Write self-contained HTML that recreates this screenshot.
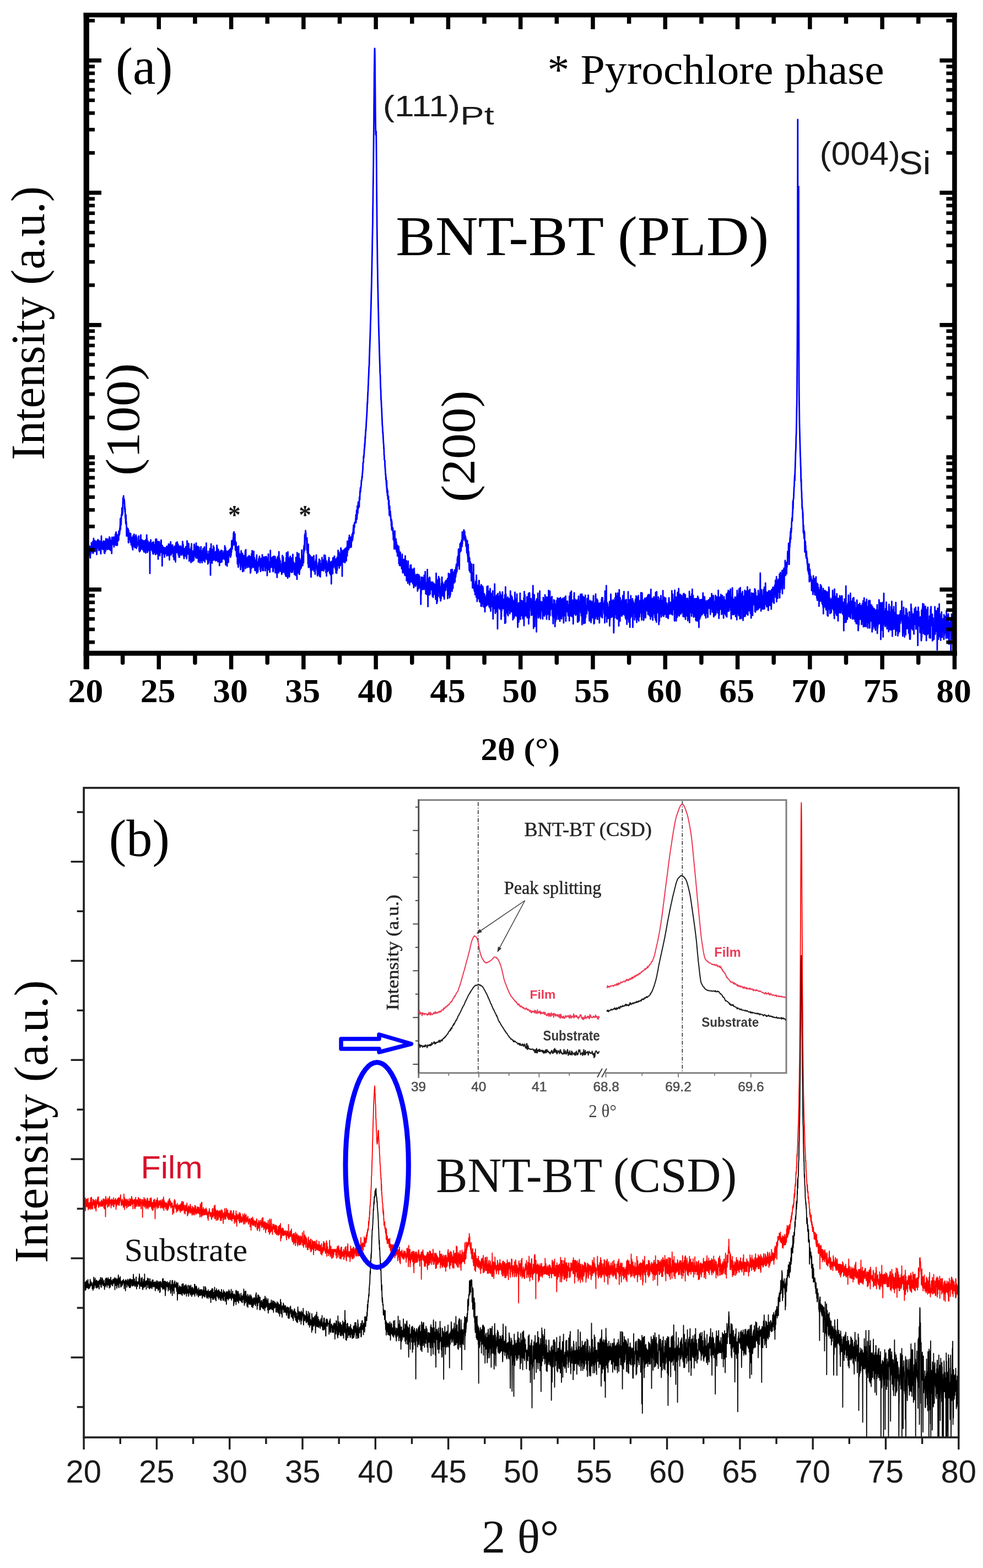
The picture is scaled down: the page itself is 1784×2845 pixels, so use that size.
<!DOCTYPE html>
<html><head><meta charset="utf-8"><title>XRD patterns of BNT-BT films</title>
<style>html,body{margin:0;padding:0;background:#fff;} svg{display:block;}</style></head>
<body><svg width="1784" height="2845" viewBox="0 0 1784 2845">
<rect x="0" y="0" width="1784" height="2845" fill="#fff"/>
<polyline points="157.0,994.3 157.3,992.0 157.5,996.4 157.8,1001.0 158.1,997.6 158.3,1001.7 158.6,993.6 158.8,983.8 159.1,997.7 159.4,998.7 159.6,990.2 159.9,991.2 160.2,993.0 160.4,1000.9 160.7,994.0 160.9,988.4 161.2,1003.9 161.5,997.1 161.7,1008.0 162.0,1003.3 162.3,1007.4 162.5,995.2 162.8,1003.0 163.0,991.3 163.3,992.1 163.6,994.7 163.8,1012.3 164.1,997.2 164.4,993.5 164.6,992.2 164.9,1004.6 165.1,996.6 165.4,1000.3 165.7,999.0 165.9,984.8 166.2,998.9 166.5,993.0 166.7,986.0 167.0,997.1 167.2,993.4 167.5,991.7 167.8,992.0 168.0,1001.7 168.3,991.8 168.6,982.1 168.8,1004.0 169.1,985.8 169.3,991.3 169.6,997.0 169.9,977.0 170.1,986.3 170.4,1001.1 170.7,991.4 170.9,987.6 171.2,993.3 171.4,986.7 171.7,992.3 172.0,986.7 172.2,980.9 172.5,996.7 172.8,990.1 173.0,995.0 173.3,990.5 173.5,1000.4 173.8,995.8 174.1,992.8 174.3,984.6 174.6,982.7 174.9,1001.2 175.1,997.1 175.4,986.3 175.6,1006.0 175.9,994.5 176.2,991.7 176.4,981.5 176.7,985.7 177.0,993.3 177.2,993.5 177.5,992.6 177.7,979.2 178.0,993.8 178.3,992.8 178.5,987.9 178.8,991.4 179.1,996.0 179.3,998.7 179.6,990.4 179.8,993.6 180.1,981.5 180.4,985.3 180.6,990.3 180.9,985.0 181.2,992.5 181.4,982.1 181.7,989.9 181.9,985.5 182.2,999.4 182.5,987.1 182.7,1002.2 183.0,1004.8 183.3,991.8 183.5,996.2 183.8,988.2 184.0,972.7 184.3,995.6 184.6,994.0 184.8,987.8 185.1,985.6 185.4,990.5 185.6,990.7 185.9,983.9 186.1,985.2 186.4,996.8 186.7,989.6 186.9,988.7 187.2,996.8 187.5,987.0 187.7,995.2 188.0,981.6 188.2,987.3 188.5,988.1 188.8,993.1 189.0,989.5 189.3,1003.4 189.6,996.9 189.8,985.8 190.1,1004.2 190.3,982.1 190.6,1001.3 190.9,982.7 191.1,994.5 191.4,982.4 191.7,987.2 191.9,999.5 192.2,978.8 192.4,977.3 192.7,988.4 193.0,989.9 193.2,989.0 193.5,995.0 193.8,979.6 194.0,991.7 194.3,988.0 194.5,993.4 194.8,992.1 195.1,996.8 195.3,978.1 195.6,988.4 195.9,980.1 196.1,987.0 196.4,992.2 196.6,989.4 196.9,991.0 197.2,986.8 197.4,989.5 197.7,988.9 198.0,996.7 198.2,992.5 198.5,974.3 198.7,991.3 199.0,994.0 199.3,983.7 199.5,975.8 199.8,996.7 200.1,987.5 200.3,990.5 200.6,998.6 200.8,980.3 201.1,985.7 201.4,984.9 201.6,990.8 201.9,981.9 202.2,989.0 202.4,986.0 202.7,1004.2 202.9,993.6 203.2,974.9 203.5,988.2 203.7,982.2 204.0,984.4 204.3,987.3 204.5,987.6 204.8,979.2 205.0,985.8 205.3,984.5 205.6,983.1 205.8,974.6 206.1,978.0 206.4,980.0 206.6,986.6 206.9,992.3 207.2,975.3 207.4,975.0 207.7,982.7 207.9,977.6 208.2,975.6 208.5,975.0 208.7,974.1 209.0,983.7 209.3,969.4 209.5,988.8 209.8,973.5 210.0,975.8 210.3,972.8 210.6,965.3 210.8,967.8 211.1,986.0 211.4,989.4 211.6,971.4 211.9,983.8 212.1,976.3 212.4,969.9 212.7,986.7 212.9,989.4 213.2,972.4 213.5,973.4 213.7,974.7 214.0,972.2 214.2,977.6 214.5,981.3 214.8,971.4 215.0,976.1 215.3,979.7 215.6,964.3 215.8,967.2 216.1,963.1 216.3,971.3 216.6,967.9 216.9,968.9 217.1,966.9 217.4,958.5 217.7,963.4 217.9,954.6 218.2,953.1 218.4,940.8 218.7,960.4 219.0,944.4 219.2,948.4 219.5,945.8 219.8,952.1 220.0,943.9 220.3,934.4 220.5,936.7 220.8,933.1 221.1,932.5 221.3,921.7 221.6,925.5 221.9,934.5 222.1,923.6 222.4,927.6 222.6,931.7 222.9,915.2 223.2,903.5 223.4,908.3 223.7,912.9 224.0,910.7 224.2,899.7 224.5,904.3 224.7,905.2 225.0,906.7 225.3,907.8 225.5,906.1 225.8,909.9 226.1,914.5 226.3,924.4 226.6,919.4 226.8,929.3 227.1,922.8 227.4,939.4 227.6,936.3 227.9,938.6 228.2,949.4 228.4,934.0 228.7,938.1 228.9,952.3 229.2,947.0 229.5,951.6 229.7,972.6 230.0,956.3 230.3,960.0 230.5,960.7 230.8,969.8 231.0,965.9 231.3,966.6 231.6,958.7 231.8,965.6 232.1,968.9 232.4,959.5 232.6,974.5 232.9,974.2 233.1,984.8 233.4,962.3 233.7,967.1 233.9,968.1 234.2,970.4 234.5,974.9 234.7,974.7 235.0,978.4 235.2,978.6 235.5,977.2 235.8,967.3 236.0,974.5 236.3,979.2 236.6,983.2 236.8,984.0 237.1,968.4 237.3,976.5 237.6,979.9 237.9,983.1 238.1,988.8 238.4,981.6 238.7,975.1 238.9,984.4 239.2,983.4 239.4,983.5 239.7,981.4 240.0,993.8 240.2,984.2 240.5,988.8 240.8,976.4 241.0,997.5 241.3,978.9 241.5,972.2 241.8,985.6 242.1,987.8 242.3,982.2 242.6,983.7 242.9,991.0 243.1,980.6 243.4,969.4 243.6,986.0 243.9,985.7 244.2,991.9 244.4,982.1 244.7,993.5 245.0,992.6 245.2,988.5 245.5,991.3 245.7,976.9 246.0,973.7 246.3,983.0 246.5,980.9 246.8,970.8 247.1,986.5 247.3,989.4 247.6,995.0 247.8,984.9 248.1,974.5 248.4,978.3 248.6,992.2 248.9,991.7 249.2,989.2 249.4,983.4 249.7,987.2 249.9,984.2 250.2,983.7 250.5,988.1 250.7,986.3 251.0,984.6 251.3,986.8 251.5,982.5 251.8,972.6 252.0,982.0 252.3,986.0 252.6,998.9 252.8,983.8 253.1,1001.0 253.4,997.1 253.6,980.5 253.9,981.7 254.1,988.1 254.4,999.6 254.7,989.8 254.9,992.1 255.2,982.5 255.5,970.6 255.7,985.7 256.0,993.2 256.3,996.1 256.5,987.9 256.8,988.9 257.0,996.2 257.3,986.9 257.6,996.3 257.8,979.6 258.1,980.0 258.4,979.9 258.6,991.5 258.9,984.3 259.1,989.1 259.4,991.1 259.7,990.8 259.9,997.9 260.2,999.1 260.5,982.5 260.7,989.9 261.0,986.9 261.2,981.1 261.5,1001.5 261.8,994.5 262.0,987.4 262.3,985.9 262.6,991.6 262.8,981.3 263.1,987.4 263.3,998.0 263.6,996.0 263.9,983.1 264.1,985.7 264.4,1003.3 264.7,979.2 264.9,984.9 265.2,979.4 265.4,992.3 265.7,991.7 266.0,997.9 266.2,970.7 266.5,990.9 266.8,977.8 267.0,994.5 267.3,988.5 267.5,1002.3 267.8,992.7 268.1,982.6 268.3,999.3 268.6,982.0 268.9,987.5 269.1,997.9 269.4,993.9 269.6,993.6 269.9,990.6 270.2,994.3 270.4,996.5 270.7,992.7 271.0,998.1 271.2,1000.1 271.5,990.9 271.7,984.0 272.0,1040.4 272.3,990.6 272.5,995.6 272.8,998.1 273.1,984.4 273.3,994.7 273.6,979.7 273.8,996.8 274.1,988.1 274.4,992.7 274.6,996.7 274.9,986.7 275.2,992.3 275.4,986.7 275.7,991.6 275.9,999.5 276.2,992.1 276.5,991.0 276.7,984.2 277.0,998.3 277.3,991.8 277.5,1004.5 277.8,986.7 278.0,999.8 278.3,1005.3 278.6,992.2 278.8,983.5 279.1,1003.3 279.4,1000.1 279.6,997.5 279.9,1000.5 280.1,989.2 280.4,998.2 280.7,997.6 280.9,987.8 281.2,997.9 281.5,989.0 281.7,999.6 282.0,1001.5 282.2,1006.2 282.5,978.4 282.8,994.9 283.0,990.7 283.3,992.8 283.6,991.4 283.8,992.3 284.1,978.2 284.3,1000.6 284.6,1004.6 284.9,1000.5 285.1,1003.0 285.4,987.2 285.7,986.7 285.9,1000.3 286.2,1003.6 286.4,995.8 286.7,982.6 287.0,1014.5 287.2,989.2 287.5,1001.4 287.8,985.4 288.0,1001.5 288.3,995.5 288.5,1004.8 288.8,1000.9 289.1,983.0 289.3,987.3 289.6,996.6 289.9,1000.2 290.1,1008.1 290.4,996.7 290.6,994.0 290.9,994.4 291.2,994.5 291.4,1002.4 291.7,994.4 292.0,994.3 292.2,984.2 292.5,979.8 292.7,995.1 293.0,1000.0 293.3,994.7 293.5,998.8 293.8,999.9 294.1,994.7 294.3,1026.8 294.6,989.8 294.8,995.2 295.1,992.6 295.4,995.9 295.6,1000.1 295.9,1001.8 296.2,996.4 296.4,998.9 296.7,992.9 296.9,994.8 297.2,1005.2 297.5,994.3 297.7,1005.1 298.0,999.6 298.3,997.2 298.5,1010.9 298.8,994.3 299.0,993.9 299.3,996.3 299.6,998.4 299.8,998.1 300.1,1002.7 300.4,997.4 300.6,999.6 300.9,994.7 301.1,1004.6 301.4,993.6 301.7,994.4 301.9,996.6 302.2,998.9 302.5,991.4 302.7,1008.4 303.0,992.2 303.2,993.9 303.5,993.6 303.8,992.9 304.0,1000.9 304.3,997.9 304.6,991.0 304.8,992.7 305.1,994.4 305.4,1007.7 305.6,992.0 305.9,987.2 306.1,988.4 306.4,994.4 306.7,1008.3 306.9,989.1 307.2,997.5 307.5,1015.9 307.7,993.5 308.0,1008.0 308.2,1006.5 308.5,1001.4 308.8,986.8 309.0,999.5 309.3,994.6 309.6,983.2 309.8,984.5 310.1,997.6 310.3,998.7 310.6,1006.6 310.9,1002.3 311.1,993.7 311.4,993.9 311.7,996.2 311.9,989.4 312.2,1003.1 312.4,997.6 312.7,991.5 313.0,992.7 313.2,989.0 313.5,994.3 313.8,999.8 314.0,994.6 314.3,1005.2 314.5,1010.2 314.8,993.0 315.1,998.0 315.3,995.2 315.6,1010.8 315.9,1015.4 316.1,1002.4 316.4,1004.5 316.6,1015.3 316.9,1000.4 317.2,990.9 317.4,995.0 317.7,1002.6 318.0,998.1 318.2,992.2 318.5,1019.5 318.7,999.1 319.0,993.9 319.3,992.9 319.5,985.0 319.8,989.5 320.1,995.9 320.3,996.0 320.6,992.3 320.8,1002.6 321.1,998.8 321.4,991.5 321.6,983.3 321.9,999.8 322.2,999.0 322.4,997.1 322.7,988.3 322.9,999.0 323.2,987.4 323.5,1006.4 323.7,1000.3 324.0,1000.5 324.3,992.8 324.5,990.9 324.8,1010.8 325.0,1006.2 325.3,996.5 325.6,1004.3 325.8,1011.1 326.1,991.1 326.4,995.4 326.6,995.5 326.9,1003.1 327.1,991.4 327.4,1001.3 327.7,990.9 327.9,1006.7 328.2,1006.2 328.5,998.0 328.7,1005.1 329.0,994.4 329.2,997.7 329.5,1007.0 329.8,999.2 330.0,1002.6 330.3,992.7 330.6,1004.9 330.8,1003.4 331.1,990.5 331.3,982.5 331.6,984.4 331.9,999.6 332.1,998.4 332.4,988.2 332.7,1001.2 332.9,1007.9 333.2,999.4 333.4,996.8 333.7,1006.9 334.0,1013.4 334.2,1011.8 334.5,995.3 334.8,1006.5 335.0,1001.7 335.3,999.0 335.5,995.8 335.8,1003.4 336.1,996.8 336.3,1007.8 336.6,1003.7 336.9,1008.9 337.1,992.0 337.4,1001.2 337.6,1006.8 337.9,1003.8 338.2,1002.8 338.4,996.6 338.7,1013.7 339.0,1009.4 339.2,1004.2 339.5,981.3 339.7,993.8 340.0,1002.2 340.3,995.8 340.5,985.2 340.8,1003.3 341.1,1004.4 341.3,992.0 341.6,997.7 341.8,996.3 342.1,1005.7 342.4,986.5 342.6,988.2 342.9,997.3 343.2,996.4 343.4,1017.9 343.7,996.8 343.9,1003.4 344.2,998.5 344.5,996.6 344.7,1004.7 345.0,1015.4 345.3,999.2 345.5,1008.0 345.8,1004.8 346.0,1007.0 346.3,1004.9 346.6,1020.6 346.8,992.7 347.1,1000.3 347.4,993.6 347.6,986.7 347.9,1002.3 348.1,1016.8 348.4,1009.6 348.7,1012.1 348.9,1006.6 349.2,1002.0 349.5,1018.6 349.7,1000.0 350.0,1014.7 350.2,1000.4 350.5,1003.7 350.8,1005.4 351.0,1003.5 351.3,1007.2 351.6,1007.8 351.8,1016.4 352.1,1003.3 352.3,988.4 352.6,987.4 352.9,992.6 353.1,997.6 353.4,1008.6 353.7,991.8 353.9,1003.7 354.2,1003.9 354.5,1005.7 354.7,1002.7 355.0,1006.9 355.2,1004.1 355.5,1012.2 355.8,1006.5 356.0,985.4 356.3,1004.2 356.6,1005.6 356.8,999.5 357.1,998.1 357.3,1012.7 357.6,1005.5 357.9,996.5 358.1,1001.7 358.4,1002.9 358.7,991.5 358.9,1009.4 359.2,1003.4 359.4,1008.2 359.7,992.2 360.0,1019.7 360.2,1009.5 360.5,1008.4 360.8,998.9 361.0,999.4 361.3,993.2 361.5,1016.9 361.8,998.4 362.1,1006.8 362.3,1009.8 362.6,1000.2 362.9,1011.9 363.1,1021.2 363.4,1007.6 363.6,1016.6 363.9,1009.9 364.2,1001.7 364.4,1002.2 364.7,992.1 365.0,1006.4 365.2,1017.1 365.5,1011.0 365.7,1012.3 366.0,1014.7 366.3,1001.5 366.5,1010.2 366.8,1020.9 367.1,999.5 367.3,1006.0 367.6,1002.3 367.8,1004.4 368.1,1000.2 368.4,1005.0 368.6,995.4 368.9,1001.9 369.2,1002.2 369.4,1002.1 369.7,1017.2 369.9,1006.8 370.2,1007.6 370.5,1003.9 370.7,1016.5 371.0,992.5 371.3,1004.8 371.5,1015.5 371.8,1019.5 372.0,1008.0 372.3,1006.5 372.6,1011.6 372.8,1005.1 373.1,1011.1 373.4,1001.5 373.6,1011.8 373.9,1006.3 374.1,998.2 374.4,985.3 374.7,1014.3 374.9,1009.9 375.2,1013.0 375.5,999.9 375.7,1015.5 376.0,1010.2 376.2,1006.6 376.5,1014.3 376.8,1014.1 377.0,1010.3 377.3,1023.4 377.6,1018.2 377.8,1009.9 378.1,1005.4 378.3,1008.1 378.6,1021.0 378.9,1010.4 379.1,1000.3 379.4,1002.2 379.7,1007.4 379.9,1014.0 380.2,1001.7 380.4,1011.6 380.7,1016.4 381.0,1013.4 381.2,995.2 381.5,1005.2 381.8,997.7 382.0,1043.5 382.3,999.5 382.5,1012.0 382.8,1008.5 383.1,987.0 383.3,1001.0 383.6,1011.3 383.9,1008.0 384.1,1004.7 384.4,997.5 384.6,1011.4 384.9,1021.6 385.2,1009.7 385.4,1007.4 385.7,1006.6 386.0,996.8 386.2,1005.0 386.5,1001.0 386.7,1016.6 387.0,1000.6 387.3,990.6 387.5,1001.4 387.8,1005.7 388.1,1006.5 388.3,993.3 388.6,1015.4 388.8,1008.7 389.1,1004.1 389.4,1001.8 389.6,1011.5 389.9,1005.5 390.2,1010.2 390.4,1007.0 390.7,1009.1 390.9,1017.4 391.2,1008.3 391.5,1001.0 391.7,1016.0 392.0,1010.1 392.3,1002.8 392.5,1016.9 392.8,1006.8 393.0,1016.9 393.3,999.0 393.6,989.5 393.8,991.9 394.1,1010.2 394.4,1002.4 394.6,1007.4 394.9,1007.6 395.1,995.8 395.4,1019.3 395.7,999.9 395.9,1008.9 396.2,997.1 396.5,1007.1 396.7,1014.1 397.0,1006.4 397.2,1002.6 397.5,1008.4 397.8,1004.7 398.0,1013.0 398.3,1026.2 398.6,1001.4 398.8,1003.1 399.1,1007.6 399.3,1008.3 399.6,1000.4 399.9,1012.6 400.1,1014.6 400.4,1010.4 400.7,999.2 400.9,1020.3 401.2,999.2 401.4,1014.2 401.7,1018.0 402.0,998.7 402.2,1009.8 402.5,1019.6 402.8,1012.0 403.0,1001.4 403.3,999.3 403.6,1012.5 403.8,1005.7 404.1,1003.2 404.3,1014.4 404.6,1006.2 404.9,1009.3 405.1,1013.5 405.4,1013.1 405.7,1008.5 405.9,1008.9 406.2,1013.7 406.4,1012.6 406.7,1000.0 407.0,1007.3 407.2,1001.8 407.5,999.2 407.8,1004.2 408.0,990.5 408.3,1015.8 408.5,1002.4 408.8,1011.6 409.1,993.8 409.3,995.1 409.6,1024.9 409.9,1016.8 410.1,1003.4 410.4,1002.4 410.6,1002.8 410.9,1009.3 411.2,1005.0 411.4,1003.3 411.7,1009.2 412.0,1000.2 412.2,1026.9 412.5,1003.2 412.7,1016.8 413.0,1000.4 413.3,1010.0 413.5,1015.3 413.8,1004.9 414.1,1015.2 414.3,1015.1 414.6,1020.3 414.8,1007.7 415.1,1003.3 415.4,998.9 415.6,1008.2 415.9,998.3 416.2,1006.5 416.4,1007.1 416.7,1001.5 416.9,997.3 417.2,1008.3 417.5,1007.1 417.7,1006.1 418.0,1003.7 418.3,1011.1 418.5,995.2 418.8,1005.9 419.0,998.4 419.3,1007.8 419.6,997.7 419.8,996.5 420.1,1001.8 420.4,981.7 420.6,993.2 420.9,981.0 421.1,985.7 421.4,996.1 421.7,992.0 421.9,983.7 422.2,984.1 422.5,981.7 422.7,981.5 423.0,989.4 423.2,975.6 423.5,986.8 423.8,966.9 424.0,972.6 424.3,971.5 424.6,967.8 424.8,965.0 425.1,977.6 425.3,981.6 425.6,979.3 425.9,988.7 426.1,984.1 426.4,968.8 426.7,990.6 426.9,980.8 427.2,998.2 427.4,988.2 427.7,995.0 428.0,994.9 428.2,991.9 428.5,984.2 428.8,997.8 429.0,999.7 429.3,1009.5 429.5,998.3 429.8,1005.9 430.1,998.2 430.3,1006.0 430.6,992.3 430.9,1023.2 431.1,1010.1 431.4,1001.1 431.6,1011.7 431.9,1015.8 432.2,1012.0 432.4,1029.0 432.7,1009.7 433.0,990.9 433.2,1001.9 433.5,1020.9 433.7,1019.3 434.0,1015.7 434.3,1004.2 434.5,1019.7 434.8,1018.9 435.1,1006.0 435.3,1006.4 435.6,1016.9 435.8,1023.4 436.1,1027.2 436.4,1020.3 436.6,1033.4 436.9,1008.5 437.2,1020.3 437.4,1011.1 437.7,999.5 437.9,1005.6 438.2,1025.3 438.5,1008.4 438.7,1006.1 439.0,1022.4 439.3,1024.3 439.5,1017.2 439.8,1030.0 440.0,1004.1 440.3,1037.1 440.6,1026.2 440.8,1019.2 441.1,1019.0 441.4,1015.8 441.6,1015.0 441.9,1019.2 442.1,1007.8 442.4,1035.9 442.7,1017.7 442.9,1024.0 443.2,1016.8 443.5,1016.2 443.7,1026.0 444.0,1023.7 444.2,1011.6 444.5,1015.5 444.8,1024.4 445.0,1001.2 445.3,999.0 445.6,1031.4 445.8,1016.4 446.1,997.5 446.3,1012.3 446.6,1017.2 446.9,1020.9 447.1,1023.8 447.4,1021.0 447.7,1024.0 447.9,1012.9 448.2,1022.7 448.4,1023.1 448.7,1029.7 449.0,1019.8 449.2,1027.1 449.5,1021.0 449.8,1010.5 450.0,1016.4 450.3,1015.2 450.5,1016.5 450.8,1019.1 451.1,1020.8 451.3,1022.4 451.6,1013.2 451.9,1029.1 452.1,1008.2 452.4,1019.5 452.7,1026.3 452.9,1024.1 453.2,1025.8 453.4,1018.6 453.7,1026.2 454.0,1010.2 454.2,1026.8 454.5,1039.7 454.8,1026.4 455.0,1037.4 455.3,1020.5 455.5,1011.0 455.8,1014.6 456.1,1031.8 456.3,1026.8 456.6,1004.9 456.9,1017.5 457.1,1020.3 457.4,1011.2 457.6,999.2 457.9,1009.2 458.2,1019.2 458.4,1017.4 458.7,1015.1 459.0,1025.8 459.2,1029.7 459.5,1020.1 459.7,1028.8 460.0,1021.1 460.3,1019.8 460.5,1000.4 460.8,1028.0 461.1,1021.7 461.3,1022.1 461.6,1017.0 461.8,1011.7 462.1,1025.0 462.4,1027.9 462.6,1035.0 462.9,1028.9 463.2,1016.2 463.4,1020.5 463.7,1029.7 463.9,1024.2 464.2,1020.7 464.5,1016.6 464.7,1026.2 465.0,1023.2 465.3,1036.8 465.5,1031.1 465.8,1007.1 466.0,1040.1 466.3,1024.1 466.6,1019.3 466.8,1024.4 467.1,1028.2 467.4,1021.8 467.6,1021.3 467.9,1022.0 468.1,1037.6 468.4,1022.6 468.7,1028.8 468.9,1026.1 469.2,1019.4 469.5,1015.8 469.7,1013.6 470.0,1025.8 470.2,1013.4 470.5,1011.3 470.8,1011.6 471.0,1009.5 471.3,1022.8 471.6,1023.1 471.8,1014.4 472.1,1033.5 472.3,1019.8 472.6,1026.3 472.9,1024.9 473.1,1036.8 473.4,1029.5 473.7,1021.9 473.9,1014.0 474.2,1013.2 474.4,1022.5 474.7,1023.5 475.0,1029.1 475.2,1018.3 475.5,1024.0 475.8,1016.6 476.0,1006.7 476.3,1022.2 476.5,1035.0 476.8,1029.5 477.1,1034.7 477.3,1032.4 477.6,1010.7 477.9,1020.1 478.1,1035.3 478.4,1016.4 478.6,1011.1 478.9,1025.3 479.2,1028.0 479.4,1025.1 479.7,1019.7 480.0,1016.6 480.2,1011.9 480.5,1011.7 480.7,1011.9 481.0,1010.4 481.3,1016.6 481.5,1035.7 481.8,1023.6 482.1,1019.7 482.3,1025.8 482.6,1014.6 482.8,1025.7 483.1,1030.7 483.4,1010.0 483.6,1016.8 483.9,1020.7 484.2,1014.6 484.4,1013.4 484.7,1019.8 484.9,1044.3 485.2,1028.7 485.5,1026.8 485.7,1031.5 486.0,1021.2 486.3,1012.5 486.5,1027.2 486.8,1032.9 487.0,1005.3 487.3,1027.0 487.6,1033.9 487.8,1021.0 488.1,1019.4 488.4,1029.4 488.6,1033.3 488.9,1027.5 489.1,1031.4 489.4,1021.7 489.7,1038.1 489.9,1028.9 490.2,1020.5 490.5,1024.3 490.7,998.7 491.0,1029.7 491.2,1011.4 491.5,1024.0 491.8,1024.7 492.0,1017.3 492.3,1015.8 492.6,1012.5 492.8,1020.8 493.1,1029.0 493.3,1028.5 493.6,1019.3 493.9,1018.7 494.1,1011.6 494.4,1020.2 494.7,1014.6 494.9,1010.6 495.2,1022.5 495.4,1037.1 495.7,1034.4 496.0,1036.7 496.2,1010.1 496.5,1031.6 496.8,1013.3 497.0,1019.0 497.3,1009.1 497.5,1015.4 497.8,1025.2 498.1,1026.0 498.3,1023.6 498.6,1022.8 498.9,1029.0 499.1,1024.7 499.4,1010.2 499.6,1039.4 499.9,1022.2 500.2,1032.5 500.4,1022.9 500.7,1017.2 501.0,1025.1 501.2,1017.8 501.5,1038.7 501.8,1014.9 502.0,1030.0 502.3,1019.2 502.5,1023.1 502.8,1047.6 503.1,1031.5 503.3,1022.9 503.6,1011.1 503.9,1022.3 504.1,1022.6 504.4,1037.4 504.6,1012.3 504.9,1009.0 505.2,1024.8 505.4,1027.0 505.7,1039.4 506.0,1017.3 506.2,1001.2 506.5,1018.8 506.7,1014.0 507.0,1020.4 507.3,1033.9 507.5,1013.4 507.8,1036.2 508.1,1027.2 508.3,1022.9 508.6,1017.5 508.8,1021.7 509.1,1022.0 509.4,1032.2 509.6,1036.9 509.9,1024.9 510.2,1031.8 510.4,1037.1 510.7,1036.8 510.9,1029.9 511.2,1042.0 511.5,1037.6 511.7,1040.1 512.0,1024.1 512.3,1022.1 512.5,1007.9 512.8,1039.0 513.0,1031.8 513.3,1017.7 513.6,1027.7 513.8,1028.7 514.1,1010.7 514.4,1028.9 514.6,1036.2 514.9,1037.6 515.1,1023.0 515.4,1023.3 515.7,1038.2 515.9,1034.8 516.2,1021.3 516.5,1020.9 516.7,1031.8 517.0,1020.6 517.2,1021.0 517.5,1042.0 517.8,1028.9 518.0,1022.5 518.3,1031.3 518.6,1045.2 518.8,1028.8 519.1,1019.6 519.3,1012.2 519.6,1045.8 519.9,1003.1 520.1,1036.4 520.4,1017.8 520.7,1015.4 520.9,1017.7 521.2,1025.1 521.4,1036.8 521.7,1020.9 522.0,1032.8 522.2,1048.9 522.5,1001.3 522.8,1020.2 523.0,1010.4 523.3,1034.7 523.5,1013.5 523.8,1012.4 524.1,1012.8 524.3,1026.8 524.6,1037.3 524.9,1028.2 525.1,1046.3 525.4,1041.8 525.6,1025.9 525.9,1035.5 526.2,1028.2 526.4,1027.7 526.7,1009.5 527.0,1015.2 527.2,1027.2 527.5,1016.0 527.7,1033.7 528.0,1029.8 528.3,1018.7 528.5,1037.9 528.8,1029.3 529.1,1038.6 529.3,1025.8 529.6,1012.3 529.8,1033.6 530.1,1024.8 530.4,1034.9 530.6,1037.1 530.9,1037.9 531.2,1013.9 531.4,1005.8 531.7,1022.5 531.9,1033.2 532.2,1020.6 532.5,1031.2 532.7,1019.7 533.0,1024.2 533.3,1024.3 533.5,1021.4 533.8,1032.0 534.0,1030.4 534.3,1042.1 534.6,1030.7 534.8,1039.4 535.1,1028.0 535.4,1035.3 535.6,1025.8 535.9,1022.7 536.1,1039.3 536.4,1033.9 536.7,1044.0 536.9,1020.0 537.2,1011.4 537.5,1019.0 537.7,1029.6 538.0,1024.7 538.2,1039.9 538.5,1013.1 538.8,1032.2 539.0,1051.1 539.3,1002.7 539.6,1012.2 539.8,1035.4 540.1,1024.7 540.3,1028.0 540.6,1025.1 540.9,1039.2 541.1,1032.0 541.4,1021.7 541.7,1023.8 541.9,1015.1 542.2,1024.9 542.4,1004.7 542.7,1031.7 543.0,1023.0 543.2,1042.1 543.5,1036.1 543.8,1013.2 544.0,1033.1 544.3,1020.0 544.5,1025.0 544.8,1033.5 545.1,1027.2 545.3,1028.4 545.6,1028.0 545.9,1016.9 546.1,1017.5 546.4,1028.0 546.6,1030.6 546.9,1019.8 547.2,1022.8 547.4,1012.6 547.7,998.1 548.0,1013.4 548.2,1020.5 548.5,1021.1 548.7,1026.3 549.0,1026.1 549.3,1026.1 549.5,1020.1 549.8,1019.4 550.1,1008.5 550.3,1016.9 550.6,1013.9 550.9,1020.9 551.1,995.7 551.4,1003.3 551.6,991.0 551.9,996.7 552.2,988.8 552.4,999.7 552.7,989.2 553.0,971.0 553.2,996.8 553.5,975.6 553.7,968.3 554.0,974.0 554.3,968.5 554.5,962.6 554.8,974.3 555.1,966.4 555.3,975.8 555.6,976.1 555.8,978.2 556.1,978.0 556.4,979.4 556.6,980.8 556.9,998.5 557.2,976.1 557.4,985.6 557.7,992.0 557.9,1003.4 558.2,1003.8 558.5,1000.9 558.7,1004.0 559.0,1023.3 559.3,1004.6 559.5,987.5 559.8,1029.4 560.0,1006.2 560.3,1012.6 560.6,1017.7 560.8,1005.6 561.1,1028.7 561.4,1017.6 561.6,1006.7 561.9,1022.0 562.1,1024.4 562.4,1020.2 562.7,1025.6 562.9,1008.2 563.2,1030.5 563.5,1014.9 563.7,1034.3 564.0,1017.3 564.2,1024.5 564.5,1047.1 564.8,1024.0 565.0,1033.8 565.3,1028.4 565.6,1010.6 565.8,1034.8 566.1,1034.5 566.3,1011.9 566.6,1024.1 566.9,1011.2 567.1,1022.4 567.4,1033.5 567.7,1026.2 567.9,1014.5 568.2,1017.2 568.4,1025.8 568.7,1025.5 569.0,1027.0 569.2,1031.3 569.5,1008.5 569.8,1026.1 570.0,1036.5 570.3,1030.6 570.5,1019.7 570.8,1020.5 571.1,1027.6 571.3,1032.5 571.6,1026.2 571.9,1041.8 572.1,1038.4 572.4,1019.2 572.6,1030.9 572.9,1023.1 573.2,1015.4 573.4,1020.6 573.7,1026.4 574.0,1007.1 574.2,1020.5 574.5,1029.9 574.7,1019.9 575.0,1022.9 575.3,1034.5 575.5,1026.0 575.8,1028.2 576.1,1044.7 576.3,1028.2 576.6,1029.2 576.8,1030.7 577.1,1041.7 577.4,1029.9 577.6,1027.0 577.9,1025.7 578.2,1037.0 578.4,1020.8 578.7,1037.7 578.9,1028.6 579.2,1014.6 579.5,1032.9 579.7,1045.0 580.0,1016.7 580.3,1030.1 580.5,1029.3 580.8,1024.5 581.0,1017.0 581.3,1046.7 581.6,1034.2 581.8,1035.8 582.1,1036.5 582.4,1034.4 582.6,1034.3 582.9,1023.9 583.1,1034.7 583.4,1025.5 583.7,1022.9 583.9,1033.3 584.2,1025.4 584.5,1011.7 584.7,1023.7 585.0,1032.4 585.2,1027.2 585.5,1034.9 585.8,1024.1 586.0,1018.7 586.3,1034.0 586.6,1028.4 586.8,1016.4 587.1,1031.0 587.3,1024.8 587.6,1035.8 587.9,1033.9 588.1,1031.1 588.4,1007.1 588.7,1030.0 588.9,1031.1 589.2,1031.3 589.4,1027.8 589.7,1020.5 590.0,1024.6 590.2,1008.0 590.5,1024.3 590.8,1013.3 591.0,1023.7 591.3,1020.7 591.5,1038.9 591.8,1027.2 592.1,1026.6 592.3,1028.1 592.6,1045.1 592.9,1018.1 593.1,1029.3 593.4,1029.7 593.6,1028.0 593.9,1027.8 594.2,1022.1 594.4,1036.9 594.7,1033.9 595.0,1023.0 595.2,1024.2 595.5,1028.8 595.7,1030.5 596.0,1032.7 596.3,1025.8 596.5,1014.8 596.8,1034.5 597.1,1011.7 597.3,1017.6 597.6,1029.0 597.8,1018.0 598.1,1037.8 598.4,1040.1 598.6,1036.1 598.9,1028.3 599.2,1027.5 599.4,1029.1 599.7,1023.6 599.9,1043.2 600.2,1019.9 600.5,1036.7 600.7,1029.9 601.0,1027.7 601.3,1059.3 601.5,1035.9 601.8,1032.6 602.1,1023.8 602.3,1018.4 602.6,1018.6 602.8,1032.1 603.1,1030.3 603.4,1031.3 603.6,1019.2 603.9,1040.9 604.2,1012.1 604.4,1027.1 604.7,1029.6 604.9,1019.6 605.2,1013.5 605.5,1019.4 605.7,1013.1 606.0,1021.0 606.3,1011.3 606.5,1011.1 606.8,1022.7 607.0,1009.2 607.3,1020.1 607.6,1020.7 607.8,1029.3 608.1,1023.6 608.4,1014.3 608.6,1032.2 608.9,1015.1 609.1,1017.6 609.4,1018.0 609.7,1039.3 609.9,1021.0 610.2,1014.4 610.5,1026.4 610.7,1018.9 611.0,1040.0 611.2,1013.6 611.5,1024.9 611.8,1011.5 612.0,1034.6 612.3,1012.7 612.6,1020.5 612.8,1011.4 613.1,1026.0 613.3,1023.2 613.6,998.6 613.9,1024.6 614.1,1023.3 614.4,1019.5 614.7,1025.6 614.9,1006.6 615.2,1001.9 615.4,1022.2 615.7,1030.7 616.0,1005.9 616.2,1006.2 616.5,1008.4 616.8,1005.4 617.0,1022.2 617.3,1016.1 617.5,1026.0 617.8,1026.1 618.1,1006.4 618.3,1019.3 618.6,994.3 618.9,1012.5 619.1,1018.2 619.4,1005.9 619.6,997.3 619.9,1008.0 620.2,1021.8 620.4,1008.4 620.7,999.8 621.0,1045.4 621.2,1016.9 621.5,1001.8 621.7,1008.7 622.0,1018.6 622.3,1012.4 622.5,1015.1 622.8,1006.2 623.1,1007.3 623.3,998.5 623.6,1001.8 623.8,1019.8 624.1,1003.5 624.4,999.2 624.6,1002.4 624.9,997.4 625.2,1009.7 625.4,1012.5 625.7,997.0 625.9,1012.6 626.2,1020.9 626.5,995.1 626.7,1008.6 627.0,1004.8 627.3,1013.0 627.5,1012.0 627.8,1010.2 628.0,1003.4 628.3,997.2 628.6,1017.6 628.8,993.3 629.1,1007.9 629.4,1006.5 629.6,992.4 629.9,997.7 630.1,1008.5 630.4,981.9 630.7,1002.1 630.9,993.1 631.2,992.9 631.5,983.1 631.7,996.7 632.0,985.0 632.2,997.7 632.5,983.0 632.8,996.6 633.0,992.9 633.3,975.5 633.6,986.6 633.8,987.5 634.1,971.1 634.3,984.3 634.6,992.3 634.9,980.2 635.1,993.5 635.4,976.0 635.7,974.7 635.9,986.8 636.2,986.4 636.4,979.9 636.7,980.3 637.0,986.6 637.2,974.8 637.5,992.4 637.8,980.2 638.0,979.2 638.3,977.4 638.5,972.5 638.8,982.3 639.1,968.9 639.3,973.2 639.6,975.5 639.9,979.5 640.1,977.2 640.4,965.9 640.6,973.8 640.9,965.9 641.2,958.3 641.4,957.5 641.7,953.0 642.0,964.2 642.2,968.2 642.5,953.5 642.7,957.0 643.0,950.7 643.3,956.7 643.5,948.1 643.8,949.1 644.1,948.8 644.3,948.9 644.6,948.4 644.8,948.2 645.1,947.0 645.4,941.1 645.6,948.9 645.9,934.1 646.2,948.0 646.4,936.0 646.7,941.0 646.9,940.5 647.2,925.8 647.5,938.0 647.7,942.0 648.0,937.3 648.3,933.5 648.5,918.1 648.8,927.5 649.0,921.9 649.3,931.0 649.6,921.9 649.8,918.6 650.1,910.9 650.4,922.5 650.6,913.9 650.9,913.7 651.2,918.8 651.4,911.8 651.7,911.2 651.9,919.7 652.2,903.1 652.5,901.5 652.7,904.4 653.0,906.7 653.3,891.1 653.5,894.9 653.8,889.2 654.0,885.3 654.3,892.2 654.6,883.9 654.8,886.4 655.1,883.4 655.4,881.2 655.6,878.5 655.9,871.3 656.1,873.1 656.4,871.9 656.7,869.9 656.9,864.8 657.2,867.3 657.5,863.0 657.7,858.6 658.0,857.9 658.2,853.4 658.5,852.4 658.8,839.7 659.0,839.4 659.3,839.8 659.6,838.7 659.8,827.6 660.1,831.2 660.3,829.5 660.6,825.0 660.9,821.7 661.1,814.8 661.4,816.1 661.7,805.9 661.9,811.9 662.2,803.4 662.4,805.0 662.7,792.9 663.0,795.5 663.2,790.8 663.5,784.2 663.8,779.3 664.0,781.8 664.3,775.6 664.5,774.1 664.8,765.8 665.1,762.0 665.3,758.2 665.6,754.4 665.9,749.0 666.1,745.1 666.4,737.6 666.6,730.2 666.9,732.6 667.2,723.6 667.4,718.9 667.7,711.6 668.0,708.9 668.2,701.7 668.5,697.5 668.7,688.4 669.0,683.4 669.3,677.6 669.5,670.3 669.8,664.8 670.1,662.5 670.3,649.8 670.6,643.2 670.8,636.5 671.1,627.4 671.4,619.4 671.6,614.3 671.9,605.6 672.2,594.4 672.4,585.8 672.7,579.0 672.9,569.9 673.2,559.6 673.5,549.3 673.7,539.6 674.0,527.3 674.3,516.9 674.5,504.8 674.8,490.9 675.0,478.9 675.3,464.8 675.6,450.1 675.8,434.9 676.1,419.5 676.4,402.5 676.6,385.0 676.9,365.0 677.1,345.3 677.4,324.3 677.7,300.9 677.9,276.2 678.2,250.1 678.5,222.2 678.7,193.5 679.0,164.5 679.2,136.2 679.5,111.8 679.8,94.4 680.0,88.0 680.3,95.7 680.6,117.5 680.8,146.8 681.1,177.7 681.3,206.5 681.6,229.8 681.9,243.2 682.1,244.8 682.4,238.6 682.7,238.4 682.9,255.4 683.2,285.9 683.4,321.5 683.7,355.2 684.0,385.6 684.2,411.8 684.5,434.5 684.8,456.7 685.0,474.7 685.3,491.5 685.5,508.2 685.8,522.5 686.1,537.5 686.3,548.4 686.6,560.8 686.9,573.3 687.1,586.5 687.4,596.4 687.6,604.2 687.9,613.0 688.2,624.1 688.4,631.7 688.7,642.9 689.0,650.7 689.2,658.5 689.5,665.7 689.7,676.4 690.0,679.7 690.3,686.1 690.5,697.4 690.8,704.6 691.1,707.9 691.3,716.2 691.6,726.0 691.8,725.4 692.1,732.6 692.4,739.8 692.6,739.4 692.9,749.4 693.2,756.9 693.4,760.0 693.7,768.0 693.9,772.3 694.2,774.1 694.5,781.4 694.7,785.8 695.0,784.4 695.3,791.1 695.5,795.5 695.8,800.6 696.0,804.9 696.3,805.9 696.6,814.5 696.8,812.3 697.1,825.5 697.4,826.9 697.6,834.5 697.9,834.6 698.1,835.1 698.4,835.2 698.7,846.4 698.9,847.3 699.2,852.0 699.5,856.7 699.7,861.7 700.0,859.9 700.3,870.3 700.5,865.8 700.8,869.2 701.0,875.0 701.3,879.4 701.6,883.9 701.8,872.3 702.1,889.3 702.4,893.7 702.6,885.9 702.9,892.9 703.1,899.2 703.4,891.3 703.7,890.4 703.9,905.7 704.2,905.0 704.5,900.6 704.7,906.4 705.0,900.2 705.2,915.5 705.5,911.9 705.8,923.5 706.0,907.9 706.3,925.0 706.6,935.1 706.8,925.8 707.1,927.9 707.3,918.4 707.6,932.9 707.9,932.9 708.1,931.3 708.4,927.4 708.7,938.7 708.9,934.0 709.2,938.8 709.4,945.3 709.7,944.8 710.0,946.7 710.2,954.2 710.5,942.7 710.8,960.4 711.0,946.0 711.3,948.8 711.5,956.9 711.8,962.7 712.1,960.8 712.3,957.7 712.6,957.3 712.9,961.7 713.1,958.4 713.4,970.0 713.6,966.0 713.9,979.5 714.2,965.0 714.4,970.7 714.7,975.6 715.0,966.0 715.2,970.4 715.5,996.1 715.7,977.3 716.0,989.1 716.3,972.3 716.5,963.3 716.8,985.9 717.1,982.7 717.3,986.2 717.6,982.9 717.8,981.7 718.1,978.0 718.4,995.9 718.6,977.8 718.9,997.5 719.2,989.4 719.4,983.7 719.7,988.0 719.9,1001.5 720.2,1000.7 720.5,999.8 720.7,997.5 721.0,989.1 721.3,1008.9 721.5,996.1 721.8,995.8 722.0,997.0 722.3,998.5 722.6,991.0 722.8,1000.0 723.1,997.8 723.4,1000.9 723.6,991.7 723.9,1022.4 724.1,997.3 724.4,1010.6 724.7,1011.5 724.9,1017.9 725.2,1026.0 725.5,1014.5 725.7,1017.7 726.0,1008.6 726.2,1025.7 726.5,1002.0 726.8,1012.4 727.0,1019.6 727.3,1022.0 727.6,1023.3 727.8,1026.8 728.1,1022.5 728.3,1018.4 728.6,1020.5 728.9,1031.8 729.1,1022.5 729.4,1028.5 729.7,1020.0 729.9,1005.7 730.2,1017.0 730.4,1025.7 730.7,1037.8 731.0,1036.5 731.2,1039.5 731.5,1018.7 731.8,1032.4 732.0,1025.6 732.3,1032.2 732.5,1026.3 732.8,1015.1 733.1,1034.3 733.3,1031.7 733.6,1036.3 733.9,1021.6 734.1,1039.3 734.4,1040.7 734.6,1043.5 734.9,1044.1 735.2,1027.5 735.4,1008.7 735.7,1041.7 736.0,1024.3 736.2,1031.1 736.5,1044.0 736.7,1036.8 737.0,1036.8 737.3,1041.4 737.5,1017.5 737.8,1053.5 738.1,1032.6 738.3,1033.4 738.6,1053.4 738.8,1035.8 739.1,1029.3 739.4,1036.5 739.6,1034.4 739.9,1032.1 740.2,1058.2 740.4,1025.3 740.7,1018.1 740.9,1030.7 741.2,1030.7 741.5,1054.0 741.7,1042.1 742.0,1049.0 742.3,1047.2 742.5,1032.6 742.8,1049.9 743.0,1043.7 743.3,1061.1 743.6,1044.6 743.8,1042.5 744.1,1050.5 744.4,1050.9 744.6,1025.9 744.9,1056.2 745.1,1055.0 745.4,1052.9 745.7,1033.6 745.9,1025.1 746.2,1042.6 746.5,1053.1 746.7,1050.5 747.0,1036.2 747.2,1055.8 747.5,1032.8 747.8,1033.4 748.0,1046.9 748.3,1041.5 748.6,1040.7 748.8,1033.0 749.1,1059.0 749.4,1037.1 749.6,1052.7 749.9,1056.9 750.1,1048.5 750.4,1051.8 750.7,1059.7 750.9,1066.1 751.2,1059.7 751.5,1036.1 751.7,1031.2 752.0,1044.5 752.2,1039.3 752.5,1056.6 752.8,1052.4 753.0,1049.0 753.3,1062.9 753.6,1062.2 753.8,1051.4 754.1,1055.8 754.3,1063.5 754.6,1049.1 754.9,1055.8 755.1,1043.0 755.4,1053.6 755.7,1056.7 755.9,1052.6 756.2,1055.8 756.4,1061.0 756.7,1058.5 757.0,1047.0 757.2,1048.2 757.5,1041.8 757.8,1072.4 758.0,1059.3 758.3,1059.7 758.5,1053.8 758.8,1060.4 759.1,1061.2 759.3,1048.0 759.6,1054.4 759.9,1068.4 760.1,1042.8 760.4,1046.4 760.6,1062.7 760.9,1048.4 761.2,1064.7 761.4,1045.7 761.7,1059.7 762.0,1065.9 762.2,1061.6 762.5,1065.8 762.7,1056.0 763.0,1056.3 763.3,1057.9 763.5,1064.2 763.8,1096.5 764.1,1057.7 764.3,1078.5 764.6,1056.4 764.8,1047.3 765.1,1056.3 765.4,1063.4 765.6,1061.3 765.9,1061.0 766.2,1065.4 766.4,1065.9 766.7,1069.6 766.9,1047.6 767.2,1060.3 767.5,1050.3 767.7,1063.0 768.0,1059.8 768.3,1062.4 768.5,1055.9 768.8,1052.2 769.0,1058.5 769.3,1068.2 769.6,1069.4 769.8,1043.9 770.1,1064.4 770.4,1064.6 770.6,1046.2 770.9,1050.3 771.1,1056.2 771.4,1066.1 771.7,1037.2 771.9,1058.0 772.2,1056.4 772.5,1064.1 772.7,1077.4 773.0,1076.6 773.2,1058.3 773.5,1058.5 773.8,1065.3 774.0,1075.3 774.3,1078.2 774.6,1066.5 774.8,1078.6 775.1,1053.7 775.3,1051.1 775.6,1033.4 775.9,1054.2 776.1,1069.9 776.4,1072.9 776.7,1100.5 776.9,1070.1 777.2,1065.8 777.4,1053.7 777.7,1057.5 778.0,1057.9 778.2,1061.9 778.5,1057.2 778.8,1048.9 779.0,1075.8 779.3,1069.4 779.5,1079.4 779.8,1047.3 780.1,1050.8 780.3,1056.7 780.6,1077.7 780.9,1063.0 781.1,1067.5 781.4,1064.2 781.6,1067.1 781.9,1059.6 782.2,1069.4 782.4,1056.1 782.7,1062.7 783.0,1068.5 783.2,1066.6 783.5,1070.2 783.7,1056.8 784.0,1068.5 784.3,1062.5 784.5,1069.9 784.8,1081.7 785.1,1056.1 785.3,1077.2 785.6,1058.6 785.8,1061.4 786.1,1083.8 786.4,1076.2 786.6,1071.6 786.9,1075.0 787.2,1078.9 787.4,1058.3 787.7,1068.9 787.9,1062.2 788.2,1071.0 788.5,1063.2 788.7,1074.6 789.0,1066.8 789.3,1060.3 789.5,1066.2 789.8,1071.6 790.0,1078.5 790.3,1065.0 790.6,1087.3 790.8,1069.7 791.1,1075.2 791.4,1061.1 791.6,1040.2 791.9,1070.3 792.1,1063.4 792.4,1063.0 792.7,1094.9 792.9,1065.9 793.2,1074.9 793.5,1052.3 793.7,1091.7 794.0,1075.7 794.2,1069.7 794.5,1065.6 794.8,1073.4 795.0,1068.0 795.3,1082.1 795.6,1069.9 795.8,1059.1 796.1,1046.2 796.3,1059.8 796.6,1064.6 796.9,1054.7 797.1,1056.5 797.4,1049.5 797.7,1055.8 797.9,1068.8 798.2,1064.8 798.5,1085.0 798.7,1064.3 799.0,1065.4 799.2,1076.0 799.5,1090.3 799.8,1074.8 800.0,1089.5 800.3,1066.8 800.6,1067.4 800.8,1085.6 801.1,1060.0 801.3,1058.1 801.6,1066.4 801.9,1049.3 802.1,1047.1 802.4,1080.4 802.7,1056.1 802.9,1062.5 803.2,1062.7 803.4,1057.1 803.7,1074.9 804.0,1073.5 804.2,1076.0 804.5,1075.2 804.8,1068.0 805.0,1082.6 805.3,1078.1 805.5,1060.5 805.8,1067.5 806.1,1062.5 806.3,1086.9 806.6,1075.0 806.9,1072.4 807.1,1066.0 807.4,1072.6 807.6,1056.1 807.9,1066.7 808.2,1065.8 808.4,1065.7 808.7,1058.2 809.0,1070.7 809.2,1053.5 809.5,1060.5 809.7,1063.7 810.0,1064.8 810.3,1059.5 810.5,1054.1 810.8,1054.7 811.1,1060.7 811.3,1055.2 811.6,1063.1 811.8,1050.9 812.1,1064.3 812.4,1086.0 812.6,1049.5 812.9,1062.4 813.2,1075.8 813.4,1065.3 813.7,1072.3 813.9,1040.5 814.2,1057.2 814.5,1078.8 814.7,1056.3 815.0,1066.0 815.3,1041.3 815.5,1072.3 815.8,1084.6 816.0,1060.0 816.3,1064.1 816.6,1064.5 816.8,1082.2 817.1,1055.1 817.4,1041.8 817.6,1078.7 817.9,1046.4 818.1,1064.1 818.4,1033.6 818.7,1053.0 818.9,1059.1 819.2,1045.4 819.5,1050.9 819.7,1062.0 820.0,1048.2 820.2,1060.3 820.5,1072.8 820.8,1033.5 821.0,1057.3 821.3,1059.4 821.6,1049.3 821.8,1067.9 822.1,1065.3 822.3,1056.2 822.6,1055.8 822.9,1049.3 823.1,1038.3 823.4,1053.5 823.7,1043.4 823.9,1041.7 824.2,1057.6 824.4,1044.0 824.7,1054.8 825.0,1034.5 825.2,1039.7 825.5,1043.2 825.8,1055.5 826.0,1040.7 826.3,1048.3 826.5,1033.5 826.8,1040.5 827.1,1046.1 827.3,1028.9 827.6,1029.9 827.9,1041.2 828.1,1023.9 828.4,1036.4 828.6,1035.5 828.9,1030.5 829.2,1037.4 829.4,1033.4 829.7,1029.7 830.0,1013.5 830.2,1012.6 830.5,1027.0 830.7,1009.4 831.0,1022.6 831.3,1017.6 831.5,1012.0 831.8,1015.8 832.1,996.4 832.3,1013.4 832.6,1024.1 832.8,1001.7 833.1,1014.5 833.4,1012.1 833.6,1032.5 833.9,998.5 834.2,998.5 834.4,997.1 834.7,994.2 834.9,987.0 835.2,999.1 835.5,989.8 835.7,1001.2 836.0,996.6 836.3,984.3 836.5,987.8 836.8,999.0 837.0,984.9 837.3,987.4 837.6,990.5 837.8,979.9 838.1,984.5 838.4,991.4 838.6,991.2 838.9,965.2 839.1,987.0 839.4,973.7 839.7,970.0 839.9,968.9 840.2,980.8 840.5,973.8 840.7,969.9 841.0,964.8 841.2,974.2 841.5,977.3 841.8,962.4 842.0,961.5 842.3,966.5 842.6,973.2 842.8,966.5 843.1,969.0 843.3,964.6 843.6,979.5 843.9,971.0 844.1,973.9 844.4,981.6 844.7,973.6 844.9,976.2 845.2,980.8 845.4,976.6 845.7,991.2 846.0,983.1 846.2,981.3 846.5,984.1 846.8,980.1 847.0,998.9 847.3,1003.2 847.6,991.9 847.8,992.2 848.1,981.2 848.3,994.7 848.6,1008.4 848.9,997.0 849.1,1012.1 849.4,1019.3 849.7,987.8 849.9,1008.3 850.2,1006.9 850.4,1009.9 850.7,1001.0 851.0,1015.7 851.2,1009.3 851.5,1030.4 851.8,1035.3 852.0,1012.2 852.3,1013.2 852.5,1023.3 852.8,1027.3 853.1,1029.3 853.3,1038.5 853.6,1019.5 853.9,1028.9 854.1,1031.6 854.4,1034.1 854.6,1029.0 854.9,1035.3 855.2,1034.2 855.4,1053.7 855.7,1038.6 856.0,1023.4 856.2,1050.8 856.5,1048.0 856.7,1039.0 857.0,1039.3 857.3,1043.5 857.5,1066.8 857.8,1046.6 858.1,1064.4 858.3,1061.7 858.6,1048.6 858.8,1058.0 859.1,1047.5 859.4,1024.2 859.6,1049.3 859.9,1050.6 860.2,1068.1 860.4,1066.2 860.7,1071.3 860.9,1066.4 861.2,1072.9 861.5,1069.0 861.7,1064.9 862.0,1073.9 862.3,1079.0 862.5,1079.0 862.8,1060.1 863.0,1064.9 863.3,1055.0 863.6,1055.3 863.8,1070.8 864.1,1060.3 864.4,1083.7 864.6,1043.7 864.9,1056.0 865.1,1071.8 865.4,1082.6 865.7,1066.1 865.9,1091.3 866.2,1079.7 866.5,1063.3 866.7,1071.1 867.0,1077.8 867.2,1062.1 867.5,1084.6 867.8,1070.2 868.0,1079.3 868.3,1083.6 868.6,1069.3 868.8,1085.9 869.1,1053.7 869.3,1082.0 869.6,1053.3 869.9,1088.4 870.1,1069.5 870.4,1090.2 870.7,1092.1 870.9,1075.4 871.2,1069.8 871.4,1092.3 871.7,1064.5 872.0,1087.4 872.2,1077.0 872.5,1074.5 872.8,1072.2 873.0,1099.9 873.3,1061.0 873.5,1073.3 873.8,1084.9 874.1,1092.0 874.3,1100.0 874.6,1096.4 874.9,1074.6 875.1,1085.1 875.4,1094.4 875.6,1087.6 875.9,1063.6 876.2,1085.8 876.4,1088.9 876.7,1066.6 877.0,1077.1 877.2,1082.2 877.5,1090.0 877.7,1101.2 878.0,1096.9 878.3,1089.1 878.5,1086.2 878.8,1079.6 879.1,1077.5 879.3,1081.5 879.6,1081.7 879.8,1096.3 880.1,1110.0 880.4,1090.9 880.6,1096.2 880.9,1092.8 881.2,1088.5 881.4,1100.1 881.7,1098.7 881.9,1086.9 882.2,1084.5 882.5,1093.7 882.7,1080.2 883.0,1088.9 883.3,1098.5 883.5,1086.1 883.8,1064.3 884.0,1094.8 884.3,1073.1 884.6,1070.7 884.8,1069.4 885.1,1097.1 885.4,1063.4 885.6,1086.2 885.9,1090.7 886.1,1090.6 886.4,1080.8 886.7,1087.5 886.9,1090.3 887.2,1073.0 887.5,1097.1 887.7,1101.0 888.0,1079.2 888.2,1080.3 888.5,1075.8 888.8,1101.9 889.0,1076.1 889.3,1083.4 889.6,1068.1 889.8,1104.5 890.1,1086.9 890.3,1093.0 890.6,1108.9 890.9,1098.5 891.1,1076.4 891.4,1095.7 891.7,1098.9 891.9,1079.8 892.2,1078.4 892.4,1078.5 892.7,1100.1 893.0,1091.4 893.2,1078.3 893.5,1098.8 893.8,1100.0 894.0,1081.0 894.3,1072.2 894.5,1105.2 894.8,1122.9 895.1,1109.0 895.3,1103.8 895.6,1093.3 895.9,1084.2 896.1,1093.5 896.4,1100.4 896.7,1090.1 896.9,1103.7 897.2,1092.7 897.4,1100.0 897.7,1059.6 898.0,1082.4 898.2,1102.6 898.5,1104.7 898.8,1098.0 899.0,1112.8 899.3,1101.7 899.5,1101.9 899.8,1082.1 900.1,1098.3 900.3,1102.8 900.6,1109.6 900.9,1107.7 901.1,1094.2 901.4,1096.1 901.6,1079.6 901.9,1101.3 902.2,1080.7 902.4,1090.6 902.7,1093.9 903.0,1141.1 903.2,1109.8 903.5,1084.9 903.7,1076.9 904.0,1091.6 904.3,1084.9 904.5,1099.4 904.8,1099.0 905.1,1102.7 905.3,1082.5 905.6,1090.4 905.8,1097.6 906.1,1098.8 906.4,1087.9 906.6,1090.9 906.9,1105.2 907.2,1073.8 907.4,1091.9 907.7,1095.0 907.9,1076.9 908.2,1082.6 908.5,1096.4 908.7,1088.7 909.0,1108.7 909.3,1103.4 909.5,1123.6 909.8,1080.5 910.0,1119.2 910.3,1087.3 910.6,1106.1 910.8,1108.0 911.1,1098.3 911.4,1092.7 911.6,1088.4 911.9,1074.1 912.1,1091.7 912.4,1085.3 912.7,1103.7 912.9,1087.5 913.2,1094.5 913.5,1102.2 913.7,1097.7 914.0,1097.3 914.2,1094.2 914.5,1091.7 914.8,1103.1 915.0,1106.0 915.3,1087.5 915.6,1118.1 915.8,1104.7 916.1,1079.5 916.3,1130.9 916.6,1105.8 916.9,1088.6 917.1,1117.8 917.4,1064.8 917.7,1129.7 917.9,1079.4 918.2,1078.0 918.4,1086.0 918.7,1100.3 919.0,1093.1 919.2,1108.9 919.5,1087.6 919.8,1111.8 920.0,1101.2 920.3,1085.4 920.5,1111.9 920.8,1102.5 921.1,1096.0 921.3,1114.9 921.6,1083.5 921.9,1093.9 922.1,1117.2 922.4,1098.9 922.6,1108.1 922.9,1106.6 923.2,1097.5 923.4,1107.4 923.7,1086.4 924.0,1107.4 924.2,1086.3 924.5,1099.2 924.7,1088.0 925.0,1105.6 925.3,1105.2 925.5,1113.4 925.8,1091.6 926.1,1087.2 926.3,1072.3 926.6,1082.8 926.8,1096.0 927.1,1101.8 927.4,1094.3 927.6,1099.6 927.9,1080.8 928.2,1087.4 928.4,1110.0 928.7,1108.1 928.9,1082.2 929.2,1095.7 929.5,1102.5 929.7,1084.7 930.0,1104.6 930.3,1103.3 930.5,1105.6 930.8,1124.6 931.0,1088.9 931.3,1115.2 931.6,1107.2 931.8,1109.4 932.1,1090.9 932.4,1101.0 932.6,1100.0 932.9,1121.5 933.1,1101.4 933.4,1119.0 933.7,1096.4 933.9,1095.7 934.2,1100.7 934.5,1074.6 934.7,1093.8 935.0,1093.0 935.2,1098.8 935.5,1103.1 935.8,1088.4 936.0,1086.8 936.3,1117.3 936.6,1087.4 936.8,1094.4 937.1,1088.7 937.3,1095.0 937.6,1116.8 937.9,1116.0 938.1,1077.9 938.4,1097.9 938.7,1119.2 938.9,1096.8 939.2,1105.9 939.4,1124.8 939.7,1138.0 940.0,1121.8 940.2,1098.0 940.5,1102.1 940.8,1104.7 941.0,1098.0 941.3,1094.0 941.5,1128.5 941.8,1105.6 942.1,1112.3 942.3,1117.6 942.6,1108.8 942.9,1103.5 943.1,1105.3 943.4,1120.6 943.6,1108.2 943.9,1076.3 944.2,1115.6 944.4,1123.7 944.7,1098.7 945.0,1094.6 945.2,1096.3 945.5,1116.6 945.8,1089.5 946.0,1112.3 946.3,1116.8 946.5,1110.1 946.8,1103.7 947.1,1093.2 947.3,1094.4 947.6,1102.7 947.9,1090.5 948.1,1101.4 948.4,1091.0 948.6,1120.5 948.9,1122.7 949.2,1092.6 949.4,1120.4 949.7,1106.4 950.0,1103.8 950.2,1108.9 950.5,1108.4 950.7,1084.8 951.0,1135.1 951.3,1091.3 951.5,1073.3 951.8,1102.4 952.1,1103.0 952.3,1093.4 952.6,1079.3 952.8,1118.0 953.1,1101.7 953.4,1105.2 953.6,1095.7 953.9,1100.8 954.2,1094.4 954.4,1108.3 954.7,1102.3 954.9,1111.5 955.2,1115.8 955.5,1104.8 955.7,1104.8 956.0,1118.1 956.3,1082.8 956.5,1104.8 956.8,1120.8 957.0,1088.9 957.3,1112.7 957.6,1096.6 957.8,1103.3 958.1,1099.9 958.4,1101.0 958.6,1110.6 958.9,1102.7 959.1,1077.1 959.4,1132.0 959.7,1102.4 959.9,1097.7 960.2,1116.8 960.5,1120.9 960.7,1075.5 961.0,1108.1 961.2,1076.6 961.5,1096.5 961.8,1102.4 962.0,1097.3 962.3,1095.2 962.6,1088.2 962.8,1097.8 963.1,1101.6 963.3,1101.2 963.6,1086.1 963.9,1093.0 964.1,1116.4 964.4,1111.7 964.7,1099.3 964.9,1111.6 965.2,1108.4 965.4,1115.9 965.7,1107.0 966.0,1098.2 966.2,1090.8 966.5,1103.5 966.8,1076.9 967.0,1104.7 967.3,1062.6 967.5,1090.8 967.8,1097.3 968.1,1110.2 968.3,1140.2 968.6,1105.8 968.9,1101.5 969.1,1079.0 969.4,1121.6 969.6,1079.3 969.9,1107.1 970.2,1094.5 970.4,1136.7 970.7,1102.1 971.0,1108.4 971.2,1099.2 971.5,1102.8 971.7,1118.7 972.0,1091.8 972.3,1095.0 972.5,1096.3 972.8,1091.0 973.1,1089.8 973.3,1104.4 973.6,1146.4 973.8,1122.0 974.1,1086.7 974.4,1095.0 974.6,1102.8 974.9,1109.8 975.2,1103.8 975.4,1103.9 975.7,1108.6 975.9,1113.3 976.2,1076.3 976.5,1101.3 976.7,1112.1 977.0,1121.1 977.3,1113.7 977.5,1095.0 977.8,1094.5 978.0,1107.2 978.3,1103.7 978.6,1108.3 978.8,1118.7 979.1,1087.6 979.4,1099.6 979.6,1072.4 979.9,1114.2 980.1,1106.2 980.4,1093.1 980.7,1107.7 980.9,1122.5 981.2,1116.8 981.5,1103.2 981.7,1100.1 982.0,1105.8 982.2,1091.6 982.5,1091.7 982.8,1100.4 983.0,1104.3 983.3,1107.9 983.6,1097.5 983.8,1092.8 984.1,1103.9 984.3,1098.9 984.6,1108.9 984.9,1123.0 985.1,1117.7 985.4,1094.8 985.7,1099.0 985.9,1084.2 986.2,1104.1 986.4,1093.6 986.7,1087.7 987.0,1091.9 987.2,1112.7 987.5,1107.3 987.8,1103.2 988.0,1117.7 988.3,1098.8 988.5,1091.6 988.8,1111.2 989.1,1079.4 989.3,1108.7 989.6,1107.6 989.9,1108.1 990.1,1114.2 990.4,1099.6 990.6,1104.8 990.9,1083.5 991.2,1097.2 991.4,1098.1 991.7,1108.0 992.0,1123.4 992.2,1106.3 992.5,1116.2 992.7,1092.8 993.0,1105.5 993.3,1083.5 993.5,1095.6 993.8,1094.3 994.1,1102.2 994.3,1102.5 994.6,1096.8 994.9,1093.3 995.1,1114.5 995.4,1098.9 995.6,1071.3 995.9,1106.5 996.2,1108.6 996.4,1114.3 996.7,1124.2 997.0,1089.9 997.2,1104.6 997.5,1101.5 997.7,1081.4 998.0,1072.7 998.3,1116.9 998.5,1091.6 998.8,1097.2 999.1,1100.1 999.3,1099.0 999.6,1105.5 999.8,1084.6 1000.1,1097.2 1000.4,1100.7 1000.6,1089.0 1000.9,1093.5 1001.2,1099.2 1001.4,1100.9 1001.7,1082.4 1001.9,1098.5 1002.2,1106.3 1002.5,1116.2 1002.7,1109.6 1003.0,1118.7 1003.3,1103.7 1003.5,1101.7 1003.8,1131.6 1004.0,1104.8 1004.3,1096.6 1004.6,1102.8 1004.8,1117.4 1005.1,1088.5 1005.4,1114.0 1005.6,1120.9 1005.9,1119.0 1006.1,1105.1 1006.4,1092.2 1006.7,1089.8 1006.9,1102.2 1007.2,1136.8 1007.5,1113.4 1007.7,1116.5 1008.0,1107.2 1008.2,1127.8 1008.5,1103.4 1008.8,1096.5 1009.0,1106.8 1009.3,1098.9 1009.6,1117.0 1009.8,1123.6 1010.1,1113.0 1010.3,1089.8 1010.6,1091.4 1010.9,1110.7 1011.1,1089.1 1011.4,1108.9 1011.7,1085.1 1011.9,1098.5 1012.2,1110.5 1012.4,1094.4 1012.7,1114.7 1013.0,1116.8 1013.2,1123.4 1013.5,1101.3 1013.8,1105.3 1014.0,1105.6 1014.3,1109.9 1014.5,1086.0 1014.8,1110.1 1015.1,1113.9 1015.3,1088.4 1015.6,1086.2 1015.9,1100.1 1016.1,1127.0 1016.4,1112.3 1016.6,1096.6 1016.9,1104.2 1017.2,1084.4 1017.4,1122.1 1017.7,1095.7 1018.0,1112.5 1018.2,1087.3 1018.5,1105.4 1018.7,1091.1 1019.0,1112.7 1019.3,1122.6 1019.5,1118.7 1019.8,1112.2 1020.1,1117.6 1020.3,1088.8 1020.6,1087.0 1020.8,1100.8 1021.1,1117.6 1021.4,1105.8 1021.6,1113.1 1021.9,1085.5 1022.2,1100.1 1022.4,1097.9 1022.7,1109.4 1022.9,1130.2 1023.2,1114.1 1023.5,1118.6 1023.7,1099.4 1024.0,1102.9 1024.3,1114.5 1024.5,1109.1 1024.8,1083.9 1025.0,1116.5 1025.3,1115.9 1025.6,1107.0 1025.8,1113.1 1026.1,1109.6 1026.4,1097.2 1026.6,1081.7 1026.9,1127.0 1027.1,1104.2 1027.4,1103.4 1027.7,1105.0 1027.9,1106.4 1028.2,1108.3 1028.5,1091.0 1028.7,1109.9 1029.0,1105.5 1029.2,1103.9 1029.5,1102.5 1029.8,1106.1 1030.0,1091.0 1030.3,1103.9 1030.6,1101.6 1030.8,1104.5 1031.1,1116.7 1031.3,1114.5 1031.6,1117.3 1031.9,1101.3 1032.1,1112.9 1032.4,1117.4 1032.7,1100.6 1032.9,1096.9 1033.2,1126.4 1033.4,1081.9 1033.7,1103.3 1034.0,1105.0 1034.2,1089.9 1034.5,1102.7 1034.8,1111.4 1035.0,1075.3 1035.3,1117.4 1035.5,1104.8 1035.8,1092.7 1036.1,1117.3 1036.3,1104.8 1036.6,1098.5 1036.9,1072.6 1037.1,1115.0 1037.4,1104.1 1037.6,1095.0 1037.9,1102.4 1038.2,1118.9 1038.4,1098.2 1038.7,1102.0 1039.0,1097.7 1039.2,1088.8 1039.5,1090.3 1039.7,1098.1 1040.0,1099.4 1040.3,1132.0 1040.5,1105.1 1040.8,1100.5 1041.1,1108.5 1041.3,1102.0 1041.6,1113.9 1041.8,1083.5 1042.1,1075.6 1042.4,1108.2 1042.6,1098.1 1042.9,1106.2 1043.2,1087.0 1043.4,1097.6 1043.7,1102.2 1044.0,1106.0 1044.2,1101.5 1044.5,1116.0 1044.7,1094.4 1045.0,1112.3 1045.3,1096.2 1045.5,1101.4 1045.8,1089.0 1046.1,1103.3 1046.3,1089.9 1046.6,1114.9 1046.8,1095.2 1047.1,1105.9 1047.4,1100.5 1047.6,1102.0 1047.9,1090.9 1048.2,1128.9 1048.4,1098.8 1048.7,1122.1 1048.9,1087.4 1049.2,1128.2 1049.5,1115.8 1049.7,1124.3 1050.0,1081.8 1050.3,1119.4 1050.5,1101.4 1050.8,1109.7 1051.0,1126.0 1051.3,1107.2 1051.6,1094.4 1051.8,1105.2 1052.1,1090.8 1052.4,1107.5 1052.6,1102.8 1052.9,1107.8 1053.1,1098.5 1053.4,1078.5 1053.7,1098.2 1053.9,1100.4 1054.2,1110.8 1054.5,1112.6 1054.7,1084.1 1055.0,1117.2 1055.2,1114.6 1055.5,1104.1 1055.8,1108.4 1056.0,1077.8 1056.3,1133.3 1056.6,1098.3 1056.8,1093.7 1057.1,1117.3 1057.3,1111.2 1057.6,1097.3 1057.9,1082.0 1058.1,1114.7 1058.4,1123.2 1058.7,1090.4 1058.9,1083.3 1059.2,1107.2 1059.4,1131.3 1059.7,1084.3 1060.0,1105.5 1060.2,1088.5 1060.5,1103.5 1060.8,1107.7 1061.0,1108.7 1061.3,1084.0 1061.5,1084.5 1061.8,1130.4 1062.1,1114.9 1062.3,1080.1 1062.6,1107.6 1062.9,1120.4 1063.1,1102.9 1063.4,1104.3 1063.6,1104.2 1063.9,1109.1 1064.2,1106.9 1064.4,1108.8 1064.7,1098.6 1065.0,1113.4 1065.2,1106.6 1065.5,1104.8 1065.7,1086.2 1066.0,1098.1 1066.3,1104.3 1066.5,1096.1 1066.8,1097.7 1067.1,1089.0 1067.3,1096.4 1067.6,1079.9 1067.8,1085.7 1068.1,1103.5 1068.4,1108.3 1068.6,1091.6 1068.9,1096.3 1069.2,1104.2 1069.4,1121.9 1069.7,1126.5 1069.9,1098.5 1070.2,1093.1 1070.5,1092.6 1070.7,1119.5 1071.0,1089.6 1071.3,1109.8 1071.5,1098.0 1071.8,1097.6 1072.0,1113.3 1072.3,1110.5 1072.6,1129.6 1072.8,1114.7 1073.1,1126.1 1073.4,1097.3 1073.6,1102.2 1073.9,1091.2 1074.1,1098.4 1074.4,1111.1 1074.7,1098.5 1074.9,1108.0 1075.2,1120.9 1075.5,1098.9 1075.7,1115.7 1076.0,1102.9 1076.2,1102.3 1076.5,1106.9 1076.8,1091.5 1077.0,1081.0 1077.3,1107.7 1077.6,1107.5 1077.8,1131.8 1078.1,1104.6 1078.3,1108.6 1078.6,1130.7 1078.9,1099.3 1079.1,1095.4 1079.4,1112.4 1079.7,1107.8 1079.9,1115.4 1080.2,1093.2 1080.4,1122.5 1080.7,1107.0 1081.0,1077.9 1081.2,1102.3 1081.5,1097.0 1081.8,1104.9 1082.0,1118.1 1082.3,1103.4 1082.5,1097.8 1082.8,1116.1 1083.1,1098.6 1083.3,1087.0 1083.6,1089.3 1083.9,1123.3 1084.1,1115.5 1084.4,1123.7 1084.6,1089.2 1084.9,1095.2 1085.2,1094.0 1085.4,1114.3 1085.7,1118.0 1086.0,1102.0 1086.2,1101.7 1086.5,1114.0 1086.7,1101.2 1087.0,1094.7 1087.3,1100.1 1087.5,1116.3 1087.8,1130.1 1088.1,1106.3 1088.3,1100.9 1088.6,1106.3 1088.8,1108.5 1089.1,1111.9 1089.4,1093.8 1089.6,1103.7 1089.9,1101.4 1090.2,1115.5 1090.4,1111.0 1090.7,1100.9 1090.9,1115.9 1091.2,1119.2 1091.5,1107.2 1091.7,1087.6 1092.0,1100.6 1092.3,1084.3 1092.5,1104.7 1092.8,1107.0 1093.1,1120.9 1093.3,1110.4 1093.6,1084.6 1093.8,1098.8 1094.1,1093.6 1094.4,1094.0 1094.6,1103.1 1094.9,1105.6 1095.2,1101.5 1095.4,1094.4 1095.7,1097.1 1095.9,1096.7 1096.2,1101.0 1096.5,1112.9 1096.7,1106.4 1097.0,1115.1 1097.3,1090.1 1097.5,1130.0 1097.8,1105.8 1098.0,1072.4 1098.3,1107.4 1098.6,1117.6 1098.8,1103.3 1099.1,1086.5 1099.4,1105.1 1099.6,1095.1 1099.9,1101.7 1100.1,1107.8 1100.4,1062.6 1100.7,1102.1 1100.9,1109.9 1101.2,1128.7 1101.5,1098.1 1101.7,1097.8 1102.0,1093.1 1102.2,1101.2 1102.5,1121.4 1102.8,1096.2 1103.0,1107.0 1103.3,1106.7 1103.6,1122.1 1103.8,1110.4 1104.1,1112.4 1104.3,1103.5 1104.6,1121.7 1104.9,1102.4 1105.1,1101.4 1105.4,1117.4 1105.7,1111.1 1105.9,1114.0 1106.2,1091.4 1106.4,1135.5 1106.7,1107.4 1107.0,1124.4 1107.2,1108.6 1107.5,1092.2 1107.8,1111.1 1108.0,1101.3 1108.3,1113.9 1108.5,1078.1 1108.8,1091.3 1109.1,1088.6 1109.3,1120.1 1109.6,1117.2 1109.9,1089.2 1110.1,1105.5 1110.4,1106.4 1110.6,1098.8 1110.9,1119.2 1111.2,1093.1 1111.4,1102.8 1111.7,1096.9 1112.0,1111.7 1112.2,1096.4 1112.5,1112.1 1112.7,1090.8 1113.0,1088.5 1113.3,1091.3 1113.5,1096.4 1113.8,1148.2 1114.1,1137.8 1114.3,1092.3 1114.6,1106.6 1114.8,1101.8 1115.1,1106.7 1115.4,1120.9 1115.6,1110.0 1115.9,1094.6 1116.2,1084.8 1116.4,1111.0 1116.7,1114.7 1116.9,1084.4 1117.2,1114.4 1117.5,1076.4 1117.7,1102.4 1118.0,1114.4 1118.3,1090.4 1118.5,1081.3 1118.8,1121.5 1119.0,1083.0 1119.3,1106.7 1119.6,1084.0 1119.8,1107.9 1120.1,1123.3 1120.4,1096.6 1120.6,1091.1 1120.9,1076.1 1121.1,1080.9 1121.4,1094.1 1121.7,1106.1 1121.9,1109.7 1122.2,1106.8 1122.5,1113.7 1122.7,1106.6 1123.0,1135.7 1123.2,1100.7 1123.5,1103.4 1123.8,1070.1 1124.0,1093.3 1124.3,1109.2 1124.6,1095.8 1124.8,1118.8 1125.1,1110.8 1125.3,1127.0 1125.6,1084.6 1125.9,1095.4 1126.1,1118.1 1126.4,1103.8 1126.7,1090.8 1126.9,1096.7 1127.2,1098.1 1127.4,1114.1 1127.7,1111.2 1128.0,1101.8 1128.2,1091.2 1128.5,1113.7 1128.8,1117.5 1129.0,1088.4 1129.3,1115.0 1129.5,1089.2 1129.8,1099.9 1130.1,1091.7 1130.3,1080.6 1130.6,1094.2 1130.9,1093.1 1131.1,1114.8 1131.4,1112.0 1131.6,1094.8 1131.9,1083.3 1132.2,1085.2 1132.4,1073.3 1132.7,1099.1 1133.0,1100.4 1133.2,1090.1 1133.5,1102.8 1133.7,1103.8 1134.0,1116.5 1134.3,1090.3 1134.5,1116.8 1134.8,1096.5 1135.1,1121.3 1135.3,1089.0 1135.6,1116.3 1135.8,1092.2 1136.1,1123.5 1136.4,1108.7 1136.6,1087.9 1136.9,1113.4 1137.2,1102.2 1137.4,1109.2 1137.7,1132.7 1137.9,1099.1 1138.2,1097.5 1138.5,1117.3 1138.7,1095.7 1139.0,1113.3 1139.3,1115.9 1139.5,1103.0 1139.8,1111.8 1140.0,1073.6 1140.3,1123.0 1140.6,1093.6 1140.8,1090.3 1141.1,1128.5 1141.4,1125.3 1141.6,1095.8 1141.9,1109.2 1142.2,1098.1 1142.4,1088.4 1142.7,1107.8 1142.9,1116.7 1143.2,1138.1 1143.5,1100.4 1143.7,1115.0 1144.0,1099.0 1144.3,1100.1 1144.5,1120.8 1144.8,1080.9 1145.0,1089.1 1145.3,1092.1 1145.6,1118.3 1145.8,1108.3 1146.1,1110.1 1146.4,1108.4 1146.6,1117.5 1146.9,1097.5 1147.1,1100.1 1147.4,1098.3 1147.7,1109.5 1147.9,1086.5 1148.2,1100.6 1148.5,1138.2 1148.7,1111.3 1149.0,1103.8 1149.2,1090.6 1149.5,1106.9 1149.8,1106.2 1150.0,1111.5 1150.3,1094.5 1150.6,1108.8 1150.8,1110.8 1151.1,1112.6 1151.3,1095.9 1151.6,1109.9 1151.9,1124.6 1152.1,1095.0 1152.4,1112.0 1152.7,1098.4 1152.9,1098.2 1153.2,1087.6 1153.4,1089.6 1153.7,1110.4 1154.0,1105.2 1154.2,1119.6 1154.5,1081.5 1154.8,1097.4 1155.0,1085.1 1155.3,1107.1 1155.5,1129.3 1155.8,1083.3 1156.1,1101.8 1156.3,1101.3 1156.6,1102.3 1156.9,1094.7 1157.1,1096.1 1157.4,1123.4 1157.6,1089.0 1157.9,1109.7 1158.2,1108.9 1158.4,1080.7 1158.7,1091.1 1159.0,1107.2 1159.2,1126.7 1159.5,1100.8 1159.7,1096.0 1160.0,1103.9 1160.3,1118.9 1160.5,1113.0 1160.8,1119.0 1161.1,1100.1 1161.3,1092.3 1161.6,1089.7 1161.8,1112.2 1162.1,1099.8 1162.4,1095.7 1162.6,1109.3 1162.9,1104.7 1163.2,1075.5 1163.4,1100.1 1163.7,1091.4 1163.9,1108.3 1164.2,1102.2 1164.5,1124.7 1164.7,1103.0 1165.0,1087.4 1165.3,1075.8 1165.5,1087.4 1165.8,1093.9 1166.0,1102.0 1166.3,1110.4 1166.6,1104.7 1166.8,1094.8 1167.1,1112.7 1167.4,1090.7 1167.6,1115.3 1167.9,1125.4 1168.1,1115.6 1168.4,1124.0 1168.7,1120.2 1168.9,1088.1 1169.2,1105.2 1169.5,1099.8 1169.7,1087.7 1170.0,1086.4 1170.2,1109.0 1170.5,1085.5 1170.8,1097.6 1171.0,1102.5 1171.3,1096.9 1171.6,1120.8 1171.8,1112.6 1172.1,1103.9 1172.3,1094.7 1172.6,1107.3 1172.9,1104.1 1173.1,1090.1 1173.4,1084.4 1173.7,1092.6 1173.9,1086.2 1174.2,1107.6 1174.4,1106.4 1174.7,1098.3 1175.0,1106.3 1175.2,1108.9 1175.5,1081.2 1175.8,1105.0 1176.0,1114.8 1176.3,1096.1 1176.5,1078.9 1176.8,1101.3 1177.1,1086.6 1177.3,1107.9 1177.6,1108.6 1177.9,1111.2 1178.1,1104.2 1178.4,1078.8 1178.6,1117.1 1178.9,1081.3 1179.2,1115.2 1179.4,1105.3 1179.7,1091.6 1180.0,1094.2 1180.2,1098.6 1180.5,1123.3 1180.7,1097.6 1181.0,1115.3 1181.3,1069.3 1181.5,1104.9 1181.8,1099.8 1182.1,1116.9 1182.3,1108.3 1182.6,1118.7 1182.8,1089.6 1183.1,1105.5 1183.4,1095.0 1183.6,1110.9 1183.9,1108.5 1184.2,1085.7 1184.4,1114.5 1184.7,1125.1 1184.9,1096.9 1185.2,1116.7 1185.5,1107.7 1185.7,1090.4 1186.0,1112.5 1186.3,1090.8 1186.5,1110.8 1186.8,1083.0 1187.0,1085.1 1187.3,1108.1 1187.6,1104.7 1187.8,1112.6 1188.1,1099.4 1188.4,1087.3 1188.6,1120.5 1188.9,1090.3 1189.1,1118.9 1189.4,1112.9 1189.7,1124.8 1189.9,1075.0 1190.2,1101.2 1190.5,1098.8 1190.7,1110.6 1191.0,1088.3 1191.3,1128.8 1191.5,1101.6 1191.8,1073.7 1192.0,1106.8 1192.3,1101.6 1192.6,1093.3 1192.8,1112.2 1193.1,1101.5 1193.4,1089.6 1193.6,1099.3 1193.9,1097.1 1194.1,1106.3 1194.4,1097.8 1194.7,1101.1 1194.9,1083.2 1195.2,1092.5 1195.5,1104.9 1195.7,1133.0 1196.0,1092.6 1196.2,1092.1 1196.5,1113.4 1196.8,1127.2 1197.0,1116.3 1197.3,1089.9 1197.6,1115.3 1197.8,1107.6 1198.1,1098.9 1198.3,1086.0 1198.6,1101.9 1198.9,1102.9 1199.1,1108.6 1199.4,1080.8 1199.7,1088.0 1199.9,1102.8 1200.2,1119.4 1200.4,1111.7 1200.7,1094.2 1201.0,1110.8 1201.2,1090.2 1201.5,1097.0 1201.8,1097.8 1202.0,1093.2 1202.3,1095.2 1202.5,1112.4 1202.8,1105.7 1203.1,1071.7 1203.3,1116.9 1203.6,1107.5 1203.9,1087.9 1204.1,1103.5 1204.4,1111.8 1204.6,1118.3 1204.9,1094.6 1205.2,1088.4 1205.4,1083.6 1205.7,1100.7 1206.0,1088.1 1206.2,1114.6 1206.5,1099.3 1206.7,1110.0 1207.0,1099.2 1207.3,1091.8 1207.5,1087.7 1207.8,1114.0 1208.1,1085.2 1208.3,1107.4 1208.6,1114.4 1208.8,1103.5 1209.1,1119.9 1209.4,1101.2 1209.6,1097.6 1209.9,1103.8 1210.2,1094.4 1210.4,1105.3 1210.7,1101.2 1210.9,1119.6 1211.2,1100.7 1211.5,1112.1 1211.7,1107.0 1212.0,1102.4 1212.3,1098.8 1212.5,1122.2 1212.8,1121.1 1213.0,1105.0 1213.3,1095.1 1213.6,1096.6 1213.8,1089.8 1214.1,1084.6 1214.4,1094.8 1214.6,1101.4 1214.9,1114.2 1215.1,1113.1 1215.4,1107.0 1215.7,1097.7 1215.9,1098.3 1216.2,1101.0 1216.5,1103.0 1216.7,1093.0 1217.0,1098.4 1217.2,1097.2 1217.5,1097.1 1217.8,1108.0 1218.0,1114.1 1218.3,1094.8 1218.6,1095.7 1218.8,1103.8 1219.1,1106.3 1219.3,1072.0 1219.6,1110.6 1219.9,1103.7 1220.1,1097.6 1220.4,1115.6 1220.7,1099.4 1220.9,1078.1 1221.2,1089.0 1221.4,1092.9 1221.7,1093.3 1222.0,1099.4 1222.2,1088.7 1222.5,1102.8 1222.8,1106.2 1223.0,1099.5 1223.3,1089.3 1223.5,1096.6 1223.8,1092.2 1224.1,1126.5 1224.3,1085.6 1224.6,1071.0 1224.9,1083.8 1225.1,1104.8 1225.4,1111.5 1225.6,1097.2 1225.9,1113.3 1226.2,1091.5 1226.4,1107.4 1226.7,1088.5 1227.0,1083.4 1227.2,1126.5 1227.5,1097.0 1227.7,1109.5 1228.0,1118.6 1228.3,1108.5 1228.5,1103.4 1228.8,1087.5 1229.1,1119.9 1229.3,1087.3 1229.6,1075.0 1229.8,1093.0 1230.1,1093.7 1230.4,1100.7 1230.6,1115.5 1230.9,1093.8 1231.2,1095.7 1231.4,1091.2 1231.7,1067.9 1231.9,1091.3 1232.2,1095.1 1232.5,1080.7 1232.7,1117.6 1233.0,1115.0 1233.3,1105.2 1233.5,1108.8 1233.8,1091.6 1234.0,1104.5 1234.3,1078.4 1234.6,1081.1 1234.8,1090.6 1235.1,1105.3 1235.4,1092.6 1235.6,1090.1 1235.9,1113.9 1236.1,1095.9 1236.4,1091.4 1236.7,1097.6 1236.9,1080.4 1237.2,1084.9 1237.5,1110.8 1237.7,1098.7 1238.0,1110.9 1238.2,1092.9 1238.5,1111.3 1238.8,1088.6 1239.0,1095.3 1239.3,1087.9 1239.6,1102.1 1239.8,1118.7 1240.1,1077.8 1240.4,1102.4 1240.6,1082.8 1240.9,1094.7 1241.1,1091.6 1241.4,1077.0 1241.7,1095.8 1241.9,1082.4 1242.2,1118.9 1242.5,1089.1 1242.7,1103.2 1243.0,1101.8 1243.2,1100.0 1243.5,1095.7 1243.8,1079.1 1244.0,1123.5 1244.3,1099.5 1244.6,1109.1 1244.8,1085.3 1245.1,1105.4 1245.3,1094.2 1245.6,1105.0 1245.9,1091.5 1246.1,1087.1 1246.4,1105.0 1246.7,1099.3 1246.9,1117.9 1247.2,1096.1 1247.4,1089.1 1247.7,1107.0 1248.0,1085.7 1248.2,1126.1 1248.5,1123.3 1248.8,1117.5 1249.0,1106.0 1249.3,1099.6 1249.5,1100.9 1249.8,1100.7 1250.1,1090.7 1250.3,1105.8 1250.6,1115.8 1250.9,1115.5 1251.1,1073.1 1251.4,1129.5 1251.6,1102.0 1251.9,1081.3 1252.2,1093.6 1252.4,1110.2 1252.7,1099.7 1253.0,1088.8 1253.2,1084.4 1253.5,1111.1 1253.7,1090.1 1254.0,1096.5 1254.3,1085.7 1254.5,1082.1 1254.8,1104.0 1255.1,1118.0 1255.3,1094.6 1255.6,1077.2 1255.8,1090.9 1256.1,1096.7 1256.4,1069.2 1256.6,1112.7 1256.9,1088.2 1257.2,1106.8 1257.4,1098.9 1257.7,1098.4 1257.9,1080.4 1258.2,1111.3 1258.5,1106.3 1258.7,1119.6 1259.0,1093.3 1259.3,1105.3 1259.5,1094.1 1259.8,1113.0 1260.0,1104.0 1260.3,1086.3 1260.6,1101.6 1260.8,1091.5 1261.1,1092.7 1261.4,1103.8 1261.6,1119.1 1261.9,1086.9 1262.1,1097.2 1262.4,1086.9 1262.7,1124.7 1262.9,1120.2 1263.2,1126.3 1263.5,1110.4 1263.7,1086.1 1264.0,1092.1 1264.2,1099.7 1264.5,1097.6 1264.8,1089.6 1265.0,1103.0 1265.3,1094.2 1265.6,1097.4 1265.8,1126.8 1266.1,1104.0 1266.3,1082.0 1266.6,1104.2 1266.9,1101.0 1267.1,1106.8 1267.4,1105.2 1267.7,1084.9 1267.9,1102.5 1268.2,1112.0 1268.4,1138.3 1268.7,1106.3 1269.0,1123.8 1269.2,1122.0 1269.5,1089.0 1269.8,1090.1 1270.0,1123.2 1270.3,1088.3 1270.5,1093.2 1270.8,1108.9 1271.1,1089.7 1271.3,1119.4 1271.6,1114.1 1271.9,1117.1 1272.1,1112.9 1272.4,1087.8 1272.6,1115.7 1272.9,1113.4 1273.2,1110.9 1273.4,1096.4 1273.7,1103.1 1274.0,1088.0 1274.2,1107.8 1274.5,1115.0 1274.7,1105.2 1275.0,1098.4 1275.3,1110.5 1275.5,1095.3 1275.8,1076.0 1276.1,1106.1 1276.3,1098.3 1276.6,1081.8 1276.8,1107.0 1277.1,1109.5 1277.4,1112.6 1277.6,1093.8 1277.9,1092.4 1278.2,1100.7 1278.4,1098.3 1278.7,1082.8 1278.9,1087.9 1279.2,1116.5 1279.5,1099.0 1279.7,1097.5 1280.0,1089.8 1280.3,1101.7 1280.5,1107.0 1280.8,1104.6 1281.0,1121.2 1281.3,1099.2 1281.6,1106.3 1281.8,1093.0 1282.1,1111.7 1282.4,1104.3 1282.6,1111.1 1282.9,1112.2 1283.1,1090.0 1283.4,1104.7 1283.7,1093.2 1283.9,1112.9 1284.2,1097.6 1284.5,1120.0 1284.7,1104.8 1285.0,1105.1 1285.2,1091.5 1285.5,1096.5 1285.8,1101.0 1286.0,1088.3 1286.3,1096.4 1286.6,1092.0 1286.8,1089.2 1287.1,1099.6 1287.3,1102.4 1287.6,1094.6 1287.9,1104.0 1288.1,1093.9 1288.4,1084.8 1288.7,1088.0 1288.9,1103.5 1289.2,1114.8 1289.5,1099.4 1289.7,1100.2 1290.0,1084.8 1290.2,1103.4 1290.5,1101.3 1290.8,1089.4 1291.0,1104.6 1291.3,1100.6 1291.6,1077.1 1291.8,1079.9 1292.1,1090.7 1292.3,1095.2 1292.6,1110.7 1292.9,1091.5 1293.1,1097.8 1293.4,1095.7 1293.7,1105.0 1293.9,1098.6 1294.2,1100.8 1294.4,1094.5 1294.7,1080.6 1295.0,1093.9 1295.2,1119.1 1295.5,1110.5 1295.8,1118.2 1296.0,1108.3 1296.3,1091.4 1296.5,1093.3 1296.8,1105.8 1297.1,1095.0 1297.3,1107.8 1297.6,1116.0 1297.9,1115.8 1298.1,1109.0 1298.4,1080.5 1298.6,1115.0 1298.9,1082.7 1299.2,1081.6 1299.4,1112.7 1299.7,1098.8 1300.0,1105.8 1300.2,1098.5 1300.5,1089.9 1300.7,1098.0 1301.0,1085.7 1301.3,1083.3 1301.5,1093.8 1301.8,1094.0 1302.1,1098.8 1302.3,1102.1 1302.6,1112.0 1302.8,1093.0 1303.1,1095.5 1303.4,1108.8 1303.6,1071.2 1303.9,1110.1 1304.2,1108.8 1304.4,1094.5 1304.7,1122.1 1304.9,1108.6 1305.2,1116.9 1305.5,1109.9 1305.7,1099.5 1306.0,1093.9 1306.3,1084.1 1306.5,1087.8 1306.8,1083.1 1307.0,1090.5 1307.3,1103.6 1307.6,1083.9 1307.8,1103.9 1308.1,1105.4 1308.4,1078.7 1308.6,1087.9 1308.9,1095.0 1309.1,1088.3 1309.4,1086.7 1309.7,1114.7 1309.9,1098.8 1310.2,1112.3 1310.5,1096.1 1310.7,1106.0 1311.0,1080.7 1311.2,1091.1 1311.5,1107.7 1311.8,1097.8 1312.0,1112.6 1312.3,1097.0 1312.6,1090.7 1312.8,1094.2 1313.1,1121.5 1313.3,1101.6 1313.6,1091.1 1313.9,1093.6 1314.1,1083.0 1314.4,1113.4 1314.7,1090.9 1314.9,1105.5 1315.2,1094.9 1315.4,1092.3 1315.7,1088.8 1316.0,1104.5 1316.2,1095.0 1316.5,1111.8 1316.8,1114.8 1317.0,1090.3 1317.3,1097.9 1317.5,1117.3 1317.8,1107.8 1318.1,1096.9 1318.3,1077.8 1318.6,1084.1 1318.9,1087.2 1319.1,1119.3 1319.4,1098.3 1319.6,1091.1 1319.9,1092.1 1320.2,1091.9 1320.4,1099.9 1320.7,1075.1 1321.0,1078.6 1321.2,1098.1 1321.5,1109.1 1321.7,1071.4 1322.0,1103.8 1322.3,1082.0 1322.5,1073.1 1322.8,1108.6 1323.1,1093.2 1323.3,1101.1 1323.6,1090.4 1323.8,1092.8 1324.1,1072.6 1324.4,1089.4 1324.6,1096.8 1324.9,1082.7 1325.2,1100.0 1325.4,1101.2 1325.7,1068.8 1325.9,1106.8 1326.2,1102.7 1326.5,1096.0 1326.7,1109.7 1327.0,1122.7 1327.3,1083.4 1327.5,1106.2 1327.8,1103.2 1328.0,1101.1 1328.3,1108.6 1328.6,1109.7 1328.8,1094.4 1329.1,1066.6 1329.4,1087.2 1329.6,1087.1 1329.9,1115.0 1330.1,1096.6 1330.4,1110.9 1330.7,1086.7 1330.9,1099.0 1331.2,1095.7 1331.5,1097.3 1331.7,1103.4 1332.0,1115.0 1332.2,1088.9 1332.5,1113.2 1332.8,1110.7 1333.0,1099.7 1333.3,1104.8 1333.6,1092.8 1333.8,1083.5 1334.1,1092.9 1334.3,1093.5 1334.6,1095.6 1334.9,1085.3 1335.1,1118.7 1335.4,1091.3 1335.7,1107.3 1335.9,1111.0 1336.2,1095.7 1336.4,1100.5 1336.7,1088.5 1337.0,1082.1 1337.2,1124.4 1337.5,1096.5 1337.8,1071.4 1338.0,1084.9 1338.3,1077.7 1338.6,1094.3 1338.8,1113.2 1339.1,1109.4 1339.3,1086.7 1339.6,1083.6 1339.9,1104.4 1340.1,1098.7 1340.4,1092.1 1340.7,1116.9 1340.9,1099.6 1341.2,1075.3 1341.4,1068.3 1341.7,1096.6 1342.0,1072.6 1342.2,1101.6 1342.5,1105.1 1342.8,1122.7 1343.0,1083.3 1343.3,1099.7 1343.5,1066.2 1343.8,1090.9 1344.1,1092.7 1344.3,1117.2 1344.6,1076.5 1344.9,1099.4 1345.1,1096.8 1345.4,1122.0 1345.6,1083.4 1345.9,1082.6 1346.2,1102.2 1346.4,1093.6 1346.7,1089.9 1347.0,1082.8 1347.2,1093.3 1347.5,1073.4 1347.7,1097.5 1348.0,1102.0 1348.3,1100.2 1348.5,1125.6 1348.8,1104.3 1349.1,1082.0 1349.3,1091.1 1349.6,1106.6 1349.8,1090.0 1350.1,1119.0 1350.4,1097.7 1350.6,1087.8 1350.9,1085.6 1351.2,1103.6 1351.4,1082.9 1351.7,1071.1 1351.9,1099.3 1352.2,1084.9 1352.5,1113.0 1352.7,1118.0 1353.0,1086.4 1353.3,1093.3 1353.5,1091.4 1353.8,1100.9 1354.0,1097.3 1354.3,1083.8 1354.6,1072.6 1354.8,1096.3 1355.1,1113.8 1355.4,1078.0 1355.6,1086.1 1355.9,1085.1 1356.1,1091.2 1356.4,1065.0 1356.7,1092.4 1356.9,1087.0 1357.2,1115.9 1357.5,1100.3 1357.7,1101.6 1358.0,1093.5 1358.2,1088.9 1358.5,1102.2 1358.8,1071.9 1359.0,1106.0 1359.3,1098.5 1359.6,1090.0 1359.8,1108.2 1360.1,1085.9 1360.3,1085.1 1360.6,1096.3 1360.9,1069.4 1361.1,1091.7 1361.4,1089.2 1361.7,1104.3 1361.9,1113.0 1362.2,1100.2 1362.4,1096.4 1362.7,1098.0 1363.0,1083.0 1363.2,1121.4 1363.5,1106.1 1363.8,1114.5 1364.0,1075.9 1364.3,1099.0 1364.5,1098.4 1364.8,1105.5 1365.1,1081.1 1365.3,1097.0 1365.6,1089.3 1365.9,1116.6 1366.1,1077.6 1366.4,1087.0 1366.6,1085.1 1366.9,1076.7 1367.2,1094.0 1367.4,1093.7 1367.7,1082.9 1368.0,1086.4 1368.2,1094.5 1368.5,1090.9 1368.7,1097.5 1369.0,1082.7 1369.3,1080.0 1369.5,1091.2 1369.8,1068.5 1370.1,1109.8 1370.3,1094.0 1370.6,1070.4 1370.8,1096.2 1371.1,1110.4 1371.4,1074.0 1371.6,1084.3 1371.9,1105.3 1372.2,1081.4 1372.4,1103.1 1372.7,1106.9 1372.9,1092.5 1373.2,1096.4 1373.5,1103.8 1373.7,1094.9 1374.0,1102.6 1374.3,1089.6 1374.5,1090.6 1374.8,1081.3 1375.0,1095.7 1375.3,1106.2 1375.6,1106.0 1375.8,1093.0 1376.1,1071.4 1376.4,1079.7 1376.6,1097.6 1376.9,1078.4 1377.1,1103.7 1377.4,1077.4 1377.7,1094.2 1377.9,1080.3 1378.2,1082.0 1378.5,1092.7 1378.7,1085.4 1379.0,1102.1 1379.2,1090.1 1379.5,1076.1 1379.8,1039.8 1380.0,1080.5 1380.3,1087.9 1380.6,1101.0 1380.8,1076.1 1381.1,1108.6 1381.3,1098.2 1381.6,1084.3 1381.9,1102.9 1382.1,1070.0 1382.4,1075.2 1382.7,1095.0 1382.9,1094.8 1383.2,1103.9 1383.4,1104.8 1383.7,1082.6 1384.0,1080.4 1384.2,1083.6 1384.5,1084.5 1384.8,1094.3 1385.0,1083.2 1385.3,1105.0 1385.5,1087.2 1385.8,1069.7 1386.1,1071.4 1386.3,1092.6 1386.6,1091.0 1386.9,1070.5 1387.1,1065.5 1387.4,1104.5 1387.6,1091.7 1387.9,1083.7 1388.2,1071.9 1388.4,1096.2 1388.7,1078.6 1389.0,1089.7 1389.2,1057.8 1389.5,1080.8 1389.8,1087.4 1390.0,1089.6 1390.3,1073.1 1390.5,1077.4 1390.8,1098.1 1391.1,1082.7 1391.3,1100.9 1391.6,1093.9 1391.9,1100.1 1392.1,1100.4 1392.4,1092.7 1392.6,1096.0 1392.9,1078.2 1393.2,1074.9 1393.4,1086.9 1393.7,1097.1 1394.0,1074.4 1394.2,1107.5 1394.5,1106.2 1394.7,1075.0 1395.0,1075.7 1395.3,1071.8 1395.5,1085.6 1395.8,1097.6 1396.1,1088.7 1396.3,1076.0 1396.6,1091.4 1396.8,1090.5 1397.1,1098.4 1397.4,1095.5 1397.6,1072.1 1397.9,1076.4 1398.2,1095.0 1398.4,1093.9 1398.7,1087.7 1398.9,1074.7 1399.2,1094.4 1399.5,1082.6 1399.7,1105.3 1400.0,1094.8 1400.3,1075.3 1400.5,1069.6 1400.8,1093.1 1401.0,1088.5 1401.3,1070.2 1401.6,1083.7 1401.8,1085.2 1402.1,1072.9 1402.4,1076.4 1402.6,1065.7 1402.9,1069.1 1403.1,1084.5 1403.4,1079.1 1403.7,1078.2 1403.9,1092.7 1404.2,1088.1 1404.5,1065.8 1404.7,1094.6 1405.0,1065.1 1405.2,1072.9 1405.5,1077.4 1405.8,1069.5 1406.0,1070.0 1406.3,1061.5 1406.6,1079.3 1406.8,1077.1 1407.1,1077.1 1407.3,1053.0 1407.6,1063.2 1407.9,1083.8 1408.1,1076.9 1408.4,1080.7 1408.7,1072.4 1408.9,1069.9 1409.2,1046.5 1409.4,1091.8 1409.7,1060.0 1410.0,1066.2 1410.2,1078.4 1410.5,1072.0 1410.8,1075.4 1411.0,1069.1 1411.3,1058.3 1411.5,1085.5 1411.8,1054.2 1412.1,1072.2 1412.3,1051.5 1412.6,1062.9 1412.9,1053.6 1413.1,1060.5 1413.4,1054.5 1413.6,1065.1 1413.9,1074.2 1414.2,1057.7 1414.4,1056.8 1414.7,1041.6 1415.0,1084.8 1415.2,1065.1 1415.5,1051.3 1415.7,1075.3 1416.0,1064.0 1416.3,1038.8 1416.5,1045.7 1416.8,1069.2 1417.1,1044.6 1417.3,1046.6 1417.6,1050.3 1417.8,1053.9 1418.1,1054.8 1418.4,1065.7 1418.6,1061.4 1418.9,1048.0 1419.2,1053.4 1419.4,1035.4 1419.7,1057.0 1419.9,1077.2 1420.2,1055.6 1420.5,1048.8 1420.7,1047.1 1421.0,1049.5 1421.3,1057.6 1421.5,1033.9 1421.8,1054.5 1422.0,1040.2 1422.3,1049.2 1422.6,1057.2 1422.8,1031.0 1423.1,1068.1 1423.4,1051.2 1423.6,1037.9 1423.9,1044.6 1424.1,1033.1 1424.4,1040.2 1424.7,1042.6 1424.9,1017.0 1425.2,1038.3 1425.5,1036.7 1425.7,1044.1 1426.0,1039.9 1426.2,1026.0 1426.5,1025.7 1426.8,1029.6 1427.0,1034.7 1427.3,1021.0 1427.6,1041.0 1427.8,1027.6 1428.1,1025.5 1428.3,1029.3 1428.6,1019.2 1428.9,1024.8 1429.1,1024.5 1429.4,1000.9 1429.7,1008.4 1429.9,1003.0 1430.2,1011.0 1430.4,1001.8 1430.7,1001.7 1431.0,996.5 1431.2,985.6 1431.5,1004.5 1431.8,998.8 1432.0,999.3 1432.3,1024.1 1432.5,1005.6 1432.8,992.7 1433.1,985.9 1433.3,992.8 1433.6,977.9 1433.9,974.6 1434.1,984.5 1434.4,969.0 1434.6,964.4 1434.9,970.9 1435.2,978.1 1435.4,958.8 1435.7,967.0 1436.0,965.6 1436.2,959.4 1436.5,960.6 1436.7,947.3 1437.0,946.1 1437.3,940.2 1437.5,940.8 1437.8,945.5 1438.1,938.2 1438.3,928.6 1438.6,932.2 1438.9,910.0 1439.1,923.4 1439.4,921.2 1439.6,907.9 1439.9,905.8 1440.2,905.3 1440.4,901.8 1440.7,894.0 1441.0,887.4 1441.2,882.9 1441.5,882.6 1441.7,874.2 1442.0,867.2 1442.3,862.1 1442.5,871.8 1442.8,857.1 1443.1,850.5 1443.3,842.1 1443.6,834.0 1443.8,824.6 1444.1,818.5 1444.4,813.2 1444.6,804.4 1444.9,790.3 1445.2,787.2 1445.4,773.3 1445.7,757.0 1445.9,744.4 1446.2,729.9 1446.5,699.8 1446.7,667.5 1447.0,619.5 1447.3,546.0 1447.5,420.5 1447.8,216.9 1448.0,419.5 1448.3,540.9 1448.6,597.8 1448.8,602.4 1449.1,526.1 1449.4,338.5 1449.6,533.4 1449.9,640.9 1450.1,697.1 1450.4,730.6 1450.7,746.7 1450.9,766.5 1451.2,778.6 1451.5,789.6 1451.7,798.9 1452.0,808.1 1452.2,817.0 1452.5,828.7 1452.8,831.3 1453.0,845.6 1453.3,847.3 1453.6,866.7 1453.8,874.8 1454.1,869.6 1454.3,881.4 1454.6,890.4 1454.9,891.9 1455.1,904.7 1455.4,905.1 1455.7,922.3 1455.9,918.7 1456.2,924.9 1456.4,923.3 1456.7,926.1 1457.0,940.4 1457.2,930.4 1457.5,947.6 1457.8,960.7 1458.0,966.8 1458.3,953.2 1458.5,960.0 1458.8,967.2 1459.1,971.3 1459.3,977.0 1459.6,963.5 1459.9,976.5 1460.1,966.2 1460.4,983.1 1460.6,1001.6 1460.9,981.0 1461.2,992.6 1461.4,994.1 1461.7,982.8 1462.0,999.2 1462.2,990.4 1462.5,1001.8 1462.7,1009.9 1463.0,1001.9 1463.3,1013.0 1463.5,1000.0 1463.8,1004.0 1464.1,1013.4 1464.3,1010.6 1464.6,1012.7 1464.8,1021.6 1465.1,1013.1 1465.4,1024.5 1465.6,1018.7 1465.9,1034.0 1466.2,1026.2 1466.4,1024.8 1466.7,1037.1 1466.9,1035.2 1467.2,1037.6 1467.5,1027.3 1467.7,1042.0 1468.0,1032.4 1468.3,1023.4 1468.5,1035.5 1468.8,1055.4 1469.0,1040.0 1469.3,1032.3 1469.6,1046.1 1469.8,1033.6 1470.1,1039.4 1470.4,1042.2 1470.6,1049.9 1470.9,1053.3 1471.1,1051.7 1471.4,1049.4 1471.7,1045.7 1471.9,1047.6 1472.2,1055.7 1472.5,1052.8 1472.7,1050.3 1473.0,1071.6 1473.2,1063.6 1473.5,1064.7 1473.8,1059.3 1474.0,1060.8 1474.3,1061.3 1474.6,1068.4 1474.8,1052.9 1475.1,1057.7 1475.3,1078.5 1475.6,1061.7 1475.9,1074.4 1476.1,1045.0 1476.4,1068.5 1476.7,1068.4 1476.9,1063.9 1477.2,1067.5 1477.4,1066.5 1477.7,1049.7 1478.0,1064.5 1478.2,1058.3 1478.5,1055.6 1478.8,1079.0 1479.0,1050.4 1479.3,1061.8 1479.5,1059.3 1479.8,1079.7 1480.1,1061.6 1480.3,1066.5 1480.6,1077.4 1480.9,1046.6 1481.1,1066.0 1481.4,1075.4 1481.6,1070.9 1481.9,1063.3 1482.2,1061.2 1482.4,1085.0 1482.7,1060.9 1483.0,1058.4 1483.2,1089.2 1483.5,1081.1 1483.7,1086.6 1484.0,1075.2 1484.3,1060.3 1484.5,1069.5 1484.8,1089.1 1485.1,1080.9 1485.3,1066.1 1485.6,1084.2 1485.8,1079.6 1486.1,1075.3 1486.4,1099.9 1486.6,1070.4 1486.9,1075.6 1487.2,1073.3 1487.4,1091.4 1487.7,1089.2 1488.0,1087.5 1488.2,1078.0 1488.5,1080.3 1488.7,1079.9 1489.0,1060.8 1489.3,1066.7 1489.5,1090.5 1489.8,1089.9 1490.1,1062.6 1490.3,1086.5 1490.6,1066.9 1490.8,1064.5 1491.1,1089.8 1491.4,1086.8 1491.6,1082.9 1491.9,1094.2 1492.2,1095.7 1492.4,1089.2 1492.7,1074.6 1492.9,1090.1 1493.2,1098.1 1493.5,1090.7 1493.7,1101.5 1494.0,1068.0 1494.3,1113.5 1494.5,1093.7 1494.8,1079.5 1495.0,1102.8 1495.3,1079.2 1495.6,1071.7 1495.8,1097.0 1496.1,1084.4 1496.4,1100.4 1496.6,1081.3 1496.9,1086.5 1497.1,1085.1 1497.4,1071.6 1497.7,1082.4 1497.9,1072.1 1498.2,1080.9 1498.5,1103.0 1498.7,1085.7 1499.0,1083.1 1499.2,1106.6 1499.5,1073.3 1499.8,1088.7 1500.0,1085.3 1500.3,1100.7 1500.6,1089.2 1500.8,1086.6 1501.1,1094.3 1501.3,1089.6 1501.6,1116.4 1501.9,1074.3 1502.1,1104.6 1502.4,1117.7 1502.7,1116.9 1502.9,1101.7 1503.2,1085.0 1503.4,1102.9 1503.7,1088.5 1504.0,1103.8 1504.2,1065.3 1504.5,1085.8 1504.8,1068.6 1505.0,1105.1 1505.3,1084.7 1505.5,1104.7 1505.8,1086.1 1506.1,1085.0 1506.3,1113.0 1506.6,1107.6 1506.9,1108.1 1507.1,1112.4 1507.4,1103.0 1507.6,1106.0 1507.9,1112.1 1508.2,1093.2 1508.4,1087.8 1508.7,1110.9 1509.0,1101.7 1509.2,1094.9 1509.5,1098.0 1509.7,1103.9 1510.0,1085.3 1510.3,1085.0 1510.5,1087.2 1510.8,1098.4 1511.1,1071.2 1511.3,1074.4 1511.6,1101.1 1511.8,1097.8 1512.1,1081.6 1512.4,1106.5 1512.6,1091.7 1512.9,1096.2 1513.2,1105.7 1513.4,1099.9 1513.7,1116.8 1513.9,1104.0 1514.2,1122.3 1514.5,1068.9 1514.7,1078.7 1515.0,1082.3 1515.3,1094.1 1515.5,1085.4 1515.8,1082.1 1516.0,1085.4 1516.3,1086.8 1516.6,1109.9 1516.8,1093.1 1517.1,1105.4 1517.4,1113.6 1517.6,1113.2 1517.9,1093.6 1518.1,1085.8 1518.4,1116.5 1518.7,1077.3 1518.9,1080.9 1519.2,1104.3 1519.5,1105.5 1519.7,1100.7 1520.0,1087.4 1520.2,1104.8 1520.5,1114.1 1520.8,1095.8 1521.0,1126.5 1521.3,1098.6 1521.6,1085.8 1521.8,1096.7 1522.1,1090.8 1522.3,1094.5 1522.6,1091.7 1522.9,1099.2 1523.1,1111.7 1523.4,1104.1 1523.7,1102.3 1523.9,1085.4 1524.2,1080.8 1524.4,1096.2 1524.7,1111.3 1525.0,1111.1 1525.2,1104.3 1525.5,1084.2 1525.8,1097.8 1526.0,1102.9 1526.3,1112.1 1526.5,1091.1 1526.8,1098.8 1527.1,1103.2 1527.3,1101.3 1527.6,1081.1 1527.9,1104.9 1528.1,1081.3 1528.4,1087.1 1528.6,1102.4 1528.9,1091.8 1529.2,1104.9 1529.4,1114.0 1529.7,1106.9 1530.0,1115.2 1530.2,1097.1 1530.5,1103.6 1530.7,1096.5 1531.0,1093.3 1531.3,1144.3 1531.5,1100.1 1531.8,1127.5 1532.1,1102.1 1532.3,1115.7 1532.6,1103.1 1532.8,1086.9 1533.1,1126.7 1533.4,1102.2 1533.6,1105.8 1533.9,1129.3 1534.2,1096.5 1534.4,1104.5 1534.7,1111.6 1534.9,1114.5 1535.2,1063.5 1535.5,1110.4 1535.7,1128.7 1536.0,1117.5 1536.3,1110.2 1536.5,1110.5 1536.8,1106.6 1537.1,1119.3 1537.3,1098.7 1537.6,1112.1 1537.8,1123.6 1538.1,1116.6 1538.4,1111.0 1538.6,1095.0 1538.9,1099.8 1539.2,1110.6 1539.4,1106.0 1539.7,1103.5 1539.9,1079.8 1540.2,1114.5 1540.5,1100.4 1540.7,1097.1 1541.0,1119.1 1541.3,1104.3 1541.5,1104.7 1541.8,1113.0 1542.0,1099.5 1542.3,1093.5 1542.6,1092.3 1542.8,1109.6 1543.1,1104.7 1543.4,1076.4 1543.6,1121.8 1543.9,1104.5 1544.1,1095.8 1544.4,1105.5 1544.7,1099.0 1544.9,1105.4 1545.2,1097.8 1545.5,1090.9 1545.7,1110.7 1546.0,1105.3 1546.2,1108.7 1546.5,1113.3 1546.8,1108.3 1547.0,1123.0 1547.3,1098.4 1547.6,1085.8 1547.8,1085.9 1548.1,1091.6 1548.3,1121.2 1548.6,1088.5 1548.9,1118.0 1549.1,1109.3 1549.4,1084.3 1549.7,1122.9 1549.9,1097.7 1550.2,1105.2 1550.4,1110.9 1550.7,1120.6 1551.0,1103.5 1551.2,1115.3 1551.5,1095.3 1551.8,1093.0 1552.0,1127.6 1552.3,1116.0 1552.5,1113.6 1552.8,1125.1 1553.1,1124.3 1553.3,1108.4 1553.6,1112.4 1553.9,1131.6 1554.1,1116.9 1554.4,1102.9 1554.6,1125.9 1554.9,1122.2 1555.2,1088.9 1555.4,1092.6 1555.7,1131.7 1556.0,1128.1 1556.2,1105.2 1556.5,1126.1 1556.7,1113.7 1557.0,1116.4 1557.3,1103.0 1557.5,1144.2 1557.8,1139.9 1558.1,1127.0 1558.3,1097.2 1558.6,1112.8 1558.8,1133.6 1559.1,1104.3 1559.4,1101.5 1559.6,1114.3 1559.9,1115.4 1560.2,1111.4 1560.4,1095.0 1560.7,1109.2 1560.9,1104.1 1561.2,1112.0 1561.5,1116.5 1561.7,1123.7 1562.0,1108.0 1562.3,1115.5 1562.5,1114.8 1562.8,1099.2 1563.0,1105.2 1563.3,1100.1 1563.6,1132.9 1563.8,1104.4 1564.1,1119.8 1564.4,1122.8 1564.6,1123.5 1564.9,1095.8 1565.1,1101.0 1565.4,1121.8 1565.7,1127.5 1565.9,1112.1 1566.2,1118.5 1566.5,1090.1 1566.7,1132.1 1567.0,1137.1 1567.2,1116.0 1567.5,1112.5 1567.8,1110.9 1568.0,1102.6 1568.3,1084.9 1568.6,1117.4 1568.8,1120.2 1569.1,1136.6 1569.3,1109.7 1569.6,1101.6 1569.9,1116.6 1570.1,1097.2 1570.4,1112.8 1570.7,1092.8 1570.9,1108.8 1571.2,1127.6 1571.4,1122.0 1571.7,1134.2 1572.0,1137.0 1572.2,1110.0 1572.5,1101.9 1572.8,1087.3 1573.0,1114.5 1573.3,1117.0 1573.5,1128.9 1573.8,1100.5 1574.1,1108.7 1574.3,1122.1 1574.6,1104.7 1574.9,1106.5 1575.1,1139.5 1575.4,1104.1 1575.6,1112.4 1575.9,1119.6 1576.2,1120.0 1576.4,1090.7 1576.7,1093.6 1577.0,1089.7 1577.2,1130.2 1577.5,1123.5 1577.7,1102.4 1578.0,1131.1 1578.3,1124.6 1578.5,1139.4 1578.8,1089.7 1579.1,1100.5 1579.3,1108.7 1579.6,1112.1 1579.8,1120.8 1580.1,1120.6 1580.4,1106.8 1580.6,1124.9 1580.9,1098.6 1581.2,1122.1 1581.4,1127.3 1581.7,1097.7 1581.9,1117.5 1582.2,1108.0 1582.5,1121.3 1582.7,1146.4 1583.0,1108.2 1583.3,1134.1 1583.5,1101.0 1583.8,1137.0 1584.0,1141.4 1584.3,1111.7 1584.6,1110.2 1584.8,1114.6 1585.1,1132.7 1585.4,1104.0 1585.6,1136.2 1585.9,1122.6 1586.2,1127.1 1586.4,1121.5 1586.7,1104.7 1586.9,1125.1 1587.2,1108.8 1587.5,1107.0 1587.7,1140.1 1588.0,1132.6 1588.3,1122.0 1588.5,1124.9 1588.8,1112.6 1589.0,1143.4 1589.3,1107.0 1589.6,1106.7 1589.8,1119.3 1590.1,1136.0 1590.4,1117.0 1590.6,1124.5 1590.9,1109.4 1591.1,1118.4 1591.4,1107.3 1591.7,1123.3 1591.9,1097.5 1592.2,1149.2 1592.5,1131.5 1592.7,1110.8 1593.0,1138.4 1593.2,1107.5 1593.5,1134.5 1593.8,1116.5 1594.0,1130.4 1594.3,1123.9 1594.6,1115.5 1594.8,1119.4 1595.1,1123.2 1595.3,1088.3 1595.6,1118.0 1595.9,1131.5 1596.1,1105.4 1596.4,1106.9 1596.7,1101.4 1596.9,1093.6 1597.2,1131.4 1597.4,1103.8 1597.7,1102.7 1598.0,1118.5 1598.2,1115.2 1598.5,1160.2 1598.8,1126.6 1599.0,1093.9 1599.3,1143.5 1599.5,1126.2 1599.8,1114.9 1600.1,1110.9 1600.3,1096.3 1600.6,1143.4 1600.9,1118.5 1601.1,1107.2 1601.4,1137.4 1601.6,1119.7 1601.9,1093.1 1602.2,1101.0 1602.4,1111.8 1602.7,1155.7 1603.0,1121.2 1603.2,1114.1 1603.5,1123.8 1603.7,1120.5 1604.0,1076.7 1604.3,1122.7 1604.5,1133.2 1604.8,1116.4 1605.1,1124.2 1605.3,1124.2 1605.6,1121.1 1605.8,1109.2 1606.1,1116.7 1606.4,1136.8 1606.6,1121.9 1606.9,1113.5 1607.2,1126.7 1607.4,1104.2 1607.7,1109.4 1607.9,1134.2 1608.2,1115.9 1608.5,1092.7 1608.7,1098.7 1609.0,1121.3 1609.3,1108.0 1609.5,1130.0 1609.8,1140.9 1610.0,1113.0 1610.3,1117.3 1610.6,1113.6 1610.8,1121.2 1611.1,1116.3 1611.4,1128.1 1611.6,1114.4 1611.9,1109.4 1612.1,1121.9 1612.4,1109.7 1612.7,1146.0 1612.9,1132.3 1613.2,1101.0 1613.5,1096.6 1613.7,1117.9 1614.0,1122.9 1614.2,1139.3 1614.5,1116.4 1614.8,1110.6 1615.0,1142.4 1615.3,1113.8 1615.6,1114.8 1615.8,1115.6 1616.1,1137.6 1616.3,1114.2 1616.6,1143.0 1616.9,1101.0 1617.1,1120.1 1617.4,1138.4 1617.7,1103.1 1617.9,1105.9 1618.2,1131.3 1618.4,1091.2 1618.7,1136.4 1619.0,1117.9 1619.2,1105.7 1619.5,1154.4 1619.8,1108.3 1620.0,1123.4 1620.3,1122.8 1620.5,1137.8 1620.8,1118.0 1621.1,1138.3 1621.3,1136.4 1621.6,1138.2 1621.9,1140.2 1622.1,1100.7 1622.4,1141.7 1622.6,1133.6 1622.9,1127.5 1623.2,1123.0 1623.4,1111.9 1623.7,1111.6 1624.0,1127.5 1624.2,1128.7 1624.5,1122.8 1624.7,1111.7 1625.0,1113.5 1625.3,1130.7 1625.5,1152.6 1625.8,1093.1 1626.1,1110.1 1626.3,1119.9 1626.6,1118.8 1626.8,1131.1 1627.1,1137.9 1627.4,1128.5 1627.6,1127.0 1627.9,1132.8 1628.2,1144.6 1628.4,1128.4 1628.7,1115.8 1628.9,1131.1 1629.2,1123.8 1629.5,1153.6 1629.7,1127.2 1630.0,1126.0 1630.3,1141.7 1630.5,1149.0 1630.8,1118.5 1631.0,1136.0 1631.3,1117.5 1631.6,1130.5 1631.8,1115.7 1632.1,1129.4 1632.4,1146.1 1632.6,1125.9 1632.9,1129.4 1633.1,1115.4 1633.4,1131.3 1633.7,1130.5 1633.9,1112.7 1634.2,1108.3 1634.5,1114.2 1634.7,1110.3 1635.0,1118.6 1635.3,1114.2 1635.5,1112.7 1635.8,1119.5 1636.0,1124.4 1636.3,1123.3 1636.6,1091.0 1636.8,1125.2 1637.1,1128.9 1637.4,1130.7 1637.6,1126.1 1637.9,1122.1 1638.1,1141.9 1638.4,1154.1 1638.7,1121.5 1638.9,1148.8 1639.2,1122.1 1639.5,1123.8 1639.7,1109.3 1640.0,1102.0 1640.2,1120.7 1640.5,1133.9 1640.8,1142.8 1641.0,1137.4 1641.3,1125.5 1641.6,1155.8 1641.8,1125.1 1642.1,1126.3 1642.3,1116.9 1642.6,1131.0 1642.9,1124.8 1643.1,1136.9 1643.4,1133.0 1643.7,1151.8 1643.9,1124.6 1644.2,1104.2 1644.4,1124.1 1644.7,1121.2 1645.0,1140.6 1645.2,1106.0 1645.5,1137.6 1645.8,1115.1 1646.0,1125.1 1646.3,1140.5 1646.5,1112.0 1646.8,1126.5 1647.1,1124.2 1647.3,1120.3 1647.6,1127.2 1647.9,1132.4 1648.1,1120.2 1648.4,1132.8 1648.6,1126.1 1648.9,1136.7 1649.2,1148.5 1649.4,1136.8 1649.7,1134.3 1650.0,1127.0 1650.2,1110.1 1650.5,1151.6 1650.7,1125.4 1651.0,1159.2 1651.3,1142.4 1651.5,1134.7 1651.8,1159.9 1652.1,1154.3 1652.3,1125.2 1652.6,1126.4 1652.8,1129.2 1653.1,1139.2 1653.4,1096.5 1653.6,1130.0 1653.9,1140.1 1654.2,1103.4 1654.4,1118.8 1654.7,1133.1 1654.9,1110.5 1655.2,1125.6 1655.5,1118.6 1655.7,1124.5 1656.0,1142.8 1656.3,1113.9 1656.5,1125.7 1656.8,1142.6 1657.0,1139.1 1657.3,1114.3 1657.6,1133.5 1657.8,1127.5 1658.1,1118.7 1658.4,1126.4 1658.6,1150.4 1658.9,1119.0 1659.1,1114.7 1659.4,1115.8 1659.7,1104.9 1659.9,1123.1 1660.2,1117.2 1660.5,1105.4 1660.7,1132.7 1661.0,1103.3 1661.2,1103.4 1661.5,1117.2 1661.8,1101.9 1662.0,1116.3 1662.3,1141.5 1662.6,1112.2 1662.8,1124.0 1663.1,1122.8 1663.3,1126.6 1663.6,1109.1 1663.9,1120.9 1664.1,1139.1 1664.4,1121.9 1664.7,1118.4 1664.9,1139.6 1665.2,1135.4 1665.4,1134.7 1665.7,1171.2 1666.0,1124.1 1666.2,1114.4 1666.5,1101.7 1666.8,1111.9 1667.0,1114.4 1667.3,1112.7 1667.5,1109.9 1667.8,1134.9 1668.1,1119.3 1668.3,1124.8 1668.6,1131.4 1668.9,1136.2 1669.1,1136.9 1669.4,1133.5 1669.6,1147.7 1669.9,1122.1 1670.2,1130.0 1670.4,1128.2 1670.7,1124.8 1671.0,1119.2 1671.2,1138.5 1671.5,1131.4 1671.7,1153.4 1672.0,1162.4 1672.3,1158.3 1672.5,1107.5 1672.8,1156.7 1673.1,1123.2 1673.3,1108.5 1673.6,1136.8 1673.8,1106.3 1674.1,1103.2 1674.4,1116.4 1674.6,1095.5 1674.9,1121.2 1675.2,1141.0 1675.4,1122.7 1675.7,1136.8 1675.9,1149.5 1676.2,1149.1 1676.5,1096.5 1676.7,1138.4 1677.0,1130.8 1677.3,1140.2 1677.5,1128.5 1677.8,1134.0 1678.0,1136.6 1678.3,1148.3 1678.6,1151.3 1678.8,1141.5 1679.1,1126.3 1679.4,1100.2 1679.6,1115.2 1679.9,1103.9 1680.1,1123.6 1680.4,1132.0 1680.7,1150.2 1680.9,1130.8 1681.2,1162.3 1681.5,1135.3 1681.7,1106.9 1682.0,1126.1 1682.2,1114.3 1682.5,1136.6 1682.8,1151.2 1683.0,1138.0 1683.3,1136.9 1683.6,1113.3 1683.8,1102.0 1684.1,1142.0 1684.4,1136.4 1684.6,1133.3 1684.9,1136.3 1685.1,1149.5 1685.4,1129.9 1685.7,1125.9 1685.9,1125.6 1686.2,1149.1 1686.5,1133.0 1686.7,1157.0 1687.0,1117.9 1687.2,1146.5 1687.5,1135.5 1687.8,1138.1 1688.0,1140.1 1688.3,1147.2 1688.6,1157.6 1688.8,1106.0 1689.1,1127.8 1689.3,1127.7 1689.6,1100.7 1689.9,1133.2 1690.1,1123.6 1690.4,1131.4 1690.7,1114.2 1690.9,1124.4 1691.2,1127.2 1691.4,1135.6 1691.7,1127.8 1692.0,1114.7 1692.2,1162.7 1692.5,1133.9 1692.8,1138.2 1693.0,1136.5 1693.3,1161.3 1693.5,1121.3 1693.8,1144.6 1694.1,1135.5 1694.3,1139.7 1694.6,1157.0 1694.9,1138.9 1695.1,1159.6 1695.4,1146.3 1695.6,1137.0 1695.9,1132.4 1696.2,1131.6 1696.4,1134.5 1696.7,1100.8 1697.0,1126.0 1697.2,1150.7 1697.5,1141.6 1697.7,1142.4 1698.0,1135.3 1698.3,1141.6 1698.5,1145.4 1698.8,1108.2 1699.1,1132.1 1699.3,1137.8 1699.6,1136.6 1699.8,1136.1 1700.1,1112.2 1700.4,1125.8 1700.6,1116.2 1700.9,1179.3 1701.2,1128.2 1701.4,1117.3 1701.7,1103.7 1701.9,1132.7 1702.2,1158.7 1702.5,1124.4 1702.7,1142.1 1703.0,1159.9 1703.3,1142.4 1703.5,1117.5 1703.8,1115.4 1704.0,1122.6 1704.3,1149.0 1704.6,1095.9 1704.8,1150.8 1705.1,1134.6 1705.4,1155.0 1705.6,1113.9 1705.9,1126.9 1706.1,1120.3 1706.4,1132.2 1706.7,1134.6 1706.9,1131.0 1707.2,1161.8 1707.5,1118.9 1707.7,1120.1 1708.0,1139.6 1708.2,1134.0 1708.5,1129.3 1708.8,1110.4 1709.0,1127.4 1709.3,1133.2 1709.6,1141.5 1709.8,1156.4 1710.1,1142.9 1710.3,1132.9 1710.6,1137.8 1710.9,1132.9 1711.1,1122.9 1711.4,1127.6 1711.7,1130.0 1711.9,1124.3 1712.2,1131.4 1712.4,1134.7 1712.7,1127.2 1713.0,1160.1 1713.2,1115.5 1713.5,1153.6 1713.8,1121.8 1714.0,1134.2 1714.3,1117.8 1714.5,1133.9 1714.8,1148.6 1715.1,1118.4 1715.3,1131.7 1715.6,1132.7 1715.9,1133.3 1716.1,1119.6 1716.4,1122.3 1716.6,1131.2 1716.9,1157.9 1717.2,1140.7 1717.4,1133.1 1717.7,1107.8 1718.0,1129.0 1718.2,1136.2 1718.5,1116.9 1718.7,1136.5 1719.0,1135.3 1719.3,1132.5 1719.5,1157.4 1719.8,1120.6 1720.1,1128.6 1720.3,1139.3 1720.6,1152.2 1720.8,1131.9 1721.1,1114.0 1721.4,1144.8 1721.6,1151.1 1721.9,1128.9 1722.2,1159.2 1722.4,1168.7 1722.7,1142.0 1722.9,1145.7 1723.2,1139.5 1723.5,1143.7 1723.7,1130.4 1724.0,1138.7 1724.3,1144.5 1724.5,1142.4 1724.8,1126.0 1725.0,1121.1 1725.3,1121.9 1725.6,1125.1 1725.8,1182.4 1726.1,1150.8 1726.4,1140.4 1726.6,1132.6 1726.9,1160.1 1727.1,1114.3 1727.4,1131.2 1727.7,1145.2 1727.9,1133.4 1728.2,1141.1 1728.5,1147.4 1728.7,1128.3 1729.0,1142.8 1729.2,1157.3 1729.5,1145.6 1729.8,1137.8 1730.0,1152.4 1730.3,1117.0 1730.6,1152.6 1730.8,1109.6 1731.1,1122.7 1731.3,1150.5 1731.6,1134.3 1731.9,1118.4 1732.1,1139.2 1732.4,1154.4" fill="none" stroke="#0000ff" stroke-width="2.8" stroke-linejoin="round" />
<line x1="156.75" y1="22.90" x2="156.75" y2="1214.00" stroke="#000" stroke-width="10.2" stroke-linecap="butt"/>
<line x1="1732.40" y1="22.90" x2="1732.40" y2="1189.80" stroke="#000" stroke-width="8.6" stroke-linecap="butt"/>
<line x1="151.70" y1="27.20" x2="1736.70" y2="27.20" stroke="#000" stroke-width="8.6" stroke-linecap="butt"/>
<line x1="151.70" y1="1185.30" x2="1736.70" y2="1185.30" stroke="#000" stroke-width="9.0" stroke-linecap="butt"/>
<line x1="157.00" y1="1185.40" x2="157.00" y2="1214.40" stroke="#000" stroke-width="7.5" stroke-linecap="butt"/>
<line x1="222.64" y1="1185.40" x2="222.64" y2="1202.40" stroke="#000" stroke-width="7.5" stroke-linecap="round"/>
<line x1="222.64" y1="27.00" x2="222.64" y2="43.00" stroke="#000" stroke-width="7.5" stroke-linecap="butt"/>
<line x1="288.28" y1="1185.40" x2="288.28" y2="1214.40" stroke="#000" stroke-width="7.5" stroke-linecap="butt"/>
<line x1="288.28" y1="27.00" x2="288.28" y2="53.00" stroke="#000" stroke-width="7.5" stroke-linecap="butt"/>
<line x1="353.93" y1="1185.40" x2="353.93" y2="1202.40" stroke="#000" stroke-width="7.5" stroke-linecap="round"/>
<line x1="353.93" y1="27.00" x2="353.93" y2="43.00" stroke="#000" stroke-width="7.5" stroke-linecap="butt"/>
<line x1="419.57" y1="1185.40" x2="419.57" y2="1214.40" stroke="#000" stroke-width="7.5" stroke-linecap="butt"/>
<line x1="419.57" y1="27.00" x2="419.57" y2="53.00" stroke="#000" stroke-width="7.5" stroke-linecap="butt"/>
<line x1="485.21" y1="1185.40" x2="485.21" y2="1202.40" stroke="#000" stroke-width="7.5" stroke-linecap="round"/>
<line x1="485.21" y1="27.00" x2="485.21" y2="43.00" stroke="#000" stroke-width="7.5" stroke-linecap="butt"/>
<line x1="550.85" y1="1185.40" x2="550.85" y2="1214.40" stroke="#000" stroke-width="7.5" stroke-linecap="butt"/>
<line x1="550.85" y1="27.00" x2="550.85" y2="53.00" stroke="#000" stroke-width="7.5" stroke-linecap="butt"/>
<line x1="616.49" y1="1185.40" x2="616.49" y2="1202.40" stroke="#000" stroke-width="7.5" stroke-linecap="round"/>
<line x1="616.49" y1="27.00" x2="616.49" y2="43.00" stroke="#000" stroke-width="7.5" stroke-linecap="butt"/>
<line x1="682.13" y1="1185.40" x2="682.13" y2="1214.40" stroke="#000" stroke-width="7.5" stroke-linecap="butt"/>
<line x1="682.13" y1="27.00" x2="682.13" y2="53.00" stroke="#000" stroke-width="7.5" stroke-linecap="butt"/>
<line x1="747.77" y1="1185.40" x2="747.77" y2="1202.40" stroke="#000" stroke-width="7.5" stroke-linecap="round"/>
<line x1="747.77" y1="27.00" x2="747.77" y2="43.00" stroke="#000" stroke-width="7.5" stroke-linecap="butt"/>
<line x1="813.42" y1="1185.40" x2="813.42" y2="1214.40" stroke="#000" stroke-width="7.5" stroke-linecap="butt"/>
<line x1="813.42" y1="27.00" x2="813.42" y2="53.00" stroke="#000" stroke-width="7.5" stroke-linecap="butt"/>
<line x1="879.06" y1="1185.40" x2="879.06" y2="1202.40" stroke="#000" stroke-width="7.5" stroke-linecap="round"/>
<line x1="879.06" y1="27.00" x2="879.06" y2="43.00" stroke="#000" stroke-width="7.5" stroke-linecap="butt"/>
<line x1="944.70" y1="1185.40" x2="944.70" y2="1214.40" stroke="#000" stroke-width="7.5" stroke-linecap="butt"/>
<line x1="944.70" y1="27.00" x2="944.70" y2="53.00" stroke="#000" stroke-width="7.5" stroke-linecap="butt"/>
<line x1="1010.34" y1="1185.40" x2="1010.34" y2="1202.40" stroke="#000" stroke-width="7.5" stroke-linecap="round"/>
<line x1="1010.34" y1="27.00" x2="1010.34" y2="43.00" stroke="#000" stroke-width="7.5" stroke-linecap="butt"/>
<line x1="1075.98" y1="1185.40" x2="1075.98" y2="1214.40" stroke="#000" stroke-width="7.5" stroke-linecap="butt"/>
<line x1="1075.98" y1="27.00" x2="1075.98" y2="53.00" stroke="#000" stroke-width="7.5" stroke-linecap="butt"/>
<line x1="1141.62" y1="1185.40" x2="1141.62" y2="1202.40" stroke="#000" stroke-width="7.5" stroke-linecap="round"/>
<line x1="1141.62" y1="27.00" x2="1141.62" y2="43.00" stroke="#000" stroke-width="7.5" stroke-linecap="butt"/>
<line x1="1207.27" y1="1185.40" x2="1207.27" y2="1214.40" stroke="#000" stroke-width="7.5" stroke-linecap="butt"/>
<line x1="1207.27" y1="27.00" x2="1207.27" y2="53.00" stroke="#000" stroke-width="7.5" stroke-linecap="butt"/>
<line x1="1272.91" y1="1185.40" x2="1272.91" y2="1202.40" stroke="#000" stroke-width="7.5" stroke-linecap="round"/>
<line x1="1272.91" y1="27.00" x2="1272.91" y2="43.00" stroke="#000" stroke-width="7.5" stroke-linecap="butt"/>
<line x1="1338.55" y1="1185.40" x2="1338.55" y2="1214.40" stroke="#000" stroke-width="7.5" stroke-linecap="butt"/>
<line x1="1338.55" y1="27.00" x2="1338.55" y2="53.00" stroke="#000" stroke-width="7.5" stroke-linecap="butt"/>
<line x1="1404.19" y1="1185.40" x2="1404.19" y2="1202.40" stroke="#000" stroke-width="7.5" stroke-linecap="round"/>
<line x1="1404.19" y1="27.00" x2="1404.19" y2="43.00" stroke="#000" stroke-width="7.5" stroke-linecap="butt"/>
<line x1="1469.83" y1="1185.40" x2="1469.83" y2="1214.40" stroke="#000" stroke-width="7.5" stroke-linecap="butt"/>
<line x1="1469.83" y1="27.00" x2="1469.83" y2="53.00" stroke="#000" stroke-width="7.5" stroke-linecap="butt"/>
<line x1="1535.47" y1="1185.40" x2="1535.47" y2="1202.40" stroke="#000" stroke-width="7.5" stroke-linecap="round"/>
<line x1="1535.47" y1="27.00" x2="1535.47" y2="43.00" stroke="#000" stroke-width="7.5" stroke-linecap="butt"/>
<line x1="1601.12" y1="1185.40" x2="1601.12" y2="1214.40" stroke="#000" stroke-width="7.5" stroke-linecap="butt"/>
<line x1="1601.12" y1="27.00" x2="1601.12" y2="53.00" stroke="#000" stroke-width="7.5" stroke-linecap="butt"/>
<line x1="1666.76" y1="1185.40" x2="1666.76" y2="1202.40" stroke="#000" stroke-width="7.5" stroke-linecap="round"/>
<line x1="1666.76" y1="27.00" x2="1666.76" y2="43.00" stroke="#000" stroke-width="7.5" stroke-linecap="butt"/>
<line x1="1732.40" y1="1185.40" x2="1732.40" y2="1214.40" stroke="#000" stroke-width="7.5" stroke-linecap="butt"/>
<line x1="157.00" y1="109.70" x2="184.00" y2="109.70" stroke="#000" stroke-width="7.5" stroke-linecap="butt"/>
<line x1="1732.40" y1="109.70" x2="1705.40" y2="109.70" stroke="#000" stroke-width="7.5" stroke-linecap="butt"/>
<line x1="157.00" y1="37.45" x2="172.00" y2="37.45" stroke="#000" stroke-width="6.5" stroke-linecap="butt"/>
<line x1="1732.40" y1="37.45" x2="1717.40" y2="37.45" stroke="#000" stroke-width="6.5" stroke-linecap="butt"/>
<line x1="157.00" y1="349.70" x2="184.00" y2="349.70" stroke="#000" stroke-width="7.5" stroke-linecap="butt"/>
<line x1="1732.40" y1="349.70" x2="1705.40" y2="349.70" stroke="#000" stroke-width="7.5" stroke-linecap="butt"/>
<line x1="157.00" y1="277.45" x2="172.00" y2="277.45" stroke="#000" stroke-width="6.5" stroke-linecap="butt"/>
<line x1="1732.40" y1="277.45" x2="1717.40" y2="277.45" stroke="#000" stroke-width="6.5" stroke-linecap="butt"/>
<line x1="157.00" y1="235.19" x2="172.00" y2="235.19" stroke="#000" stroke-width="6.5" stroke-linecap="butt"/>
<line x1="1732.40" y1="235.19" x2="1717.40" y2="235.19" stroke="#000" stroke-width="6.5" stroke-linecap="butt"/>
<line x1="157.00" y1="205.21" x2="172.00" y2="205.21" stroke="#000" stroke-width="6.5" stroke-linecap="butt"/>
<line x1="1732.40" y1="205.21" x2="1717.40" y2="205.21" stroke="#000" stroke-width="6.5" stroke-linecap="butt"/>
<line x1="157.00" y1="181.95" x2="172.00" y2="181.95" stroke="#000" stroke-width="6.5" stroke-linecap="butt"/>
<line x1="1732.40" y1="181.95" x2="1717.40" y2="181.95" stroke="#000" stroke-width="6.5" stroke-linecap="butt"/>
<line x1="157.00" y1="162.94" x2="172.00" y2="162.94" stroke="#000" stroke-width="6.5" stroke-linecap="butt"/>
<line x1="1732.40" y1="162.94" x2="1717.40" y2="162.94" stroke="#000" stroke-width="6.5" stroke-linecap="butt"/>
<line x1="157.00" y1="146.88" x2="172.00" y2="146.88" stroke="#000" stroke-width="6.5" stroke-linecap="butt"/>
<line x1="1732.40" y1="146.88" x2="1717.40" y2="146.88" stroke="#000" stroke-width="6.5" stroke-linecap="butt"/>
<line x1="157.00" y1="132.96" x2="172.00" y2="132.96" stroke="#000" stroke-width="6.5" stroke-linecap="butt"/>
<line x1="1732.40" y1="132.96" x2="1717.40" y2="132.96" stroke="#000" stroke-width="6.5" stroke-linecap="butt"/>
<line x1="157.00" y1="120.68" x2="172.00" y2="120.68" stroke="#000" stroke-width="6.5" stroke-linecap="butt"/>
<line x1="1732.40" y1="120.68" x2="1717.40" y2="120.68" stroke="#000" stroke-width="6.5" stroke-linecap="butt"/>
<line x1="157.00" y1="589.70" x2="184.00" y2="589.70" stroke="#000" stroke-width="7.5" stroke-linecap="butt"/>
<line x1="1732.40" y1="589.70" x2="1705.40" y2="589.70" stroke="#000" stroke-width="7.5" stroke-linecap="butt"/>
<line x1="157.00" y1="517.45" x2="172.00" y2="517.45" stroke="#000" stroke-width="6.5" stroke-linecap="butt"/>
<line x1="1732.40" y1="517.45" x2="1717.40" y2="517.45" stroke="#000" stroke-width="6.5" stroke-linecap="butt"/>
<line x1="157.00" y1="475.19" x2="172.00" y2="475.19" stroke="#000" stroke-width="6.5" stroke-linecap="butt"/>
<line x1="1732.40" y1="475.19" x2="1717.40" y2="475.19" stroke="#000" stroke-width="6.5" stroke-linecap="butt"/>
<line x1="157.00" y1="445.21" x2="172.00" y2="445.21" stroke="#000" stroke-width="6.5" stroke-linecap="butt"/>
<line x1="1732.40" y1="445.21" x2="1717.40" y2="445.21" stroke="#000" stroke-width="6.5" stroke-linecap="butt"/>
<line x1="157.00" y1="421.95" x2="172.00" y2="421.95" stroke="#000" stroke-width="6.5" stroke-linecap="butt"/>
<line x1="1732.40" y1="421.95" x2="1717.40" y2="421.95" stroke="#000" stroke-width="6.5" stroke-linecap="butt"/>
<line x1="157.00" y1="402.94" x2="172.00" y2="402.94" stroke="#000" stroke-width="6.5" stroke-linecap="butt"/>
<line x1="1732.40" y1="402.94" x2="1717.40" y2="402.94" stroke="#000" stroke-width="6.5" stroke-linecap="butt"/>
<line x1="157.00" y1="386.88" x2="172.00" y2="386.88" stroke="#000" stroke-width="6.5" stroke-linecap="butt"/>
<line x1="1732.40" y1="386.88" x2="1717.40" y2="386.88" stroke="#000" stroke-width="6.5" stroke-linecap="butt"/>
<line x1="157.00" y1="372.96" x2="172.00" y2="372.96" stroke="#000" stroke-width="6.5" stroke-linecap="butt"/>
<line x1="1732.40" y1="372.96" x2="1717.40" y2="372.96" stroke="#000" stroke-width="6.5" stroke-linecap="butt"/>
<line x1="157.00" y1="360.68" x2="172.00" y2="360.68" stroke="#000" stroke-width="6.5" stroke-linecap="butt"/>
<line x1="1732.40" y1="360.68" x2="1717.40" y2="360.68" stroke="#000" stroke-width="6.5" stroke-linecap="butt"/>
<line x1="157.00" y1="829.70" x2="172.00" y2="829.70" stroke="#000" stroke-width="7.5" stroke-linecap="butt"/>
<line x1="1732.40" y1="829.70" x2="1717.40" y2="829.70" stroke="#000" stroke-width="7.5" stroke-linecap="butt"/>
<line x1="157.00" y1="757.45" x2="172.00" y2="757.45" stroke="#000" stroke-width="6.5" stroke-linecap="butt"/>
<line x1="1732.40" y1="757.45" x2="1717.40" y2="757.45" stroke="#000" stroke-width="6.5" stroke-linecap="butt"/>
<line x1="157.00" y1="715.19" x2="172.00" y2="715.19" stroke="#000" stroke-width="6.5" stroke-linecap="butt"/>
<line x1="1732.40" y1="715.19" x2="1717.40" y2="715.19" stroke="#000" stroke-width="6.5" stroke-linecap="butt"/>
<line x1="157.00" y1="685.21" x2="172.00" y2="685.21" stroke="#000" stroke-width="6.5" stroke-linecap="butt"/>
<line x1="1732.40" y1="685.21" x2="1717.40" y2="685.21" stroke="#000" stroke-width="6.5" stroke-linecap="butt"/>
<line x1="157.00" y1="661.95" x2="172.00" y2="661.95" stroke="#000" stroke-width="6.5" stroke-linecap="butt"/>
<line x1="1732.40" y1="661.95" x2="1717.40" y2="661.95" stroke="#000" stroke-width="6.5" stroke-linecap="butt"/>
<line x1="157.00" y1="642.94" x2="172.00" y2="642.94" stroke="#000" stroke-width="6.5" stroke-linecap="butt"/>
<line x1="1732.40" y1="642.94" x2="1717.40" y2="642.94" stroke="#000" stroke-width="6.5" stroke-linecap="butt"/>
<line x1="157.00" y1="626.88" x2="172.00" y2="626.88" stroke="#000" stroke-width="6.5" stroke-linecap="butt"/>
<line x1="1732.40" y1="626.88" x2="1717.40" y2="626.88" stroke="#000" stroke-width="6.5" stroke-linecap="butt"/>
<line x1="157.00" y1="612.96" x2="172.00" y2="612.96" stroke="#000" stroke-width="6.5" stroke-linecap="butt"/>
<line x1="1732.40" y1="612.96" x2="1717.40" y2="612.96" stroke="#000" stroke-width="6.5" stroke-linecap="butt"/>
<line x1="157.00" y1="600.68" x2="172.00" y2="600.68" stroke="#000" stroke-width="6.5" stroke-linecap="butt"/>
<line x1="1732.40" y1="600.68" x2="1717.40" y2="600.68" stroke="#000" stroke-width="6.5" stroke-linecap="butt"/>
<line x1="157.00" y1="1069.70" x2="184.00" y2="1069.70" stroke="#000" stroke-width="7.5" stroke-linecap="butt"/>
<line x1="1732.40" y1="1069.70" x2="1705.40" y2="1069.70" stroke="#000" stroke-width="7.5" stroke-linecap="butt"/>
<line x1="157.00" y1="997.45" x2="172.00" y2="997.45" stroke="#000" stroke-width="6.5" stroke-linecap="butt"/>
<line x1="1732.40" y1="997.45" x2="1717.40" y2="997.45" stroke="#000" stroke-width="6.5" stroke-linecap="butt"/>
<line x1="157.00" y1="955.19" x2="172.00" y2="955.19" stroke="#000" stroke-width="6.5" stroke-linecap="butt"/>
<line x1="1732.40" y1="955.19" x2="1717.40" y2="955.19" stroke="#000" stroke-width="6.5" stroke-linecap="butt"/>
<line x1="157.00" y1="925.21" x2="172.00" y2="925.21" stroke="#000" stroke-width="6.5" stroke-linecap="butt"/>
<line x1="1732.40" y1="925.21" x2="1717.40" y2="925.21" stroke="#000" stroke-width="6.5" stroke-linecap="butt"/>
<line x1="157.00" y1="901.95" x2="172.00" y2="901.95" stroke="#000" stroke-width="6.5" stroke-linecap="butt"/>
<line x1="1732.40" y1="901.95" x2="1717.40" y2="901.95" stroke="#000" stroke-width="6.5" stroke-linecap="butt"/>
<line x1="157.00" y1="882.94" x2="172.00" y2="882.94" stroke="#000" stroke-width="6.5" stroke-linecap="butt"/>
<line x1="1732.40" y1="882.94" x2="1717.40" y2="882.94" stroke="#000" stroke-width="6.5" stroke-linecap="butt"/>
<line x1="157.00" y1="866.88" x2="172.00" y2="866.88" stroke="#000" stroke-width="6.5" stroke-linecap="butt"/>
<line x1="1732.40" y1="866.88" x2="1717.40" y2="866.88" stroke="#000" stroke-width="6.5" stroke-linecap="butt"/>
<line x1="157.00" y1="852.96" x2="172.00" y2="852.96" stroke="#000" stroke-width="6.5" stroke-linecap="butt"/>
<line x1="1732.40" y1="852.96" x2="1717.40" y2="852.96" stroke="#000" stroke-width="6.5" stroke-linecap="butt"/>
<line x1="157.00" y1="840.68" x2="172.00" y2="840.68" stroke="#000" stroke-width="6.5" stroke-linecap="butt"/>
<line x1="1732.40" y1="840.68" x2="1717.40" y2="840.68" stroke="#000" stroke-width="6.5" stroke-linecap="butt"/>
<line x1="157.00" y1="1165.21" x2="172.00" y2="1165.21" stroke="#000" stroke-width="6.5" stroke-linecap="butt"/>
<line x1="1732.40" y1="1165.21" x2="1717.40" y2="1165.21" stroke="#000" stroke-width="6.5" stroke-linecap="butt"/>
<line x1="157.00" y1="1141.95" x2="172.00" y2="1141.95" stroke="#000" stroke-width="6.5" stroke-linecap="butt"/>
<line x1="1732.40" y1="1141.95" x2="1717.40" y2="1141.95" stroke="#000" stroke-width="6.5" stroke-linecap="butt"/>
<line x1="157.00" y1="1122.94" x2="172.00" y2="1122.94" stroke="#000" stroke-width="6.5" stroke-linecap="butt"/>
<line x1="1732.40" y1="1122.94" x2="1717.40" y2="1122.94" stroke="#000" stroke-width="6.5" stroke-linecap="butt"/>
<line x1="157.00" y1="1106.88" x2="172.00" y2="1106.88" stroke="#000" stroke-width="6.5" stroke-linecap="butt"/>
<line x1="1732.40" y1="1106.88" x2="1717.40" y2="1106.88" stroke="#000" stroke-width="6.5" stroke-linecap="butt"/>
<line x1="157.00" y1="1092.96" x2="172.00" y2="1092.96" stroke="#000" stroke-width="6.5" stroke-linecap="butt"/>
<line x1="1732.40" y1="1092.96" x2="1717.40" y2="1092.96" stroke="#000" stroke-width="6.5" stroke-linecap="butt"/>
<line x1="157.00" y1="1080.68" x2="172.00" y2="1080.68" stroke="#000" stroke-width="6.5" stroke-linecap="butt"/>
<line x1="1732.40" y1="1080.68" x2="1717.40" y2="1080.68" stroke="#000" stroke-width="6.5" stroke-linecap="butt"/>
<text x="209.90" y="152.34" font-family='"Liberation Serif", "Times New Roman", serif' font-weight="normal" font-size="95.18" textLength="103.50" lengthAdjust="spacingAndGlyphs" fill="#000" >(a)</text>
<text x="993.61" y="151.70" font-family='"Liberation Serif", "Times New Roman", serif' font-weight="normal" font-size="76.67" textLength="611.16" lengthAdjust="spacingAndGlyphs" fill="#000" >* Pyrochlore phase</text>
<text x="694.67" y="210.50" font-family='"Liberation Sans", Arial, sans-serif' font-weight="normal" font-size="53.93" textLength="140.57" lengthAdjust="spacingAndGlyphs" fill="#1a1a1a" >(111)</text>
<text x="835.37" y="225.50" font-family='"Liberation Sans", Arial, sans-serif' font-weight="normal" font-size="45.35" textLength="61.41" lengthAdjust="spacingAndGlyphs" fill="#1a1a1a" >Pt</text>
<text x="1487.51" y="299.00" font-family='"Liberation Sans", Arial, sans-serif' font-weight="normal" font-size="59.58" textLength="146.38" lengthAdjust="spacingAndGlyphs" fill="#1a1a1a" >(004)</text>
<text x="1631.34" y="316.00" font-family='"Liberation Sans", Arial, sans-serif' font-weight="normal" font-size="58.72" textLength="57.95" lengthAdjust="spacingAndGlyphs" fill="#1a1a1a" >Si</text>
<text x="718.36" y="462.90" font-family='"Liberation Serif", "Times New Roman", serif' font-weight="normal" font-size="101.87" textLength="676.77" lengthAdjust="spacingAndGlyphs" fill="#000" >BNT-BT (PLD)</text>
<text transform="translate(251.76,858.80) rotate(-90)" x="-4.14" y="0" font-family='"Liberation Serif", "Times New Roman", serif' font-weight="normal" font-size="87.57" textLength="204.08" lengthAdjust="spacingAndGlyphs" fill="#000" >(100)</text>
<text transform="translate(860.76,906.90) rotate(-90)" x="-4.11" y="0" font-family='"Liberation Serif", "Times New Roman", serif' font-weight="normal" font-size="86.13" textLength="202.73" lengthAdjust="spacingAndGlyphs" fill="#000" >(200)</text>
<text transform="translate(80.10,831.70) rotate(-90)" x="-3.06" y="0" font-family='"Liberation Serif", "Times New Roman", serif' font-weight="normal" font-size="86.90" textLength="496.69" lengthAdjust="spacingAndGlyphs" fill="#000" >Intensity (a.u.)</text>
<text x="413.91" y="950.00" font-family='"Liberation Serif", "Times New Roman", serif' font-weight="bold" font-size="47.75" textLength="22.78" lengthAdjust="spacingAndGlyphs" fill="#1a1a1a" >*</text>
<text x="542.21" y="950.00" font-family='"Liberation Serif", "Times New Roman", serif' font-weight="bold" font-size="47.75" textLength="22.78" lengthAdjust="spacingAndGlyphs" fill="#1a1a1a" >*</text>
<text x="123.58" y="1273.50" font-family='"Liberation Serif", "Times New Roman", serif' font-weight="bold" font-size="60.26" textLength="63.60" lengthAdjust="spacingAndGlyphs" fill="#000" >20</text>
<text x="254.67" y="1273.50" font-family='"Liberation Serif", "Times New Roman", serif' font-weight="bold" font-size="60.26" textLength="63.88" lengthAdjust="spacingAndGlyphs" fill="#000" >25</text>
<text x="386.28" y="1273.50" font-family='"Liberation Serif", "Times New Roman", serif' font-weight="bold" font-size="60.26" textLength="63.60" lengthAdjust="spacingAndGlyphs" fill="#000" >30</text>
<text x="517.38" y="1273.50" font-family='"Liberation Serif", "Times New Roman", serif' font-weight="bold" font-size="60.26" textLength="63.88" lengthAdjust="spacingAndGlyphs" fill="#000" >35</text>
<text x="649.61" y="1273.50" font-family='"Liberation Serif", "Times New Roman", serif' font-weight="bold" font-size="60.26" textLength="63.60" lengthAdjust="spacingAndGlyphs" fill="#000" >40</text>
<text x="780.53" y="1273.50" font-family='"Liberation Serif", "Times New Roman", serif' font-weight="bold" font-size="60.26" textLength="64.26" lengthAdjust="spacingAndGlyphs" fill="#000" >45</text>
<text x="911.34" y="1273.50" font-family='"Liberation Serif", "Times New Roman", serif' font-weight="bold" font-size="60.26" textLength="63.60" lengthAdjust="spacingAndGlyphs" fill="#000" >50</text>
<text x="1042.08" y="1273.50" font-family='"Liberation Serif", "Times New Roman", serif' font-weight="bold" font-size="60.26" textLength="64.59" lengthAdjust="spacingAndGlyphs" fill="#000" >55</text>
<text x="1174.09" y="1273.50" font-family='"Liberation Serif", "Times New Roman", serif' font-weight="bold" font-size="60.26" textLength="63.60" lengthAdjust="spacingAndGlyphs" fill="#000" >60</text>
<text x="1305.19" y="1273.50" font-family='"Liberation Serif", "Times New Roman", serif' font-weight="bold" font-size="60.26" textLength="63.88" lengthAdjust="spacingAndGlyphs" fill="#000" >65</text>
<text x="1435.93" y="1273.50" font-family='"Liberation Serif", "Times New Roman", serif' font-weight="bold" font-size="60.26" textLength="63.60" lengthAdjust="spacingAndGlyphs" fill="#000" >70</text>
<text x="1566.66" y="1273.50" font-family='"Liberation Serif", "Times New Roman", serif' font-weight="bold" font-size="60.26" textLength="64.59" lengthAdjust="spacingAndGlyphs" fill="#000" >75</text>
<text x="1699.26" y="1273.50" font-family='"Liberation Serif", "Times New Roman", serif' font-weight="bold" font-size="60.26" textLength="63.60" lengthAdjust="spacingAndGlyphs" fill="#000" >80</text>
<text x="872.42" y="1379.05" font-family='"Liberation Serif", "Times New Roman", serif' font-weight="bold" font-size="58.00" textLength="143.58" lengthAdjust="spacingAndGlyphs" fill="#000" >2θ (°)</text>
<polyline points="152.1,2335.6 152.4,2333.3 152.6,2331.2 152.9,2334.7 153.2,2336.4 153.4,2326.1 153.7,2330.9 154.0,2334.4 154.2,2334.2 154.5,2334.3 154.7,2340.9 155.0,2337.9 155.3,2326.1 155.5,2340.5 155.8,2328.8 156.1,2328.1 156.3,2337.8 156.6,2330.6 156.9,2323.6 157.1,2335.3 157.4,2334.4 157.7,2334.8 157.9,2324.8 158.2,2336.1 158.5,2328.7 158.7,2336.5 159.0,2325.4 159.2,2326.8 159.5,2321.6 159.8,2327.7 160.0,2337.1 160.3,2332.8 160.6,2328.6 160.8,2338.5 161.1,2332.5 161.4,2335.4 161.6,2333.1 161.9,2330.8 162.2,2332.0 162.4,2333.5 162.7,2337.0 162.9,2334.2 163.2,2335.6 163.5,2325.3 163.7,2321.3 164.0,2332.6 164.3,2331.7 164.5,2333.1 164.8,2325.7 165.1,2331.5 165.3,2325.3 165.6,2331.1 165.9,2330.3 166.1,2329.7 166.4,2332.2 166.7,2328.0 166.9,2330.4 167.2,2334.0 167.4,2338.2 167.7,2332.5 168.0,2334.5 168.2,2333.3 168.5,2338.9 168.8,2341.0 169.0,2326.9 169.3,2333.7 169.6,2331.7 169.8,2338.2 170.1,2317.4 170.4,2326.6 170.6,2321.0 170.9,2337.0 171.2,2331.3 171.4,2333.3 171.7,2331.9 171.9,2331.2 172.2,2331.9 172.5,2327.5 172.7,2319.1 173.0,2331.3 173.3,2329.3 173.5,2326.6 173.8,2326.4 174.1,2336.2 174.3,2325.6 174.6,2323.9 174.9,2332.8 175.1,2336.9 175.4,2322.6 175.7,2324.1 175.9,2323.8 176.2,2331.2 176.4,2332.0 176.7,2336.4 177.0,2328.8 177.2,2327.7 177.5,2325.9 177.8,2334.8 178.0,2325.8 178.3,2324.6 178.6,2327.7 178.8,2328.7 179.1,2330.9 179.4,2325.5 179.6,2337.8 179.9,2338.7 180.1,2322.8 180.4,2329.4 180.7,2323.4 180.9,2327.1 181.2,2322.1 181.5,2327.0 181.7,2329.9 182.0,2329.3 182.3,2321.4 182.5,2317.9 182.8,2318.7 183.1,2334.7 183.3,2327.4 183.6,2328.6 183.9,2335.8 184.1,2323.0 184.4,2330.4 184.6,2324.6 184.9,2329.1 185.2,2318.3 185.4,2326.0 185.7,2327.7 186.0,2328.6 186.2,2320.5 186.5,2326.7 186.8,2332.6 187.0,2327.4 187.3,2332.4 187.6,2331.3 187.8,2329.1 188.1,2325.9 188.4,2328.2 188.6,2322.9 188.9,2331.2 189.1,2329.4 189.4,2333.9 189.7,2339.5 189.9,2332.1 190.2,2330.6 190.5,2328.6 190.7,2332.0 191.0,2334.8 191.3,2326.0 191.5,2320.8 191.8,2320.3 192.1,2332.7 192.3,2329.9 192.6,2330.2 192.9,2318.6 193.1,2324.4 193.4,2319.2 193.6,2321.3 193.9,2324.3 194.2,2323.7 194.4,2335.6 194.7,2320.6 195.0,2324.0 195.2,2323.3 195.5,2327.6 195.8,2331.0 196.0,2322.9 196.3,2318.3 196.6,2324.9 196.8,2329.2 197.1,2321.3 197.3,2332.2 197.6,2321.7 197.9,2323.6 198.1,2324.6 198.4,2337.1 198.7,2331.1 198.9,2328.8 199.2,2321.6 199.5,2321.0 199.7,2323.2 200.0,2335.4 200.3,2333.8 200.5,2327.7 200.8,2323.1 201.1,2317.5 201.3,2324.4 201.6,2329.6 201.8,2329.8 202.1,2328.9 202.4,2323.1 202.6,2329.5 202.9,2325.9 203.2,2331.4 203.4,2328.1 203.7,2330.8 204.0,2328.5 204.2,2324.2 204.5,2333.0 204.8,2321.2 205.0,2330.2 205.3,2324.3 205.6,2324.7 205.8,2328.1 206.1,2323.9 206.3,2321.2 206.6,2321.7 206.9,2320.7 207.1,2326.8 207.4,2328.3 207.7,2326.2 207.9,2318.4 208.2,2327.3 208.5,2339.9 208.7,2320.6 209.0,2321.8 209.3,2331.5 209.5,2325.7 209.8,2332.3 210.1,2324.8 210.3,2319.0 210.6,2326.4 210.8,2326.3 211.1,2328.1 211.4,2322.1 211.6,2324.1 211.9,2337.4 212.2,2323.6 212.4,2335.0 212.7,2320.6 213.0,2327.8 213.2,2328.5 213.5,2331.2 213.8,2326.5 214.0,2323.1 214.3,2327.1 214.5,2318.7 214.8,2313.3 215.1,2318.4 215.3,2334.9 215.6,2331.0 215.9,2336.4 216.1,2329.2 216.4,2318.8 216.7,2321.3 216.9,2328.3 217.2,2322.2 217.5,2321.5 217.7,2320.8 218.0,2322.5 218.3,2316.5 218.5,2328.9 218.8,2322.8 219.0,2333.3 219.3,2335.4 219.6,2326.3 219.8,2332.2 220.1,2332.5 220.4,2327.7 220.6,2325.7 220.9,2333.5 221.2,2330.2 221.4,2325.7 221.7,2324.0 222.0,2326.7 222.2,2331.7 222.5,2330.3 222.8,2323.5 223.0,2325.9 223.3,2327.6 223.5,2324.5 223.8,2326.3 224.1,2321.5 224.3,2322.4 224.6,2328.3 224.9,2328.0 225.1,2325.1 225.4,2338.3 225.7,2325.9 225.9,2330.5 226.2,2328.3 226.5,2324.3 226.7,2330.5 227.0,2332.7 227.3,2326.9 227.5,2329.5 227.8,2342.0 228.0,2322.2 228.3,2325.8 228.6,2329.9 228.8,2326.9 229.1,2322.6 229.4,2324.4 229.6,2325.7 229.9,2325.5 230.2,2327.2 230.4,2335.4 230.7,2328.2 231.0,2325.0 231.2,2330.7 231.5,2330.5 231.7,2321.4 232.0,2323.8 232.3,2321.3 232.5,2328.9 232.8,2331.7 233.1,2325.9 233.3,2333.7 233.6,2324.1 233.9,2325.5 234.1,2326.8 234.4,2328.2 234.7,2336.0 234.9,2321.3 235.2,2330.2 235.5,2327.7 235.7,2333.5 236.0,2320.2 236.2,2321.1 236.5,2336.4 236.8,2334.0 237.0,2333.1 237.3,2326.7 237.6,2333.0 237.8,2327.4 238.1,2321.6 238.4,2326.7 238.6,2326.0 238.9,2321.9 239.2,2324.4 239.4,2323.8 239.7,2330.3 240.0,2332.7 240.2,2333.4 240.5,2333.4 240.7,2321.9 241.0,2330.6 241.3,2331.9 241.5,2329.8 241.8,2322.6 242.1,2312.1 242.3,2328.5 242.6,2323.2 242.9,2332.4 243.1,2319.8 243.4,2330.6 243.7,2325.4 243.9,2320.6 244.2,2325.3 244.5,2326.9 244.7,2332.2 245.0,2332.1 245.2,2334.4 245.5,2331.9 245.8,2325.4 246.0,2325.5 246.3,2328.7 246.6,2326.0 246.8,2319.1 247.1,2316.9 247.4,2332.0 247.6,2328.6 247.9,2338.5 248.2,2325.3 248.4,2333.6 248.7,2328.8 248.9,2330.6 249.2,2328.4 249.5,2334.0 249.7,2330.9 250.0,2325.6 250.3,2327.6 250.5,2326.9 250.8,2328.6 251.1,2329.4 251.3,2325.9 251.6,2325.1 251.9,2328.2 252.1,2318.7 252.4,2330.5 252.7,2330.3 252.9,2311.6 253.2,2322.5 253.4,2338.1 253.7,2316.3 254.0,2330.8 254.2,2333.7 254.5,2331.0 254.8,2333.5 255.0,2327.9 255.3,2333.1 255.6,2332.3 255.8,2327.9 256.1,2329.0 256.4,2319.6 256.6,2321.3 256.9,2334.1 257.2,2334.2 257.4,2324.2 257.7,2320.4 257.9,2318.0 258.2,2334.9 258.5,2330.6 258.7,2339.1 259.0,2335.6 259.3,2339.8 259.5,2333.3 259.8,2325.8 260.1,2327.0 260.3,2334.9 260.6,2321.2 260.9,2332.0 261.1,2326.7 261.4,2335.9 261.7,2326.0 261.9,2325.0 262.2,2334.2 262.4,2311.6 262.7,2334.8 263.0,2330.7 263.2,2325.9 263.5,2332.7 263.8,2326.5 264.0,2332.6 264.3,2329.7 264.6,2333.3 264.8,2324.1 265.1,2325.6 265.4,2339.3 265.6,2331.0 265.9,2328.3 266.1,2324.4 266.4,2326.5 266.7,2330.7 266.9,2322.8 267.2,2329.2 267.5,2328.1 267.7,2318.8 268.0,2329.6 268.3,2336.2 268.5,2327.2 268.8,2328.4 269.1,2331.0 269.3,2326.3 269.6,2320.1 269.9,2329.8 270.1,2327.3 270.4,2326.2 270.6,2337.3 270.9,2330.4 271.2,2325.7 271.4,2326.1 271.7,2338.5 272.0,2334.3 272.2,2320.2 272.5,2333.2 272.8,2327.2 273.0,2326.8 273.3,2336.1 273.6,2333.9 273.8,2325.4 274.1,2330.0 274.4,2333.6 274.6,2329.5 274.9,2332.4 275.1,2326.3 275.4,2337.3 275.7,2338.2 275.9,2326.6 276.2,2322.5 276.5,2327.7 276.7,2335.1 277.0,2331.5 277.3,2330.1 277.5,2331.4 277.8,2322.3 278.1,2330.2 278.3,2329.9 278.6,2327.0 278.9,2334.8 279.1,2326.9 279.4,2327.0 279.6,2334.4 279.9,2334.1 280.2,2331.0 280.4,2331.9 280.7,2332.8 281.0,2332.6 281.2,2325.4 281.5,2335.4 281.8,2341.9 282.0,2332.9 282.3,2329.4 282.6,2337.3 282.8,2334.4 283.1,2326.8 283.3,2330.4 283.6,2327.8 283.9,2336.6 284.1,2323.8 284.4,2338.0 284.7,2327.3 284.9,2332.7 285.2,2328.7 285.5,2333.3 285.7,2337.6 286.0,2334.7 286.3,2324.5 286.5,2329.8 286.8,2332.0 287.1,2341.7 287.3,2328.5 287.6,2329.1 287.8,2327.1 288.1,2331.1 288.4,2335.1 288.6,2326.0 288.9,2339.2 289.2,2338.5 289.4,2336.0 289.7,2335.0 290.0,2345.1 290.2,2325.8 290.5,2328.6 290.8,2343.6 291.0,2324.9 291.3,2333.5 291.6,2330.8 291.8,2326.6 292.1,2326.6 292.3,2330.7 292.6,2333.4 292.9,2334.7 293.1,2335.2 293.4,2332.4 293.7,2332.2 293.9,2335.4 294.2,2328.6 294.5,2324.7 294.7,2336.8 295.0,2320.6 295.3,2335.3 295.5,2339.4 295.8,2325.3 296.1,2319.9 296.3,2327.6 296.6,2334.1 296.8,2327.0 297.1,2338.2 297.4,2336.1 297.6,2327.0 297.9,2336.8 298.2,2324.6 298.4,2330.1 298.7,2333.9 299.0,2340.1 299.2,2337.2 299.5,2341.2 299.8,2324.7 300.0,2350.8 300.3,2328.0 300.5,2334.5 300.8,2341.7 301.1,2335.9 301.3,2339.8 301.6,2326.2 301.9,2326.8 302.1,2330.7 302.4,2330.0 302.7,2333.9 302.9,2331.5 303.2,2326.8 303.5,2334.6 303.7,2325.5 304.0,2329.5 304.3,2335.3 304.5,2328.5 304.8,2333.5 305.0,2337.3 305.3,2342.0 305.6,2340.5 305.8,2338.7 306.1,2336.6 306.4,2326.8 306.6,2329.1 306.9,2329.0 307.2,2330.9 307.4,2333.2 307.7,2328.7 308.0,2331.6 308.2,2340.4 308.5,2331.7 308.8,2323.3 309.0,2332.7 309.3,2333.5 309.5,2332.3 309.8,2346.5 310.1,2339.7 310.3,2344.0 310.6,2331.1 310.9,2338.8 311.1,2336.0 311.4,2334.2 311.7,2330.0 311.9,2336.0 312.2,2323.8 312.5,2340.2 312.7,2350.6 313.0,2343.3 313.3,2323.1 313.5,2336.1 313.8,2330.8 314.0,2331.6 314.3,2333.6 314.6,2341.8 314.8,2339.4 315.1,2330.5 315.4,2338.5 315.6,2336.2 315.9,2346.9 316.2,2327.2 316.4,2334.8 316.7,2330.2 317.0,2335.4 317.2,2324.2 317.5,2330.4 317.8,2335.1 318.0,2332.4 318.3,2330.8 318.5,2335.2 318.8,2332.7 319.1,2330.7 319.3,2334.6 319.6,2336.2 319.9,2338.0 320.1,2326.3 320.4,2333.9 320.7,2342.9 320.9,2328.2 321.2,2337.1 321.5,2333.6 321.7,2342.6 322.0,2358.9 322.2,2338.1 322.5,2333.8 322.8,2327.7 323.0,2333.7 323.3,2332.0 323.6,2337.0 323.8,2345.6 324.1,2347.7 324.4,2338.7 324.6,2337.7 324.9,2336.3 325.2,2338.8 325.4,2336.1 325.7,2347.2 326.0,2333.1 326.2,2338.0 326.5,2334.0 326.7,2342.8 327.0,2347.7 327.3,2341.3 327.5,2338.8 327.8,2338.0 328.1,2341.0 328.3,2335.2 328.6,2347.2 328.9,2347.9 329.1,2343.7 329.4,2342.7 329.7,2335.9 329.9,2348.5 330.2,2330.5 330.5,2334.3 330.7,2350.4 331.0,2336.1 331.2,2333.9 331.5,2329.3 331.8,2344.5 332.0,2345.4 332.3,2340.0 332.6,2329.7 332.8,2338.4 333.1,2334.5 333.4,2344.1 333.6,2347.3 333.9,2341.6 334.2,2341.6 334.4,2348.0 334.7,2348.9 335.0,2332.7 335.2,2342.0 335.5,2332.9 335.7,2335.2 336.0,2346.1 336.3,2333.4 336.5,2338.8 336.8,2346.8 337.1,2342.4 337.3,2330.7 337.6,2339.4 337.9,2338.7 338.1,2335.0 338.4,2351.7 338.7,2340.5 338.9,2340.6 339.2,2346.2 339.4,2341.3 339.7,2333.0 340.0,2340.6 340.2,2343.0 340.5,2341.6 340.8,2346.7 341.0,2345.7 341.3,2343.8 341.6,2340.0 341.8,2341.2 342.1,2351.9 342.4,2331.8 342.6,2347.5 342.9,2343.7 343.2,2337.4 343.4,2341.3 343.7,2344.8 343.9,2333.5 344.2,2342.4 344.5,2344.8 344.7,2336.6 345.0,2342.4 345.3,2349.6 345.5,2342.9 345.8,2337.0 346.1,2332.9 346.3,2332.0 346.6,2347.5 346.9,2340.9 347.1,2341.5 347.4,2340.9 347.7,2338.0 347.9,2352.1 348.2,2346.2 348.4,2350.7 348.7,2335.6 349.0,2345.8 349.2,2346.2 349.5,2336.1 349.8,2337.7 350.0,2338.0 350.3,2348.5 350.6,2344.0 350.8,2338.8 351.1,2346.8 351.4,2339.2 351.6,2343.7 351.9,2342.6 352.2,2338.2 352.4,2348.5 352.7,2343.4 352.9,2330.3 353.2,2342.2 353.5,2351.8 353.7,2330.7 354.0,2348.5 354.3,2344.7 354.5,2336.5 354.8,2343.4 355.1,2337.1 355.3,2334.9 355.6,2345.8 355.9,2345.3 356.1,2333.5 356.4,2340.7 356.6,2344.0 356.9,2334.9 357.2,2350.0 357.4,2339.8 357.7,2346.3 358.0,2347.7 358.2,2338.8 358.5,2346.1 358.8,2344.8 359.0,2346.5 359.3,2341.8 359.6,2349.8 359.8,2348.4 360.1,2353.1 360.4,2350.5 360.6,2336.8 360.9,2341.3 361.1,2347.0 361.4,2350.3 361.7,2340.7 361.9,2344.8 362.2,2346.5 362.5,2344.2 362.7,2350.5 363.0,2341.2 363.3,2347.8 363.5,2340.5 363.8,2347.4 364.1,2339.8 364.3,2343.5 364.6,2350.4 364.9,2339.7 365.1,2345.6 365.4,2348.9 365.6,2344.7 365.9,2343.8 366.2,2345.4 366.4,2340.4 366.7,2349.7 367.0,2349.6 367.2,2355.4 367.5,2347.2 367.8,2351.8 368.0,2342.8 368.3,2348.4 368.6,2340.5 368.8,2347.2 369.1,2344.0 369.4,2351.3 369.6,2334.3 369.9,2345.0 370.1,2344.3 370.4,2349.8 370.7,2342.0 370.9,2343.7 371.2,2353.3 371.5,2342.6 371.7,2344.0 372.0,2352.7 372.3,2334.3 372.5,2348.6 372.8,2348.3 373.1,2347.9 373.3,2336.3 373.6,2338.4 373.8,2341.8 374.1,2341.7 374.4,2350.4 374.6,2344.1 374.9,2354.7 375.2,2346.6 375.4,2350.2 375.7,2343.0 376.0,2343.4 376.2,2349.3 376.5,2351.9 376.8,2343.2 377.0,2354.3 377.3,2345.7 377.6,2356.0 377.8,2340.1 378.1,2345.2 378.3,2350.9 378.6,2346.8 378.9,2344.0 379.1,2351.0 379.4,2352.7 379.7,2345.1 379.9,2351.8 380.2,2345.0 380.5,2343.0 380.7,2354.8 381.0,2344.3 381.3,2344.8 381.5,2352.0 381.8,2342.1 382.1,2342.3 382.3,2346.2 382.6,2363.2 382.8,2353.1 383.1,2346.8 383.4,2344.2 383.6,2340.6 383.9,2346.1 384.2,2345.3 384.4,2354.3 384.7,2338.9 385.0,2337.9 385.2,2349.9 385.5,2346.8 385.8,2350.7 386.0,2357.4 386.3,2339.0 386.6,2349.2 386.8,2344.8 387.1,2357.6 387.3,2350.3 387.6,2357.1 387.9,2348.3 388.1,2354.6 388.4,2350.6 388.7,2344.9 388.9,2354.0 389.2,2346.8 389.5,2335.7 389.7,2348.1 390.0,2341.7 390.3,2351.8 390.5,2357.6 390.8,2350.5 391.0,2352.0 391.3,2341.8 391.6,2344.4 391.8,2345.6 392.1,2360.3 392.4,2346.6 392.6,2350.6 392.9,2338.5 393.2,2346.2 393.4,2349.9 393.7,2348.4 394.0,2347.5 394.2,2351.8 394.5,2352.1 394.8,2342.4 395.0,2341.6 395.3,2352.6 395.5,2354.1 395.8,2341.6 396.1,2353.4 396.3,2341.4 396.6,2348.6 396.9,2357.0 397.1,2340.2 397.4,2349.6 397.7,2348.4 397.9,2343.1 398.2,2354.2 398.5,2344.3 398.7,2345.9 399.0,2343.4 399.3,2352.4 399.5,2353.2 399.8,2357.9 400.0,2348.6 400.3,2345.2 400.6,2358.7 400.8,2346.5 401.1,2354.1 401.4,2359.6 401.6,2354.8 401.9,2339.6 402.2,2344.2 402.4,2345.7 402.7,2355.2 403.0,2345.8 403.2,2354.9 403.5,2351.7 403.8,2351.4 404.0,2350.3 404.3,2346.1 404.5,2358.5 404.8,2351.3 405.1,2359.4 405.3,2345.3 405.6,2340.7 405.9,2358.9 406.1,2343.9 406.4,2351.4 406.7,2348.6 406.9,2349.9 407.2,2348.9 407.5,2344.4 407.7,2343.9 408.0,2352.2 408.2,2346.8 408.5,2361.1 408.8,2351.5 409.0,2359.3 409.3,2348.3 409.6,2355.8 409.8,2347.6 410.1,2345.6 410.4,2349.8 410.6,2350.1 410.9,2366.6 411.2,2343.5 411.4,2347.5 411.7,2355.6 412.0,2350.5 412.2,2352.3 412.5,2356.1 412.7,2350.7 413.0,2347.3 413.3,2343.6 413.5,2351.2 413.8,2354.9 414.1,2352.9 414.3,2358.7 414.6,2349.3 414.9,2353.5 415.1,2346.9 415.4,2340.5 415.7,2355.4 415.9,2349.2 416.2,2355.8 416.5,2348.4 416.7,2342.9 417.0,2346.7 417.2,2350.4 417.5,2348.1 417.8,2350.5 418.0,2355.5 418.3,2352.2 418.6,2355.1 418.8,2351.5 419.1,2348.3 419.4,2346.6 419.6,2339.4 419.9,2356.0 420.2,2359.1 420.4,2346.7 420.7,2347.0 421.0,2347.6 421.2,2354.7 421.5,2353.3 421.7,2351.4 422.0,2352.5 422.3,2343.0 422.5,2352.1 422.8,2351.8 423.1,2355.9 423.3,2348.8 423.6,2349.9 423.9,2354.4 424.1,2369.1 424.4,2349.6 424.7,2365.4 424.9,2347.8 425.2,2353.7 425.4,2347.9 425.7,2361.6 426.0,2354.3 426.2,2354.7 426.5,2359.7 426.8,2361.4 427.0,2349.8 427.3,2355.2 427.6,2350.9 427.8,2360.8 428.1,2341.4 428.4,2367.0 428.6,2352.6 428.9,2341.7 429.2,2355.8 429.4,2349.1 429.7,2354.4 429.9,2355.0 430.2,2360.7 430.5,2343.4 430.7,2356.7 431.0,2361.3 431.3,2346.7 431.5,2359.0 431.8,2359.4 432.1,2351.4 432.3,2343.2 432.6,2355.6 432.9,2351.9 433.1,2364.2 433.4,2353.5 433.7,2359.1 433.9,2357.1 434.2,2356.2 434.4,2347.6 434.7,2350.8 435.0,2355.8 435.2,2354.7 435.5,2354.6 435.8,2359.9 436.0,2355.7 436.3,2359.7 436.6,2356.0 436.8,2357.8 437.1,2352.4 437.4,2346.6 437.6,2360.8 437.9,2360.9 438.2,2359.7 438.4,2351.0 438.7,2362.5 438.9,2356.5 439.2,2357.0 439.5,2352.0 439.7,2363.5 440.0,2352.3 440.3,2358.4 440.5,2352.1 440.8,2356.1 441.1,2353.0 441.3,2348.7 441.6,2356.8 441.9,2357.3 442.1,2357.0 442.4,2338.8 442.6,2362.9 442.9,2356.7 443.2,2351.0 443.4,2368.3 443.7,2357.0 444.0,2361.4 444.2,2357.8 444.5,2343.1 444.8,2364.3 445.0,2350.3 445.3,2363.7 445.6,2356.5 445.8,2352.1 446.1,2342.6 446.4,2354.5 446.6,2351.4 446.9,2357.7 447.1,2350.9 447.4,2361.9 447.7,2354.5 447.9,2355.0 448.2,2369.7 448.5,2362.6 448.7,2354.0 449.0,2360.1 449.3,2348.3 449.5,2353.5 449.8,2371.9 450.1,2353.7 450.3,2352.2 450.6,2366.0 450.9,2354.7 451.1,2353.5 451.4,2354.8 451.6,2354.5 451.9,2363.3 452.2,2360.3 452.4,2349.6 452.7,2366.8 453.0,2365.3 453.2,2357.1 453.5,2352.9 453.8,2359.0 454.0,2355.5 454.3,2362.1 454.6,2358.8 454.8,2366.8 455.1,2349.4 455.4,2355.5 455.6,2361.0 455.9,2356.4 456.1,2356.9 456.4,2352.5 456.7,2371.0 456.9,2358.5 457.2,2363.8 457.5,2355.0 457.7,2357.0 458.0,2359.4 458.3,2369.8 458.5,2368.2 458.8,2372.5 459.1,2369.2 459.3,2369.1 459.6,2358.9 459.8,2356.1 460.1,2368.2 460.4,2356.1 460.6,2363.6 460.9,2356.8 461.2,2354.2 461.4,2361.0 461.7,2355.3 462.0,2358.9 462.2,2366.1 462.5,2359.7 462.8,2366.9 463.0,2358.3 463.3,2363.1 463.6,2355.0 463.8,2369.1 464.1,2348.9 464.3,2363.0 464.6,2364.7 464.9,2345.7 465.1,2351.6 465.4,2352.3 465.7,2361.1 465.9,2360.1 466.2,2359.7 466.5,2365.5 466.7,2375.6 467.0,2355.8 467.3,2364.1 467.5,2362.3 467.8,2368.7 468.1,2349.3 468.3,2352.4 468.6,2355.8 468.8,2355.8 469.1,2363.8 469.4,2359.6 469.6,2350.4 469.9,2358.1 470.2,2352.9 470.4,2358.1 470.7,2361.6 471.0,2358.1 471.2,2370.3 471.5,2376.6 471.8,2366.0 472.0,2353.7 472.3,2371.8 472.6,2375.9 472.8,2362.1 473.1,2365.6 473.3,2370.0 473.6,2364.7 473.9,2371.1 474.1,2367.0 474.4,2360.0 474.7,2360.8 474.9,2362.3 475.2,2359.7 475.5,2371.9 475.7,2365.9 476.0,2362.9 476.3,2369.0 476.5,2364.7 476.8,2370.6 477.0,2374.1 477.3,2365.4 477.6,2360.9 477.8,2357.4 478.1,2375.3 478.4,2367.0 478.6,2361.1 478.9,2364.2 479.2,2358.0 479.4,2373.1 479.7,2366.9 480.0,2362.8 480.2,2356.2 480.5,2378.0 480.8,2366.0 481.0,2351.8 481.3,2361.9 481.5,2365.3 481.8,2366.5 482.1,2359.0 482.3,2372.7 482.6,2369.3 482.9,2366.1 483.1,2361.9 483.4,2355.1 483.7,2363.2 483.9,2364.8 484.2,2358.9 484.5,2368.0 484.7,2371.1 485.0,2363.5 485.3,2364.0 485.5,2366.4 485.8,2376.7 486.0,2375.3 486.3,2356.6 486.6,2363.8 486.8,2382.4 487.1,2364.9 487.4,2377.7 487.6,2370.2 487.9,2374.9 488.2,2365.1 488.4,2367.8 488.7,2370.7 489.0,2367.4 489.2,2367.2 489.5,2376.3 489.8,2366.7 490.0,2375.8 490.3,2364.2 490.5,2366.0 490.8,2372.4 491.1,2371.2 491.3,2374.1 491.6,2368.5 491.9,2368.1 492.1,2365.5 492.4,2358.8 492.7,2366.0 492.9,2374.9 493.2,2368.2 493.5,2370.0 493.7,2376.4 494.0,2363.3 494.2,2371.1 494.5,2365.6 494.8,2376.0 495.0,2360.2 495.3,2367.1 495.6,2366.2 495.8,2367.4 496.1,2366.1 496.4,2381.0 496.6,2368.3 496.9,2368.8 497.2,2361.0 497.4,2361.8 497.7,2365.3 498.0,2362.6 498.2,2373.2 498.5,2366.6 498.7,2367.5 499.0,2369.5 499.3,2364.8 499.5,2362.8 499.8,2366.4 500.1,2371.9 500.3,2370.0 500.6,2365.6 500.9,2380.6 501.1,2373.2 501.4,2375.1 501.7,2380.5 501.9,2365.6 502.2,2377.1 502.5,2372.9 502.7,2373.2 503.0,2362.2 503.2,2366.6 503.5,2371.7 503.8,2371.4 504.0,2381.2 504.3,2369.6 504.6,2373.5 504.8,2370.2 505.1,2364.2 505.4,2370.1 505.6,2374.8 505.9,2383.0 506.2,2380.0 506.4,2369.2 506.7,2367.1 507.0,2372.5 507.2,2369.3 507.5,2387.9 507.7,2378.1 508.0,2372.7 508.3,2369.8 508.5,2366.7 508.8,2372.7 509.1,2357.6 509.3,2371.1 509.6,2370.7 509.9,2382.9 510.1,2363.0 510.4,2379.3 510.7,2371.8 510.9,2378.7 511.2,2384.2 511.4,2376.6 511.7,2379.4 512.0,2389.9 512.2,2369.5 512.5,2373.7 512.8,2373.9 513.0,2371.1 513.3,2374.2 513.6,2375.0 513.8,2372.9 514.1,2364.5 514.4,2376.7 514.6,2366.3 514.9,2374.8 515.2,2381.6 515.4,2367.7 515.7,2374.8 515.9,2376.9 516.2,2375.5 516.5,2373.0 516.7,2376.1 517.0,2380.2 517.3,2370.0 517.5,2375.2 517.8,2380.7 518.1,2372.8 518.3,2369.2 518.6,2381.3 518.9,2381.0 519.1,2382.7 519.4,2376.9 519.7,2373.1 519.9,2386.5 520.2,2384.9 520.4,2382.3 520.7,2374.4 521.0,2378.3 521.2,2372.3 521.5,2371.3 521.8,2378.4 522.0,2379.9 522.3,2381.5 522.6,2378.8 522.8,2390.8 523.1,2372.4 523.4,2386.6 523.6,2376.1 523.9,2384.5 524.2,2373.2 524.4,2392.4 524.7,2387.9 524.9,2391.6 525.2,2387.3 525.5,2380.5 525.7,2385.1 526.0,2379.6 526.3,2378.9 526.5,2371.4 526.8,2377.1 527.1,2380.0 527.3,2369.9 527.6,2374.3 527.9,2380.5 528.1,2383.3 528.4,2377.9 528.6,2389.4 528.9,2377.7 529.2,2384.8 529.4,2389.2 529.7,2376.4 530.0,2388.5 530.2,2380.7 530.5,2376.4 530.8,2391.7 531.0,2392.0 531.3,2380.1 531.6,2388.7 531.8,2388.3 532.1,2382.2 532.4,2396.0 532.6,2381.9 532.9,2378.6 533.1,2383.0 533.4,2382.3 533.7,2380.4 533.9,2381.5 534.2,2375.0 534.5,2387.2 534.7,2375.1 535.0,2390.5 535.3,2388.1 535.5,2381.5 535.8,2381.6 536.1,2380.1 536.3,2384.3 536.6,2395.3 536.9,2386.6 537.1,2382.0 537.4,2395.6 537.6,2382.4 537.9,2382.8 538.2,2398.4 538.4,2389.4 538.7,2392.8 539.0,2389.3 539.2,2388.9 539.5,2390.0 539.8,2390.6 540.0,2399.7 540.3,2378.8 540.6,2371.4 540.8,2384.6 541.1,2377.2 541.4,2387.5 541.6,2379.3 541.9,2387.0 542.1,2393.8 542.4,2383.8 542.7,2382.5 542.9,2392.2 543.2,2382.7 543.5,2387.0 543.7,2397.4 544.0,2379.7 544.3,2393.7 544.5,2381.2 544.8,2393.7 545.1,2390.6 545.3,2381.6 545.6,2386.2 545.8,2393.9 546.1,2386.9 546.4,2402.5 546.6,2382.7 546.9,2396.5 547.2,2378.8 547.4,2387.6 547.7,2395.6 548.0,2387.5 548.2,2391.3 548.5,2382.8 548.8,2381.5 549.0,2385.3 549.3,2386.6 549.6,2387.0 549.8,2386.5 550.1,2384.9 550.3,2374.0 550.6,2399.1 550.9,2404.0 551.1,2393.7 551.4,2389.1 551.7,2384.8 551.9,2392.9 552.2,2393.1 552.5,2385.7 552.7,2390.4 553.0,2396.4 553.3,2393.6 553.5,2391.5 553.8,2392.8 554.1,2387.4 554.3,2391.8 554.6,2392.8 554.8,2387.7 555.1,2391.8 555.4,2398.5 555.6,2399.5 555.9,2378.8 556.2,2383.7 556.4,2399.6 556.7,2396.0 557.0,2396.2 557.2,2384.4 557.5,2394.0 557.8,2397.5 558.0,2396.6 558.3,2389.2 558.6,2390.3 558.8,2396.2 559.1,2395.4 559.3,2403.0 559.6,2379.6 559.9,2390.7 560.1,2402.8 560.4,2387.3 560.7,2395.6 560.9,2404.4 561.2,2388.5 561.5,2397.4 561.7,2408.0 562.0,2387.0 562.3,2382.4 562.5,2402.6 562.8,2392.6 563.0,2395.5 563.3,2396.5 563.6,2404.3 563.8,2394.3 564.1,2402.9 564.4,2401.5 564.6,2396.5 564.9,2403.7 565.2,2398.8 565.4,2396.2 565.7,2417.2 566.0,2383.6 566.2,2389.4 566.5,2390.4 566.8,2394.5 567.0,2398.6 567.3,2396.0 567.5,2413.0 567.8,2394.3 568.1,2390.5 568.3,2398.1 568.6,2395.1 568.9,2394.8 569.1,2404.5 569.4,2400.5 569.7,2406.1 569.9,2391.3 570.2,2402.8 570.5,2398.8 570.7,2394.6 571.0,2388.2 571.3,2398.5 571.5,2391.1 571.8,2404.1 572.0,2402.4 572.3,2402.7 572.6,2418.7 572.8,2408.3 573.1,2385.7 573.4,2403.8 573.6,2401.3 573.9,2401.4 574.2,2396.6 574.4,2406.5 574.7,2380.7 575.0,2391.1 575.2,2404.7 575.5,2401.8 575.8,2406.9 576.0,2398.0 576.3,2397.0 576.5,2406.3 576.8,2402.1 577.1,2388.9 577.3,2407.7 577.6,2393.5 577.9,2407.5 578.1,2402.7 578.4,2405.5 578.7,2408.7 578.9,2394.5 579.2,2406.3 579.5,2401.3 579.7,2400.0 580.0,2402.0 580.2,2398.4 580.5,2402.4 580.8,2403.9 581.0,2397.7 581.3,2410.1 581.6,2403.1 581.8,2394.6 582.1,2405.8 582.4,2406.3 582.6,2392.5 582.9,2404.8 583.2,2400.2 583.4,2404.8 583.7,2401.8 584.0,2405.8 584.2,2404.5 584.5,2386.9 584.7,2403.9 585.0,2407.3 585.3,2408.6 585.5,2412.4 585.8,2406.0 586.1,2413.1 586.3,2409.9 586.6,2400.4 586.9,2398.8 587.1,2413.2 587.4,2409.1 587.7,2391.4 587.9,2396.5 588.2,2412.7 588.5,2405.5 588.7,2391.8 589.0,2407.7 589.2,2411.7 589.5,2409.4 589.8,2404.3 590.0,2403.3 590.3,2400.9 590.6,2401.1 590.8,2406.9 591.1,2423.5 591.4,2424.1 591.6,2403.9 591.9,2394.3 592.2,2404.6 592.4,2403.3 592.7,2403.6 593.0,2393.2 593.2,2405.0 593.5,2400.8 593.7,2406.1 594.0,2394.3 594.3,2406.1 594.5,2396.9 594.8,2399.8 595.1,2401.2 595.3,2402.0 595.6,2402.1 595.9,2402.1 596.1,2401.7 596.4,2401.1 596.7,2402.1 596.9,2403.9 597.2,2420.7 597.4,2413.5 597.7,2402.2 598.0,2396.5 598.2,2415.4 598.5,2406.8 598.8,2409.6 599.0,2415.8 599.3,2392.8 599.6,2402.6 599.8,2408.7 600.1,2417.8 600.4,2406.7 600.6,2408.0 600.9,2407.2 601.2,2407.3 601.4,2408.8 601.7,2403.4 601.9,2402.4 602.2,2404.9 602.5,2412.6 602.7,2416.8 603.0,2409.0 603.3,2406.0 603.5,2417.5 603.8,2412.5 604.1,2413.9 604.3,2407.4 604.6,2405.2 604.9,2412.2 605.1,2407.3 605.4,2417.6 605.7,2401.9 605.9,2411.2 606.2,2408.9 606.4,2401.0 606.7,2406.2 607.0,2400.9 607.2,2406.3 607.5,2407.0 607.8,2429.5 608.0,2401.2 608.3,2414.2 608.6,2405.8 608.8,2412.2 609.1,2406.8 609.4,2403.3 609.6,2420.6 609.9,2418.3 610.2,2396.2 610.4,2408.6 610.7,2407.0 610.9,2397.5 611.2,2411.2 611.5,2413.9 611.7,2410.4 612.0,2413.6 612.3,2423.9 612.5,2406.6 612.8,2420.0 613.1,2427.3 613.3,2387.7 613.6,2408.6 613.9,2421.0 614.1,2413.2 614.4,2405.8 614.6,2421.8 614.9,2417.6 615.2,2398.1 615.4,2417.2 615.7,2409.4 616.0,2412.5 616.2,2401.7 616.5,2415.3 616.8,2412.3 617.0,2403.7 617.3,2408.5 617.6,2422.4 617.8,2423.4 618.1,2399.5 618.4,2415.3 618.6,2409.0 618.9,2407.4 619.1,2413.5 619.4,2423.6 619.7,2416.0 619.9,2404.0 620.2,2412.1 620.5,2415.3 620.7,2420.6 621.0,2411.3 621.3,2413.0 621.5,2413.8 621.8,2417.2 622.1,2397.0 622.3,2423.2 622.6,2414.7 622.9,2412.2 623.1,2403.5 623.4,2414.3 623.6,2428.1 623.9,2407.5 624.2,2399.3 624.4,2415.9 624.7,2412.6 625.0,2412.1 625.2,2400.2 625.5,2415.9 625.8,2417.7 626.0,2377.7 626.3,2413.9 626.6,2418.8 626.8,2405.4 627.1,2395.5 627.4,2413.5 627.6,2430.2 627.9,2415.8 628.1,2431.2 628.4,2415.7 628.7,2411.1 628.9,2431.8 629.2,2424.5 629.5,2402.2 629.7,2408.0 630.0,2409.7 630.3,2415.5 630.5,2413.5 630.8,2401.0 631.1,2403.6 631.3,2427.2 631.6,2414.0 631.9,2413.3 632.1,2410.4 632.4,2415.6 632.6,2407.2 632.9,2422.5 633.2,2420.4 633.4,2413.3 633.7,2421.0 634.0,2412.1 634.2,2410.0 634.5,2421.6 634.8,2412.7 635.0,2406.8 635.3,2426.6 635.6,2412.0 635.8,2417.3 636.1,2426.0 636.3,2403.1 636.6,2411.0 636.9,2421.6 637.1,2411.2 637.4,2409.9 637.7,2412.4 637.9,2411.1 638.2,2411.1 638.5,2417.0 638.7,2414.4 639.0,2428.0 639.3,2416.4 639.5,2427.6 639.8,2414.8 640.1,2428.2 640.3,2412.6 640.6,2423.9 640.8,2415.1 641.1,2427.2 641.4,2407.2 641.6,2409.9 641.9,2417.0 642.2,2405.7 642.4,2425.9 642.7,2412.2 643.0,2418.1 643.2,2422.3 643.5,2418.7 643.8,2407.6 644.0,2402.6 644.3,2399.7 644.6,2406.1 644.8,2407.4 645.1,2407.0 645.3,2417.4 645.6,2402.2 645.9,2400.0 646.1,2415.0 646.4,2428.4 646.7,2405.7 646.9,2412.4 647.2,2413.0 647.5,2422.5 647.7,2420.6 648.0,2409.6 648.3,2421.0 648.5,2413.8 648.8,2420.0 649.1,2428.3 649.3,2394.8 649.6,2401.2 649.8,2401.7 650.1,2402.6 650.4,2413.8 650.6,2413.9 650.9,2427.4 651.2,2424.6 651.4,2415.2 651.7,2411.6 652.0,2418.2 652.2,2416.1 652.5,2408.5 652.8,2418.2 653.0,2408.1 653.3,2411.5 653.5,2410.9 653.8,2407.1 654.1,2406.6 654.3,2412.4 654.6,2410.8 654.9,2401.5 655.1,2425.4 655.4,2425.6 655.7,2425.0 655.9,2421.0 656.2,2410.3 656.5,2403.1 656.7,2402.4 657.0,2396.3 657.3,2407.8 657.5,2396.1 657.8,2410.9 658.0,2412.0 658.3,2405.2 658.6,2404.9 658.8,2408.5 659.1,2413.3 659.4,2405.7 659.6,2421.7 659.9,2400.6 660.2,2402.4 660.4,2403.1 660.7,2404.8 661.0,2407.6 661.2,2409.7 661.5,2402.3 661.8,2416.5 662.0,2389.2 662.3,2404.8 662.5,2402.3 662.8,2390.8 663.1,2389.5 663.3,2400.1 663.6,2406.7 663.9,2400.1 664.1,2395.4 664.4,2392.4 664.7,2389.8 664.9,2389.0 665.2,2394.8 665.5,2396.1 665.7,2390.6 666.0,2380.5 666.3,2386.9 666.5,2387.8 666.8,2367.0 667.0,2378.5 667.3,2370.7 667.6,2372.2 667.8,2361.0 668.1,2359.5 668.4,2362.2 668.6,2356.6 668.9,2353.7 669.2,2348.1 669.4,2351.9 669.7,2351.6 670.0,2336.8 670.2,2339.3 670.5,2331.5 670.7,2330.9 671.0,2330.8 671.3,2321.9 671.5,2315.4 671.8,2306.2 672.1,2311.7 672.3,2309.0 672.6,2287.6 672.9,2293.8 673.1,2285.2 673.4,2275.5 673.7,2282.8 673.9,2272.1 674.2,2273.3 674.5,2255.8 674.7,2251.7 675.0,2242.2 675.2,2243.1 675.5,2230.9 675.8,2231.0 676.0,2231.5 676.3,2224.0 676.6,2220.7 676.8,2212.7 677.1,2210.3 677.4,2202.5 677.6,2194.0 677.9,2196.2 678.2,2190.3 678.4,2183.9 678.7,2179.4 679.0,2184.4 679.2,2171.3 679.5,2171.5 679.7,2173.3 680.0,2172.1 680.3,2169.0 680.5,2161.5 680.8,2169.4 681.1,2164.4 681.3,2159.2 681.6,2167.9 681.9,2164.0 682.1,2158.4 682.4,2156.4 682.7,2166.3 682.9,2166.1 683.2,2171.1 683.5,2172.8 683.7,2171.9 684.0,2178.9 684.2,2181.1 684.5,2179.7 684.8,2189.9 685.0,2191.6 685.3,2194.1 685.6,2200.3 685.8,2200.3 686.1,2204.9 686.4,2212.2 686.6,2213.8 686.9,2228.5 687.2,2228.6 687.4,2235.8 687.7,2245.4 687.9,2249.5 688.2,2257.7 688.5,2250.7 688.7,2266.9 689.0,2263.5 689.3,2269.8 689.5,2277.1 689.8,2281.9 690.1,2286.8 690.3,2293.6 690.6,2304.6 690.9,2291.8 691.1,2300.2 691.4,2305.8 691.7,2318.7 691.9,2322.4 692.2,2328.4 692.4,2341.0 692.7,2335.3 693.0,2331.3 693.2,2345.7 693.5,2357.7 693.8,2362.6 694.0,2354.1 694.3,2358.9 694.6,2363.3 694.8,2368.2 695.1,2366.5 695.4,2367.2 695.6,2383.4 695.9,2386.0 696.2,2378.3 696.4,2376.5 696.7,2378.4 696.9,2376.7 697.2,2377.9 697.5,2386.7 697.7,2385.1 698.0,2394.2 698.3,2389.8 698.5,2388.1 698.8,2393.5 699.1,2378.1 699.3,2402.0 699.6,2398.2 699.9,2412.4 700.1,2398.6 700.4,2401.9 700.7,2396.4 700.9,2422.3 701.2,2407.9 701.4,2416.6 701.7,2404.0 702.0,2412.6 702.2,2399.9 702.5,2403.2 702.8,2406.4 703.0,2401.7 703.3,2416.4 703.6,2417.8 703.8,2421.3 704.1,2402.9 704.4,2406.1 704.6,2411.2 704.9,2417.8 705.1,2400.7 705.4,2410.0 705.7,2422.0 705.9,2413.7 706.2,2412.0 706.5,2402.9 706.7,2410.3 707.0,2420.0 707.3,2423.1 707.5,2398.3 707.8,2417.7 708.1,2410.7 708.3,2405.5 708.6,2431.6 708.9,2420.7 709.1,2404.5 709.4,2405.1 709.6,2416.5 709.9,2401.0 710.2,2413.1 710.4,2419.8 710.7,2402.7 711.0,2416.9 711.2,2419.5 711.5,2409.2 711.8,2419.1 712.0,2421.9 712.3,2419.7 712.6,2409.3 712.8,2424.0 713.1,2412.7 713.4,2418.0 713.6,2416.6 713.9,2416.1 714.1,2396.8 714.4,2426.3 714.7,2421.0 714.9,2417.7 715.2,2422.4 715.5,2412.5 715.7,2415.2 716.0,2421.6 716.3,2395.8 716.5,2409.6 716.8,2411.1 717.1,2414.0 717.3,2411.8 717.6,2409.5 717.9,2419.5 718.1,2424.8 718.4,2421.7 718.6,2427.3 718.9,2422.4 719.2,2431.9 719.4,2433.1 719.7,2413.0 720.0,2409.6 720.2,2411.8 720.5,2414.3 720.8,2425.0 721.0,2423.0 721.3,2420.0 721.6,2411.3 721.8,2413.8 722.1,2416.1 722.3,2420.3 722.6,2388.1 722.9,2420.7 723.1,2423.2 723.4,2411.1 723.7,2432.6 723.9,2426.1 724.2,2425.5 724.5,2402.6 724.7,2426.6 725.0,2420.2 725.3,2420.7 725.5,2395.6 725.8,2403.1 726.1,2415.7 726.3,2405.3 726.6,2432.2 726.8,2407.6 727.1,2426.6 727.4,2422.8 727.6,2447.9 727.9,2419.7 728.2,2434.4 728.4,2414.8 728.7,2407.7 729.0,2423.0 729.2,2432.5 729.5,2414.0 729.8,2430.3 730.0,2425.6 730.3,2419.9 730.6,2421.9 730.8,2421.2 731.1,2413.6 731.3,2421.4 731.6,2424.3 731.9,2412.4 732.1,2393.1 732.4,2426.8 732.7,2413.1 732.9,2426.0 733.2,2411.4 733.5,2424.3 733.7,2418.0 734.0,2417.0 734.3,2419.9 734.5,2424.2 734.8,2402.2 735.1,2433.5 735.3,2431.2 735.6,2424.0 735.8,2403.6 736.1,2429.6 736.4,2420.8 736.6,2438.1 736.9,2416.0 737.2,2418.9 737.4,2431.3 737.7,2398.4 738.0,2416.9 738.2,2419.2 738.5,2396.6 738.8,2411.1 739.0,2423.7 739.3,2424.8 739.5,2438.9 739.8,2431.5 740.1,2407.1 740.3,2429.8 740.6,2425.6 740.9,2422.7 741.1,2409.3 741.4,2441.6 741.7,2462.3 741.9,2424.9 742.2,2413.0 742.5,2409.5 742.7,2409.7 743.0,2431.5 743.3,2403.5 743.5,2434.3 743.8,2420.1 744.0,2425.9 744.3,2430.3 744.6,2448.1 744.8,2430.2 745.1,2420.4 745.4,2426.3 745.6,2423.8 745.9,2422.7 746.2,2423.5 746.4,2411.5 746.7,2425.9 747.0,2407.6 747.2,2435.0 747.5,2418.4 747.8,2409.7 748.0,2429.9 748.3,2430.2 748.5,2453.6 748.8,2406.4 749.1,2408.4 749.3,2428.8 749.6,2447.9 749.9,2425.8 750.1,2426.2 750.4,2429.5 750.7,2413.4 750.9,2435.4 751.2,2416.1 751.5,2423.6 751.7,2414.1 752.0,2409.7 752.3,2414.6 752.5,2412.8 752.8,2418.8 753.0,2440.6 753.3,2426.7 753.6,2417.1 753.8,2428.1 754.1,2417.0 754.4,2436.2 754.6,2502.0 754.9,2419.5 755.2,2423.1 755.4,2424.5 755.7,2412.2 756.0,2410.7 756.2,2422.2 756.5,2413.5 756.7,2423.5 757.0,2433.5 757.3,2421.3 757.5,2430.5 757.8,2443.9 758.1,2419.0 758.3,2440.4 758.6,2414.6 758.9,2410.9 759.1,2426.1 759.4,2422.3 759.7,2407.3 759.9,2439.0 760.2,2434.0 760.5,2413.0 760.7,2421.9 761.0,2423.3 761.2,2410.0 761.5,2428.0 761.8,2408.7 762.0,2404.3 762.3,2441.0 762.6,2417.1 762.8,2415.6 763.1,2421.8 763.4,2416.1 763.6,2449.3 763.9,2429.8 764.2,2434.2 764.4,2434.9 764.7,2449.3 765.0,2398.4 765.2,2433.6 765.5,2426.6 765.7,2452.0 766.0,2438.3 766.3,2431.9 766.5,2404.3 766.8,2427.5 767.1,2422.7 767.3,2437.8 767.6,2400.1 767.9,2432.2 768.1,2441.3 768.4,2432.5 768.7,2429.3 768.9,2400.0 769.2,2432.9 769.5,2424.3 769.7,2415.4 770.0,2436.0 770.2,2424.3 770.5,2444.5 770.8,2437.6 771.0,2411.6 771.3,2434.2 771.6,2424.8 771.8,2424.5 772.1,2423.1 772.4,2437.1 772.6,2415.3 772.9,2430.1 773.2,2406.4 773.4,2428.8 773.7,2409.7 773.9,2409.6 774.2,2424.4 774.5,2411.4 774.7,2438.2 775.0,2411.7 775.3,2444.3 775.5,2434.9 775.8,2426.2 776.1,2432.7 776.3,2427.5 776.6,2453.7 776.9,2431.1 777.1,2417.9 777.4,2429.7 777.7,2420.9 777.9,2424.2 778.2,2417.9 778.4,2418.6 778.7,2435.4 779.0,2424.6 779.2,2434.5 779.5,2421.4 779.8,2424.1 780.0,2419.4 780.3,2441.0 780.6,2445.3 780.8,2424.1 781.1,2436.2 781.4,2407.5 781.6,2409.6 781.9,2434.3 782.2,2403.7 782.4,2459.7 782.7,2437.8 782.9,2446.8 783.2,2424.2 783.5,2408.5 783.7,2414.3 784.0,2414.5 784.3,2435.9 784.5,2412.5 784.8,2415.3 785.1,2445.0 785.3,2410.2 785.6,2417.5 785.9,2442.5 786.1,2456.8 786.4,2404.8 786.7,2395.0 786.9,2416.7 787.2,2428.1 787.4,2424.9 787.7,2418.4 788.0,2409.2 788.2,2436.2 788.5,2419.0 788.8,2417.2 789.0,2426.0 789.3,2444.0 789.6,2427.8 789.8,2458.5 790.1,2421.5 790.4,2447.3 790.6,2398.2 790.9,2417.3 791.1,2480.6 791.4,2416.6 791.7,2415.6 791.9,2418.5 792.2,2413.1 792.5,2418.7 792.7,2426.6 793.0,2430.4 793.3,2411.8 793.5,2423.0 793.8,2415.3 794.1,2437.4 794.3,2448.2 794.6,2428.2 794.9,2431.1 795.1,2422.2 795.4,2432.1 795.6,2423.0 795.9,2409.3 796.2,2441.9 796.4,2455.0 796.7,2434.0 797.0,2425.7 797.2,2432.0 797.5,2447.8 797.8,2419.7 798.0,2435.5 798.3,2428.2 798.6,2397.4 798.8,2421.2 799.1,2433.3 799.4,2430.6 799.6,2424.4 799.9,2409.5 800.1,2429.3 800.4,2428.3 800.7,2433.1 800.9,2449.6 801.2,2426.5 801.5,2440.5 801.7,2432.4 802.0,2462.6 802.3,2432.7 802.5,2461.1 802.8,2412.8 803.1,2410.0 803.3,2432.5 803.6,2424.3 803.9,2443.6 804.1,2437.0 804.4,2437.2 804.6,2415.8 804.9,2425.9 805.2,2502.6 805.4,2418.8 805.7,2426.6 806.0,2442.6 806.2,2425.9 806.5,2429.6 806.8,2442.8 807.0,2432.5 807.3,2406.8 807.6,2428.1 807.8,2426.8 808.1,2431.1 808.3,2457.3 808.6,2441.9 808.9,2428.5 809.1,2417.6 809.4,2438.0 809.7,2429.1 809.9,2444.2 810.2,2430.8 810.5,2440.0 810.7,2415.6 811.0,2424.1 811.3,2427.2 811.5,2415.3 811.8,2431.7 812.1,2443.7 812.3,2421.5 812.6,2416.9 812.8,2425.1 813.1,2404.1 813.4,2438.5 813.6,2431.9 813.9,2434.1 814.2,2443.3 814.4,2430.0 814.7,2422.2 815.0,2444.4 815.2,2421.0 815.5,2428.3 815.8,2481.8 816.0,2418.7 816.3,2425.7 816.6,2434.9 816.8,2433.1 817.1,2439.1 817.3,2418.3 817.6,2418.2 817.9,2428.7 818.1,2414.9 818.4,2420.3 818.7,2426.5 818.9,2398.3 819.2,2403.9 819.5,2431.1 819.7,2415.6 820.0,2435.7 820.3,2418.7 820.5,2411.1 820.8,2433.7 821.1,2421.6 821.3,2430.2 821.6,2415.9 821.8,2414.0 822.1,2420.5 822.4,2414.2 822.6,2422.4 822.9,2411.0 823.2,2429.6 823.4,2435.4 823.7,2431.1 824.0,2407.3 824.2,2441.5 824.5,2400.7 824.8,2427.5 825.0,2425.9 825.3,2435.0 825.5,2415.2 825.8,2417.5 826.1,2440.3 826.3,2439.9 826.6,2410.4 826.9,2420.4 827.1,2413.5 827.4,2388.6 827.7,2439.7 827.9,2415.1 828.2,2424.9 828.5,2427.4 828.7,2406.3 829.0,2436.3 829.3,2414.7 829.5,2403.8 829.8,2428.3 830.0,2425.9 830.3,2416.2 830.6,2422.8 830.8,2446.6 831.1,2432.9 831.4,2423.5 831.6,2418.3 831.9,2448.3 832.2,2417.2 832.4,2396.4 832.7,2439.6 833.0,2416.1 833.2,2393.2 833.5,2403.6 833.8,2404.1 834.0,2392.6 834.3,2412.1 834.5,2414.1 834.8,2444.3 835.1,2420.8 835.3,2414.0 835.6,2419.5 835.9,2424.2 836.1,2434.8 836.4,2439.0 836.7,2394.8 836.9,2401.2 837.2,2420.6 837.5,2446.4 837.7,2413.9 838.0,2485.3 838.3,2412.7 838.5,2412.5 838.8,2416.3 839.0,2438.0 839.3,2412.9 839.6,2420.0 839.8,2423.2 840.1,2430.6 840.4,2419.0 840.6,2429.6 840.9,2439.7 841.2,2427.6 841.4,2412.1 841.7,2414.7 842.0,2419.7 842.2,2417.7 842.5,2400.8 842.7,2402.7 843.0,2406.9 843.3,2388.7 843.5,2448.7 843.8,2422.3 844.1,2403.9 844.3,2400.8 844.6,2423.6 844.9,2390.9 845.1,2409.9 845.4,2417.3 845.7,2402.9 845.9,2411.1 846.2,2401.8 846.5,2398.8 846.7,2389.7 847.0,2400.0 847.2,2395.2 847.5,2392.7 847.8,2383.4 848.0,2397.5 848.3,2383.2 848.6,2385.7 848.8,2365.3 849.1,2357.8 849.4,2377.5 849.6,2361.3 849.9,2356.4 850.2,2364.1 850.4,2369.4 850.7,2351.8 851.0,2348.5 851.2,2351.6 851.5,2349.4 851.7,2342.3 852.0,2324.0 852.3,2342.6 852.5,2327.6 852.8,2348.5 853.1,2324.2 853.3,2329.8 853.6,2326.2 853.9,2327.1 854.1,2344.4 854.4,2322.3 854.7,2332.2 854.9,2324.5 855.2,2322.2 855.5,2331.9 855.7,2329.7 856.0,2327.1 856.2,2322.5 856.5,2335.8 856.8,2362.5 857.0,2336.2 857.3,2345.3 857.6,2338.0 857.8,2375.5 858.1,2336.9 858.4,2347.4 858.6,2339.2 858.9,2365.4 859.2,2364.0 859.4,2369.9 859.7,2369.2 859.9,2387.5 860.2,2389.2 860.5,2390.5 860.7,2355.1 861.0,2375.7 861.3,2388.9 861.5,2399.8 861.8,2363.7 862.1,2412.7 862.3,2401.5 862.6,2417.7 862.9,2388.7 863.1,2395.0 863.4,2393.4 863.7,2399.9 863.9,2399.5 864.2,2389.2 864.4,2427.2 864.7,2419.3 865.0,2403.6 865.2,2389.2 865.5,2430.3 865.8,2387.8 866.0,2403.3 866.3,2401.9 866.6,2409.4 866.8,2425.5 867.1,2431.3 867.4,2424.8 867.6,2405.9 867.9,2438.9 868.2,2438.0 868.4,2433.1 868.7,2509.7 868.9,2409.1 869.2,2413.5 869.5,2413.6 869.7,2416.1 870.0,2445.3 870.3,2428.0 870.5,2420.0 870.8,2441.6 871.1,2424.9 871.3,2418.6 871.6,2417.9 871.9,2408.8 872.1,2423.9 872.4,2415.3 872.7,2426.0 872.9,2433.0 873.2,2434.4 873.4,2422.8 873.7,2455.0 874.0,2412.4 874.2,2438.8 874.5,2429.4 874.8,2433.2 875.0,2419.8 875.3,2418.5 875.6,2438.8 875.8,2405.4 876.1,2432.0 876.4,2409.4 876.6,2404.2 876.9,2431.6 877.1,2422.6 877.4,2458.7 877.7,2405.8 877.9,2433.3 878.2,2432.8 878.5,2433.9 878.7,2424.8 879.0,2408.4 879.3,2442.5 879.5,2442.9 879.8,2437.8 880.1,2436.3 880.3,2473.2 880.6,2446.8 880.9,2442.8 881.1,2423.7 881.4,2447.8 881.6,2420.4 881.9,2438.9 882.2,2418.8 882.4,2431.1 882.7,2445.2 883.0,2429.2 883.2,2447.7 883.5,2427.0 883.8,2458.5 884.0,2431.9 884.3,2472.5 884.6,2444.9 884.8,2433.9 885.1,2418.1 885.4,2428.5 885.6,2463.9 885.9,2416.4 886.1,2411.8 886.4,2439.5 886.7,2453.8 886.9,2429.7 887.2,2422.6 887.5,2432.1 887.7,2432.3 888.0,2452.3 888.3,2463.6 888.5,2433.6 888.8,2423.6 889.1,2418.1 889.3,2410.2 889.6,2435.0 889.9,2412.9 890.1,2446.9 890.4,2432.8 890.6,2425.9 890.9,2457.9 891.2,2410.6 891.4,2480.7 891.7,2438.3 892.0,2440.6 892.2,2436.6 892.5,2419.9 892.8,2446.0 893.0,2454.9 893.3,2406.7 893.6,2438.7 893.8,2435.4 894.1,2432.8 894.3,2443.5 894.6,2434.4 894.9,2431.4 895.1,2455.5 895.4,2423.0 895.7,2431.5 895.9,2431.3 896.2,2425.6 896.5,2429.9 896.7,2484.0 897.0,2425.3 897.3,2475.8 897.5,2414.1 897.8,2401.4 898.1,2427.5 898.3,2418.9 898.6,2457.1 898.8,2445.2 899.1,2422.1 899.4,2435.3 899.6,2433.7 899.9,2478.4 900.2,2440.8 900.4,2442.7 900.7,2446.8 901.0,2442.3 901.2,2438.8 901.5,2425.8 901.8,2440.4 902.0,2442.2 902.3,2418.7 902.6,2440.4 902.8,2420.1 903.1,2413.7 903.3,2438.2 903.6,2447.3 903.9,2453.8 904.1,2431.0 904.4,2417.2 904.7,2425.9 904.9,2435.7 905.2,2438.0 905.5,2447.0 905.7,2437.1 906.0,2456.1 906.3,2430.2 906.5,2447.3 906.8,2450.0 907.1,2446.2 907.3,2448.5 907.6,2423.7 907.8,2454.0 908.1,2432.7 908.4,2437.8 908.6,2425.1 908.9,2446.4 909.2,2434.0 909.4,2430.4 909.7,2451.5 910.0,2429.3 910.2,2446.7 910.5,2444.0 910.8,2449.5 911.0,2442.1 911.3,2422.8 911.5,2443.8 911.8,2447.3 912.1,2470.5 912.3,2470.5 912.6,2455.4 912.9,2457.1 913.1,2402.4 913.4,2433.9 913.7,2425.3 913.9,2451.6 914.2,2450.6 914.5,2450.8 914.7,2451.6 915.0,2448.2 915.3,2441.0 915.5,2433.7 915.8,2453.8 916.0,2443.0 916.3,2459.4 916.6,2436.2 916.8,2438.9 917.1,2431.0 917.4,2453.4 917.6,2430.5 917.9,2406.7 918.2,2430.9 918.4,2432.7 918.7,2443.4 919.0,2438.1 919.2,2463.4 919.5,2448.8 919.8,2458.9 920.0,2465.6 920.3,2460.3 920.5,2458.5 920.8,2436.8 921.1,2451.2 921.3,2442.8 921.6,2456.5 921.9,2435.5 922.1,2454.9 922.4,2436.9 922.7,2456.5 922.9,2463.9 923.2,2464.1 923.5,2438.7 923.7,2465.7 924.0,2418.4 924.3,2447.9 924.5,2423.2 924.8,2445.7 925.0,2427.0 925.3,2444.9 925.6,2434.5 925.8,2465.5 926.1,2518.8 926.4,2459.3 926.6,2462.1 926.9,2453.4 927.2,2444.8 927.4,2442.8 927.7,2428.1 928.0,2434.1 928.2,2458.9 928.5,2440.1 928.7,2452.6 929.0,2432.7 929.3,2524.2 929.5,2490.5 929.8,2445.6 930.1,2476.3 930.3,2455.2 930.6,2464.4 930.9,2444.9 931.1,2440.4 931.4,2469.7 931.7,2459.1 931.9,2460.6 932.2,2463.5 932.5,2533.4 932.7,2440.8 933.0,2453.9 933.2,2420.6 933.5,2449.5 933.8,2465.8 934.0,2444.7 934.3,2477.5 934.6,2443.0 934.8,2432.2 935.1,2457.7 935.4,2445.9 935.6,2458.3 935.9,2438.6 936.2,2457.4 936.4,2450.6 936.7,2452.8 937.0,2463.8 937.2,2437.0 937.5,2446.5 937.7,2466.5 938.0,2468.4 938.3,2460.5 938.5,2431.9 938.8,2452.6 939.1,2443.1 939.3,2444.5 939.6,2425.5 939.9,2416.9 940.1,2465.0 940.4,2462.3 940.7,2427.0 940.9,2444.2 941.2,2450.7 941.5,2440.8 941.7,2457.8 942.0,2443.9 942.2,2428.3 942.5,2443.5 942.8,2457.1 943.0,2435.8 943.3,2462.0 943.6,2466.7 943.8,2459.8 944.1,2483.6 944.4,2449.0 944.6,2459.0 944.9,2439.1 945.2,2419.4 945.4,2439.6 945.7,2473.4 946.0,2466.9 946.2,2434.0 946.5,2447.2 946.7,2439.5 947.0,2432.2 947.3,2445.7 947.5,2463.2 947.8,2451.8 948.1,2447.0 948.3,2417.0 948.6,2485.3 948.9,2432.9 949.1,2451.4 949.4,2464.0 949.7,2454.0 949.9,2464.3 950.2,2414.8 950.4,2437.5 950.7,2440.7 951.0,2430.3 951.2,2426.6 951.5,2465.2 951.8,2431.5 952.0,2468.7 952.3,2465.7 952.6,2446.2 952.8,2429.9 953.1,2442.5 953.4,2440.5 953.6,2441.5 953.9,2439.7 954.2,2452.7 954.4,2447.4 954.7,2451.1 954.9,2451.6 955.2,2471.3 955.5,2483.7 955.7,2452.5 956.0,2451.0 956.3,2449.8 956.5,2467.4 956.8,2463.3 957.1,2454.2 957.3,2450.3 957.6,2461.6 957.9,2469.0 958.1,2445.8 958.4,2459.5 958.7,2424.3 958.9,2442.3 959.2,2460.4 959.4,2428.1 959.7,2429.2 960.0,2456.9 960.2,2422.0 960.5,2448.0 960.8,2485.8 961.0,2458.7 961.3,2480.8 961.6,2477.8 961.8,2441.4 962.1,2450.2 962.4,2459.3 962.6,2508.6 962.9,2476.1 963.2,2465.8 963.4,2458.9 963.7,2437.1 963.9,2470.3 964.2,2444.6 964.5,2469.4 964.7,2474.9 965.0,2431.1 965.3,2485.8 965.5,2554.4 965.8,2471.1 966.1,2469.0 966.3,2483.5 966.6,2472.9 966.9,2480.1 967.1,2467.6 967.4,2441.9 967.6,2451.5 967.9,2465.4 968.2,2469.6 968.4,2456.9 968.7,2443.2 969.0,2434.7 969.2,2468.5 969.5,2502.3 969.8,2452.8 970.0,2447.0 970.3,2464.4 970.6,2466.4 970.8,2456.9 971.1,2423.1 971.4,2444.1 971.6,2445.0 971.9,2464.9 972.1,2445.1 972.4,2451.4 972.7,2437.5 972.9,2446.3 973.2,2490.2 973.5,2468.4 973.7,2462.0 974.0,2441.9 974.3,2435.9 974.5,2471.6 974.8,2455.2 975.1,2464.9 975.3,2460.2 975.6,2471.3 975.9,2416.0 976.1,2469.9 976.4,2483.6 976.6,2456.8 976.9,2452.9 977.2,2459.1 977.4,2451.7 977.7,2426.6 978.0,2450.0 978.2,2455.6 978.5,2472.7 978.8,2440.2 979.0,2450.8 979.3,2456.2 979.6,2463.4 979.8,2486.9 980.1,2466.2 980.4,2466.5 980.6,2436.9 980.9,2485.8 981.1,2428.6 981.4,2477.7 981.7,2470.0 981.9,2524.8 982.2,2439.4 982.5,2464.8 982.7,2448.7 983.0,2477.9 983.3,2409.5 983.5,2457.6 983.8,2414.4 984.1,2457.5 984.3,2451.3 984.6,2469.8 984.8,2438.0 985.1,2440.5 985.4,2421.7 985.6,2449.1 985.9,2459.0 986.2,2452.2 986.4,2440.6 986.7,2452.7 987.0,2465.2 987.2,2461.1 987.5,2424.7 987.8,2448.2 988.0,2441.9 988.3,2411.7 988.6,2474.8 988.8,2461.4 989.1,2439.5 989.3,2464.7 989.6,2460.1 989.9,2448.5 990.1,2461.2 990.4,2452.8 990.7,2445.2 990.9,2472.8 991.2,2431.1 991.5,2486.9 991.7,2460.3 992.0,2449.5 992.3,2463.2 992.5,2441.2 992.8,2449.8 993.1,2488.4 993.3,2463.9 993.6,2466.5 993.8,2453.9 994.1,2471.2 994.4,2471.2 994.6,2460.1 994.9,2475.5 995.2,2456.1 995.4,2455.7 995.7,2468.7 996.0,2444.6 996.2,2431.4 996.5,2454.1 996.8,2470.7 997.0,2451.7 997.3,2470.7 997.6,2476.1 997.8,2451.0 998.1,2456.7 998.3,2454.4 998.6,2467.2 998.9,2464.6 999.1,2459.7 999.4,2478.8 999.7,2463.1 999.9,2461.3 1000.2,2444.9 1000.5,2486.5 1000.7,2540.7 1001.0,2468.3 1001.3,2458.7 1001.5,2455.4 1001.8,2441.9 1002.0,2507.7 1002.3,2473.5 1002.6,2457.4 1002.8,2458.4 1003.1,2477.5 1003.4,2450.3 1003.6,2449.3 1003.9,2480.1 1004.2,2467.2 1004.4,2431.6 1004.7,2456.9 1005.0,2444.5 1005.2,2449.0 1005.5,2453.4 1005.8,2430.8 1006.0,2445.6 1006.3,2486.5 1006.5,2516.9 1006.8,2449.5 1007.1,2472.7 1007.3,2435.2 1007.6,2453.6 1007.9,2478.1 1008.1,2457.4 1008.4,2462.8 1008.7,2453.8 1008.9,2463.0 1009.2,2468.7 1009.5,2454.6 1009.7,2459.1 1010.0,2461.4 1010.3,2426.7 1010.5,2472.1 1010.8,2486.8 1011.0,2470.7 1011.3,2461.3 1011.6,2451.6 1011.8,2463.4 1012.1,2489.1 1012.4,2481.6 1012.6,2446.4 1012.9,2482.2 1013.2,2446.4 1013.4,2447.3 1013.7,2455.4 1014.0,2467.8 1014.2,2454.1 1014.5,2473.8 1014.8,2462.7 1015.0,2483.2 1015.3,2435.5 1015.5,2459.7 1015.8,2468.6 1016.1,2482.7 1016.3,2424.3 1016.6,2454.1 1016.9,2491.0 1017.1,2465.0 1017.4,2449.0 1017.7,2463.3 1017.9,2474.3 1018.2,2472.0 1018.5,2454.7 1018.7,2468.0 1019.0,2508.1 1019.2,2450.3 1019.5,2467.3 1019.8,2450.2 1020.0,2471.7 1020.3,2445.3 1020.6,2468.0 1020.8,2434.3 1021.1,2461.4 1021.4,2498.9 1021.6,2439.9 1021.9,2448.9 1022.2,2473.2 1022.4,2440.6 1022.7,2420.7 1023.0,2478.8 1023.2,2461.5 1023.5,2476.2 1023.7,2459.9 1024.0,2459.5 1024.3,2475.9 1024.5,2457.8 1024.8,2480.2 1025.1,2482.5 1025.3,2453.3 1025.6,2479.1 1025.9,2469.9 1026.1,2456.5 1026.4,2458.2 1026.7,2476.0 1026.9,2438.4 1027.2,2432.7 1027.5,2477.4 1027.7,2490.2 1028.0,2463.0 1028.2,2475.3 1028.5,2431.9 1028.8,2460.8 1029.0,2449.5 1029.3,2452.6 1029.6,2461.0 1029.8,2450.6 1030.1,2457.2 1030.4,2455.2 1030.6,2468.4 1030.9,2475.8 1031.2,2472.7 1031.4,2481.2 1031.7,2455.3 1032.0,2450.9 1032.2,2427.7 1032.5,2430.9 1032.7,2471.4 1033.0,2466.1 1033.3,2458.9 1033.5,2453.1 1033.8,2438.0 1034.1,2422.2 1034.3,2448.6 1034.6,2453.9 1034.9,2416.0 1035.1,2479.7 1035.4,2447.0 1035.7,2465.2 1035.9,2492.5 1036.2,2482.7 1036.4,2453.0 1036.7,2474.0 1037.0,2473.0 1037.2,2459.0 1037.5,2463.4 1037.8,2443.6 1038.0,2462.4 1038.3,2447.2 1038.6,2454.5 1038.8,2459.8 1039.1,2473.6 1039.4,2454.2 1039.6,2453.7 1039.9,2451.2 1040.2,2503.2 1040.4,2451.2 1040.7,2465.9 1040.9,2433.3 1041.2,2458.9 1041.5,2438.3 1041.7,2448.8 1042.0,2470.4 1042.3,2486.6 1042.5,2460.9 1042.8,2468.2 1043.1,2461.0 1043.3,2450.8 1043.6,2459.5 1043.9,2474.3 1044.1,2461.5 1044.4,2451.8 1044.7,2450.3 1044.9,2466.1 1045.2,2452.7 1045.4,2473.5 1045.7,2434.9 1046.0,2470.8 1046.2,2444.7 1046.5,2456.9 1046.8,2493.2 1047.0,2475.4 1047.3,2449.7 1047.6,2451.8 1047.8,2473.1 1048.1,2473.8 1048.4,2457.8 1048.6,2470.7 1048.9,2451.3 1049.2,2412.6 1049.4,2476.4 1049.7,2450.1 1049.9,2468.2 1050.2,2455.4 1050.5,2453.5 1050.7,2443.5 1051.0,2471.0 1051.3,2472.2 1051.5,2479.3 1051.8,2470.0 1052.1,2465.5 1052.3,2449.7 1052.6,2459.1 1052.9,2465.5 1053.1,2416.9 1053.4,2439.0 1053.6,2455.3 1053.9,2471.9 1054.2,2481.7 1054.4,2486.8 1054.7,2445.7 1055.0,2478.6 1055.2,2449.7 1055.5,2444.8 1055.8,2452.4 1056.0,2460.2 1056.3,2471.8 1056.6,2433.5 1056.8,2456.1 1057.1,2441.6 1057.4,2481.7 1057.6,2486.7 1057.9,2450.3 1058.1,2446.4 1058.4,2468.5 1058.7,2474.2 1058.9,2441.6 1059.2,2451.0 1059.5,2462.7 1059.7,2440.6 1060.0,2483.2 1060.3,2458.8 1060.5,2459.2 1060.8,2438.7 1061.1,2478.6 1061.3,2435.6 1061.6,2446.0 1061.9,2448.1 1062.1,2455.8 1062.4,2434.0 1062.6,2445.0 1062.9,2467.9 1063.2,2457.3 1063.4,2460.0 1063.7,2474.3 1064.0,2465.5 1064.2,2474.9 1064.5,2460.7 1064.8,2443.1 1065.0,2485.8 1065.3,2429.6 1065.6,2435.0 1065.8,2438.8 1066.1,2497.5 1066.4,2459.3 1066.6,2476.1 1066.9,2431.9 1067.1,2439.6 1067.4,2463.3 1067.7,2450.3 1067.9,2459.9 1068.2,2468.2 1068.5,2459.6 1068.7,2459.5 1069.0,2461.6 1069.3,2454.6 1069.5,2495.9 1069.8,2474.3 1070.1,2442.5 1070.3,2462.7 1070.6,2473.0 1070.8,2454.9 1071.1,2456.6 1071.4,2489.1 1071.6,2476.9 1071.9,2496.5 1072.2,2489.5 1072.4,2452.6 1072.7,2446.6 1073.0,2453.4 1073.2,2472.8 1073.5,2401.0 1073.8,2459.0 1074.0,2478.5 1074.3,2459.0 1074.6,2463.7 1074.8,2454.4 1075.1,2430.3 1075.3,2474.2 1075.6,2453.5 1075.9,2466.3 1076.1,2458.7 1076.4,2491.0 1076.7,2466.2 1076.9,2465.6 1077.2,2456.7 1077.5,2444.7 1077.7,2465.1 1078.0,2476.5 1078.3,2458.5 1078.5,2422.1 1078.8,2445.3 1079.1,2490.8 1079.3,2449.0 1079.6,2461.4 1079.8,2426.4 1080.1,2448.7 1080.4,2443.9 1080.6,2471.7 1080.9,2468.9 1081.2,2467.5 1081.4,2475.3 1081.7,2450.2 1082.0,2486.8 1082.2,2454.3 1082.5,2473.8 1082.8,2493.8 1083.0,2449.7 1083.3,2464.7 1083.6,2456.3 1083.8,2460.5 1084.1,2463.4 1084.3,2457.1 1084.6,2458.6 1084.9,2470.2 1085.1,2436.2 1085.4,2446.0 1085.7,2450.0 1085.9,2435.3 1086.2,2464.1 1086.5,2450.7 1086.7,2444.0 1087.0,2481.6 1087.3,2443.5 1087.5,2465.6 1087.8,2437.1 1088.0,2473.5 1088.3,2468.7 1088.6,2463.1 1088.8,2430.1 1089.1,2445.4 1089.4,2475.7 1089.6,2451.9 1089.9,2445.5 1090.2,2446.1 1090.4,2464.6 1090.7,2427.5 1091.0,2514.9 1091.2,2462.0 1091.5,2440.9 1091.8,2468.3 1092.0,2412.9 1092.3,2437.5 1092.5,2463.2 1092.8,2491.2 1093.1,2438.2 1093.3,2434.4 1093.6,2456.9 1093.9,2459.6 1094.1,2445.3 1094.4,2444.8 1094.7,2484.0 1094.9,2442.4 1095.2,2430.9 1095.5,2451.0 1095.7,2479.7 1096.0,2469.4 1096.3,2457.2 1096.5,2436.3 1096.8,2460.3 1097.0,2505.7 1097.3,2468.0 1097.6,2476.1 1097.8,2431.3 1098.1,2450.9 1098.4,2448.5 1098.6,2535.3 1098.9,2452.9 1099.2,2456.7 1099.4,2449.7 1099.7,2410.2 1100.0,2476.8 1100.2,2426.1 1100.5,2448.1 1100.8,2431.4 1101.0,2447.7 1101.3,2450.0 1101.5,2449.1 1101.8,2481.8 1102.1,2437.6 1102.3,2452.4 1102.6,2466.7 1102.9,2450.7 1103.1,2448.9 1103.4,2490.1 1103.7,2470.6 1103.9,2443.6 1104.2,2461.9 1104.5,2442.5 1104.7,2465.2 1105.0,2433.7 1105.2,2471.0 1105.5,2463.9 1105.8,2463.2 1106.0,2457.5 1106.3,2461.3 1106.6,2443.0 1106.8,2458.6 1107.1,2467.5 1107.4,2464.8 1107.6,2441.9 1107.9,2467.0 1108.2,2437.4 1108.4,2445.2 1108.7,2443.1 1109.0,2447.3 1109.2,2455.3 1109.5,2468.7 1109.7,2475.2 1110.0,2464.9 1110.3,2445.0 1110.5,2469.9 1110.8,2473.8 1111.1,2444.6 1111.3,2437.4 1111.6,2454.7 1111.9,2489.7 1112.1,2452.2 1112.4,2454.3 1112.7,2469.0 1112.9,2437.5 1113.2,2439.1 1113.5,2455.2 1113.7,2471.3 1114.0,2452.0 1114.2,2446.3 1114.5,2429.2 1114.8,2483.6 1115.0,2436.1 1115.3,2479.1 1115.6,2445.2 1115.8,2476.2 1116.1,2485.6 1116.4,2442.4 1116.6,2466.8 1116.9,2469.4 1117.2,2478.0 1117.4,2451.9 1117.7,2477.7 1118.0,2458.8 1118.2,2440.2 1118.5,2473.8 1118.7,2478.1 1119.0,2456.8 1119.3,2457.8 1119.5,2469.9 1119.8,2485.2 1120.1,2436.3 1120.3,2474.7 1120.6,2490.8 1120.9,2442.3 1121.1,2466.5 1121.4,2458.0 1121.7,2462.9 1121.9,2477.8 1122.2,2430.2 1122.4,2448.4 1122.7,2433.8 1123.0,2451.6 1123.2,2488.1 1123.5,2439.3 1123.8,2449.0 1124.0,2446.7 1124.3,2463.5 1124.6,2451.5 1124.8,2443.7 1125.1,2443.9 1125.4,2454.1 1125.6,2436.3 1125.9,2416.5 1126.2,2476.2 1126.4,2458.9 1126.7,2446.7 1126.9,2454.0 1127.2,2468.9 1127.5,2442.3 1127.7,2457.1 1128.0,2447.7 1128.3,2477.1 1128.5,2416.0 1128.8,2433.2 1129.1,2480.0 1129.3,2436.7 1129.6,2520.0 1129.9,2436.1 1130.1,2417.6 1130.4,2454.8 1130.7,2467.8 1130.9,2461.6 1131.2,2435.8 1131.4,2447.5 1131.7,2483.8 1132.0,2453.2 1132.2,2440.8 1132.5,2471.2 1132.8,2451.4 1133.0,2425.1 1133.3,2442.0 1133.6,2471.6 1133.8,2453.5 1134.1,2454.6 1134.4,2466.9 1134.6,2443.2 1134.9,2431.1 1135.2,2455.9 1135.4,2445.6 1135.7,2456.0 1135.9,2443.9 1136.2,2443.6 1136.5,2432.5 1136.7,2460.8 1137.0,2488.4 1137.3,2435.5 1137.5,2475.3 1137.8,2467.4 1138.1,2445.3 1138.3,2439.1 1138.6,2465.0 1138.9,2450.2 1139.1,2451.3 1139.4,2489.7 1139.6,2487.9 1139.9,2429.2 1140.2,2463.3 1140.4,2487.7 1140.7,2458.8 1141.0,2491.8 1141.2,2456.1 1141.5,2458.9 1141.8,2469.2 1142.0,2444.1 1142.3,2456.7 1142.6,2465.7 1142.8,2445.0 1143.1,2463.9 1143.4,2474.3 1143.6,2436.7 1143.9,2454.1 1144.1,2462.8 1144.4,2444.1 1144.7,2473.0 1144.9,2476.7 1145.2,2446.8 1145.5,2460.3 1145.7,2445.7 1146.0,2454.1 1146.3,2464.0 1146.5,2453.6 1146.8,2459.0 1147.1,2448.7 1147.3,2476.0 1147.6,2471.7 1147.9,2445.8 1148.1,2465.4 1148.4,2500.1 1148.6,2448.5 1148.9,2479.2 1149.2,2500.7 1149.4,2452.8 1149.7,2469.7 1150.0,2419.8 1150.2,2479.2 1150.5,2467.1 1150.8,2470.3 1151.0,2459.5 1151.3,2472.4 1151.6,2474.9 1151.8,2468.1 1152.1,2451.7 1152.4,2453.6 1152.6,2456.9 1152.9,2452.7 1153.1,2442.5 1153.4,2435.1 1153.7,2454.6 1153.9,2440.9 1154.2,2450.1 1154.5,2494.5 1154.7,2433.5 1155.0,2449.2 1155.3,2452.2 1155.5,2492.2 1155.8,2454.7 1156.1,2473.5 1156.3,2464.4 1156.6,2479.8 1156.8,2451.1 1157.1,2466.7 1157.4,2464.8 1157.6,2432.8 1157.9,2467.1 1158.2,2452.6 1158.4,2429.5 1158.7,2443.1 1159.0,2467.7 1159.2,2471.5 1159.5,2454.0 1159.8,2476.1 1160.0,2469.0 1160.3,2430.2 1160.6,2437.7 1160.8,2461.6 1161.1,2440.9 1161.3,2445.4 1161.6,2460.7 1161.9,2450.9 1162.1,2444.2 1162.4,2432.4 1162.7,2489.7 1162.9,2432.5 1163.2,2448.5 1163.5,2473.7 1163.7,2453.9 1164.0,2439.7 1164.3,2436.5 1164.5,2474.7 1164.8,2547.2 1165.1,2422.9 1165.3,2432.4 1165.6,2466.0 1165.8,2564.2 1166.1,2446.3 1166.4,2471.2 1166.6,2428.7 1166.9,2427.4 1167.2,2434.4 1167.4,2463.5 1167.7,2458.6 1168.0,2467.2 1168.2,2425.7 1168.5,2483.0 1168.8,2448.3 1169.0,2499.5 1169.3,2459.4 1169.6,2424.9 1169.8,2454.4 1170.1,2440.9 1170.3,2480.8 1170.6,2458.7 1170.9,2475.9 1171.1,2441.6 1171.4,2442.1 1171.7,2457.4 1171.9,2456.1 1172.2,2439.3 1172.5,2463.6 1172.7,2474.4 1173.0,2448.9 1173.3,2446.4 1173.5,2446.5 1173.8,2463.7 1174.0,2452.6 1174.3,2462.0 1174.6,2473.3 1174.8,2449.5 1175.1,2450.0 1175.4,2449.5 1175.6,2479.3 1175.9,2452.6 1176.2,2455.5 1176.4,2449.4 1176.7,2469.4 1177.0,2461.2 1177.2,2435.1 1177.5,2470.2 1177.8,2461.1 1178.0,2474.5 1178.3,2463.2 1178.5,2453.3 1178.8,2437.4 1179.1,2470.8 1179.3,2475.0 1179.6,2439.5 1179.9,2453.1 1180.1,2462.0 1180.4,2451.9 1180.7,2460.6 1180.9,2447.7 1181.2,2443.3 1181.5,2474.4 1181.7,2425.5 1182.0,2464.7 1182.3,2440.8 1182.5,2519.2 1182.8,2442.7 1183.0,2456.5 1183.3,2443.5 1183.6,2458.4 1183.8,2430.0 1184.1,2435.9 1184.4,2451.5 1184.6,2464.2 1184.9,2439.7 1185.2,2486.2 1185.4,2447.3 1185.7,2466.7 1186.0,2423.2 1186.2,2437.0 1186.5,2436.8 1186.8,2434.0 1187.0,2427.1 1187.3,2446.2 1187.5,2439.2 1187.8,2480.5 1188.1,2452.2 1188.3,2458.1 1188.6,2418.5 1188.9,2478.3 1189.1,2479.1 1189.4,2434.8 1189.7,2435.5 1189.9,2440.5 1190.2,2477.0 1190.5,2431.0 1190.7,2436.1 1191.0,2426.6 1191.2,2457.8 1191.5,2467.3 1191.8,2436.9 1192.0,2472.2 1192.3,2455.7 1192.6,2439.1 1192.8,2462.4 1193.1,2474.4 1193.4,2474.4 1193.6,2461.9 1193.9,2475.2 1194.2,2453.2 1194.4,2458.4 1194.7,2483.0 1195.0,2451.2 1195.2,2439.6 1195.5,2432.8 1195.7,2444.4 1196.0,2421.8 1196.3,2437.4 1196.5,2433.9 1196.8,2450.0 1197.1,2430.1 1197.3,2451.0 1197.6,2452.8 1197.9,2466.2 1198.1,2470.2 1198.4,2479.1 1198.7,2448.7 1198.9,2429.9 1199.2,2465.8 1199.5,2459.7 1199.7,2445.6 1200.0,2466.6 1200.2,2499.3 1200.5,2459.2 1200.8,2446.0 1201.0,2456.4 1201.3,2437.7 1201.6,2486.0 1201.8,2432.7 1202.1,2435.9 1202.4,2469.9 1202.6,2449.7 1202.9,2432.4 1203.2,2468.5 1203.4,2472.1 1203.7,2425.7 1204.0,2463.7 1204.2,2469.4 1204.5,2483.7 1204.7,2460.8 1205.0,2465.4 1205.3,2454.6 1205.5,2464.7 1205.8,2481.5 1206.1,2464.7 1206.3,2442.6 1206.6,2451.6 1206.9,2485.4 1207.1,2432.0 1207.4,2442.8 1207.7,2441.7 1207.9,2474.6 1208.2,2438.1 1208.4,2445.7 1208.7,2451.7 1209.0,2461.9 1209.2,2462.9 1209.5,2433.6 1209.8,2433.6 1210.0,2428.8 1210.3,2471.6 1210.6,2448.3 1210.8,2455.5 1211.1,2491.5 1211.4,2427.8 1211.6,2425.1 1211.9,2433.7 1212.2,2484.6 1212.4,2549.9 1212.7,2460.6 1212.9,2435.5 1213.2,2495.3 1213.5,2453.7 1213.7,2426.2 1214.0,2444.1 1214.3,2457.5 1214.5,2468.7 1214.8,2446.3 1215.1,2463.0 1215.3,2456.9 1215.6,2455.6 1215.9,2445.2 1216.1,2458.4 1216.4,2470.3 1216.7,2451.8 1216.9,2446.4 1217.2,2497.9 1217.4,2463.3 1217.7,2462.7 1218.0,2427.8 1218.2,2469.9 1218.5,2425.4 1218.8,2471.5 1219.0,2457.3 1219.3,2443.8 1219.6,2440.4 1219.8,2454.5 1220.1,2445.2 1220.4,2423.4 1220.6,2469.2 1220.9,2426.5 1221.2,2448.8 1221.4,2443.7 1221.7,2477.1 1221.9,2426.3 1222.2,2467.9 1222.5,2459.1 1222.7,2403.8 1223.0,2428.2 1223.3,2439.9 1223.5,2434.0 1223.8,2454.9 1224.1,2460.5 1224.3,2468.5 1224.6,2486.3 1224.9,2459.8 1225.1,2447.4 1225.4,2459.6 1225.6,2450.1 1225.9,2450.8 1226.2,2445.7 1226.4,2511.8 1226.7,2453.0 1227.0,2435.1 1227.2,2416.8 1227.5,2467.5 1227.8,2463.6 1228.0,2449.7 1228.3,2470.3 1228.6,2450.2 1228.8,2449.0 1229.1,2444.0 1229.4,2471.9 1229.6,2544.3 1229.9,2447.6 1230.1,2440.7 1230.4,2468.5 1230.7,2465.7 1230.9,2461.4 1231.2,2427.5 1231.5,2455.9 1231.7,2454.1 1232.0,2446.2 1232.3,2458.4 1232.5,2448.4 1232.8,2457.4 1233.1,2450.7 1233.3,2446.3 1233.6,2478.8 1233.9,2450.2 1234.1,2461.0 1234.4,2466.2 1234.6,2435.4 1234.9,2447.9 1235.2,2436.7 1235.4,2448.1 1235.7,2431.7 1236.0,2465.0 1236.2,2450.8 1236.5,2430.7 1236.8,2458.4 1237.0,2434.5 1237.3,2427.3 1237.6,2457.5 1237.8,2451.5 1238.1,2438.8 1238.4,2462.2 1238.6,2458.0 1238.9,2453.4 1239.1,2467.1 1239.4,2455.4 1239.7,2470.8 1239.9,2456.2 1240.2,2459.9 1240.5,2404.7 1240.7,2444.9 1241.0,2481.5 1241.3,2441.2 1241.5,2448.3 1241.8,2443.3 1242.1,2421.2 1242.3,2460.0 1242.6,2480.9 1242.8,2477.3 1243.1,2446.6 1243.4,2435.9 1243.6,2441.4 1243.9,2458.5 1244.2,2443.8 1244.4,2462.8 1244.7,2454.7 1245.0,2430.2 1245.2,2431.6 1245.5,2463.7 1245.8,2463.8 1246.0,2450.3 1246.3,2473.8 1246.6,2449.0 1246.8,2445.3 1247.1,2449.3 1247.3,2458.8 1247.6,2413.0 1247.9,2452.1 1248.1,2452.3 1248.4,2436.3 1248.7,2436.1 1248.9,2469.7 1249.2,2442.2 1249.5,2444.9 1249.7,2464.6 1250.0,2429.9 1250.3,2489.4 1250.5,2437.7 1250.8,2439.3 1251.1,2426.3 1251.3,2439.6 1251.6,2434.1 1251.8,2442.0 1252.1,2431.5 1252.4,2410.8 1252.6,2468.2 1252.9,2461.4 1253.2,2459.8 1253.4,2457.9 1253.7,2458.8 1254.0,2437.8 1254.2,2495.5 1254.5,2439.5 1254.8,2429.6 1255.0,2481.8 1255.3,2442.6 1255.6,2449.8 1255.8,2432.7 1256.1,2444.7 1256.3,2456.5 1256.6,2454.1 1256.9,2429.2 1257.1,2460.9 1257.4,2436.3 1257.7,2423.7 1257.9,2463.2 1258.2,2454.0 1258.5,2445.0 1258.7,2436.1 1259.0,2460.9 1259.3,2444.2 1259.5,2437.4 1259.8,2482.3 1260.0,2453.0 1260.3,2429.1 1260.6,2468.4 1260.8,2421.6 1261.1,2435.4 1261.4,2454.1 1261.6,2446.8 1261.9,2461.0 1262.2,2457.5 1262.4,2410.3 1262.7,2469.4 1263.0,2440.2 1263.2,2448.1 1263.5,2436.0 1263.8,2430.8 1264.0,2458.3 1264.3,2455.7 1264.5,2452.1 1264.8,2437.6 1265.1,2473.1 1265.3,2454.0 1265.6,2457.4 1265.9,2449.4 1266.1,2452.7 1266.4,2466.4 1266.7,2464.6 1266.9,2465.6 1267.2,2449.7 1267.5,2450.1 1267.7,2429.4 1268.0,2444.8 1268.3,2438.9 1268.5,2434.6 1268.8,2447.8 1269.0,2448.9 1269.3,2436.4 1269.6,2420.7 1269.8,2443.5 1270.1,2447.7 1270.4,2452.5 1270.6,2433.4 1270.9,2426.7 1271.2,2418.2 1271.4,2447.1 1271.7,2437.9 1272.0,2456.6 1272.2,2424.6 1272.5,2468.1 1272.8,2444.1 1273.0,2443.7 1273.3,2449.3 1273.5,2458.1 1273.8,2459.6 1274.1,2417.7 1274.3,2437.9 1274.6,2453.8 1274.9,2456.0 1275.1,2450.3 1275.4,2432.7 1275.7,2453.4 1275.9,2443.8 1276.2,2446.7 1276.5,2465.9 1276.7,2445.0 1277.0,2453.8 1277.3,2469.6 1277.5,2462.3 1277.8,2426.8 1278.0,2429.7 1278.3,2415.0 1278.6,2463.1 1278.8,2446.1 1279.1,2437.8 1279.4,2445.0 1279.6,2427.8 1279.9,2455.1 1280.2,2432.2 1280.4,2460.4 1280.7,2450.3 1281.0,2445.1 1281.2,2454.8 1281.5,2442.2 1281.7,2445.6 1282.0,2464.9 1282.3,2472.3 1282.5,2454.7 1282.8,2467.9 1283.1,2421.3 1283.3,2448.1 1283.6,2445.7 1283.9,2438.6 1284.1,2454.3 1284.4,2475.9 1284.7,2459.1 1284.9,2463.4 1285.2,2467.5 1285.5,2466.6 1285.7,2447.1 1286.0,2436.5 1286.2,2463.8 1286.5,2459.5 1286.8,2438.9 1287.0,2471.1 1287.3,2433.1 1287.6,2426.9 1287.8,2444.9 1288.1,2425.5 1288.4,2443.4 1288.6,2444.8 1288.9,2436.8 1289.2,2446.8 1289.4,2426.2 1289.7,2410.6 1290.0,2458.2 1290.2,2459.9 1290.5,2458.7 1290.7,2439.2 1291.0,2452.5 1291.3,2440.3 1291.5,2463.7 1291.8,2427.2 1292.1,2495.0 1292.3,2438.2 1292.6,2456.2 1292.9,2446.4 1293.1,2417.9 1293.4,2440.3 1293.7,2430.1 1293.9,2452.2 1294.2,2458.3 1294.5,2426.7 1294.7,2451.6 1295.0,2429.5 1295.2,2437.3 1295.5,2447.4 1295.8,2463.5 1296.0,2452.0 1296.3,2454.8 1296.6,2437.4 1296.8,2442.6 1297.1,2454.2 1297.4,2447.2 1297.6,2447.1 1297.9,2450.7 1298.2,2529.3 1298.4,2465.5 1298.7,2466.3 1298.9,2450.5 1299.2,2432.8 1299.5,2426.7 1299.7,2446.8 1300.0,2429.4 1300.3,2414.9 1300.5,2439.8 1300.8,2478.3 1301.1,2444.6 1301.3,2446.6 1301.6,2443.4 1301.9,2446.8 1302.1,2424.1 1302.4,2448.3 1302.7,2456.3 1302.9,2448.2 1303.2,2448.7 1303.4,2444.7 1303.7,2455.1 1304.0,2426.9 1304.2,2414.1 1304.5,2436.6 1304.8,2443.6 1305.0,2453.1 1305.3,2432.6 1305.6,2446.4 1305.8,2443.1 1306.1,2454.6 1306.4,2436.6 1306.6,2453.0 1306.9,2454.7 1307.2,2439.3 1307.4,2441.2 1307.7,2436.5 1307.9,2432.7 1308.2,2433.8 1308.5,2427.0 1308.7,2453.9 1309.0,2449.1 1309.3,2441.1 1309.5,2444.5 1309.8,2443.4 1310.1,2465.2 1310.3,2455.9 1310.6,2437.8 1310.9,2452.9 1311.1,2418.1 1311.4,2435.1 1311.7,2430.9 1311.9,2447.1 1312.2,2434.1 1312.4,2430.4 1312.7,2480.1 1313.0,2420.7 1313.2,2422.3 1313.5,2427.2 1313.8,2447.0 1314.0,2445.3 1314.3,2452.3 1314.6,2465.7 1314.8,2454.4 1315.1,2414.3 1315.4,2431.6 1315.6,2462.7 1315.9,2442.7 1316.1,2490.4 1316.4,2443.1 1316.7,2419.8 1316.9,2445.5 1317.2,2437.1 1317.5,2424.7 1317.7,2443.9 1318.0,2462.6 1318.3,2435.1 1318.5,2419.1 1318.8,2434.8 1319.1,2423.2 1319.3,2401.4 1319.6,2427.1 1319.9,2437.8 1320.1,2418.2 1320.4,2427.8 1320.6,2424.9 1320.9,2417.8 1321.2,2414.9 1321.4,2411.2 1321.7,2406.1 1322.0,2401.2 1322.2,2401.6 1322.5,2385.7 1322.8,2380.2 1323.0,2395.9 1323.3,2388.7 1323.6,2426.1 1323.8,2406.1 1324.1,2438.2 1324.4,2422.4 1324.6,2426.9 1324.9,2437.5 1325.1,2433.8 1325.4,2428.4 1325.7,2426.9 1325.9,2420.2 1326.2,2420.6 1326.5,2446.1 1326.7,2401.6 1327.0,2459.4 1327.3,2449.1 1327.5,2432.1 1327.8,2461.1 1328.1,2463.4 1328.3,2452.9 1328.6,2403.2 1328.9,2409.1 1329.1,2446.9 1329.4,2420.8 1329.6,2443.5 1329.9,2431.9 1330.2,2443.4 1330.4,2433.2 1330.7,2438.0 1331.0,2413.8 1331.2,2437.3 1331.5,2425.3 1331.8,2452.8 1332.0,2428.2 1332.3,2444.3 1332.6,2446.2 1332.8,2435.7 1333.1,2425.9 1333.3,2439.7 1333.6,2507.4 1333.9,2448.8 1334.1,2424.4 1334.4,2421.0 1334.7,2447.5 1334.9,2441.0 1335.2,2454.4 1335.5,2456.8 1335.7,2411.0 1336.0,2441.0 1336.3,2439.5 1336.5,2438.4 1336.8,2450.6 1337.1,2464.8 1337.3,2434.6 1337.6,2435.3 1337.8,2446.4 1338.1,2447.7 1338.4,2435.3 1338.6,2449.3 1338.9,2561.4 1339.2,2429.4 1339.4,2454.7 1339.7,2425.8 1340.0,2454.9 1340.2,2424.0 1340.5,2424.6 1340.8,2417.2 1341.0,2432.0 1341.3,2435.7 1341.6,2434.2 1341.8,2431.0 1342.1,2432.6 1342.3,2429.0 1342.6,2430.5 1342.9,2437.9 1343.1,2427.9 1343.4,2437.9 1343.7,2420.5 1343.9,2416.9 1344.2,2446.3 1344.5,2424.3 1344.7,2436.8 1345.0,2421.3 1345.3,2414.3 1345.5,2416.1 1345.8,2481.1 1346.1,2453.2 1346.3,2425.1 1346.6,2438.2 1346.8,2429.4 1347.1,2436.3 1347.4,2417.8 1347.6,2449.8 1347.9,2437.4 1348.2,2428.2 1348.4,2445.7 1348.7,2413.1 1349.0,2424.4 1349.2,2439.2 1349.5,2456.1 1349.8,2427.2 1350.0,2459.3 1350.3,2450.6 1350.5,2421.9 1350.8,2441.2 1351.1,2449.7 1351.3,2420.6 1351.6,2454.5 1351.9,2412.5 1352.1,2453.0 1352.4,2449.7 1352.7,2456.8 1352.9,2445.4 1353.2,2437.6 1353.5,2411.9 1353.7,2458.0 1354.0,2442.6 1354.3,2445.2 1354.5,2425.6 1354.8,2423.1 1355.0,2440.1 1355.3,2421.2 1355.6,2432.8 1355.8,2440.9 1356.1,2415.4 1356.4,2439.2 1356.6,2422.6 1356.9,2425.1 1357.2,2443.2 1357.4,2412.8 1357.7,2424.8 1358.0,2429.3 1358.2,2446.3 1358.5,2431.2 1358.8,2441.3 1359.0,2417.3 1359.3,2411.8 1359.5,2429.8 1359.8,2453.0 1360.1,2438.8 1360.3,2425.9 1360.6,2423.2 1360.9,2500.6 1361.1,2440.0 1361.4,2412.1 1361.7,2404.8 1361.9,2457.2 1362.2,2433.2 1362.5,2431.2 1362.7,2435.8 1363.0,2473.0 1363.3,2437.3 1363.5,2429.8 1363.8,2403.9 1364.0,2493.8 1364.3,2435.6 1364.6,2444.5 1364.8,2443.2 1365.1,2425.0 1365.4,2428.2 1365.6,2430.9 1365.9,2455.8 1366.2,2443.8 1366.4,2420.6 1366.7,2448.5 1367.0,2417.0 1367.2,2444.1 1367.5,2430.5 1367.7,2413.5 1368.0,2423.1 1368.3,2426.3 1368.5,2442.7 1368.8,2445.7 1369.1,2405.5 1369.3,2421.9 1369.6,2442.3 1369.9,2434.6 1370.1,2434.7 1370.4,2436.3 1370.7,2437.6 1370.9,2444.5 1371.2,2422.4 1371.5,2398.3 1371.7,2433.5 1372.0,2418.8 1372.2,2405.4 1372.5,2427.4 1372.8,2416.9 1373.0,2425.6 1373.3,2399.9 1373.6,2432.9 1373.8,2425.3 1374.1,2428.2 1374.4,2416.3 1374.6,2415.2 1374.9,2437.6 1375.2,2433.3 1375.4,2421.7 1375.7,2409.6 1376.0,2463.4 1376.2,2418.3 1376.5,2435.1 1376.7,2415.4 1377.0,2439.3 1377.3,2428.5 1377.5,2416.9 1377.8,2430.4 1378.1,2406.3 1378.3,2439.7 1378.6,2417.9 1378.9,2417.7 1379.1,2420.5 1379.4,2418.1 1379.7,2413.7 1379.9,2424.6 1380.2,2414.4 1380.5,2418.2 1380.7,2423.8 1381.0,2419.0 1381.2,2411.5 1381.5,2430.9 1381.8,2444.9 1382.0,2413.5 1382.3,2508.2 1382.6,2411.8 1382.8,2416.9 1383.1,2406.8 1383.4,2412.8 1383.6,2425.8 1383.9,2418.2 1384.2,2415.2 1384.4,2445.2 1384.7,2408.3 1384.9,2426.1 1385.2,2428.3 1385.5,2397.1 1385.7,2408.2 1386.0,2428.2 1386.3,2403.6 1386.5,2413.6 1386.8,2385.8 1387.1,2404.2 1387.3,2413.8 1387.6,2429.9 1387.9,2440.4 1388.1,2408.8 1388.4,2433.0 1388.7,2415.7 1388.9,2412.8 1389.2,2412.7 1389.4,2412.3 1389.7,2397.0 1390.0,2413.6 1390.2,2438.1 1390.5,2418.0 1390.8,2445.2 1391.0,2398.4 1391.3,2432.3 1391.6,2400.0 1391.8,2408.9 1392.1,2424.2 1392.4,2418.0 1392.6,2425.5 1392.9,2427.0 1393.2,2408.1 1393.4,2405.0 1393.7,2417.9 1393.9,2416.2 1394.2,2429.4 1394.5,2385.6 1394.7,2421.0 1395.0,2414.8 1395.3,2405.5 1395.5,2399.4 1395.8,2399.3 1396.1,2399.1 1396.3,2425.5 1396.6,2407.5 1396.9,2403.9 1397.1,2407.1 1397.4,2412.4 1397.7,2414.1 1397.9,2405.3 1398.2,2402.8 1398.4,2396.2 1398.7,2403.8 1399.0,2402.4 1399.2,2396.8 1399.5,2399.8 1399.8,2416.3 1400.0,2410.9 1400.3,2405.0 1400.6,2414.4 1400.8,2402.4 1401.1,2413.1 1401.4,2400.1 1401.6,2415.2 1401.9,2405.1 1402.1,2395.6 1402.4,2385.8 1402.7,2407.5 1402.9,2398.9 1403.2,2385.5 1403.5,2394.2 1403.7,2389.7 1404.0,2398.2 1404.3,2381.5 1404.5,2394.1 1404.8,2413.5 1405.1,2403.2 1405.3,2392.4 1405.6,2407.7 1405.9,2387.6 1406.1,2399.3 1406.4,2429.9 1406.6,2385.2 1406.9,2394.0 1407.2,2412.1 1407.4,2379.0 1407.7,2378.1 1408.0,2403.1 1408.2,2379.0 1408.5,2383.5 1408.8,2379.4 1409.0,2375.7 1409.3,2387.0 1409.6,2371.5 1409.8,2370.4 1410.1,2377.1 1410.4,2383.8 1410.6,2391.3 1410.9,2376.2 1411.1,2384.2 1411.4,2387.3 1411.7,2377.5 1411.9,2379.8 1412.2,2368.7 1412.5,2354.3 1412.7,2386.9 1413.0,2355.9 1413.3,2369.8 1413.5,2355.5 1413.8,2350.6 1414.1,2358.3 1414.3,2346.2 1414.6,2356.1 1414.9,2351.6 1415.1,2349.1 1415.4,2361.8 1415.6,2353.3 1415.9,2341.9 1416.2,2348.4 1416.4,2342.4 1416.7,2334.0 1417.0,2323.4 1417.2,2326.4 1417.5,2346.4 1417.8,2329.3 1418.0,2332.1 1418.3,2340.4 1418.6,2320.2 1418.8,2334.4 1419.1,2305.3 1419.3,2317.8 1419.6,2309.0 1419.9,2327.1 1420.1,2360.0 1420.4,2322.9 1420.7,2324.4 1420.9,2354.4 1421.2,2334.6 1421.5,2336.4 1421.7,2325.3 1422.0,2326.7 1422.3,2335.3 1422.5,2331.3 1422.8,2332.8 1423.1,2331.9 1423.3,2320.1 1423.6,2337.4 1423.8,2336.0 1424.1,2338.6 1424.4,2339.5 1424.6,2348.4 1424.9,2329.7 1425.2,2376.5 1425.4,2343.2 1425.7,2328.4 1426.0,2369.5 1426.2,2326.1 1426.5,2325.7 1426.8,2319.8 1427.0,2326.7 1427.3,2343.7 1427.6,2340.8 1427.8,2325.9 1428.1,2328.3 1428.3,2332.4 1428.6,2313.7 1428.9,2317.8 1429.1,2318.5 1429.4,2304.1 1429.7,2313.9 1429.9,2311.6 1430.2,2312.7 1430.5,2312.4 1430.7,2295.1 1431.0,2314.9 1431.3,2306.3 1431.5,2312.3 1431.8,2311.9 1432.1,2304.6 1432.3,2318.1 1432.6,2290.1 1432.8,2301.2 1433.1,2300.6 1433.4,2309.2 1433.6,2296.2 1433.9,2299.4 1434.2,2295.1 1434.4,2307.2 1434.7,2287.9 1435.0,2282.2 1435.2,2283.3 1435.5,2288.2 1435.8,2293.7 1436.0,2264.6 1436.3,2270.5 1436.5,2287.9 1436.8,2272.9 1437.1,2268.7 1437.3,2268.7 1437.6,2263.7 1437.9,2260.4 1438.1,2266.4 1438.4,2258.3 1438.7,2273.3 1438.9,2242.1 1439.2,2260.7 1439.5,2249.9 1439.7,2263.8 1440.0,2243.4 1440.3,2251.0 1440.5,2256.0 1440.8,2246.4 1441.0,2235.9 1441.3,2236.3 1441.6,2236.1 1441.8,2241.7 1442.1,2230.3 1442.4,2230.5 1442.6,2216.6 1442.9,2221.1 1443.2,2225.7 1443.4,2212.9 1443.7,2208.5 1444.0,2206.0 1444.2,2212.2 1444.5,2204.9 1444.8,2200.7 1445.0,2190.3 1445.3,2180.4 1445.5,2193.7 1445.8,2187.8 1446.1,2184.6 1446.3,2178.4 1446.6,2182.9 1446.9,2160.3 1447.1,2167.4 1447.4,2145.0 1447.7,2138.8 1447.9,2155.7 1448.2,2136.5 1448.5,2136.2 1448.7,2134.7 1449.0,2133.4 1449.3,2109.0 1449.5,2106.7 1449.8,2102.4 1450.0,2087.7 1450.3,2072.8 1450.6,2069.7 1450.8,2042.6 1451.1,2040.7 1451.4,2018.0 1451.6,1998.3 1451.9,1972.4 1452.2,1950.4 1452.4,1925.7 1452.7,1890.3 1453.0,1860.0 1453.2,1823.1 1453.5,1786.5 1453.7,1759.6 1454.0,1742.4 1454.3,1734.0 1454.5,1747.7 1454.8,1756.3 1455.1,1795.1 1455.3,1818.1 1455.6,1851.9 1455.9,1889.5 1456.1,1915.7 1456.4,1957.9 1456.7,1983.8 1456.9,2005.7 1457.2,2027.5 1457.5,2042.7 1457.7,2042.8 1458.0,2069.1 1458.2,2074.1 1458.5,2093.3 1458.8,2097.1 1459.0,2105.1 1459.3,2110.6 1459.6,2126.3 1459.8,2136.2 1460.1,2130.5 1460.4,2144.7 1460.6,2150.9 1460.9,2153.0 1461.2,2157.7 1461.4,2170.6 1461.7,2176.1 1462.0,2177.2 1462.2,2181.4 1462.5,2185.9 1462.7,2182.0 1463.0,2189.0 1463.3,2193.4 1463.5,2191.2 1463.8,2205.4 1464.1,2215.7 1464.3,2220.1 1464.6,2209.4 1464.9,2211.1 1465.1,2212.2 1465.4,2224.8 1465.7,2223.0 1465.9,2234.0 1466.2,2222.4 1466.5,2233.4 1466.7,2231.2 1467.0,2239.7 1467.2,2253.6 1467.5,2231.1 1467.8,2251.5 1468.0,2249.0 1468.3,2252.3 1468.6,2253.1 1468.8,2249.7 1469.1,2293.6 1469.4,2266.2 1469.6,2274.7 1469.9,2267.0 1470.2,2264.1 1470.4,2278.2 1470.7,2270.8 1470.9,2272.7 1471.2,2276.4 1471.5,2282.9 1471.7,2272.0 1472.0,2283.4 1472.3,2284.3 1472.5,2283.5 1472.8,2300.7 1473.1,2279.0 1473.3,2292.1 1473.6,2295.6 1473.9,2297.5 1474.1,2308.8 1474.4,2319.1 1474.7,2298.8 1474.9,2296.4 1475.2,2294.0 1475.4,2301.8 1475.7,2311.1 1476.0,2307.5 1476.2,2326.1 1476.5,2301.1 1476.8,2317.0 1477.0,2318.3 1477.3,2318.4 1477.6,2324.0 1477.8,2318.6 1478.1,2326.0 1478.4,2321.5 1478.6,2321.0 1478.9,2318.9 1479.2,2324.3 1479.4,2334.9 1479.7,2326.5 1479.9,2337.7 1480.2,2331.6 1480.5,2334.5 1480.7,2346.5 1481.0,2327.4 1481.3,2337.7 1481.5,2347.2 1481.8,2345.6 1482.1,2345.3 1482.3,2355.2 1482.6,2340.8 1482.9,2346.8 1483.1,2362.1 1483.4,2338.1 1483.7,2354.0 1483.9,2355.6 1484.2,2354.3 1484.4,2356.4 1484.7,2346.4 1485.0,2356.2 1485.2,2354.8 1485.5,2360.3 1485.8,2359.4 1486.0,2375.5 1486.3,2369.0 1486.6,2380.2 1486.8,2371.2 1487.1,2367.0 1487.4,2432.3 1487.6,2377.1 1487.9,2358.6 1488.1,2353.1 1488.4,2354.6 1488.7,2375.8 1488.9,2366.4 1489.2,2367.8 1489.5,2372.4 1489.7,2379.7 1490.0,2369.4 1490.3,2366.2 1490.5,2370.0 1490.8,2382.9 1491.1,2376.4 1491.3,2383.0 1491.6,2387.8 1491.9,2376.2 1492.1,2371.6 1492.4,2368.3 1492.6,2375.9 1492.9,2371.6 1493.2,2384.5 1493.4,2370.3 1493.7,2385.6 1494.0,2417.1 1494.2,2393.2 1494.5,2375.0 1494.8,2387.7 1495.0,2394.6 1495.3,2371.8 1495.6,2392.2 1495.8,2383.7 1496.1,2380.5 1496.4,2451.0 1496.6,2391.8 1496.9,2385.6 1497.1,2388.5 1497.4,2400.8 1497.7,2361.9 1497.9,2403.6 1498.2,2418.9 1498.5,2394.7 1498.7,2391.8 1499.0,2395.5 1499.3,2406.8 1499.5,2424.1 1499.8,2389.5 1500.1,2366.0 1500.3,2494.2 1500.6,2399.1 1500.9,2398.8 1501.1,2398.7 1501.4,2377.6 1501.6,2405.6 1501.9,2394.7 1502.2,2406.4 1502.4,2398.3 1502.7,2394.1 1503.0,2384.3 1503.2,2420.9 1503.5,2404.8 1503.8,2410.2 1504.0,2424.3 1504.3,2413.0 1504.6,2410.5 1504.8,2381.7 1505.1,2421.8 1505.3,2419.3 1505.6,2396.6 1505.9,2392.3 1506.1,2414.9 1506.4,2408.9 1506.7,2428.3 1506.9,2396.3 1507.2,2411.4 1507.5,2420.2 1507.7,2418.4 1508.0,2398.8 1508.3,2396.9 1508.5,2408.8 1508.8,2440.3 1509.1,2405.5 1509.3,2410.1 1509.6,2426.4 1509.8,2421.9 1510.1,2433.4 1510.4,2408.9 1510.6,2409.4 1510.9,2428.0 1511.2,2415.5 1511.4,2418.6 1511.7,2406.5 1512.0,2409.9 1512.2,2410.1 1512.5,2412.4 1512.8,2411.7 1513.0,2495.0 1513.3,2416.9 1513.6,2435.1 1513.8,2457.4 1514.1,2418.1 1514.3,2442.4 1514.6,2429.2 1514.9,2394.9 1515.1,2427.1 1515.4,2405.7 1515.7,2438.3 1515.9,2418.0 1516.2,2445.2 1516.5,2443.6 1516.7,2419.3 1517.0,2413.4 1517.3,2440.2 1517.5,2415.2 1517.8,2425.8 1518.1,2440.1 1518.3,2425.9 1518.6,2437.3 1518.8,2495.4 1519.1,2433.1 1519.4,2438.1 1519.6,2421.5 1519.9,2393.9 1520.2,2431.9 1520.4,2430.3 1520.7,2437.6 1521.0,2431.2 1521.2,2422.7 1521.5,2423.1 1521.8,2432.5 1522.0,2419.7 1522.3,2413.4 1522.5,2435.7 1522.8,2432.2 1523.1,2440.5 1523.3,2425.7 1523.6,2431.4 1523.9,2420.9 1524.1,2428.4 1524.4,2445.6 1524.7,2458.0 1524.9,2430.7 1525.2,2479.2 1525.5,2424.9 1525.7,2415.1 1526.0,2427.7 1526.3,2432.5 1526.5,2431.8 1526.8,2425.1 1527.0,2439.0 1527.3,2452.7 1527.6,2429.5 1527.8,2443.0 1528.1,2445.6 1528.4,2451.9 1528.6,2447.3 1528.9,2452.3 1529.2,2439.5 1529.4,2553.2 1529.7,2443.4 1530.0,2432.8 1530.2,2425.5 1530.5,2428.7 1530.8,2437.0 1531.0,2439.6 1531.3,2434.3 1531.5,2445.5 1531.8,2468.6 1532.1,2426.7 1532.3,2433.2 1532.6,2424.5 1532.9,2458.0 1533.1,2454.5 1533.4,2422.6 1533.7,2449.2 1533.9,2422.0 1534.2,2448.3 1534.5,2443.1 1534.7,2444.0 1535.0,2417.2 1535.3,2446.3 1535.5,2446.5 1535.8,2463.5 1536.0,2446.0 1536.3,2443.7 1536.6,2434.1 1536.8,2452.8 1537.1,2457.2 1537.4,2456.4 1537.6,2459.0 1537.9,2443.2 1538.2,2424.6 1538.4,2447.2 1538.7,2468.2 1539.0,2465.2 1539.2,2436.3 1539.5,2478.2 1539.7,2468.0 1540.0,2460.0 1540.3,2432.4 1540.5,2458.1 1540.8,2462.3 1541.1,2481.9 1541.3,2441.6 1541.6,2444.2 1541.9,2467.1 1542.1,2466.6 1542.4,2462.8 1542.7,2441.4 1542.9,2439.5 1543.2,2453.7 1543.5,2457.2 1543.7,2464.2 1544.0,2438.8 1544.2,2425.6 1544.5,2467.7 1544.8,2449.2 1545.0,2448.6 1545.3,2466.1 1545.6,2428.5 1545.8,2451.0 1546.1,2446.0 1546.4,2458.9 1546.6,2451.2 1546.9,2463.6 1547.2,2431.7 1547.4,2445.5 1547.7,2438.5 1548.0,2469.9 1548.2,2473.2 1548.5,2454.4 1548.7,2464.4 1549.0,2449.9 1549.3,2443.3 1549.5,2475.8 1549.8,2452.3 1550.1,2476.0 1550.3,2493.1 1550.6,2435.4 1550.9,2464.1 1551.1,2449.5 1551.4,2461.4 1551.7,2417.3 1551.9,2465.1 1552.2,2441.3 1552.5,2460.4 1552.7,2462.9 1553.0,2469.6 1553.2,2456.3 1553.5,2461.4 1553.8,2451.6 1554.0,2431.4 1554.3,2446.5 1554.6,2448.6 1554.8,2451.4 1555.1,2459.7 1555.4,2461.1 1555.6,2475.2 1555.9,2490.6 1556.2,2440.4 1556.4,2460.4 1556.7,2465.3 1556.9,2454.0 1557.2,2469.8 1557.5,2420.5 1557.7,2469.9 1558.0,2455.2 1558.3,2427.0 1558.5,2559.0 1558.8,2491.9 1559.1,2457.5 1559.3,2494.5 1559.6,2497.4 1559.9,2464.9 1560.1,2454.8 1560.4,2472.1 1560.7,2485.3 1560.9,2491.5 1561.2,2466.7 1561.4,2445.9 1561.7,2487.4 1562.0,2486.8 1562.2,2457.4 1562.5,2462.6 1562.8,2470.4 1563.0,2451.3 1563.3,2464.6 1563.6,2477.9 1563.8,2463.0 1564.1,2447.7 1564.4,2476.2 1564.6,2465.6 1564.9,2489.4 1565.2,2450.3 1565.4,2496.1 1565.7,2580.4 1565.9,2472.8 1566.2,2455.0 1566.5,2460.9 1566.7,2462.9 1567.0,2454.9 1567.3,2477.6 1567.5,2483.1 1567.8,2478.9 1568.1,2457.3 1568.3,2453.2 1568.6,2428.8 1568.9,2484.1 1569.1,2459.3 1569.4,2443.2 1569.7,2444.5 1569.9,2479.6 1570.2,2460.3 1570.4,2479.2 1570.7,2469.0 1571.0,2482.8 1571.2,2470.6 1571.5,2414.2 1571.8,2490.8 1572.0,2442.9 1572.3,2493.9 1572.6,2469.1 1572.8,2607.0 1573.1,2457.3 1573.4,2451.8 1573.6,2473.8 1573.9,2476.6 1574.1,2442.8 1574.4,2433.5 1574.7,2491.1 1574.9,2474.7 1575.2,2499.6 1575.5,2486.6 1575.7,2490.0 1576.0,2477.0 1576.3,2477.8 1576.5,2458.4 1576.8,2413.8 1577.1,2482.1 1577.3,2453.8 1577.6,2506.2 1577.9,2461.2 1578.1,2479.7 1578.4,2454.8 1578.6,2442.0 1578.9,2459.5 1579.2,2509.3 1579.4,2470.0 1579.7,2432.4 1580.0,2489.5 1580.2,2499.7 1580.5,2454.5 1580.8,2472.2 1581.0,2515.7 1581.3,2455.6 1581.6,2472.1 1581.8,2503.5 1582.1,2477.5 1582.4,2489.9 1582.6,2454.4 1582.9,2483.8 1583.1,2485.9 1583.4,2482.1 1583.7,2499.2 1583.9,2471.4 1584.2,2456.7 1584.5,2486.9 1584.7,2481.8 1585.0,2430.0 1585.3,2473.2 1585.5,2457.2 1585.8,2464.7 1586.1,2474.0 1586.3,2502.1 1586.6,2480.4 1586.9,2459.2 1587.1,2461.5 1587.4,2476.7 1587.6,2480.7 1587.9,2526.3 1588.2,2454.3 1588.4,2462.0 1588.7,2492.3 1589.0,2466.4 1589.2,2477.0 1589.5,2441.6 1589.8,2441.4 1590.0,2487.2 1590.3,2453.8 1590.6,2531.0 1590.8,2464.6 1591.1,2480.4 1591.4,2497.9 1591.6,2501.0 1591.9,2458.8 1592.1,2497.4 1592.4,2475.0 1592.7,2471.9 1592.9,2492.7 1593.2,2455.4 1593.5,2476.7 1593.7,2450.0 1594.0,2448.7 1594.3,2488.5 1594.5,2499.7 1594.8,2479.4 1595.1,2446.4 1595.3,2473.2 1595.6,2482.4 1595.8,2475.4 1596.1,2499.5 1596.4,2459.6 1596.6,2482.6 1596.9,2504.4 1597.2,2474.7 1597.4,2469.6 1597.7,2486.6 1598.0,2452.3 1598.2,2470.7 1598.5,2483.9 1598.8,2607.0 1599.0,2498.9 1599.3,2481.0 1599.6,2500.5 1599.8,2503.3 1600.1,2475.1 1600.3,2517.7 1600.6,2509.0 1600.9,2496.4 1601.1,2475.5 1601.4,2468.5 1601.7,2475.8 1601.9,2485.5 1602.2,2484.0 1602.5,2470.4 1602.7,2488.5 1603.0,2503.4 1603.3,2497.3 1603.5,2607.0 1603.8,2472.2 1604.1,2472.9 1604.3,2513.3 1604.6,2480.3 1604.8,2463.9 1605.1,2498.1 1605.4,2513.5 1605.6,2448.8 1605.9,2513.8 1606.2,2459.8 1606.4,2593.4 1606.7,2481.7 1607.0,2467.6 1607.2,2460.7 1607.5,2459.3 1607.8,2454.7 1608.0,2472.9 1608.3,2501.5 1608.6,2475.4 1608.8,2520.9 1609.1,2475.8 1609.3,2495.9 1609.6,2480.9 1609.9,2515.5 1610.1,2466.0 1610.4,2481.2 1610.7,2502.4 1610.9,2471.1 1611.2,2492.3 1611.5,2478.2 1611.7,2477.6 1612.0,2479.1 1612.3,2476.7 1612.5,2607.0 1612.8,2449.3 1613.0,2455.4 1613.3,2472.3 1613.6,2450.1 1613.8,2462.4 1614.1,2456.9 1614.4,2479.7 1614.6,2446.8 1614.9,2476.2 1615.2,2487.6 1615.4,2504.0 1615.7,2448.8 1616.0,2447.7 1616.2,2578.5 1616.5,2458.7 1616.8,2463.2 1617.0,2495.0 1617.3,2465.2 1617.5,2477.9 1617.8,2479.5 1618.1,2494.0 1618.3,2452.8 1618.6,2465.1 1618.9,2482.0 1619.1,2511.3 1619.4,2468.3 1619.7,2466.9 1619.9,2498.2 1620.2,2484.6 1620.5,2482.9 1620.7,2521.6 1621.0,2467.5 1621.3,2499.3 1621.5,2523.8 1621.8,2474.0 1622.0,2532.2 1622.3,2499.4 1622.6,2491.2 1622.8,2515.4 1623.1,2489.2 1623.4,2431.2 1623.6,2490.4 1623.9,2481.3 1624.2,2453.8 1624.4,2500.3 1624.7,2473.5 1625.0,2466.5 1625.2,2532.4 1625.5,2510.3 1625.8,2518.7 1626.0,2524.1 1626.3,2458.2 1626.5,2526.2 1626.8,2464.0 1627.1,2463.9 1627.3,2493.9 1627.6,2479.0 1627.9,2523.6 1628.1,2479.0 1628.4,2500.8 1628.7,2486.6 1628.9,2470.8 1629.2,2481.2 1629.5,2477.9 1629.7,2490.8 1630.0,2484.2 1630.2,2505.9 1630.5,2481.4 1630.8,2493.8 1631.0,2529.4 1631.3,2607.0 1631.6,2548.4 1631.8,2542.5 1632.1,2495.1 1632.4,2501.5 1632.6,2513.7 1632.9,2505.4 1633.2,2487.9 1633.4,2484.4 1633.7,2480.1 1634.0,2488.9 1634.2,2455.6 1634.5,2462.2 1634.7,2463.8 1635.0,2520.2 1635.3,2494.8 1635.5,2511.7 1635.8,2484.2 1636.1,2496.6 1636.3,2471.3 1636.6,2446.7 1636.9,2607.0 1637.1,2478.4 1637.4,2475.9 1637.7,2459.0 1637.9,2502.6 1638.2,2506.9 1638.5,2501.7 1638.7,2513.6 1639.0,2592.1 1639.2,2503.0 1639.5,2488.6 1639.8,2479.4 1640.0,2490.5 1640.3,2469.2 1640.6,2483.0 1640.8,2489.9 1641.1,2489.3 1641.4,2523.7 1641.6,2512.1 1641.9,2508.2 1642.2,2528.8 1642.4,2505.6 1642.7,2504.1 1643.0,2575.2 1643.2,2480.4 1643.5,2461.4 1643.7,2512.0 1644.0,2607.0 1644.3,2514.2 1644.5,2505.9 1644.8,2475.9 1645.1,2490.1 1645.3,2467.1 1645.6,2494.9 1645.9,2487.9 1646.1,2509.7 1646.4,2533.8 1646.7,2541.2 1646.9,2485.8 1647.2,2494.7 1647.4,2490.2 1647.7,2482.0 1648.0,2497.6 1648.2,2467.2 1648.5,2473.6 1648.8,2497.9 1649.0,2513.6 1649.3,2504.1 1649.6,2486.4 1649.8,2517.7 1650.1,2499.9 1650.4,2531.5 1650.6,2504.1 1650.9,2492.6 1651.2,2465.9 1651.4,2521.4 1651.7,2515.1 1651.9,2523.8 1652.2,2480.8 1652.5,2468.9 1652.7,2523.8 1653.0,2493.1 1653.3,2438.3 1653.5,2507.8 1653.8,2464.7 1654.1,2524.8 1654.3,2517.7 1654.6,2448.9 1654.9,2500.8 1655.1,2533.4 1655.4,2507.0 1655.7,2466.0 1655.9,2461.2 1656.2,2513.4 1656.4,2448.9 1656.7,2490.9 1657.0,2502.9 1657.2,2509.7 1657.5,2500.8 1657.8,2544.4 1658.0,2519.9 1658.3,2489.5 1658.6,2489.8 1658.8,2476.5 1659.1,2497.1 1659.4,2539.9 1659.6,2508.3 1659.9,2490.3 1660.2,2465.8 1660.4,2436.9 1660.7,2490.2 1660.9,2474.8 1661.2,2499.7 1661.5,2466.7 1661.7,2607.0 1662.0,2485.6 1662.3,2476.9 1662.5,2496.6 1662.8,2479.2 1663.1,2488.1 1663.3,2472.5 1663.6,2497.7 1663.9,2451.4 1664.1,2484.1 1664.4,2497.0 1664.6,2502.1 1664.9,2494.1 1665.2,2507.7 1665.4,2484.8 1665.7,2528.4 1666.0,2555.1 1666.2,2434.9 1666.5,2429.6 1666.8,2517.6 1667.0,2461.2 1667.3,2427.4 1667.6,2426.1 1667.8,2481.9 1668.1,2407.4 1668.4,2426.2 1668.6,2584.4 1668.9,2523.5 1669.1,2399.6 1669.4,2372.7 1669.7,2375.8 1669.9,2409.1 1670.2,2439.4 1670.5,2399.9 1670.7,2428.0 1671.0,2436.9 1671.3,2546.0 1671.5,2460.5 1671.8,2436.5 1672.1,2607.0 1672.3,2473.6 1672.6,2464.7 1672.9,2460.7 1673.1,2504.2 1673.4,2461.8 1673.6,2462.0 1673.9,2453.4 1674.2,2479.0 1674.4,2481.3 1674.7,2469.4 1675.0,2598.4 1675.2,2491.6 1675.5,2502.6 1675.8,2460.4 1676.0,2484.4 1676.3,2527.0 1676.6,2516.6 1676.8,2504.1 1677.1,2520.2 1677.4,2511.5 1677.6,2502.4 1677.9,2505.1 1678.1,2507.3 1678.4,2487.5 1678.7,2537.7 1678.9,2553.5 1679.2,2501.8 1679.5,2497.6 1679.7,2553.7 1680.0,2509.6 1680.3,2513.1 1680.5,2510.7 1680.8,2502.1 1681.1,2492.2 1681.3,2519.2 1681.6,2465.9 1681.8,2526.0 1682.1,2536.9 1682.4,2495.9 1682.6,2492.5 1682.9,2548.7 1683.2,2497.8 1683.4,2488.8 1683.7,2559.7 1684.0,2475.9 1684.2,2452.4 1684.5,2502.7 1684.8,2490.2 1685.0,2484.0 1685.3,2485.1 1685.6,2488.0 1685.8,2607.0 1686.1,2447.9 1686.3,2522.3 1686.6,2495.2 1686.9,2494.3 1687.1,2495.9 1687.4,2523.6 1687.7,2511.1 1687.9,2558.0 1688.2,2451.0 1688.5,2524.1 1688.7,2583.1 1689.0,2432.9 1689.3,2607.0 1689.5,2501.3 1689.8,2500.9 1690.1,2504.0 1690.3,2514.1 1690.6,2494.9 1690.8,2486.5 1691.1,2528.4 1691.4,2504.5 1691.6,2525.4 1691.9,2594.5 1692.2,2471.1 1692.4,2482.5 1692.7,2487.2 1693.0,2502.3 1693.2,2546.6 1693.5,2516.2 1693.8,2532.4 1694.0,2552.5 1694.3,2455.6 1694.6,2496.4 1694.8,2488.3 1695.1,2516.0 1695.3,2479.6 1695.6,2546.3 1695.9,2493.0 1696.1,2486.3 1696.4,2479.4 1696.7,2472.7 1696.9,2504.7 1697.2,2490.9 1697.5,2513.8 1697.7,2493.8 1698.0,2517.5 1698.3,2511.3 1698.5,2533.6 1698.8,2524.6 1699.0,2492.7 1699.3,2537.6 1699.6,2492.0 1699.8,2483.6 1700.1,2528.7 1700.4,2474.7 1700.6,2489.3 1700.9,2468.0 1701.2,2468.7 1701.4,2514.0 1701.7,2483.1 1702.0,2549.1 1702.2,2606.6 1702.5,2515.7 1702.8,2489.9 1703.0,2506.3 1703.3,2500.4 1703.5,2535.6 1703.8,2458.6 1704.1,2607.0 1704.3,2509.1 1704.6,2517.4 1704.9,2524.9 1705.1,2497.2 1705.4,2523.0 1705.7,2477.2 1705.9,2536.1 1706.2,2517.1 1706.5,2577.4 1706.7,2536.2 1707.0,2489.3 1707.3,2464.4 1707.5,2520.6 1707.8,2510.1 1708.0,2499.2 1708.3,2490.4 1708.6,2519.8 1708.8,2530.6 1709.1,2543.0 1709.4,2472.2 1709.6,2525.8 1709.9,2480.5 1710.2,2605.7 1710.4,2545.0 1710.7,2493.7 1711.0,2568.3 1711.2,2502.0 1711.5,2506.6 1711.8,2506.2 1712.0,2607.0 1712.3,2530.6 1712.5,2518.1 1712.8,2491.1 1713.1,2500.9 1713.3,2469.3 1713.6,2483.0 1713.9,2513.8 1714.1,2525.1 1714.4,2494.8 1714.7,2515.4 1714.9,2490.3 1715.2,2508.7 1715.5,2511.2 1715.7,2535.5 1716.0,2536.4 1716.2,2518.7 1716.5,2499.8 1716.8,2607.0 1717.0,2607.0 1717.3,2454.8 1717.6,2508.2 1717.8,2469.6 1718.1,2511.4 1718.4,2607.0 1718.6,2526.1 1718.9,2494.1 1719.2,2528.7 1719.4,2492.2 1719.7,2594.5 1720.0,2489.5 1720.2,2490.3 1720.5,2607.0 1720.7,2534.0 1721.0,2527.2 1721.3,2457.9 1721.5,2508.4 1721.8,2527.6 1722.1,2464.6 1722.3,2536.5 1722.6,2482.6 1722.9,2510.7 1723.1,2517.7 1723.4,2508.2 1723.7,2510.8 1723.9,2523.7 1724.2,2575.6 1724.5,2551.8 1724.7,2547.6 1725.0,2515.4 1725.2,2458.8 1725.5,2482.4 1725.8,2499.2 1726.0,2607.0 1726.3,2543.4 1726.6,2502.0 1726.8,2494.4 1727.1,2514.8 1727.4,2541.0 1727.6,2530.7 1727.9,2532.8 1728.2,2506.9 1728.4,2446.8 1728.7,2501.5 1729.0,2433.7 1729.2,2508.3 1729.5,2584.5 1729.7,2545.8 1730.0,2522.7 1730.3,2572.5 1730.5,2485.2 1730.8,2524.1 1731.1,2527.6 1731.3,2495.0 1731.6,2498.2 1731.9,2538.6 1732.1,2520.4 1732.4,2498.4 1732.7,2510.4 1732.9,2531.7 1733.2,2508.4 1733.4,2494.3 1733.7,2524.5 1734.0,2510.7 1734.2,2517.6 1734.5,2482.7 1734.8,2512.9 1735.0,2504.4 1735.3,2504.5 1735.6,2555.9 1735.8,2518.4 1736.1,2521.3 1736.4,2538.1 1736.6,2552.4 1736.9,2542.4 1737.2,2496.6 1737.4,2521.1 1737.7,2499.0 1737.9,2509.0 1738.2,2525.7 1738.5,2547.6 1738.7,2486.5 1739.0,2536.4 1739.3,2571.9 1739.5,2607.0 1739.8,2594.5" fill="none" stroke="#000" stroke-width="1.8" stroke-linejoin="round" />
<polyline points="152.1,2182.0 152.4,2181.4 152.6,2181.0 152.9,2178.2 153.2,2183.3 153.4,2181.2 153.7,2181.5 154.0,2187.0 154.2,2178.8 154.5,2190.1 154.7,2173.7 155.0,2196.8 155.3,2177.9 155.5,2187.3 155.8,2188.9 156.1,2184.4 156.3,2188.0 156.6,2183.8 156.9,2175.7 157.1,2186.0 157.4,2189.9 157.7,2181.6 157.9,2175.9 158.2,2181.3 158.5,2185.8 158.7,2185.6 159.0,2189.6 159.2,2186.8 159.5,2186.6 159.8,2174.2 160.0,2195.0 160.3,2184.3 160.6,2188.2 160.8,2182.3 161.1,2183.2 161.4,2184.2 161.6,2191.6 161.9,2191.3 162.2,2186.9 162.4,2193.6 162.7,2181.9 162.9,2186.3 163.2,2181.5 163.5,2190.1 163.7,2183.9 164.0,2188.5 164.3,2192.2 164.5,2173.4 164.8,2194.3 165.1,2185.2 165.3,2182.0 165.6,2174.1 165.9,2182.1 166.1,2172.2 166.4,2184.2 166.7,2182.7 166.9,2192.5 167.2,2181.8 167.4,2188.7 167.7,2189.2 168.0,2193.6 168.2,2182.1 168.5,2187.1 168.8,2175.8 169.0,2177.8 169.3,2181.9 169.6,2183.2 169.8,2177.2 170.1,2181.2 170.4,2186.7 170.6,2180.9 170.9,2182.4 171.2,2178.7 171.4,2190.0 171.7,2192.0 171.9,2184.1 172.2,2182.5 172.5,2191.3 172.7,2185.4 173.0,2179.7 173.3,2176.3 173.5,2180.0 173.8,2193.9 174.1,2180.0 174.3,2197.3 174.6,2182.9 174.9,2181.8 175.1,2189.5 175.4,2181.6 175.7,2184.7 175.9,2177.6 176.2,2176.6 176.4,2179.1 176.7,2183.9 177.0,2179.4 177.2,2172.9 177.5,2185.1 177.8,2181.9 178.0,2181.3 178.3,2179.6 178.6,2171.4 178.8,2190.6 179.1,2180.2 179.4,2185.2 179.6,2189.5 179.9,2188.2 180.1,2183.5 180.4,2182.6 180.7,2184.0 180.9,2187.0 181.2,2185.4 181.5,2180.2 181.7,2184.7 182.0,2184.3 182.3,2185.9 182.5,2183.4 182.8,2189.2 183.1,2183.4 183.3,2186.8 183.6,2182.5 183.9,2179.4 184.1,2177.5 184.4,2181.5 184.6,2185.0 184.9,2188.6 185.2,2181.8 185.4,2179.6 185.7,2179.7 186.0,2188.7 186.2,2182.7 186.5,2179.6 186.8,2185.9 187.0,2175.5 187.3,2182.7 187.6,2181.9 187.8,2181.4 188.1,2176.3 188.4,2191.5 188.6,2190.5 188.9,2175.4 189.1,2182.6 189.4,2185.3 189.7,2193.4 189.9,2179.9 190.2,2177.2 190.5,2181.9 190.7,2192.1 191.0,2182.3 191.3,2183.3 191.5,2207.5 191.8,2171.1 192.1,2171.0 192.3,2186.5 192.6,2185.8 192.9,2174.9 193.1,2184.5 193.4,2182.0 193.6,2182.9 193.9,2177.8 194.2,2179.5 194.4,2177.4 194.7,2182.0 195.0,2180.6 195.2,2190.3 195.5,2184.9 195.8,2173.8 196.0,2183.8 196.3,2189.0 196.6,2183.1 196.8,2187.2 197.1,2181.5 197.3,2185.2 197.6,2176.9 197.9,2185.6 198.1,2174.7 198.4,2188.2 198.7,2174.0 198.9,2170.9 199.2,2184.3 199.5,2180.7 199.7,2182.2 200.0,2183.8 200.3,2181.5 200.5,2177.1 200.8,2182.6 201.1,2183.3 201.3,2184.1 201.6,2191.6 201.8,2177.8 202.1,2181.9 202.4,2184.4 202.6,2179.3 202.9,2175.4 203.2,2178.6 203.4,2186.9 203.7,2180.1 204.0,2184.6 204.2,2177.8 204.5,2183.8 204.8,2178.1 205.0,2177.2 205.3,2182.0 205.6,2181.7 205.8,2189.0 206.1,2173.2 206.3,2184.0 206.6,2189.7 206.9,2188.4 207.1,2179.5 207.4,2178.0 207.7,2178.9 207.9,2183.0 208.2,2182.4 208.5,2183.2 208.7,2184.5 209.0,2176.0 209.3,2175.7 209.5,2175.2 209.8,2174.6 210.1,2180.9 210.3,2183.0 210.6,2194.3 210.8,2184.1 211.1,2181.5 211.4,2188.7 211.6,2177.7 211.9,2183.1 212.2,2186.4 212.4,2185.4 212.7,2183.5 213.0,2179.6 213.2,2175.1 213.5,2180.6 213.8,2178.4 214.0,2184.9 214.3,2180.7 214.5,2184.3 214.8,2173.2 215.1,2186.4 215.3,2177.1 215.6,2173.4 215.9,2174.4 216.1,2178.2 216.4,2187.2 216.7,2185.1 216.9,2175.4 217.2,2181.9 217.5,2180.9 217.7,2173.4 218.0,2176.4 218.3,2171.0 218.5,2177.0 218.8,2167.9 219.0,2177.4 219.3,2176.6 219.6,2177.4 219.8,2177.2 220.1,2187.4 220.4,2179.7 220.6,2182.7 220.9,2185.3 221.2,2186.1 221.4,2184.9 221.7,2178.6 222.0,2175.8 222.2,2177.5 222.5,2179.0 222.8,2181.5 223.0,2181.0 223.3,2187.1 223.5,2181.0 223.8,2190.7 224.1,2186.8 224.3,2179.0 224.6,2185.9 224.9,2166.7 225.1,2188.6 225.4,2183.6 225.7,2183.6 225.9,2172.9 226.2,2194.5 226.5,2180.2 226.7,2180.8 227.0,2187.3 227.3,2180.5 227.5,2177.2 227.8,2184.9 228.0,2176.3 228.3,2185.4 228.6,2182.3 228.8,2187.4 229.1,2175.4 229.4,2188.0 229.6,2183.1 229.9,2191.8 230.2,2178.3 230.4,2191.2 230.7,2185.2 231.0,2185.7 231.2,2177.9 231.5,2184.5 231.7,2185.1 232.0,2177.4 232.3,2175.7 232.5,2177.7 232.8,2189.2 233.1,2182.5 233.3,2186.5 233.6,2183.2 233.9,2182.3 234.1,2182.8 234.4,2179.6 234.7,2188.0 234.9,2182.6 235.2,2182.9 235.5,2174.6 235.7,2183.3 236.0,2178.3 236.2,2179.2 236.5,2187.1 236.8,2176.1 237.0,2180.8 237.3,2185.0 237.6,2187.8 237.8,2179.1 238.1,2183.5 238.4,2183.3 238.6,2176.0 238.9,2170.8 239.2,2171.9 239.4,2185.0 239.7,2182.4 240.0,2174.9 240.2,2178.6 240.5,2179.8 240.7,2180.0 241.0,2181.8 241.3,2193.3 241.5,2177.9 241.8,2182.7 242.1,2178.0 242.3,2178.7 242.6,2177.4 242.9,2180.8 243.1,2179.1 243.4,2183.8 243.7,2183.1 243.9,2177.4 244.2,2192.0 244.5,2176.0 244.7,2183.9 245.0,2193.3 245.2,2178.4 245.5,2188.9 245.8,2189.4 246.0,2183.9 246.3,2172.5 246.6,2189.5 246.8,2182.6 247.1,2179.3 247.4,2188.8 247.6,2178.4 247.9,2187.7 248.2,2179.3 248.4,2185.0 248.7,2176.6 248.9,2180.2 249.2,2177.5 249.5,2178.5 249.7,2183.2 250.0,2181.4 250.3,2183.2 250.5,2188.9 250.8,2181.7 251.1,2172.6 251.3,2180.8 251.6,2182.7 251.9,2187.6 252.1,2187.7 252.4,2187.3 252.7,2181.2 252.9,2185.7 253.2,2174.9 253.4,2189.1 253.7,2184.7 254.0,2185.1 254.2,2180.5 254.5,2182.7 254.8,2179.0 255.0,2185.4 255.3,2175.6 255.6,2187.6 255.8,2185.4 256.1,2193.1 256.4,2182.3 256.6,2182.1 256.9,2183.6 257.2,2182.8 257.4,2182.0 257.7,2176.8 257.9,2176.8 258.2,2179.7 258.5,2181.1 258.7,2208.8 259.0,2176.6 259.3,2181.2 259.5,2186.6 259.8,2181.7 260.1,2186.3 260.3,2187.8 260.6,2186.8 260.9,2180.6 261.1,2180.7 261.4,2173.0 261.7,2179.2 261.9,2185.3 262.2,2177.1 262.4,2189.9 262.7,2190.4 263.0,2180.9 263.2,2187.7 263.5,2175.5 263.8,2177.4 264.0,2181.0 264.3,2183.0 264.6,2182.0 264.8,2178.5 265.1,2193.3 265.4,2184.5 265.6,2184.5 265.9,2186.6 266.1,2184.0 266.4,2181.8 266.7,2180.2 266.9,2174.5 267.2,2190.9 267.5,2178.3 267.7,2174.4 268.0,2178.9 268.3,2174.7 268.5,2193.7 268.8,2185.1 269.1,2190.6 269.3,2190.9 269.6,2186.2 269.9,2186.3 270.1,2179.5 270.4,2182.8 270.6,2180.1 270.9,2183.5 271.2,2179.6 271.4,2190.0 271.7,2187.4 272.0,2182.8 272.2,2174.6 272.5,2187.0 272.8,2188.1 273.0,2183.1 273.3,2176.8 273.6,2185.7 273.8,2189.0 274.1,2173.4 274.4,2186.5 274.6,2174.0 274.9,2184.0 275.1,2192.8 275.4,2184.1 275.7,2186.1 275.9,2181.9 276.2,2183.6 276.5,2196.0 276.7,2190.7 277.0,2182.0 277.3,2181.7 277.5,2183.8 277.8,2195.3 278.1,2184.8 278.3,2189.6 278.6,2181.8 278.9,2177.1 279.1,2190.8 279.4,2183.4 279.6,2179.7 279.9,2180.2 280.2,2180.3 280.4,2180.7 280.7,2175.8 281.0,2190.2 281.2,2185.9 281.5,2211.3 281.8,2182.1 282.0,2185.8 282.3,2184.9 282.6,2190.2 282.8,2188.3 283.1,2185.9 283.3,2180.6 283.6,2177.7 283.9,2179.9 284.1,2180.8 284.4,2181.3 284.7,2177.6 284.9,2192.9 285.2,2185.6 285.5,2173.5 285.7,2178.4 286.0,2177.1 286.3,2185.5 286.5,2189.9 286.8,2179.1 287.1,2187.6 287.3,2182.8 287.6,2190.4 287.8,2191.6 288.1,2186.0 288.4,2188.2 288.6,2184.4 288.9,2182.4 289.2,2178.3 289.4,2186.2 289.7,2184.1 290.0,2182.5 290.2,2184.1 290.5,2183.6 290.8,2179.1 291.0,2181.8 291.3,2190.6 291.6,2183.4 291.8,2192.0 292.1,2178.6 292.3,2177.5 292.6,2190.0 292.9,2188.8 293.1,2181.3 293.4,2188.1 293.7,2189.8 293.9,2190.5 294.2,2184.3 294.5,2184.6 294.7,2176.2 295.0,2185.1 295.3,2186.5 295.5,2192.5 295.8,2178.3 296.1,2180.6 296.3,2179.8 296.6,2189.9 296.8,2171.8 297.1,2179.4 297.4,2196.1 297.6,2188.7 297.9,2178.2 298.2,2185.0 298.4,2189.8 298.7,2188.3 299.0,2184.2 299.2,2181.2 299.5,2189.9 299.8,2185.5 300.0,2189.8 300.3,2187.7 300.5,2183.1 300.8,2193.3 301.1,2183.0 301.3,2188.0 301.6,2182.4 301.9,2184.5 302.1,2184.5 302.4,2182.3 302.7,2187.1 302.9,2192.9 303.2,2195.8 303.5,2193.6 303.7,2185.1 304.0,2193.8 304.3,2188.3 304.5,2195.7 304.8,2179.5 305.0,2194.1 305.3,2183.1 305.6,2192.4 305.8,2183.9 306.1,2191.2 306.4,2184.9 306.6,2176.5 306.9,2181.3 307.2,2185.2 307.4,2186.7 307.7,2174.7 308.0,2180.3 308.2,2182.8 308.5,2185.6 308.8,2187.9 309.0,2182.5 309.3,2178.8 309.5,2188.5 309.8,2185.2 310.1,2191.7 310.3,2184.2 310.6,2190.5 310.9,2182.4 311.1,2188.6 311.4,2187.7 311.7,2189.6 311.9,2182.3 312.2,2186.7 312.5,2182.9 312.7,2186.6 313.0,2190.8 313.3,2203.4 313.5,2187.7 313.8,2191.4 314.0,2188.3 314.3,2193.7 314.6,2190.2 314.8,2193.3 315.1,2189.7 315.4,2200.7 315.6,2195.3 315.9,2178.9 316.2,2189.6 316.4,2188.5 316.7,2176.4 317.0,2183.6 317.2,2185.8 317.5,2184.4 317.8,2189.0 318.0,2178.8 318.3,2192.4 318.5,2192.6 318.8,2190.4 319.1,2186.8 319.3,2188.6 319.6,2186.2 319.9,2194.8 320.1,2191.5 320.4,2199.4 320.7,2186.9 320.9,2196.6 321.2,2185.9 321.5,2188.1 321.7,2183.5 322.0,2191.9 322.2,2188.9 322.5,2192.5 322.8,2197.2 323.0,2189.0 323.3,2191.4 323.6,2194.2 323.8,2189.2 324.1,2186.6 324.4,2191.5 324.6,2192.3 324.9,2193.8 325.2,2194.2 325.4,2186.2 325.7,2192.2 326.0,2196.5 326.2,2187.5 326.5,2191.9 326.7,2186.8 327.0,2191.0 327.3,2199.4 327.5,2191.1 327.8,2185.1 328.1,2192.2 328.3,2191.5 328.6,2196.4 328.9,2183.1 329.1,2185.6 329.4,2190.2 329.7,2182.3 329.9,2196.8 330.2,2179.9 330.5,2186.4 330.7,2183.0 331.0,2187.4 331.2,2195.2 331.5,2194.2 331.8,2196.0 332.0,2194.3 332.3,2180.3 332.6,2192.8 332.8,2181.4 333.1,2188.6 333.4,2189.3 333.6,2188.5 333.9,2194.1 334.2,2187.2 334.4,2200.9 334.7,2194.9 335.0,2198.0 335.2,2195.8 335.5,2196.6 335.7,2191.7 336.0,2202.5 336.3,2186.3 336.5,2194.5 336.8,2192.1 337.1,2191.0 337.3,2193.9 337.6,2188.2 337.9,2197.0 338.1,2196.6 338.4,2192.9 338.7,2196.4 338.9,2187.0 339.2,2182.9 339.4,2189.5 339.7,2191.4 340.0,2206.1 340.2,2191.6 340.5,2198.4 340.8,2197.5 341.0,2204.3 341.3,2193.6 341.6,2196.6 341.8,2192.1 342.1,2188.5 342.4,2187.8 342.6,2189.1 342.9,2201.0 343.2,2194.9 343.4,2192.6 343.7,2193.6 343.9,2190.5 344.2,2193.4 344.5,2193.5 344.7,2197.2 345.0,2198.7 345.3,2185.0 345.5,2195.1 345.8,2201.3 346.1,2188.5 346.3,2192.7 346.6,2195.0 346.9,2200.1 347.1,2197.4 347.4,2193.1 347.7,2197.0 347.9,2200.0 348.2,2196.5 348.4,2204.5 348.7,2196.8 349.0,2188.9 349.2,2190.4 349.5,2194.0 349.8,2193.6 350.0,2198.2 350.3,2196.8 350.6,2204.2 350.8,2199.3 351.1,2203.0 351.4,2190.9 351.6,2192.8 351.9,2198.9 352.2,2195.7 352.4,2198.7 352.7,2196.7 352.9,2192.0 353.2,2204.6 353.5,2201.7 353.7,2187.1 354.0,2192.3 354.3,2195.8 354.5,2199.4 354.8,2195.4 355.1,2188.4 355.3,2200.3 355.6,2194.8 355.9,2202.5 356.1,2197.6 356.4,2201.5 356.6,2200.6 356.9,2200.9 357.2,2193.5 357.4,2201.8 357.7,2197.4 358.0,2189.6 358.2,2194.3 358.5,2194.6 358.8,2199.1 359.0,2200.3 359.3,2190.6 359.6,2200.6 359.8,2196.4 360.1,2191.1 360.4,2201.3 360.6,2192.7 360.9,2190.5 361.1,2201.1 361.4,2201.9 361.7,2193.5 361.9,2202.8 362.2,2202.6 362.5,2194.4 362.7,2208.1 363.0,2197.0 363.3,2198.6 363.5,2184.5 363.8,2200.9 364.1,2194.1 364.3,2199.9 364.6,2188.3 364.9,2203.9 365.1,2205.6 365.4,2208.0 365.6,2181.8 365.9,2201.0 366.2,2199.8 366.4,2181.5 366.7,2194.0 367.0,2197.6 367.2,2205.8 367.5,2193.6 367.8,2199.3 368.0,2197.9 368.3,2200.3 368.6,2196.2 368.8,2203.2 369.1,2203.7 369.4,2191.1 369.6,2204.6 369.9,2194.5 370.1,2197.1 370.4,2204.8 370.7,2199.3 370.9,2201.9 371.2,2203.1 371.5,2202.1 371.7,2196.0 372.0,2193.8 372.3,2202.7 372.5,2203.2 372.8,2201.1 373.1,2198.1 373.3,2203.9 373.6,2199.1 373.8,2191.9 374.1,2200.9 374.4,2202.2 374.6,2203.7 374.9,2194.6 375.2,2195.5 375.4,2201.4 375.7,2197.2 376.0,2199.3 376.2,2204.9 376.5,2202.0 376.8,2209.8 377.0,2201.5 377.3,2209.3 377.6,2205.8 377.8,2214.0 378.1,2200.2 378.3,2199.7 378.6,2207.4 378.9,2197.5 379.1,2197.8 379.4,2201.7 379.7,2202.5 379.9,2192.8 380.2,2201.9 380.5,2198.9 380.7,2200.5 381.0,2201.7 381.3,2199.7 381.5,2206.7 381.8,2203.5 382.1,2199.9 382.3,2201.4 382.6,2206.7 382.8,2205.4 383.1,2208.0 383.4,2200.4 383.6,2202.0 383.9,2212.3 384.2,2201.1 384.4,2210.6 384.7,2206.0 385.0,2199.1 385.2,2193.9 385.5,2205.1 385.8,2197.8 386.0,2197.8 386.3,2192.3 386.6,2208.3 386.8,2202.4 387.1,2202.0 387.3,2204.1 387.6,2203.3 387.9,2202.5 388.1,2204.9 388.4,2200.6 388.7,2188.1 388.9,2206.2 389.2,2204.6 389.5,2202.4 389.7,2211.0 390.0,2194.8 390.3,2186.6 390.5,2210.6 390.8,2204.8 391.0,2193.6 391.3,2200.4 391.6,2206.1 391.8,2196.1 392.1,2205.8 392.4,2214.4 392.6,2210.5 392.9,2202.7 393.2,2204.7 393.4,2197.8 393.7,2203.8 394.0,2201.3 394.2,2197.7 394.5,2195.8 394.8,2213.8 395.0,2203.8 395.3,2197.7 395.5,2201.1 395.8,2211.6 396.1,2212.4 396.3,2200.1 396.6,2204.6 396.9,2208.5 397.1,2201.8 397.4,2197.2 397.7,2198.4 397.9,2203.9 398.2,2199.6 398.5,2196.8 398.7,2202.6 399.0,2209.1 399.3,2207.8 399.5,2202.8 399.8,2214.6 400.0,2199.8 400.3,2203.8 400.6,2196.8 400.8,2208.6 401.1,2203.7 401.4,2195.1 401.6,2199.9 401.9,2214.4 402.2,2208.5 402.4,2205.2 402.7,2209.4 403.0,2195.9 403.2,2200.2 403.5,2197.5 403.8,2200.3 404.0,2202.8 404.3,2207.8 404.5,2210.5 404.8,2210.4 405.1,2219.8 405.3,2202.4 405.6,2205.0 405.9,2208.0 406.1,2200.7 406.4,2203.7 406.7,2207.6 406.9,2200.5 407.2,2208.0 407.5,2212.2 407.7,2199.4 408.0,2193.0 408.2,2206.1 408.5,2199.9 408.8,2206.7 409.0,2203.3 409.3,2207.5 409.6,2212.1 409.8,2210.4 410.1,2204.0 410.4,2199.5 410.6,2192.3 410.9,2194.1 411.2,2201.7 411.4,2206.7 411.7,2202.5 412.0,2203.0 412.2,2197.5 412.5,2197.2 412.7,2196.8 413.0,2209.8 413.3,2195.5 413.5,2210.2 413.8,2201.5 414.1,2209.5 414.3,2207.9 414.6,2210.8 414.9,2213.2 415.1,2202.3 415.4,2201.3 415.7,2204.3 415.9,2202.5 416.2,2210.5 416.5,2206.2 416.7,2206.9 417.0,2209.2 417.2,2204.3 417.5,2213.1 417.8,2196.8 418.0,2208.4 418.3,2209.9 418.6,2203.0 418.8,2203.4 419.1,2212.3 419.4,2205.6 419.6,2196.7 419.9,2199.9 420.2,2213.1 420.4,2202.6 420.7,2214.9 421.0,2215.3 421.2,2206.6 421.5,2210.8 421.7,2203.2 422.0,2205.6 422.3,2204.0 422.5,2211.2 422.8,2200.8 423.1,2207.3 423.3,2208.4 423.6,2211.0 423.9,2196.4 424.1,2198.3 424.4,2203.4 424.7,2207.1 424.9,2213.0 425.2,2209.5 425.4,2219.8 425.7,2212.2 426.0,2211.9 426.2,2206.0 426.5,2213.1 426.8,2212.7 427.0,2212.6 427.3,2208.3 427.6,2212.4 427.8,2217.5 428.1,2204.6 428.4,2197.1 428.6,2213.8 428.9,2213.3 429.2,2208.0 429.4,2206.9 429.7,2224.8 429.9,2206.9 430.2,2202.7 430.5,2206.9 430.7,2212.5 431.0,2206.3 431.3,2207.6 431.5,2211.5 431.8,2207.5 432.1,2210.7 432.3,2209.8 432.6,2204.1 432.9,2210.5 433.1,2203.7 433.4,2215.5 433.7,2205.1 433.9,2209.0 434.2,2200.3 434.4,2208.0 434.7,2203.6 435.0,2219.0 435.2,2210.0 435.5,2213.7 435.8,2201.0 436.0,2203.9 436.3,2210.0 436.6,2203.4 436.8,2217.4 437.1,2208.8 437.4,2212.0 437.6,2212.9 437.9,2210.5 438.2,2215.7 438.4,2207.7 438.7,2213.5 438.9,2218.3 439.2,2212.8 439.5,2212.4 439.7,2209.9 440.0,2212.1 440.3,2215.7 440.5,2210.6 440.8,2202.6 441.1,2213.0 441.3,2211.3 441.6,2214.8 441.9,2212.5 442.1,2221.1 442.4,2205.7 442.6,2207.1 442.9,2216.2 443.2,2206.9 443.4,2214.5 443.7,2212.7 444.0,2201.9 444.2,2216.6 444.5,2220.6 444.8,2214.2 445.0,2205.3 445.3,2217.6 445.6,2207.4 445.8,2212.6 446.1,2215.7 446.4,2209.1 446.6,2204.1 446.9,2212.8 447.1,2213.4 447.4,2209.0 447.7,2209.5 447.9,2218.0 448.2,2213.5 448.5,2211.4 448.7,2210.8 449.0,2215.1 449.3,2214.8 449.5,2213.4 449.8,2206.7 450.1,2212.4 450.3,2211.0 450.6,2215.0 450.9,2221.1 451.1,2220.1 451.4,2218.4 451.6,2215.5 451.9,2213.2 452.2,2216.9 452.4,2212.5 452.7,2213.3 453.0,2210.6 453.2,2215.1 453.5,2215.0 453.8,2225.8 454.0,2218.7 454.3,2213.6 454.6,2220.1 454.8,2213.2 455.1,2221.5 455.4,2220.3 455.6,2232.1 455.9,2210.1 456.1,2215.8 456.4,2215.7 456.7,2218.0 456.9,2220.4 457.2,2211.1 457.5,2212.6 457.7,2218.4 458.0,2222.1 458.3,2210.7 458.5,2208.4 458.8,2223.4 459.1,2221.8 459.3,2223.2 459.6,2211.9 459.8,2216.2 460.1,2218.7 460.4,2220.0 460.6,2216.9 460.9,2217.4 461.2,2223.4 461.4,2215.4 461.7,2214.9 462.0,2215.6 462.2,2215.3 462.5,2218.9 462.8,2217.1 463.0,2215.9 463.3,2226.3 463.6,2220.2 463.8,2216.7 464.1,2225.6 464.3,2215.7 464.6,2218.8 464.9,2218.4 465.1,2215.8 465.4,2217.0 465.7,2219.6 465.9,2211.4 466.2,2217.2 466.5,2230.4 466.7,2221.0 467.0,2221.2 467.3,2232.6 467.5,2223.4 467.8,2219.1 468.1,2219.3 468.3,2220.0 468.6,2222.5 468.8,2218.6 469.1,2228.6 469.4,2214.3 469.6,2223.9 469.9,2223.3 470.2,2214.4 470.4,2224.2 470.7,2223.9 471.0,2217.4 471.2,2233.7 471.5,2225.0 471.8,2219.4 472.0,2218.6 472.3,2217.3 472.6,2222.8 472.8,2221.8 473.1,2213.9 473.3,2216.0 473.6,2217.9 473.9,2219.7 474.1,2220.0 474.4,2218.4 474.7,2225.6 474.9,2227.4 475.2,2222.7 475.5,2210.4 475.7,2221.6 476.0,2225.6 476.3,2222.2 476.5,2224.2 476.8,2223.4 477.0,2224.8 477.3,2209.2 477.6,2226.5 477.8,2220.3 478.1,2225.6 478.4,2221.7 478.6,2222.5 478.9,2231.1 479.2,2217.1 479.4,2223.7 479.7,2217.8 480.0,2224.3 480.2,2226.6 480.5,2227.7 480.8,2225.0 481.0,2216.7 481.3,2225.7 481.5,2229.4 481.8,2230.0 482.1,2236.4 482.3,2227.8 482.6,2219.2 482.9,2222.1 483.1,2225.5 483.4,2230.9 483.7,2218.9 483.9,2230.3 484.2,2229.0 484.5,2220.7 484.7,2228.9 485.0,2221.5 485.3,2225.7 485.5,2224.2 485.8,2227.2 486.0,2219.6 486.3,2229.0 486.6,2214.3 486.8,2224.1 487.1,2223.3 487.4,2235.2 487.6,2229.5 487.9,2224.0 488.2,2221.9 488.4,2227.1 488.7,2223.5 489.0,2239.4 489.2,2211.9 489.5,2227.6 489.8,2213.8 490.0,2233.1 490.3,2223.1 490.5,2236.5 490.8,2224.7 491.1,2233.8 491.3,2229.0 491.6,2234.5 491.9,2228.2 492.1,2211.8 492.4,2224.3 492.7,2219.8 492.9,2233.7 493.2,2231.5 493.5,2228.7 493.7,2231.3 494.0,2229.9 494.2,2225.8 494.5,2239.8 494.8,2230.5 495.0,2228.2 495.3,2221.2 495.6,2226.0 495.8,2229.6 496.1,2228.6 496.4,2227.1 496.6,2229.5 496.9,2223.7 497.2,2230.0 497.4,2221.5 497.7,2225.4 498.0,2226.2 498.2,2235.2 498.5,2233.2 498.7,2231.0 499.0,2224.3 499.3,2228.5 499.5,2235.3 499.8,2237.9 500.1,2222.9 500.3,2228.8 500.6,2231.8 500.9,2233.3 501.1,2231.5 501.4,2235.2 501.7,2223.6 501.9,2240.3 502.2,2225.5 502.5,2232.2 502.7,2234.9 503.0,2238.6 503.2,2237.2 503.5,2237.1 503.8,2239.5 504.0,2231.7 504.3,2236.8 504.6,2241.3 504.8,2228.6 505.1,2225.1 505.4,2227.4 505.6,2240.9 505.9,2240.1 506.2,2231.3 506.4,2234.8 506.7,2236.1 507.0,2239.4 507.2,2223.2 507.5,2230.7 507.7,2232.4 508.0,2235.8 508.3,2234.5 508.5,2232.4 508.8,2235.9 509.1,2220.0 509.3,2251.6 509.6,2239.2 509.9,2239.6 510.1,2231.1 510.4,2237.2 510.7,2246.4 510.9,2245.2 511.2,2235.6 511.4,2228.3 511.7,2236.3 512.0,2233.8 512.2,2240.3 512.5,2228.5 512.8,2234.7 513.0,2237.4 513.3,2233.4 513.6,2242.0 513.8,2229.8 514.1,2229.4 514.4,2234.4 514.6,2241.2 514.9,2234.9 515.2,2233.4 515.4,2241.3 515.7,2238.2 515.9,2234.1 516.2,2237.8 516.5,2235.9 516.7,2240.8 517.0,2238.3 517.3,2233.1 517.5,2235.0 517.8,2235.5 518.1,2240.0 518.3,2240.1 518.6,2233.4 518.9,2237.2 519.1,2240.1 519.4,2244.6 519.7,2240.0 519.9,2249.6 520.2,2238.9 520.4,2243.0 520.7,2237.2 521.0,2233.5 521.2,2239.8 521.5,2242.1 521.8,2241.3 522.0,2240.4 522.3,2237.8 522.6,2235.2 522.8,2238.2 523.1,2242.7 523.4,2245.5 523.6,2221.7 523.9,2243.8 524.2,2246.6 524.4,2247.7 524.7,2242.9 524.9,2244.6 525.2,2238.4 525.5,2240.6 525.7,2244.1 526.0,2235.1 526.3,2236.9 526.5,2242.6 526.8,2234.1 527.1,2242.1 527.3,2233.5 527.6,2243.1 527.9,2242.3 528.1,2239.1 528.4,2237.0 528.6,2239.6 528.9,2229.9 529.2,2240.5 529.4,2243.5 529.7,2249.8 530.0,2240.2 530.2,2242.2 530.5,2251.2 530.8,2253.3 531.0,2240.8 531.3,2249.6 531.6,2250.5 531.8,2246.8 532.1,2238.4 532.4,2238.8 532.6,2247.5 532.9,2257.6 533.1,2243.5 533.4,2253.5 533.7,2255.5 533.9,2237.8 534.2,2241.6 534.5,2253.7 534.7,2250.8 535.0,2248.5 535.3,2245.4 535.5,2249.2 535.8,2242.2 536.1,2260.1 536.3,2239.4 536.6,2235.9 536.9,2247.1 537.1,2254.6 537.4,2243.7 537.6,2246.3 537.9,2240.9 538.2,2246.4 538.4,2241.2 538.7,2241.4 539.0,2238.8 539.2,2244.2 539.5,2258.1 539.8,2247.3 540.0,2248.8 540.3,2260.6 540.6,2244.3 540.8,2242.4 541.1,2251.2 541.4,2241.3 541.6,2250.3 541.9,2255.2 542.1,2242.5 542.4,2245.8 542.7,2258.6 542.9,2243.0 543.2,2245.3 543.5,2250.7 543.7,2247.6 544.0,2244.7 544.3,2258.8 544.5,2246.5 544.8,2251.8 545.1,2247.7 545.3,2248.8 545.6,2242.4 545.8,2255.7 546.1,2248.1 546.4,2257.9 546.6,2244.1 546.9,2248.1 547.2,2253.7 547.4,2251.8 547.7,2247.5 548.0,2250.6 548.2,2244.1 548.5,2251.9 548.8,2236.6 549.0,2252.8 549.3,2259.8 549.6,2257.2 549.8,2257.1 550.1,2249.9 550.3,2255.3 550.6,2250.3 550.9,2263.0 551.1,2252.2 551.4,2233.6 551.7,2258.4 551.9,2255.8 552.2,2258.1 552.5,2247.9 552.7,2257.5 553.0,2256.4 553.3,2240.9 553.5,2243.7 553.8,2254.3 554.1,2250.3 554.3,2254.1 554.6,2250.7 554.8,2263.1 555.1,2243.6 555.4,2246.8 555.6,2249.2 555.9,2247.0 556.2,2251.7 556.4,2255.0 556.7,2247.5 557.0,2257.5 557.2,2263.1 557.5,2262.0 557.8,2267.4 558.0,2262.4 558.3,2255.8 558.6,2266.4 558.8,2260.3 559.1,2267.2 559.3,2255.3 559.6,2244.3 559.9,2249.9 560.1,2257.8 560.4,2260.1 560.7,2255.8 560.9,2263.0 561.2,2250.5 561.5,2253.2 561.7,2263.2 562.0,2257.9 562.3,2258.2 562.5,2266.0 562.8,2264.3 563.0,2253.4 563.3,2259.3 563.6,2248.3 563.8,2258.3 564.1,2271.3 564.4,2248.4 564.6,2267.8 564.9,2270.5 565.2,2261.8 565.4,2264.4 565.7,2267.9 566.0,2258.2 566.2,2265.4 566.5,2261.7 566.8,2250.5 567.0,2254.3 567.3,2256.4 567.5,2266.1 567.8,2260.5 568.1,2265.9 568.3,2257.4 568.6,2252.7 568.9,2272.5 569.1,2276.5 569.4,2262.8 569.7,2259.5 569.9,2267.8 570.2,2254.3 570.5,2259.7 570.7,2252.5 571.0,2264.0 571.3,2262.7 571.5,2258.9 571.8,2257.5 572.0,2252.5 572.3,2256.7 572.6,2269.0 572.8,2259.7 573.1,2269.3 573.4,2256.8 573.6,2261.6 573.9,2259.4 574.2,2260.7 574.4,2266.9 574.7,2250.2 575.0,2266.9 575.2,2266.7 575.5,2262.7 575.8,2263.2 576.0,2261.5 576.3,2267.0 576.5,2263.3 576.8,2258.0 577.1,2264.1 577.3,2268.9 577.6,2265.5 577.9,2263.6 578.1,2264.7 578.4,2260.6 578.7,2260.9 578.9,2252.5 579.2,2262.7 579.5,2269.8 579.7,2261.6 580.0,2258.6 580.2,2269.5 580.5,2265.2 580.8,2265.1 581.0,2267.1 581.3,2268.6 581.6,2264.2 581.8,2259.6 582.1,2275.0 582.4,2265.0 582.6,2260.1 582.9,2265.9 583.2,2272.0 583.4,2256.5 583.7,2272.9 584.0,2264.3 584.2,2277.1 584.5,2269.2 584.7,2264.7 585.0,2272.9 585.3,2273.1 585.5,2263.4 585.8,2267.0 586.1,2262.5 586.3,2271.2 586.6,2257.3 586.9,2264.8 587.1,2253.1 587.4,2269.5 587.7,2252.7 587.9,2259.7 588.2,2267.7 588.5,2264.1 588.7,2263.6 589.0,2260.6 589.2,2263.6 589.5,2256.0 589.8,2268.5 590.0,2271.5 590.3,2271.3 590.6,2266.5 590.8,2274.2 591.1,2269.7 591.4,2272.7 591.6,2269.4 591.9,2267.3 592.2,2262.6 592.4,2251.4 592.7,2271.1 593.0,2266.6 593.2,2279.4 593.5,2255.5 593.7,2272.6 594.0,2261.9 594.3,2267.6 594.5,2262.4 594.8,2269.9 595.1,2267.7 595.3,2273.2 595.6,2268.8 595.9,2270.9 596.1,2278.2 596.4,2271.3 596.7,2267.4 596.9,2275.8 597.2,2267.7 597.4,2270.9 597.7,2266.5 598.0,2264.5 598.2,2250.4 598.5,2272.8 598.8,2261.7 599.0,2273.2 599.3,2279.7 599.6,2260.9 599.8,2274.3 600.1,2268.4 600.4,2271.8 600.6,2261.9 600.9,2269.4 601.2,2270.2 601.4,2278.0 601.7,2282.4 601.9,2271.3 602.2,2267.3 602.5,2283.0 602.7,2269.0 603.0,2269.3 603.3,2270.3 603.5,2272.6 603.8,2274.1 604.1,2266.4 604.3,2269.3 604.6,2281.4 604.9,2279.8 605.1,2272.8 605.4,2271.8 605.7,2268.8 605.9,2276.5 606.2,2267.2 606.4,2271.2 606.7,2267.7 607.0,2266.7 607.2,2270.8 607.5,2270.7 607.8,2267.1 608.0,2270.3 608.3,2271.2 608.6,2268.0 608.8,2266.9 609.1,2270.1 609.4,2275.3 609.6,2277.8 609.9,2272.2 610.2,2269.5 610.4,2271.0 610.7,2282.9 610.9,2276.9 611.2,2265.5 611.5,2271.1 611.7,2268.2 612.0,2269.3 612.3,2261.2 612.5,2271.8 612.8,2263.3 613.1,2268.1 613.3,2281.0 613.6,2277.9 613.9,2266.5 614.1,2265.5 614.4,2266.3 614.6,2260.4 614.9,2266.0 615.2,2270.4 615.4,2265.7 615.7,2276.8 616.0,2271.9 616.2,2268.9 616.5,2283.0 616.8,2276.6 617.0,2272.8 617.3,2283.7 617.6,2280.5 617.8,2268.1 618.1,2274.5 618.4,2269.8 618.6,2263.7 618.9,2284.3 619.1,2281.9 619.4,2264.9 619.7,2275.7 619.9,2262.6 620.2,2279.4 620.5,2278.4 620.7,2271.1 621.0,2280.6 621.3,2273.0 621.5,2271.4 621.8,2278.6 622.1,2271.1 622.3,2278.4 622.6,2273.1 622.9,2278.2 623.1,2277.0 623.4,2278.1 623.6,2267.0 623.9,2284.9 624.2,2272.2 624.4,2284.2 624.7,2269.6 625.0,2271.6 625.2,2271.7 625.5,2280.5 625.8,2270.7 626.0,2276.0 626.3,2263.7 626.6,2270.5 626.8,2274.9 627.1,2272.8 627.4,2261.9 627.6,2276.6 627.9,2267.5 628.1,2285.6 628.4,2272.4 628.7,2287.7 628.9,2277.7 629.2,2276.5 629.5,2270.7 629.7,2272.9 630.0,2276.5 630.3,2261.5 630.5,2279.9 630.8,2266.4 631.1,2272.1 631.3,2256.7 631.6,2276.5 631.9,2278.4 632.1,2275.5 632.4,2275.7 632.6,2271.4 632.9,2274.7 633.2,2281.3 633.4,2271.1 633.7,2276.8 634.0,2278.2 634.2,2272.2 634.5,2275.2 634.8,2275.1 635.0,2270.6 635.3,2288.9 635.6,2271.0 635.8,2284.3 636.1,2280.3 636.3,2260.9 636.6,2275.2 636.9,2280.0 637.1,2278.7 637.4,2267.9 637.7,2275.2 637.9,2266.0 638.2,2267.0 638.5,2272.0 638.7,2274.6 639.0,2283.4 639.3,2275.6 639.5,2279.9 639.8,2265.8 640.1,2266.1 640.3,2270.2 640.6,2284.1 640.8,2264.8 641.1,2263.3 641.4,2272.6 641.6,2280.4 641.9,2262.9 642.2,2271.4 642.4,2264.5 642.7,2281.8 643.0,2277.1 643.2,2274.4 643.5,2272.4 643.8,2271.1 644.0,2273.4 644.3,2268.4 644.6,2266.9 644.8,2265.4 645.1,2272.3 645.3,2267.2 645.6,2277.5 645.9,2259.0 646.1,2275.4 646.4,2275.1 646.7,2279.2 646.9,2270.1 647.2,2262.3 647.5,2265.8 647.7,2278.3 648.0,2269.3 648.3,2268.6 648.5,2267.4 648.8,2270.5 649.1,2269.4 649.3,2261.1 649.6,2266.8 649.8,2276.5 650.1,2279.0 650.4,2269.3 650.6,2266.8 650.9,2278.0 651.2,2268.5 651.4,2262.3 651.7,2268.5 652.0,2273.3 652.2,2278.3 652.5,2265.8 652.8,2271.7 653.0,2266.4 653.3,2274.9 653.5,2269.4 653.8,2269.2 654.1,2261.6 654.3,2265.3 654.6,2265.1 654.9,2245.5 655.1,2271.5 655.4,2266.2 655.7,2264.7 655.9,2263.6 656.2,2265.5 656.5,2266.5 656.7,2257.2 657.0,2265.1 657.3,2264.7 657.5,2263.9 657.8,2254.9 658.0,2262.2 658.3,2255.3 658.6,2264.2 658.8,2269.3 659.1,2266.3 659.4,2259.0 659.6,2257.4 659.9,2256.8 660.2,2261.4 660.4,2255.3 660.7,2255.5 661.0,2244.1 661.2,2252.7 661.5,2252.4 661.8,2253.2 662.0,2262.0 662.3,2247.5 662.5,2246.9 662.8,2256.5 663.1,2247.3 663.3,2250.8 663.6,2251.8 663.9,2250.1 664.1,2245.1 664.4,2252.8 664.7,2254.7 664.9,2241.0 665.2,2243.6 665.5,2248.5 665.7,2241.6 666.0,2236.4 666.3,2237.9 666.5,2242.6 666.8,2232.4 667.0,2236.8 667.3,2235.8 667.6,2229.3 667.8,2233.1 668.1,2231.7 668.4,2231.1 668.6,2228.7 668.9,2215.7 669.2,2223.9 669.4,2220.0 669.7,2219.1 670.0,2208.6 670.2,2213.0 670.5,2207.6 670.7,2198.2 671.0,2204.4 671.3,2192.6 671.5,2187.8 671.8,2189.1 672.1,2181.0 672.3,2179.9 672.6,2172.7 672.9,2169.4 673.1,2165.7 673.4,2156.8 673.7,2153.6 673.9,2146.9 674.2,2134.4 674.5,2132.5 674.7,2124.0 675.0,2114.4 675.2,2108.9 675.5,2101.6 675.8,2089.8 676.0,2074.1 676.3,2069.9 676.6,2058.5 676.8,2048.3 677.1,2040.1 677.4,2028.7 677.6,2024.4 677.9,2012.1 678.2,2003.2 678.4,1997.6 678.7,1991.2 679.0,1986.7 679.2,1981.2 679.5,1976.8 679.7,1975.8 680.0,1970.4 680.3,1973.9 680.5,1983.3 680.8,1984.9 681.1,1996.2 681.3,2003.3 681.6,2003.4 681.9,2015.5 682.1,2030.6 682.4,2029.5 682.7,2040.7 682.9,2046.7 683.2,2053.7 683.5,2059.8 683.7,2065.8 684.0,2072.2 684.2,2070.6 684.5,2075.9 684.8,2072.5 685.0,2074.6 685.3,2071.1 685.6,2064.0 685.8,2061.9 686.1,2055.0 686.4,2051.5 686.6,2056.3 686.9,2050.9 687.2,2062.1 687.4,2067.3 687.7,2068.4 687.9,2078.1 688.2,2082.6 688.5,2081.2 688.7,2091.6 689.0,2096.6 689.3,2098.1 689.5,2107.3 689.8,2113.0 690.1,2113.6 690.3,2114.7 690.6,2127.4 690.9,2128.7 691.1,2130.3 691.4,2139.6 691.7,2137.5 691.9,2149.0 692.2,2159.9 692.4,2149.0 692.7,2164.9 693.0,2164.0 693.2,2169.8 693.5,2171.8 693.8,2181.3 694.0,2182.4 694.3,2182.8 694.6,2184.0 694.8,2190.6 695.1,2200.0 695.4,2193.3 695.6,2202.8 695.9,2205.2 696.2,2197.9 696.4,2213.5 696.7,2211.0 696.9,2223.2 697.2,2223.3 697.5,2216.6 697.7,2219.1 698.0,2217.1 698.3,2217.2 698.5,2229.0 698.8,2225.8 699.1,2226.8 699.3,2229.4 699.6,2235.0 699.9,2237.8 700.1,2234.6 700.4,2235.0 700.7,2237.7 700.9,2248.8 701.2,2229.2 701.4,2234.9 701.7,2244.3 702.0,2243.7 702.2,2250.4 702.5,2251.9 702.8,2256.4 703.0,2242.6 703.3,2251.0 703.6,2247.4 703.8,2254.7 704.1,2251.3 704.4,2255.9 704.6,2247.7 704.9,2253.4 705.1,2250.4 705.4,2252.4 705.7,2252.0 705.9,2249.4 706.2,2262.1 706.5,2258.1 706.7,2263.2 707.0,2251.8 707.3,2246.8 707.5,2254.8 707.8,2258.2 708.1,2264.2 708.3,2266.3 708.6,2267.7 708.9,2270.1 709.1,2265.8 709.4,2262.5 709.6,2257.7 709.9,2266.8 710.2,2260.0 710.4,2258.6 710.7,2267.4 711.0,2265.5 711.2,2269.8 711.5,2260.5 711.8,2272.4 712.0,2267.7 712.3,2264.8 712.6,2261.4 712.8,2259.7 713.1,2258.2 713.4,2275.8 713.6,2258.4 713.9,2271.6 714.1,2266.3 714.4,2264.4 714.7,2265.3 714.9,2268.0 715.2,2274.6 715.5,2272.7 715.7,2269.3 716.0,2260.7 716.3,2258.3 716.5,2282.0 716.8,2263.7 717.1,2260.2 717.3,2277.9 717.6,2261.0 717.9,2275.8 718.1,2277.3 718.4,2273.0 718.6,2277.9 718.9,2262.5 719.2,2263.8 719.4,2270.8 719.7,2272.2 720.0,2271.8 720.2,2275.6 720.5,2267.8 720.8,2258.6 721.0,2275.7 721.3,2271.6 721.6,2278.8 721.8,2287.4 722.1,2274.1 722.3,2277.6 722.6,2267.8 722.9,2280.1 723.1,2276.4 723.4,2275.9 723.7,2280.6 723.9,2266.8 724.2,2278.5 724.5,2277.9 724.7,2285.7 725.0,2262.6 725.3,2274.5 725.5,2290.2 725.8,2272.5 726.1,2272.4 726.3,2287.8 726.6,2292.9 726.8,2276.5 727.1,2270.9 727.4,2271.8 727.6,2273.3 727.9,2270.3 728.2,2270.6 728.4,2277.5 728.7,2276.7 729.0,2279.8 729.2,2276.8 729.5,2268.2 729.8,2281.9 730.0,2278.6 730.3,2272.8 730.6,2275.1 730.8,2279.4 731.1,2277.7 731.3,2276.3 731.6,2282.7 731.9,2284.9 732.1,2275.3 732.4,2277.4 732.7,2269.8 732.9,2276.5 733.2,2281.2 733.5,2284.0 733.7,2279.1 734.0,2277.4 734.3,2273.0 734.5,2279.7 734.8,2270.4 735.1,2279.2 735.3,2278.5 735.6,2271.9 735.8,2280.8 736.1,2277.0 736.4,2282.9 736.6,2275.2 736.9,2282.2 737.2,2290.0 737.4,2280.1 737.7,2284.6 738.0,2274.3 738.2,2276.5 738.5,2265.4 738.8,2278.0 739.0,2271.0 739.3,2280.0 739.5,2264.4 739.8,2273.1 740.1,2280.0 740.3,2282.3 740.6,2267.5 740.9,2276.5 741.1,2298.2 741.4,2285.4 741.7,2280.8 741.9,2259.7 742.2,2273.1 742.5,2283.6 742.7,2281.6 743.0,2283.2 743.3,2287.0 743.5,2280.7 743.8,2286.3 744.0,2267.0 744.3,2298.5 744.6,2278.0 744.8,2275.5 745.1,2291.3 745.4,2284.8 745.6,2287.5 745.9,2275.8 746.2,2282.5 746.4,2285.7 746.7,2272.1 747.0,2279.0 747.2,2278.8 747.5,2278.5 747.8,2275.5 748.0,2271.4 748.3,2283.9 748.5,2282.6 748.8,2289.4 749.1,2280.4 749.3,2275.9 749.6,2270.2 749.9,2281.6 750.1,2278.7 750.4,2296.0 750.7,2298.1 750.9,2292.8 751.2,2309.2 751.5,2270.8 751.7,2279.5 752.0,2274.6 752.3,2291.9 752.5,2282.2 752.8,2278.3 753.0,2281.3 753.3,2290.8 753.6,2274.4 753.8,2285.1 754.1,2271.6 754.4,2280.0 754.6,2276.6 754.9,2284.0 755.2,2282.8 755.4,2290.7 755.7,2286.9 756.0,2277.2 756.2,2271.8 756.5,2275.7 756.7,2278.6 757.0,2280.1 757.3,2276.2 757.5,2290.1 757.8,2289.0 758.1,2279.9 758.3,2278.3 758.6,2280.3 758.9,2281.7 759.1,2281.9 759.4,2269.9 759.7,2278.9 759.9,2268.0 760.2,2282.5 760.5,2287.4 760.7,2274.2 761.0,2283.6 761.2,2277.7 761.5,2277.1 761.8,2297.3 762.0,2289.2 762.3,2286.1 762.6,2279.2 762.8,2285.6 763.1,2281.1 763.4,2286.0 763.6,2275.7 763.9,2282.1 764.2,2279.6 764.4,2271.9 764.7,2321.0 765.0,2288.9 765.2,2276.7 765.5,2271.5 765.7,2277.2 766.0,2276.4 766.3,2278.2 766.5,2271.3 766.8,2276.5 767.1,2283.4 767.3,2286.1 767.6,2267.7 767.9,2282.9 768.1,2275.4 768.4,2275.0 768.7,2280.6 768.9,2277.8 769.2,2288.5 769.5,2288.5 769.7,2280.8 770.0,2278.2 770.2,2297.0 770.5,2297.6 770.8,2286.2 771.0,2282.0 771.3,2291.1 771.6,2294.5 771.8,2279.2 772.1,2297.3 772.4,2282.1 772.6,2291.8 772.9,2279.4 773.2,2283.9 773.4,2279.9 773.7,2283.7 773.9,2291.4 774.2,2276.5 774.5,2281.2 774.7,2287.8 775.0,2279.9 775.3,2299.5 775.5,2272.1 775.8,2303.5 776.1,2278.5 776.3,2291.3 776.6,2296.3 776.9,2287.9 777.1,2272.6 777.4,2281.1 777.7,2284.3 777.9,2288.2 778.2,2291.5 778.4,2292.7 778.7,2295.4 779.0,2276.3 779.2,2291.7 779.5,2270.1 779.8,2285.1 780.0,2275.5 780.3,2269.8 780.6,2291.2 780.8,2283.7 781.1,2291.8 781.4,2271.4 781.6,2274.4 781.9,2283.3 782.2,2278.8 782.4,2284.6 782.7,2279.1 782.9,2281.4 783.2,2275.0 783.5,2294.4 783.7,2281.6 784.0,2274.8 784.3,2289.6 784.5,2288.1 784.8,2286.0 785.1,2286.0 785.3,2281.1 785.6,2283.2 785.9,2266.6 786.1,2271.9 786.4,2274.5 786.7,2286.6 786.9,2294.2 787.2,2283.1 787.4,2282.3 787.7,2293.5 788.0,2281.5 788.2,2289.7 788.5,2287.9 788.8,2273.8 789.0,2287.0 789.3,2286.2 789.6,2275.3 789.8,2276.2 790.1,2274.3 790.4,2295.6 790.6,2301.6 790.9,2290.3 791.1,2297.3 791.4,2273.8 791.7,2296.0 791.9,2300.6 792.2,2297.8 792.5,2277.1 792.7,2293.5 793.0,2283.8 793.3,2293.5 793.5,2279.6 793.8,2284.9 794.1,2280.2 794.3,2288.7 794.6,2284.0 794.9,2293.9 795.1,2291.6 795.4,2288.3 795.6,2284.6 795.9,2282.5 796.2,2285.0 796.4,2291.1 796.7,2286.0 797.0,2287.4 797.2,2284.7 797.5,2284.4 797.8,2279.6 798.0,2269.7 798.3,2289.7 798.6,2289.7 798.8,2277.2 799.1,2300.7 799.4,2275.6 799.6,2293.3 799.9,2287.2 800.1,2287.8 800.4,2294.5 800.7,2292.7 800.9,2285.4 801.2,2276.6 801.5,2275.3 801.7,2286.8 802.0,2298.2 802.3,2292.5 802.5,2285.0 802.8,2288.0 803.1,2291.0 803.3,2299.5 803.6,2279.1 803.9,2291.3 804.1,2287.7 804.4,2279.2 804.6,2277.1 804.9,2295.9 805.2,2288.2 805.4,2283.7 805.7,2286.3 806.0,2293.6 806.2,2286.3 806.5,2298.8 806.8,2283.4 807.0,2279.1 807.3,2284.6 807.6,2277.8 807.8,2282.7 808.1,2295.7 808.3,2299.7 808.6,2290.9 808.9,2306.6 809.1,2278.2 809.4,2277.4 809.7,2288.8 809.9,2287.1 810.2,2280.9 810.5,2282.0 810.7,2298.7 811.0,2294.0 811.3,2286.2 811.5,2287.7 811.8,2296.4 812.1,2288.8 812.3,2287.8 812.6,2272.8 812.8,2271.9 813.1,2270.0 813.4,2267.2 813.6,2285.8 813.9,2288.6 814.2,2278.7 814.4,2289.6 814.7,2289.6 815.0,2285.3 815.2,2273.7 815.5,2298.0 815.8,2297.4 816.0,2281.2 816.3,2302.1 816.6,2286.4 816.8,2279.5 817.1,2282.6 817.3,2270.6 817.6,2292.2 817.9,2272.8 818.1,2295.5 818.4,2288.7 818.7,2274.5 818.9,2290.8 819.2,2271.8 819.5,2287.4 819.7,2290.1 820.0,2286.7 820.3,2276.8 820.5,2285.2 820.8,2284.6 821.1,2286.6 821.3,2298.5 821.6,2300.2 821.8,2299.3 822.1,2280.9 822.4,2280.0 822.6,2286.4 822.9,2289.8 823.2,2269.1 823.4,2281.1 823.7,2301.1 824.0,2275.9 824.2,2280.1 824.5,2280.4 824.8,2290.3 825.0,2285.7 825.3,2283.5 825.5,2273.7 825.8,2291.3 826.1,2286.2 826.3,2280.7 826.6,2286.4 826.9,2292.7 827.1,2274.0 827.4,2273.4 827.7,2277.8 827.9,2279.0 828.2,2261.0 828.5,2281.2 828.7,2295.4 829.0,2283.5 829.3,2294.6 829.5,2262.5 829.8,2285.2 830.0,2297.6 830.3,2299.1 830.6,2282.0 830.8,2279.3 831.1,2289.2 831.4,2276.1 831.6,2283.0 831.9,2272.3 832.2,2286.6 832.4,2286.0 832.7,2299.2 833.0,2288.8 833.2,2280.4 833.5,2285.0 833.8,2275.2 834.0,2286.0 834.3,2283.9 834.5,2289.0 834.8,2293.1 835.1,2269.2 835.3,2288.0 835.6,2291.3 835.9,2275.5 836.1,2300.5 836.4,2279.2 836.7,2304.8 836.9,2291.2 837.2,2292.5 837.5,2286.8 837.7,2292.6 838.0,2276.1 838.3,2277.8 838.5,2268.5 838.8,2288.2 839.0,2278.1 839.3,2289.5 839.6,2288.0 839.8,2272.6 840.1,2288.4 840.4,2284.7 840.6,2283.9 840.9,2285.7 841.2,2281.6 841.4,2281.6 841.7,2289.2 842.0,2273.2 842.2,2271.2 842.5,2274.2 842.7,2287.3 843.0,2276.6 843.3,2292.9 843.5,2255.1 843.8,2272.2 844.1,2273.6 844.3,2278.2 844.6,2285.2 844.9,2273.4 845.1,2266.7 845.4,2279.1 845.7,2283.2 845.9,2253.5 846.2,2274.4 846.5,2271.4 846.7,2262.7 847.0,2264.0 847.2,2268.0 847.5,2265.1 847.8,2262.1 848.0,2255.0 848.3,2263.3 848.6,2256.0 848.8,2259.7 849.1,2254.4 849.4,2258.4 849.6,2261.0 849.9,2257.1 850.2,2259.1 850.4,2246.1 850.7,2257.3 851.0,2256.2 851.2,2250.7 851.5,2253.8 851.7,2238.1 852.0,2256.5 852.3,2254.3 852.5,2243.6 852.8,2262.1 853.1,2256.0 853.3,2263.0 853.6,2261.0 853.9,2267.0 854.1,2265.7 854.4,2264.5 854.7,2270.9 854.9,2274.5 855.2,2254.6 855.5,2271.4 855.7,2268.2 856.0,2265.7 856.2,2283.7 856.5,2282.3 856.8,2269.0 857.0,2269.2 857.3,2284.1 857.6,2274.3 857.8,2277.3 858.1,2265.8 858.4,2280.1 858.6,2290.2 858.9,2278.8 859.2,2282.0 859.4,2296.7 859.7,2290.7 859.9,2295.4 860.2,2289.8 860.5,2294.7 860.7,2272.9 861.0,2279.8 861.3,2273.6 861.5,2304.4 861.8,2288.7 862.1,2286.7 862.3,2282.0 862.6,2280.2 862.9,2266.2 863.1,2306.8 863.4,2288.4 863.7,2289.9 863.9,2278.3 864.2,2289.4 864.4,2293.1 864.7,2289.6 865.0,2295.5 865.2,2283.9 865.5,2293.6 865.8,2298.4 866.0,2295.9 866.3,2294.6 866.6,2290.8 866.8,2283.7 867.1,2296.5 867.4,2288.9 867.6,2284.5 867.9,2298.7 868.2,2279.3 868.4,2288.1 868.7,2299.3 868.9,2300.8 869.2,2290.0 869.5,2293.8 869.7,2297.9 870.0,2292.9 870.3,2287.2 870.5,2297.4 870.8,2295.2 871.1,2294.8 871.3,2303.4 871.6,2296.7 871.9,2290.5 872.1,2295.7 872.4,2310.7 872.7,2288.6 872.9,2292.5 873.2,2288.1 873.4,2297.8 873.7,2284.4 874.0,2298.8 874.2,2301.5 874.5,2288.7 874.8,2288.2 875.0,2282.9 875.3,2295.8 875.6,2286.1 875.8,2290.4 876.1,2292.2 876.4,2290.0 876.6,2302.9 876.9,2309.4 877.1,2278.0 877.4,2289.2 877.7,2298.3 877.9,2287.3 878.2,2291.7 878.5,2298.1 878.7,2308.2 879.0,2306.4 879.3,2294.1 879.5,2297.7 879.8,2293.6 880.1,2295.3 880.3,2286.8 880.6,2281.8 880.9,2293.8 881.1,2305.3 881.4,2303.5 881.6,2281.2 881.9,2295.5 882.2,2291.9 882.4,2299.7 882.7,2288.0 883.0,2305.1 883.2,2295.7 883.5,2302.4 883.8,2305.0 884.0,2281.0 884.3,2295.8 884.6,2310.5 884.8,2297.9 885.1,2306.6 885.4,2301.4 885.6,2293.6 885.9,2300.3 886.1,2306.9 886.4,2309.0 886.7,2310.4 886.9,2288.6 887.2,2305.2 887.5,2286.4 887.7,2297.1 888.0,2296.4 888.3,2303.6 888.5,2301.0 888.8,2309.0 889.1,2293.1 889.3,2305.6 889.6,2301.8 889.9,2298.5 890.1,2288.2 890.4,2310.9 890.6,2301.3 890.9,2305.3 891.2,2298.3 891.4,2296.5 891.7,2302.0 892.0,2302.7 892.2,2304.6 892.5,2315.0 892.8,2293.5 893.0,2316.0 893.3,2273.5 893.6,2307.1 893.8,2291.9 894.1,2316.1 894.3,2291.3 894.6,2308.1 894.9,2290.5 895.1,2289.3 895.4,2305.9 895.7,2306.5 895.9,2293.1 896.2,2319.7 896.5,2296.4 896.7,2312.6 897.0,2290.5 897.3,2290.9 897.5,2300.0 897.8,2290.6 898.1,2303.2 898.3,2280.9 898.6,2300.9 898.8,2294.5 899.1,2291.1 899.4,2301.2 899.6,2297.5 899.9,2295.6 900.2,2306.4 900.4,2302.0 900.7,2302.8 901.0,2311.0 901.2,2298.9 901.5,2306.8 901.8,2296.0 902.0,2304.8 902.3,2304.2 902.6,2295.0 902.8,2286.7 903.1,2288.7 903.3,2291.6 903.6,2304.5 903.9,2298.6 904.1,2297.2 904.4,2303.9 904.7,2306.1 904.9,2311.8 905.2,2294.7 905.5,2304.6 905.7,2306.0 906.0,2291.7 906.3,2301.0 906.5,2292.1 906.8,2298.1 907.1,2303.6 907.3,2285.4 907.6,2292.5 907.8,2293.1 908.1,2300.9 908.4,2293.8 908.6,2303.3 908.9,2292.8 909.2,2295.7 909.4,2305.4 909.7,2302.9 910.0,2301.5 910.2,2299.9 910.5,2308.9 910.8,2312.1 911.0,2297.1 911.3,2294.1 911.5,2291.4 911.8,2315.3 912.1,2292.7 912.3,2289.0 912.6,2302.7 912.9,2309.5 913.1,2289.8 913.4,2299.4 913.7,2288.1 913.9,2294.5 914.2,2314.5 914.5,2302.0 914.7,2298.3 915.0,2301.2 915.3,2306.4 915.5,2299.7 915.8,2290.4 916.0,2290.5 916.3,2318.0 916.6,2294.1 916.8,2311.0 917.1,2294.5 917.4,2312.0 917.6,2306.8 917.9,2298.9 918.2,2318.1 918.4,2292.7 918.7,2298.8 919.0,2293.4 919.2,2294.1 919.5,2297.7 919.8,2292.6 920.0,2298.1 920.3,2314.6 920.5,2285.9 920.8,2290.1 921.1,2292.7 921.3,2297.0 921.6,2309.7 921.9,2307.2 922.1,2305.2 922.4,2302.8 922.7,2321.8 922.9,2291.3 923.2,2291.1 923.5,2300.9 923.7,2302.9 924.0,2299.1 924.3,2293.9 924.5,2289.9 924.8,2298.8 925.0,2295.1 925.3,2297.1 925.6,2291.9 925.8,2312.8 926.1,2305.2 926.4,2317.3 926.6,2296.8 926.9,2301.8 927.2,2299.2 927.4,2301.5 927.7,2299.1 928.0,2300.0 928.2,2284.3 928.5,2299.1 928.7,2307.4 929.0,2284.6 929.3,2298.4 929.5,2306.4 929.8,2312.5 930.1,2300.8 930.3,2305.5 930.6,2316.7 930.9,2312.8 931.1,2297.6 931.4,2296.3 931.7,2310.4 931.9,2303.5 932.2,2296.9 932.5,2299.6 932.7,2304.4 933.0,2299.9 933.2,2299.5 933.5,2299.6 933.8,2288.8 934.0,2316.8 934.3,2312.3 934.6,2314.9 934.8,2300.6 935.1,2302.9 935.4,2306.8 935.6,2308.9 935.9,2285.9 936.2,2304.9 936.4,2293.2 936.7,2301.2 937.0,2296.1 937.2,2316.7 937.5,2306.6 937.7,2301.7 938.0,2314.0 938.3,2301.3 938.5,2295.6 938.8,2300.3 939.1,2298.8 939.3,2302.4 939.6,2309.3 939.9,2301.0 940.1,2301.4 940.4,2310.8 940.7,2304.5 940.9,2310.3 941.2,2364.0 941.5,2290.8 941.7,2292.3 942.0,2287.7 942.2,2312.0 942.5,2305.7 942.8,2298.0 943.0,2293.5 943.3,2305.3 943.6,2301.0 943.8,2305.0 944.1,2294.9 944.4,2292.6 944.6,2315.9 944.9,2293.9 945.2,2302.0 945.4,2313.9 945.7,2286.3 946.0,2308.4 946.2,2302.9 946.5,2301.0 946.7,2304.7 947.0,2292.0 947.3,2283.0 947.5,2318.8 947.8,2299.9 948.1,2310.1 948.3,2312.0 948.6,2304.9 948.9,2306.4 949.1,2308.6 949.4,2316.1 949.7,2306.7 949.9,2313.4 950.2,2299.9 950.4,2298.8 950.7,2303.2 951.0,2306.0 951.2,2307.2 951.5,2319.4 951.8,2309.8 952.0,2303.1 952.3,2319.8 952.6,2305.4 952.8,2305.7 953.1,2306.8 953.4,2299.7 953.6,2293.1 953.9,2303.7 954.2,2299.9 954.4,2295.1 954.7,2303.7 954.9,2300.9 955.2,2297.5 955.5,2287.2 955.7,2301.2 956.0,2318.0 956.3,2310.4 956.5,2312.1 956.8,2302.5 957.1,2311.9 957.3,2296.9 957.6,2298.7 957.9,2307.2 958.1,2290.3 958.4,2303.2 958.7,2305.4 958.9,2317.4 959.2,2296.7 959.4,2306.4 959.7,2297.1 960.0,2298.0 960.2,2279.3 960.5,2294.6 960.8,2312.8 961.0,2307.3 961.3,2304.2 961.6,2324.3 961.8,2307.6 962.1,2292.1 962.4,2301.1 962.6,2302.4 962.9,2316.9 963.2,2295.0 963.4,2306.6 963.7,2311.4 963.9,2295.9 964.2,2303.7 964.5,2285.4 964.7,2303.8 965.0,2283.7 965.3,2299.6 965.5,2318.0 965.8,2306.5 966.1,2303.4 966.3,2304.3 966.6,2321.8 966.9,2307.8 967.1,2312.1 967.4,2299.2 967.6,2299.2 967.9,2293.9 968.2,2301.5 968.4,2296.9 968.7,2311.6 969.0,2308.6 969.2,2302.0 969.5,2298.3 969.8,2277.8 970.0,2297.9 970.3,2305.7 970.6,2308.8 970.8,2276.1 971.1,2282.1 971.4,2304.5 971.6,2294.1 971.9,2301.2 972.1,2298.9 972.4,2356.4 972.7,2286.9 972.9,2298.1 973.2,2311.3 973.5,2304.9 973.7,2295.9 974.0,2307.1 974.3,2305.6 974.5,2295.4 974.8,2309.2 975.1,2309.0 975.3,2302.0 975.6,2311.4 975.9,2292.9 976.1,2309.8 976.4,2301.5 976.6,2294.9 976.9,2297.9 977.2,2325.6 977.4,2298.3 977.7,2300.1 978.0,2297.4 978.2,2296.2 978.5,2311.6 978.8,2322.5 979.0,2314.9 979.3,2307.6 979.6,2309.8 979.8,2300.2 980.1,2298.8 980.4,2292.9 980.6,2315.8 980.9,2300.2 981.1,2296.9 981.4,2297.6 981.7,2304.9 981.9,2298.4 982.2,2303.4 982.5,2304.7 982.7,2314.9 983.0,2292.3 983.3,2305.8 983.5,2297.1 983.8,2299.5 984.1,2317.4 984.3,2308.7 984.6,2299.8 984.8,2307.5 985.1,2303.0 985.4,2313.0 985.6,2299.0 985.9,2307.5 986.2,2301.4 986.4,2303.3 986.7,2301.9 987.0,2297.8 987.2,2304.2 987.5,2311.8 987.8,2297.9 988.0,2299.8 988.3,2306.5 988.6,2296.6 988.8,2310.9 989.1,2309.4 989.3,2283.1 989.6,2297.5 989.9,2293.8 990.1,2310.5 990.4,2311.5 990.7,2292.7 990.9,2297.2 991.2,2302.5 991.5,2300.0 991.7,2309.5 992.0,2311.8 992.3,2308.4 992.5,2312.8 992.8,2311.5 993.1,2302.6 993.3,2299.4 993.6,2296.8 993.8,2310.4 994.1,2311.1 994.4,2312.2 994.6,2300.4 994.9,2299.8 995.2,2305.6 995.4,2314.2 995.7,2306.4 996.0,2305.2 996.2,2296.0 996.5,2307.2 996.8,2308.0 997.0,2294.9 997.3,2318.7 997.6,2295.2 997.8,2311.4 998.1,2301.5 998.3,2304.7 998.6,2296.4 998.9,2298.3 999.1,2309.4 999.4,2301.6 999.7,2300.3 999.9,2311.1 1000.2,2309.5 1000.5,2304.7 1000.7,2305.3 1001.0,2318.4 1001.3,2301.8 1001.5,2306.7 1001.8,2307.0 1002.0,2291.0 1002.3,2286.3 1002.6,2304.4 1002.8,2310.9 1003.1,2305.1 1003.4,2298.6 1003.6,2297.5 1003.9,2310.4 1004.2,2300.7 1004.4,2289.1 1004.7,2309.3 1005.0,2305.4 1005.2,2306.6 1005.5,2312.4 1005.8,2314.9 1006.0,2308.2 1006.3,2301.8 1006.5,2284.7 1006.8,2305.9 1007.1,2302.0 1007.3,2314.9 1007.6,2314.5 1007.9,2307.5 1008.1,2315.3 1008.4,2302.6 1008.7,2302.9 1008.9,2295.8 1009.2,2300.5 1009.5,2305.1 1009.7,2312.6 1010.0,2296.8 1010.3,2343.8 1010.5,2324.4 1010.8,2291.4 1011.0,2301.0 1011.3,2303.5 1011.6,2312.1 1011.8,2320.8 1012.1,2314.1 1012.4,2303.0 1012.6,2295.8 1012.9,2302.8 1013.2,2302.9 1013.4,2305.4 1013.7,2295.4 1014.0,2316.7 1014.2,2296.9 1014.5,2309.3 1014.8,2305.2 1015.0,2293.6 1015.3,2303.8 1015.5,2303.4 1015.8,2301.6 1016.1,2310.4 1016.3,2299.1 1016.6,2325.7 1016.9,2313.2 1017.1,2295.2 1017.4,2281.3 1017.7,2314.3 1017.9,2305.5 1018.2,2304.0 1018.5,2294.6 1018.7,2290.5 1019.0,2286.8 1019.2,2325.9 1019.5,2317.4 1019.8,2298.4 1020.0,2319.8 1020.3,2286.8 1020.6,2309.4 1020.8,2309.5 1021.1,2295.6 1021.4,2299.2 1021.6,2294.0 1021.9,2303.6 1022.2,2314.9 1022.4,2312.0 1022.7,2306.9 1023.0,2313.1 1023.2,2287.4 1023.5,2321.1 1023.7,2302.8 1024.0,2291.5 1024.3,2299.8 1024.5,2321.3 1024.8,2304.0 1025.1,2306.0 1025.3,2282.4 1025.6,2314.4 1025.9,2318.6 1026.1,2294.0 1026.4,2316.3 1026.7,2314.4 1026.9,2312.2 1027.2,2317.7 1027.5,2290.8 1027.7,2309.6 1028.0,2294.2 1028.2,2324.3 1028.5,2294.5 1028.8,2292.2 1029.0,2313.2 1029.3,2308.7 1029.6,2303.4 1029.8,2304.4 1030.1,2308.7 1030.4,2318.6 1030.6,2296.8 1030.9,2298.2 1031.2,2298.0 1031.4,2302.5 1031.7,2303.3 1032.0,2291.6 1032.2,2305.9 1032.5,2291.8 1032.7,2300.4 1033.0,2300.9 1033.3,2301.0 1033.5,2316.4 1033.8,2317.8 1034.1,2312.8 1034.3,2317.4 1034.6,2300.6 1034.9,2315.8 1035.1,2302.7 1035.4,2305.2 1035.7,2305.6 1035.9,2291.2 1036.2,2297.7 1036.4,2301.7 1036.7,2306.4 1037.0,2302.0 1037.2,2295.5 1037.5,2292.7 1037.8,2303.2 1038.0,2292.5 1038.3,2292.6 1038.6,2302.2 1038.8,2304.7 1039.1,2295.7 1039.4,2287.1 1039.6,2305.7 1039.9,2310.5 1040.2,2299.5 1040.4,2299.8 1040.7,2282.2 1040.9,2311.3 1041.2,2293.3 1041.5,2309.6 1041.7,2297.8 1042.0,2301.9 1042.3,2301.4 1042.5,2286.9 1042.8,2327.9 1043.1,2289.0 1043.3,2304.1 1043.6,2295.8 1043.9,2301.0 1044.1,2315.5 1044.4,2286.3 1044.7,2301.8 1044.9,2307.6 1045.2,2304.2 1045.4,2306.7 1045.7,2296.4 1046.0,2288.3 1046.2,2291.3 1046.5,2299.4 1046.8,2309.8 1047.0,2303.9 1047.3,2317.6 1047.6,2304.0 1047.8,2304.9 1048.1,2304.9 1048.4,2287.5 1048.6,2308.3 1048.9,2293.1 1049.2,2299.7 1049.4,2324.3 1049.7,2292.0 1049.9,2304.2 1050.2,2305.8 1050.5,2304.3 1050.7,2303.2 1051.0,2298.1 1051.3,2321.1 1051.5,2285.0 1051.8,2293.8 1052.1,2316.5 1052.3,2308.1 1052.6,2296.2 1052.9,2295.0 1053.1,2300.9 1053.4,2327.0 1053.6,2307.6 1053.9,2293.8 1054.2,2305.3 1054.4,2297.5 1054.7,2316.7 1055.0,2305.8 1055.2,2314.5 1055.5,2304.6 1055.8,2321.6 1056.0,2306.8 1056.3,2305.7 1056.6,2293.9 1056.8,2299.3 1057.1,2306.6 1057.4,2298.6 1057.6,2325.6 1057.9,2303.0 1058.1,2296.2 1058.4,2312.0 1058.7,2298.3 1058.9,2306.8 1059.2,2302.3 1059.5,2296.6 1059.7,2315.7 1060.0,2303.9 1060.3,2313.0 1060.5,2300.0 1060.8,2290.2 1061.1,2291.8 1061.3,2298.4 1061.6,2301.4 1061.9,2303.6 1062.1,2307.8 1062.4,2291.8 1062.6,2305.2 1062.9,2292.1 1063.2,2296.9 1063.4,2326.3 1063.7,2314.6 1064.0,2299.8 1064.2,2319.3 1064.5,2316.0 1064.8,2311.2 1065.0,2316.4 1065.3,2300.8 1065.6,2302.0 1065.8,2295.3 1066.1,2308.4 1066.4,2291.7 1066.6,2298.5 1066.9,2307.3 1067.1,2298.5 1067.4,2306.2 1067.7,2319.6 1067.9,2294.2 1068.2,2315.8 1068.5,2296.9 1068.7,2294.6 1069.0,2305.1 1069.3,2312.4 1069.5,2296.6 1069.8,2296.5 1070.1,2299.1 1070.3,2296.6 1070.6,2304.8 1070.8,2296.6 1071.1,2300.8 1071.4,2306.3 1071.6,2299.3 1071.9,2313.6 1072.2,2296.9 1072.4,2296.1 1072.7,2321.6 1073.0,2316.8 1073.2,2303.7 1073.5,2310.6 1073.8,2306.2 1074.0,2298.4 1074.3,2309.2 1074.6,2305.8 1074.8,2314.7 1075.1,2286.3 1075.3,2310.4 1075.6,2304.6 1075.9,2296.8 1076.1,2299.2 1076.4,2299.4 1076.7,2291.0 1076.9,2297.9 1077.2,2310.2 1077.5,2289.3 1077.7,2299.7 1078.0,2281.6 1078.3,2297.8 1078.5,2306.6 1078.8,2302.6 1079.1,2303.5 1079.3,2292.9 1079.6,2308.3 1079.8,2294.8 1080.1,2311.3 1080.4,2305.4 1080.6,2299.6 1080.9,2316.6 1081.2,2299.5 1081.4,2337.9 1081.7,2304.0 1082.0,2303.1 1082.2,2312.2 1082.5,2307.1 1082.8,2303.0 1083.0,2302.0 1083.3,2305.0 1083.6,2303.8 1083.8,2300.1 1084.1,2293.6 1084.3,2279.5 1084.6,2302.0 1084.9,2300.9 1085.1,2314.1 1085.4,2307.2 1085.7,2313.5 1085.9,2318.9 1086.2,2302.1 1086.5,2295.4 1086.7,2310.5 1087.0,2297.6 1087.3,2300.7 1087.5,2316.2 1087.8,2308.1 1088.0,2313.1 1088.3,2290.8 1088.6,2303.4 1088.8,2313.3 1089.1,2291.4 1089.4,2304.9 1089.6,2306.7 1089.9,2282.0 1090.2,2317.6 1090.4,2296.6 1090.7,2301.8 1091.0,2318.4 1091.2,2286.7 1091.5,2307.3 1091.8,2299.0 1092.0,2303.5 1092.3,2295.6 1092.5,2315.5 1092.8,2292.8 1093.1,2306.4 1093.3,2308.0 1093.6,2302.2 1093.9,2300.6 1094.1,2300.6 1094.4,2312.4 1094.7,2307.2 1094.9,2302.3 1095.2,2293.1 1095.5,2304.5 1095.7,2307.9 1096.0,2302.8 1096.3,2316.2 1096.5,2285.6 1096.8,2325.8 1097.0,2301.4 1097.3,2292.6 1097.6,2287.1 1097.8,2311.0 1098.1,2308.3 1098.4,2301.1 1098.6,2302.6 1098.9,2304.6 1099.2,2299.2 1099.4,2313.6 1099.7,2308.8 1100.0,2302.0 1100.2,2288.1 1100.5,2315.6 1100.8,2298.7 1101.0,2293.6 1101.3,2314.9 1101.5,2307.6 1101.8,2284.6 1102.1,2287.8 1102.3,2299.4 1102.6,2291.5 1102.9,2301.6 1103.1,2327.0 1103.4,2330.3 1103.7,2302.7 1103.9,2310.4 1104.2,2311.2 1104.5,2302.0 1104.7,2289.5 1105.0,2312.9 1105.2,2301.4 1105.5,2307.2 1105.8,2309.5 1106.0,2295.6 1106.3,2318.5 1106.6,2303.7 1106.8,2305.1 1107.1,2299.1 1107.4,2309.6 1107.6,2312.3 1107.9,2297.9 1108.2,2308.4 1108.4,2299.1 1108.7,2291.7 1109.0,2300.0 1109.2,2308.6 1109.5,2308.1 1109.7,2312.9 1110.0,2296.8 1110.3,2300.2 1110.5,2303.7 1110.8,2308.7 1111.1,2302.0 1111.3,2294.3 1111.6,2288.8 1111.9,2313.8 1112.1,2312.8 1112.4,2296.9 1112.7,2316.6 1112.9,2302.4 1113.2,2307.2 1113.5,2314.6 1113.7,2298.6 1114.0,2295.9 1114.2,2287.0 1114.5,2305.8 1114.8,2307.2 1115.0,2310.9 1115.3,2308.6 1115.6,2304.0 1115.8,2313.6 1116.1,2293.6 1116.4,2306.6 1116.6,2307.7 1116.9,2301.9 1117.2,2318.9 1117.4,2307.0 1117.7,2315.4 1118.0,2311.3 1118.2,2301.3 1118.5,2320.8 1118.7,2313.2 1119.0,2303.1 1119.3,2301.9 1119.5,2293.4 1119.8,2301.6 1120.1,2300.8 1120.3,2304.9 1120.6,2299.1 1120.9,2308.2 1121.1,2302.2 1121.4,2288.4 1121.7,2298.3 1121.9,2294.6 1122.2,2291.2 1122.4,2300.6 1122.7,2311.4 1123.0,2292.6 1123.2,2284.4 1123.5,2301.4 1123.8,2330.5 1124.0,2297.5 1124.3,2305.4 1124.6,2299.1 1124.8,2310.8 1125.1,2316.2 1125.4,2301.4 1125.6,2313.8 1125.9,2292.9 1126.2,2311.1 1126.4,2291.2 1126.7,2304.6 1126.9,2297.2 1127.2,2305.1 1127.5,2295.2 1127.7,2326.1 1128.0,2303.9 1128.3,2297.6 1128.5,2295.4 1128.8,2291.9 1129.1,2299.2 1129.3,2306.6 1129.6,2301.6 1129.9,2304.3 1130.1,2314.6 1130.4,2299.9 1130.7,2305.6 1130.9,2310.5 1131.2,2307.6 1131.4,2306.4 1131.7,2303.6 1132.0,2320.7 1132.2,2302.1 1132.5,2299.2 1132.8,2308.3 1133.0,2317.9 1133.3,2315.9 1133.6,2303.1 1133.8,2310.5 1134.1,2307.4 1134.4,2303.5 1134.6,2308.8 1134.9,2308.5 1135.2,2304.1 1135.4,2318.7 1135.7,2299.3 1135.9,2315.7 1136.2,2322.2 1136.5,2322.3 1136.7,2305.3 1137.0,2301.0 1137.3,2287.9 1137.5,2302.2 1137.8,2325.3 1138.1,2288.2 1138.3,2288.4 1138.6,2310.5 1138.9,2308.4 1139.1,2285.8 1139.4,2302.2 1139.6,2305.8 1139.9,2288.6 1140.2,2311.6 1140.4,2290.4 1140.7,2313.1 1141.0,2304.5 1141.2,2296.2 1141.5,2287.7 1141.8,2299.5 1142.0,2301.7 1142.3,2301.4 1142.6,2297.1 1142.8,2300.7 1143.1,2310.7 1143.4,2294.2 1143.6,2300.6 1143.9,2306.8 1144.1,2302.4 1144.4,2310.6 1144.7,2317.0 1144.9,2299.3 1145.2,2304.5 1145.5,2275.3 1145.7,2299.3 1146.0,2308.7 1146.3,2292.1 1146.5,2314.8 1146.8,2285.0 1147.1,2315.0 1147.3,2297.7 1147.6,2293.0 1147.9,2298.0 1148.1,2300.0 1148.4,2293.0 1148.6,2289.6 1148.9,2297.6 1149.2,2311.2 1149.4,2306.2 1149.7,2314.9 1150.0,2296.7 1150.2,2299.1 1150.5,2299.3 1150.8,2303.7 1151.0,2306.6 1151.3,2318.7 1151.6,2308.9 1151.8,2303.9 1152.1,2314.9 1152.4,2295.0 1152.6,2290.9 1152.9,2308.5 1153.1,2303.8 1153.4,2303.4 1153.7,2313.2 1153.9,2299.2 1154.2,2301.2 1154.5,2305.8 1154.7,2308.3 1155.0,2311.4 1155.3,2303.3 1155.5,2304.7 1155.8,2279.7 1156.1,2313.6 1156.3,2287.6 1156.6,2301.8 1156.8,2325.7 1157.1,2299.1 1157.4,2287.4 1157.6,2317.1 1157.9,2297.0 1158.2,2300.6 1158.4,2300.6 1158.7,2308.9 1159.0,2309.3 1159.2,2300.9 1159.5,2312.4 1159.8,2293.7 1160.0,2308.3 1160.3,2296.3 1160.6,2308.5 1160.8,2295.8 1161.1,2297.9 1161.3,2315.7 1161.6,2291.6 1161.9,2291.1 1162.1,2307.3 1162.4,2299.5 1162.7,2298.0 1162.9,2300.6 1163.2,2321.7 1163.5,2292.3 1163.7,2299.4 1164.0,2303.5 1164.3,2293.2 1164.5,2301.6 1164.8,2306.4 1165.1,2293.4 1165.3,2312.3 1165.6,2291.3 1165.8,2300.5 1166.1,2305.0 1166.4,2331.4 1166.6,2285.6 1166.9,2304.5 1167.2,2325.3 1167.4,2296.3 1167.7,2311.9 1168.0,2303.8 1168.2,2288.5 1168.5,2305.5 1168.8,2293.5 1169.0,2302.6 1169.3,2287.8 1169.6,2308.5 1169.8,2279.3 1170.1,2300.2 1170.3,2313.7 1170.6,2306.5 1170.9,2298.5 1171.1,2299.5 1171.4,2297.7 1171.7,2326.9 1171.9,2301.2 1172.2,2301.5 1172.5,2294.8 1172.7,2297.2 1173.0,2307.3 1173.3,2296.0 1173.5,2294.1 1173.8,2296.5 1174.0,2298.3 1174.3,2303.2 1174.6,2297.1 1174.8,2299.8 1175.1,2294.6 1175.4,2313.1 1175.6,2302.4 1175.9,2298.6 1176.2,2304.3 1176.4,2301.1 1176.7,2287.0 1177.0,2299.9 1177.2,2316.9 1177.5,2306.2 1177.8,2312.5 1178.0,2295.3 1178.3,2287.7 1178.5,2295.0 1178.8,2314.1 1179.1,2292.2 1179.3,2294.1 1179.6,2311.8 1179.9,2299.1 1180.1,2299.6 1180.4,2305.0 1180.7,2302.3 1180.9,2298.6 1181.2,2303.8 1181.5,2294.8 1181.7,2301.0 1182.0,2307.5 1182.3,2291.5 1182.5,2299.4 1182.8,2290.7 1183.0,2308.3 1183.3,2307.1 1183.6,2310.1 1183.8,2311.0 1184.1,2310.9 1184.4,2308.0 1184.6,2294.1 1184.9,2310.0 1185.2,2292.8 1185.4,2323.0 1185.7,2304.0 1186.0,2306.8 1186.2,2289.8 1186.5,2311.3 1186.8,2312.2 1187.0,2286.7 1187.3,2296.1 1187.5,2296.9 1187.8,2295.2 1188.1,2314.1 1188.3,2321.4 1188.6,2291.3 1188.9,2311.0 1189.1,2298.8 1189.4,2314.0 1189.7,2278.4 1189.9,2297.2 1190.2,2312.5 1190.5,2294.1 1190.7,2312.3 1191.0,2296.4 1191.2,2311.8 1191.5,2306.6 1191.8,2297.2 1192.0,2294.0 1192.3,2299.6 1192.6,2312.0 1192.8,2301.1 1193.1,2294.9 1193.4,2332.1 1193.6,2286.4 1193.9,2299.0 1194.2,2306.1 1194.4,2291.3 1194.7,2301.0 1195.0,2297.1 1195.2,2287.2 1195.5,2305.3 1195.7,2290.4 1196.0,2294.0 1196.3,2312.6 1196.5,2290.6 1196.8,2306.7 1197.1,2312.1 1197.3,2310.3 1197.6,2305.4 1197.9,2298.8 1198.1,2287.9 1198.4,2302.3 1198.7,2305.1 1198.9,2296.2 1199.2,2291.7 1199.5,2309.1 1199.7,2291.1 1200.0,2305.1 1200.2,2296.4 1200.5,2285.2 1200.8,2316.0 1201.0,2306.6 1201.3,2305.9 1201.6,2287.6 1201.8,2299.7 1202.1,2303.5 1202.4,2293.8 1202.6,2316.2 1202.9,2281.9 1203.2,2307.4 1203.4,2283.1 1203.7,2286.1 1204.0,2288.7 1204.2,2306.0 1204.5,2294.0 1204.7,2294.4 1205.0,2292.1 1205.3,2286.8 1205.5,2292.2 1205.8,2291.3 1206.1,2297.5 1206.3,2297.0 1206.6,2278.0 1206.9,2294.4 1207.1,2311.8 1207.4,2296.0 1207.7,2299.7 1207.9,2293.6 1208.2,2293.9 1208.4,2323.9 1208.7,2287.6 1209.0,2298.6 1209.2,2284.6 1209.5,2303.3 1209.8,2285.4 1210.0,2306.2 1210.3,2309.5 1210.6,2284.8 1210.8,2306.3 1211.1,2296.2 1211.4,2310.9 1211.6,2295.0 1211.9,2297.3 1212.2,2297.2 1212.4,2311.7 1212.7,2281.8 1212.9,2307.0 1213.2,2300.7 1213.5,2295.3 1213.7,2297.6 1214.0,2308.5 1214.3,2307.5 1214.5,2315.6 1214.8,2293.8 1215.1,2282.1 1215.3,2294.6 1215.6,2297.9 1215.9,2295.6 1216.1,2311.2 1216.4,2321.0 1216.7,2303.3 1216.9,2283.0 1217.2,2309.4 1217.4,2293.7 1217.7,2300.1 1218.0,2307.5 1218.2,2303.1 1218.5,2299.0 1218.8,2302.3 1219.0,2306.7 1219.3,2305.5 1219.6,2319.0 1219.8,2271.7 1220.1,2292.3 1220.4,2294.2 1220.6,2307.3 1220.9,2301.7 1221.2,2307.6 1221.4,2286.3 1221.7,2297.6 1221.9,2305.6 1222.2,2299.1 1222.5,2295.9 1222.7,2302.1 1223.0,2315.0 1223.3,2279.9 1223.5,2314.4 1223.8,2302.2 1224.1,2291.6 1224.3,2313.4 1224.6,2299.9 1224.9,2310.8 1225.1,2319.9 1225.4,2308.6 1225.6,2291.1 1225.9,2302.5 1226.2,2306.0 1226.4,2298.8 1226.7,2305.5 1227.0,2294.0 1227.2,2309.4 1227.5,2294.8 1227.8,2292.9 1228.0,2298.4 1228.3,2299.0 1228.6,2291.7 1228.8,2306.9 1229.1,2298.4 1229.4,2305.1 1229.6,2285.6 1229.9,2287.2 1230.1,2297.0 1230.4,2290.2 1230.7,2298.3 1230.9,2304.7 1231.2,2309.9 1231.5,2313.2 1231.7,2306.8 1232.0,2292.9 1232.3,2304.6 1232.5,2294.6 1232.8,2304.5 1233.1,2289.6 1233.3,2312.0 1233.6,2303.3 1233.9,2296.8 1234.1,2286.8 1234.4,2302.1 1234.6,2294.6 1234.9,2301.8 1235.2,2292.8 1235.4,2294.4 1235.7,2305.4 1236.0,2313.2 1236.2,2287.7 1236.5,2297.6 1236.8,2303.1 1237.0,2298.0 1237.3,2295.3 1237.6,2319.6 1237.8,2291.6 1238.1,2302.8 1238.4,2294.9 1238.6,2298.5 1238.9,2278.1 1239.1,2307.7 1239.4,2297.5 1239.7,2290.4 1239.9,2314.9 1240.2,2296.8 1240.5,2293.7 1240.7,2291.5 1241.0,2309.3 1241.3,2299.7 1241.5,2296.5 1241.8,2287.1 1242.1,2291.0 1242.3,2302.6 1242.6,2299.2 1242.8,2280.6 1243.1,2291.2 1243.4,2301.5 1243.6,2324.3 1243.9,2292.4 1244.2,2278.7 1244.4,2306.5 1244.7,2294.9 1245.0,2287.1 1245.2,2304.6 1245.5,2297.2 1245.8,2290.4 1246.0,2287.1 1246.3,2298.2 1246.6,2300.1 1246.8,2282.8 1247.1,2308.5 1247.3,2287.5 1247.6,2312.3 1247.9,2302.4 1248.1,2297.6 1248.4,2302.4 1248.7,2293.8 1248.9,2298.7 1249.2,2314.6 1249.5,2294.0 1249.7,2306.9 1250.0,2290.9 1250.3,2299.1 1250.5,2308.2 1250.8,2288.1 1251.1,2302.4 1251.3,2279.3 1251.6,2288.6 1251.8,2295.3 1252.1,2307.4 1252.4,2305.9 1252.6,2290.7 1252.9,2300.3 1253.2,2300.9 1253.4,2284.7 1253.7,2303.1 1254.0,2311.7 1254.2,2310.7 1254.5,2293.7 1254.8,2295.4 1255.0,2290.5 1255.3,2294.6 1255.6,2296.8 1255.8,2305.5 1256.1,2299.9 1256.3,2290.5 1256.6,2306.8 1256.9,2307.3 1257.1,2293.5 1257.4,2296.8 1257.7,2298.2 1257.9,2283.9 1258.2,2300.4 1258.5,2305.4 1258.7,2317.2 1259.0,2300.9 1259.3,2296.5 1259.5,2297.7 1259.8,2304.8 1260.0,2306.5 1260.3,2291.1 1260.6,2300.9 1260.8,2305.1 1261.1,2280.5 1261.4,2311.8 1261.6,2297.1 1261.9,2307.1 1262.2,2298.6 1262.4,2296.8 1262.7,2298.4 1263.0,2301.7 1263.2,2307.1 1263.5,2296.6 1263.8,2288.7 1264.0,2292.6 1264.3,2290.0 1264.5,2306.1 1264.8,2290.2 1265.1,2313.1 1265.3,2300.2 1265.6,2298.2 1265.9,2311.1 1266.1,2295.6 1266.4,2296.3 1266.7,2306.2 1266.9,2305.9 1267.2,2289.8 1267.5,2321.8 1267.7,2304.3 1268.0,2287.4 1268.3,2297.4 1268.5,2307.6 1268.8,2301.0 1269.0,2306.9 1269.3,2320.9 1269.6,2307.6 1269.8,2317.6 1270.1,2305.3 1270.4,2292.9 1270.6,2313.0 1270.9,2292.6 1271.2,2307.9 1271.4,2305.1 1271.7,2291.2 1272.0,2292.5 1272.2,2297.4 1272.5,2302.8 1272.8,2311.4 1273.0,2299.8 1273.3,2316.7 1273.5,2307.2 1273.8,2293.2 1274.1,2293.4 1274.3,2299.9 1274.6,2294.4 1274.9,2298.3 1275.1,2306.3 1275.4,2301.6 1275.7,2308.2 1275.9,2292.8 1276.2,2291.2 1276.5,2286.3 1276.7,2282.8 1277.0,2295.1 1277.3,2299.9 1277.5,2297.4 1277.8,2299.3 1278.0,2318.1 1278.3,2289.2 1278.6,2296.7 1278.8,2294.7 1279.1,2290.9 1279.4,2311.7 1279.6,2298.9 1279.9,2310.8 1280.2,2288.8 1280.4,2316.5 1280.7,2320.1 1281.0,2291.2 1281.2,2299.1 1281.5,2298.0 1281.7,2304.4 1282.0,2287.2 1282.3,2303.5 1282.5,2305.9 1282.8,2293.7 1283.1,2278.4 1283.3,2292.9 1283.6,2295.6 1283.9,2306.2 1284.1,2293.5 1284.4,2288.6 1284.7,2304.9 1284.9,2302.6 1285.2,2305.9 1285.5,2299.6 1285.7,2308.9 1286.0,2303.9 1286.2,2282.7 1286.5,2301.0 1286.8,2306.2 1287.0,2299.5 1287.3,2312.6 1287.6,2294.9 1287.8,2305.5 1288.1,2287.8 1288.4,2299.1 1288.6,2294.0 1288.9,2289.9 1289.2,2287.1 1289.4,2301.1 1289.7,2303.0 1290.0,2293.2 1290.2,2287.7 1290.5,2291.0 1290.7,2306.0 1291.0,2288.0 1291.3,2309.5 1291.5,2283.7 1291.8,2301.6 1292.1,2313.2 1292.3,2310.2 1292.6,2295.0 1292.9,2291.9 1293.1,2285.9 1293.4,2307.3 1293.7,2297.8 1293.9,2294.7 1294.2,2295.1 1294.5,2301.2 1294.7,2299.2 1295.0,2309.7 1295.2,2279.2 1295.5,2306.6 1295.8,2294.0 1296.0,2298.1 1296.3,2296.0 1296.6,2298.1 1296.8,2305.7 1297.1,2300.9 1297.4,2285.6 1297.6,2298.2 1297.9,2297.9 1298.2,2302.2 1298.4,2299.2 1298.7,2298.0 1298.9,2308.1 1299.2,2288.8 1299.5,2318.7 1299.7,2293.6 1300.0,2289.3 1300.3,2305.9 1300.5,2308.5 1300.8,2310.1 1301.1,2312.0 1301.3,2303.0 1301.6,2299.2 1301.9,2302.1 1302.1,2298.6 1302.4,2293.7 1302.7,2313.3 1302.9,2315.2 1303.2,2298.7 1303.4,2296.5 1303.7,2294.1 1304.0,2283.2 1304.2,2292.4 1304.5,2293.8 1304.8,2298.3 1305.0,2289.4 1305.3,2281.1 1305.6,2304.4 1305.8,2314.1 1306.1,2279.0 1306.4,2297.2 1306.6,2306.2 1306.9,2287.8 1307.2,2285.3 1307.4,2298.6 1307.7,2296.2 1307.9,2292.5 1308.2,2313.2 1308.5,2311.9 1308.7,2304.2 1309.0,2297.6 1309.3,2295.2 1309.5,2306.2 1309.8,2296.0 1310.1,2311.6 1310.3,2309.4 1310.6,2292.6 1310.9,2305.0 1311.1,2312.3 1311.4,2304.0 1311.7,2289.5 1311.9,2295.6 1312.2,2294.9 1312.4,2299.0 1312.7,2298.2 1313.0,2294.7 1313.2,2305.6 1313.5,2310.0 1313.8,2292.7 1314.0,2284.4 1314.3,2301.0 1314.6,2297.6 1314.8,2301.3 1315.1,2291.3 1315.4,2300.0 1315.6,2289.1 1315.9,2306.9 1316.1,2312.0 1316.4,2288.6 1316.7,2273.7 1316.9,2292.2 1317.2,2291.7 1317.5,2297.9 1317.7,2296.1 1318.0,2300.0 1318.3,2319.0 1318.5,2290.0 1318.8,2291.2 1319.1,2297.6 1319.3,2277.4 1319.6,2299.0 1319.9,2286.2 1320.1,2278.2 1320.4,2281.7 1320.6,2290.8 1320.9,2291.0 1321.2,2290.9 1321.4,2280.7 1321.7,2267.6 1322.0,2271.4 1322.2,2261.7 1322.5,2273.3 1322.8,2248.5 1323.0,2268.5 1323.3,2267.3 1323.6,2270.3 1323.8,2272.1 1324.1,2273.2 1324.4,2273.8 1324.6,2272.0 1324.9,2303.0 1325.1,2296.2 1325.4,2295.6 1325.7,2294.3 1325.9,2276.0 1326.2,2290.7 1326.5,2294.8 1326.7,2304.2 1327.0,2286.0 1327.3,2297.5 1327.5,2293.4 1327.8,2296.0 1328.1,2289.1 1328.3,2299.3 1328.6,2297.1 1328.9,2280.0 1329.1,2307.4 1329.4,2316.2 1329.6,2289.1 1329.9,2307.2 1330.2,2288.4 1330.4,2292.5 1330.7,2312.9 1331.0,2299.1 1331.2,2310.8 1331.5,2300.0 1331.8,2306.4 1332.0,2296.0 1332.3,2310.3 1332.6,2313.5 1332.8,2303.6 1333.1,2292.6 1333.3,2294.4 1333.6,2289.3 1333.9,2303.1 1334.1,2302.4 1334.4,2291.5 1334.7,2305.9 1334.9,2292.6 1335.2,2314.0 1335.5,2305.1 1335.7,2312.0 1336.0,2291.5 1336.3,2288.9 1336.5,2281.6 1336.8,2303.6 1337.1,2287.8 1337.3,2309.8 1337.6,2299.1 1337.8,2304.6 1338.1,2286.4 1338.4,2292.5 1338.6,2299.5 1338.9,2304.4 1339.2,2286.4 1339.4,2300.8 1339.7,2290.4 1340.0,2305.0 1340.2,2295.8 1340.5,2295.1 1340.8,2301.6 1341.0,2308.0 1341.3,2295.6 1341.6,2308.6 1341.8,2288.9 1342.1,2300.2 1342.3,2287.8 1342.6,2299.5 1342.9,2289.6 1343.1,2297.9 1343.4,2303.1 1343.7,2289.1 1343.9,2282.1 1344.2,2296.0 1344.5,2302.1 1344.7,2299.5 1345.0,2289.5 1345.3,2304.8 1345.5,2294.9 1345.8,2304.2 1346.1,2289.6 1346.3,2301.3 1346.6,2307.7 1346.8,2291.5 1347.1,2294.7 1347.4,2302.7 1347.6,2301.8 1347.9,2300.3 1348.2,2296.1 1348.4,2283.4 1348.7,2297.1 1349.0,2285.8 1349.2,2297.8 1349.5,2276.5 1349.8,2309.6 1350.0,2313.6 1350.3,2300.9 1350.5,2289.5 1350.8,2294.3 1351.1,2304.6 1351.3,2302.6 1351.6,2290.7 1351.9,2307.3 1352.1,2303.1 1352.4,2301.4 1352.7,2293.6 1352.9,2296.7 1353.2,2290.5 1353.5,2298.3 1353.7,2290.8 1354.0,2306.7 1354.3,2296.9 1354.5,2298.3 1354.8,2299.3 1355.0,2299.2 1355.3,2284.1 1355.6,2307.5 1355.8,2297.2 1356.1,2291.6 1356.4,2287.9 1356.6,2290.4 1356.9,2290.9 1357.2,2296.3 1357.4,2288.7 1357.7,2297.1 1358.0,2297.3 1358.2,2290.1 1358.5,2315.1 1358.8,2294.9 1359.0,2298.8 1359.3,2296.8 1359.5,2294.5 1359.8,2301.6 1360.1,2307.6 1360.3,2295.1 1360.6,2288.3 1360.9,2300.3 1361.1,2277.1 1361.4,2296.9 1361.7,2293.9 1361.9,2298.2 1362.2,2282.5 1362.5,2291.6 1362.7,2286.5 1363.0,2290.6 1363.3,2300.2 1363.5,2293.4 1363.8,2290.0 1364.0,2305.1 1364.3,2295.1 1364.6,2277.7 1364.8,2286.0 1365.1,2298.3 1365.4,2298.4 1365.6,2296.5 1365.9,2296.8 1366.2,2286.9 1366.4,2293.7 1366.7,2284.4 1367.0,2303.2 1367.2,2286.6 1367.5,2287.1 1367.7,2291.3 1368.0,2292.2 1368.3,2287.3 1368.5,2303.0 1368.8,2290.0 1369.1,2306.8 1369.3,2302.2 1369.6,2283.5 1369.9,2301.1 1370.1,2281.8 1370.4,2305.6 1370.7,2296.1 1370.9,2285.0 1371.2,2274.9 1371.5,2289.8 1371.7,2281.8 1372.0,2302.2 1372.2,2282.6 1372.5,2291.0 1372.8,2296.9 1373.0,2292.8 1373.3,2294.8 1373.6,2290.5 1373.8,2298.5 1374.1,2284.7 1374.4,2297.1 1374.6,2282.3 1374.9,2293.7 1375.2,2282.7 1375.4,2290.4 1375.7,2296.9 1376.0,2302.2 1376.2,2277.0 1376.5,2285.5 1376.7,2283.7 1377.0,2301.7 1377.3,2284.5 1377.5,2297.3 1377.8,2287.2 1378.1,2279.5 1378.3,2292.2 1378.6,2281.9 1378.9,2297.2 1379.1,2297.9 1379.4,2301.9 1379.7,2282.6 1379.9,2303.8 1380.2,2298.7 1380.5,2276.1 1380.7,2308.7 1381.0,2304.3 1381.2,2282.0 1381.5,2293.1 1381.8,2279.4 1382.0,2289.1 1382.3,2291.7 1382.6,2295.1 1382.8,2283.3 1383.1,2289.7 1383.4,2282.3 1383.6,2292.8 1383.9,2295.0 1384.2,2290.1 1384.4,2298.8 1384.7,2295.5 1384.9,2292.3 1385.2,2298.6 1385.5,2279.1 1385.7,2288.7 1386.0,2274.7 1386.3,2288.7 1386.5,2285.0 1386.8,2295.2 1387.1,2285.0 1387.3,2283.3 1387.6,2287.6 1387.9,2287.2 1388.1,2292.2 1388.4,2281.0 1388.7,2276.0 1388.9,2275.1 1389.2,2296.8 1389.4,2291.8 1389.7,2283.8 1390.0,2278.6 1390.2,2294.2 1390.5,2282.6 1390.8,2296.7 1391.0,2281.3 1391.3,2289.1 1391.6,2292.6 1391.8,2294.1 1392.1,2285.0 1392.4,2283.3 1392.6,2285.5 1392.9,2271.7 1393.2,2291.4 1393.4,2288.7 1393.7,2289.5 1393.9,2274.6 1394.2,2286.7 1394.5,2288.5 1394.7,2292.9 1395.0,2280.8 1395.3,2289.9 1395.5,2299.6 1395.8,2281.0 1396.1,2281.0 1396.3,2281.5 1396.6,2272.4 1396.9,2280.9 1397.1,2295.9 1397.4,2276.2 1397.7,2281.6 1397.9,2292.0 1398.2,2287.0 1398.4,2284.2 1398.7,2279.8 1399.0,2281.2 1399.2,2282.0 1399.5,2286.8 1399.8,2282.0 1400.0,2288.3 1400.3,2267.1 1400.6,2286.9 1400.8,2276.6 1401.1,2280.3 1401.4,2276.9 1401.6,2284.5 1401.9,2278.6 1402.1,2283.8 1402.4,2273.0 1402.7,2280.0 1402.9,2287.2 1403.2,2286.0 1403.5,2275.0 1403.7,2278.3 1404.0,2274.2 1404.3,2275.7 1404.5,2293.9 1404.8,2284.4 1405.1,2279.5 1405.3,2285.3 1405.6,2285.3 1405.9,2265.0 1406.1,2275.6 1406.4,2269.8 1406.6,2261.1 1406.9,2264.3 1407.2,2267.7 1407.4,2282.1 1407.7,2270.5 1408.0,2267.9 1408.2,2268.2 1408.5,2262.5 1408.8,2267.9 1409.0,2265.2 1409.3,2254.1 1409.6,2260.3 1409.8,2284.7 1410.1,2265.7 1410.4,2259.7 1410.6,2263.3 1410.9,2251.5 1411.1,2256.8 1411.4,2260.2 1411.7,2243.3 1411.9,2247.1 1412.2,2247.6 1412.5,2246.7 1412.7,2243.9 1413.0,2247.1 1413.3,2250.1 1413.5,2245.0 1413.8,2248.0 1414.1,2247.4 1414.3,2237.4 1414.6,2242.2 1414.9,2238.6 1415.1,2244.8 1415.4,2239.5 1415.6,2241.1 1415.9,2252.8 1416.2,2242.7 1416.4,2235.5 1416.7,2246.3 1417.0,2248.3 1417.2,2244.4 1417.5,2248.6 1417.8,2255.1 1418.0,2246.5 1418.3,2249.1 1418.6,2246.5 1418.8,2253.3 1419.1,2250.9 1419.3,2246.4 1419.6,2251.4 1419.9,2263.7 1420.1,2242.3 1420.4,2244.3 1420.7,2254.9 1420.9,2244.4 1421.2,2264.7 1421.5,2243.6 1421.7,2244.6 1422.0,2249.3 1422.3,2258.8 1422.5,2256.8 1422.8,2255.2 1423.1,2253.2 1423.3,2259.0 1423.6,2239.8 1423.8,2252.1 1424.1,2258.6 1424.4,2243.2 1424.6,2251.1 1424.9,2256.0 1425.2,2255.6 1425.4,2246.9 1425.7,2258.2 1426.0,2249.6 1426.2,2252.4 1426.5,2239.3 1426.8,2240.5 1427.0,2239.9 1427.3,2253.9 1427.6,2229.6 1427.8,2231.8 1428.1,2246.2 1428.3,2241.8 1428.6,2223.4 1428.9,2237.2 1429.1,2237.0 1429.4,2244.7 1429.7,2226.4 1429.9,2233.3 1430.2,2241.3 1430.5,2238.8 1430.7,2228.6 1431.0,2231.2 1431.3,2223.8 1431.5,2238.3 1431.8,2227.6 1432.1,2235.8 1432.3,2232.2 1432.6,2222.1 1432.8,2225.0 1433.1,2228.1 1433.4,2225.9 1433.6,2230.4 1433.9,2227.1 1434.2,2221.7 1434.4,2222.4 1434.7,2213.9 1435.0,2213.2 1435.2,2218.0 1435.5,2215.3 1435.8,2206.7 1436.0,2210.4 1436.3,2205.4 1436.5,2205.1 1436.8,2212.7 1437.1,2200.1 1437.3,2199.9 1437.6,2204.2 1437.9,2200.1 1438.1,2198.8 1438.4,2189.4 1438.7,2194.3 1438.9,2190.8 1439.2,2186.8 1439.5,2185.9 1439.7,2185.1 1440.0,2188.2 1440.3,2190.7 1440.5,2180.4 1440.8,2184.2 1441.0,2175.7 1441.3,2166.2 1441.6,2170.4 1441.8,2173.1 1442.1,2170.9 1442.4,2158.3 1442.6,2168.6 1442.9,2153.0 1443.2,2150.0 1443.4,2147.6 1443.7,2152.4 1444.0,2144.6 1444.2,2143.1 1444.5,2126.8 1444.8,2131.6 1445.0,2127.3 1445.3,2126.3 1445.5,2117.4 1445.8,2119.2 1446.1,2107.3 1446.3,2099.7 1446.6,2093.6 1446.9,2098.8 1447.1,2091.2 1447.4,2079.6 1447.7,2079.8 1447.9,2068.5 1448.2,2061.5 1448.5,2049.2 1448.7,2044.1 1449.0,2037.3 1449.3,2028.0 1449.5,2015.1 1449.8,2008.5 1450.0,1997.1 1450.3,1976.1 1450.6,1963.9 1450.8,1940.4 1451.1,1925.6 1451.4,1898.4 1451.6,1873.7 1451.9,1843.3 1452.2,1806.0 1452.4,1767.3 1452.7,1715.3 1453.0,1663.2 1453.2,1608.6 1453.5,1552.3 1453.7,1504.4 1454.0,1469.7 1454.3,1456.5 1454.5,1471.5 1454.8,1504.1 1455.1,1554.4 1455.3,1611.0 1455.6,1663.7 1455.9,1715.8 1456.1,1764.1 1456.4,1805.4 1456.7,1838.2 1456.9,1879.0 1457.2,1902.8 1457.5,1931.6 1457.7,1943.9 1458.0,1965.2 1458.2,1980.1 1458.5,1993.3 1458.8,2009.3 1459.0,2017.8 1459.3,2028.1 1459.6,2038.6 1459.8,2039.6 1460.1,2052.9 1460.4,2060.6 1460.6,2076.1 1460.9,2079.3 1461.2,2086.5 1461.4,2092.1 1461.7,2095.0 1462.0,2107.3 1462.2,2105.8 1462.5,2106.3 1462.7,2118.8 1463.0,2125.5 1463.3,2125.8 1463.5,2131.1 1463.8,2137.6 1464.1,2143.8 1464.3,2143.8 1464.6,2152.0 1464.9,2149.8 1465.1,2160.7 1465.4,2149.6 1465.7,2162.5 1465.9,2162.8 1466.2,2165.0 1466.5,2161.9 1466.7,2174.8 1467.0,2172.0 1467.2,2171.1 1467.5,2175.2 1467.8,2179.4 1468.0,2183.3 1468.3,2181.1 1468.6,2185.1 1468.8,2191.5 1469.1,2191.4 1469.4,2202.9 1469.6,2193.8 1469.9,2201.2 1470.2,2207.9 1470.4,2200.6 1470.7,2208.0 1470.9,2206.5 1471.2,2207.1 1471.5,2216.3 1471.7,2205.3 1472.0,2208.8 1472.3,2204.6 1472.5,2214.2 1472.8,2221.2 1473.1,2216.5 1473.3,2223.3 1473.6,2216.7 1473.9,2227.8 1474.1,2222.7 1474.4,2222.1 1474.7,2234.4 1474.9,2227.1 1475.2,2231.3 1475.4,2230.2 1475.7,2234.4 1476.0,2232.5 1476.2,2226.6 1476.5,2235.6 1476.8,2237.8 1477.0,2238.3 1477.3,2236.1 1477.6,2248.2 1477.8,2235.3 1478.1,2241.0 1478.4,2242.4 1478.6,2236.2 1478.9,2236.5 1479.2,2247.8 1479.4,2248.8 1479.7,2246.6 1479.9,2237.6 1480.2,2245.9 1480.5,2249.8 1480.7,2252.8 1481.0,2256.9 1481.3,2253.4 1481.5,2257.2 1481.8,2262.0 1482.1,2239.5 1482.3,2259.7 1482.6,2252.0 1482.9,2258.1 1483.1,2257.2 1483.4,2250.6 1483.7,2252.0 1483.9,2260.7 1484.2,2257.6 1484.4,2263.8 1484.7,2257.7 1485.0,2273.6 1485.2,2259.7 1485.5,2274.5 1485.8,2257.8 1486.0,2266.5 1486.3,2270.6 1486.6,2256.1 1486.8,2258.8 1487.1,2267.8 1487.4,2273.0 1487.6,2274.9 1487.9,2270.4 1488.1,2302.6 1488.4,2260.7 1488.7,2265.8 1488.9,2278.1 1489.2,2266.0 1489.5,2268.4 1489.7,2259.4 1490.0,2269.7 1490.3,2261.2 1490.5,2274.2 1490.8,2281.8 1491.1,2274.8 1491.3,2274.3 1491.6,2271.0 1491.9,2277.6 1492.1,2267.2 1492.4,2271.9 1492.6,2289.5 1492.9,2267.1 1493.2,2272.4 1493.4,2267.3 1493.7,2285.1 1494.0,2275.7 1494.2,2269.2 1494.5,2269.6 1494.8,2285.8 1495.0,2283.3 1495.3,2284.5 1495.6,2279.0 1495.8,2285.9 1496.1,2289.1 1496.4,2285.0 1496.6,2269.9 1496.9,2267.7 1497.1,2271.5 1497.4,2283.6 1497.7,2271.8 1497.9,2275.0 1498.2,2283.0 1498.5,2276.9 1498.7,2274.5 1499.0,2290.3 1499.3,2287.3 1499.5,2289.7 1499.8,2290.9 1500.1,2294.8 1500.3,2284.8 1500.6,2284.0 1500.9,2273.2 1501.1,2284.1 1501.4,2281.9 1501.6,2293.8 1501.9,2291.4 1502.2,2297.3 1502.4,2294.9 1502.7,2295.8 1503.0,2291.4 1503.2,2288.9 1503.5,2285.4 1503.8,2288.2 1504.0,2281.7 1504.3,2291.6 1504.6,2288.5 1504.8,2274.6 1505.1,2270.0 1505.3,2284.5 1505.6,2286.6 1505.9,2288.0 1506.1,2299.8 1506.4,2286.0 1506.7,2281.5 1506.9,2293.8 1507.2,2298.6 1507.5,2303.5 1507.7,2284.2 1508.0,2290.0 1508.3,2288.9 1508.5,2303.4 1508.8,2297.6 1509.1,2292.9 1509.3,2298.2 1509.6,2290.4 1509.8,2291.7 1510.1,2293.2 1510.4,2289.9 1510.6,2291.9 1510.9,2296.6 1511.2,2296.0 1511.4,2305.5 1511.7,2301.0 1512.0,2294.2 1512.2,2278.4 1512.5,2283.9 1512.8,2291.4 1513.0,2292.5 1513.3,2285.7 1513.6,2292.9 1513.8,2296.7 1514.1,2291.2 1514.3,2295.1 1514.6,2295.6 1514.9,2291.2 1515.1,2290.1 1515.4,2295.8 1515.7,2299.0 1515.9,2289.2 1516.2,2281.7 1516.5,2290.1 1516.7,2301.4 1517.0,2285.4 1517.3,2304.9 1517.5,2293.5 1517.8,2299.1 1518.1,2292.4 1518.3,2302.9 1518.6,2299.0 1518.8,2301.6 1519.1,2283.9 1519.4,2304.5 1519.6,2286.2 1519.9,2296.7 1520.2,2303.4 1520.4,2298.0 1520.7,2303.5 1521.0,2301.1 1521.2,2300.6 1521.5,2293.8 1521.8,2308.0 1522.0,2309.0 1522.3,2296.3 1522.5,2293.6 1522.8,2302.3 1523.1,2294.9 1523.3,2302.0 1523.6,2307.4 1523.9,2306.4 1524.1,2312.8 1524.4,2305.0 1524.7,2293.4 1524.9,2295.0 1525.2,2306.0 1525.5,2316.8 1525.7,2299.2 1526.0,2295.0 1526.3,2313.2 1526.5,2301.4 1526.8,2307.9 1527.0,2311.1 1527.3,2295.0 1527.6,2300.0 1527.8,2298.6 1528.1,2307.2 1528.4,2308.3 1528.6,2299.4 1528.9,2307.8 1529.2,2289.4 1529.4,2306.3 1529.7,2306.4 1530.0,2303.8 1530.2,2292.4 1530.5,2303.2 1530.8,2295.6 1531.0,2315.7 1531.3,2302.0 1531.5,2302.8 1531.8,2303.6 1532.1,2308.9 1532.3,2305.3 1532.6,2309.1 1532.9,2297.5 1533.1,2313.8 1533.4,2301.2 1533.7,2311.2 1533.9,2307.2 1534.2,2313.9 1534.5,2304.9 1534.7,2293.8 1535.0,2296.5 1535.3,2304.0 1535.5,2316.9 1535.8,2302.6 1536.0,2306.5 1536.3,2316.2 1536.6,2301.7 1536.8,2308.8 1537.1,2308.7 1537.4,2301.7 1537.6,2308.4 1537.9,2315.1 1538.2,2315.2 1538.4,2304.2 1538.7,2330.3 1539.0,2309.8 1539.2,2304.9 1539.5,2301.4 1539.7,2299.4 1540.0,2314.0 1540.3,2284.3 1540.5,2306.3 1540.8,2296.6 1541.1,2306.3 1541.3,2307.5 1541.6,2297.3 1541.9,2300.0 1542.1,2318.3 1542.4,2303.7 1542.7,2308.2 1542.9,2305.7 1543.2,2315.1 1543.5,2318.3 1543.7,2316.0 1544.0,2313.1 1544.2,2313.2 1544.5,2299.1 1544.8,2319.5 1545.0,2304.4 1545.3,2301.8 1545.6,2306.0 1545.8,2302.7 1546.1,2312.6 1546.4,2315.2 1546.6,2319.8 1546.9,2308.7 1547.2,2304.7 1547.4,2307.3 1547.7,2300.1 1548.0,2303.8 1548.2,2326.1 1548.5,2303.6 1548.7,2306.2 1549.0,2315.2 1549.3,2312.2 1549.5,2316.5 1549.8,2303.2 1550.1,2301.6 1550.3,2321.2 1550.6,2304.9 1550.9,2309.8 1551.1,2312.4 1551.4,2295.5 1551.7,2309.2 1551.9,2305.5 1552.2,2315.2 1552.5,2308.4 1552.7,2292.6 1553.0,2317.6 1553.2,2290.2 1553.5,2307.9 1553.8,2305.6 1554.0,2306.3 1554.3,2311.3 1554.6,2319.3 1554.8,2304.4 1555.1,2306.6 1555.4,2317.8 1555.6,2316.0 1555.9,2317.8 1556.2,2314.7 1556.4,2310.0 1556.7,2308.0 1556.9,2308.2 1557.2,2319.7 1557.5,2324.6 1557.7,2328.7 1558.0,2303.8 1558.3,2310.5 1558.5,2312.5 1558.8,2311.2 1559.1,2303.3 1559.3,2330.8 1559.6,2325.3 1559.9,2311.5 1560.1,2309.1 1560.4,2312.9 1560.7,2302.9 1560.9,2310.2 1561.2,2319.6 1561.4,2327.0 1561.7,2320.7 1562.0,2324.1 1562.2,2304.6 1562.5,2286.4 1562.8,2325.0 1563.0,2315.1 1563.3,2312.9 1563.6,2327.7 1563.8,2305.7 1564.1,2305.8 1564.4,2307.6 1564.6,2327.5 1564.9,2321.9 1565.2,2299.1 1565.4,2328.0 1565.7,2314.3 1565.9,2317.8 1566.2,2307.8 1566.5,2330.1 1566.7,2318.1 1567.0,2325.5 1567.3,2306.1 1567.5,2320.4 1567.8,2315.4 1568.1,2312.8 1568.3,2307.9 1568.6,2308.9 1568.9,2305.0 1569.1,2309.3 1569.4,2314.7 1569.7,2319.9 1569.9,2301.8 1570.2,2306.3 1570.4,2310.0 1570.7,2301.3 1571.0,2312.8 1571.2,2313.1 1571.5,2313.8 1571.8,2318.9 1572.0,2323.5 1572.3,2322.3 1572.6,2318.0 1572.8,2320.7 1573.1,2308.9 1573.4,2307.7 1573.6,2321.3 1573.9,2320.7 1574.1,2334.6 1574.4,2314.0 1574.7,2307.6 1574.9,2318.6 1575.2,2312.3 1575.5,2308.6 1575.7,2327.9 1576.0,2332.7 1576.3,2319.5 1576.5,2310.8 1576.8,2318.6 1577.1,2316.0 1577.3,2304.7 1577.6,2323.7 1577.9,2319.6 1578.1,2327.4 1578.4,2312.0 1578.6,2316.7 1578.9,2315.9 1579.2,2302.1 1579.4,2338.5 1579.7,2299.1 1580.0,2307.2 1580.2,2314.1 1580.5,2303.8 1580.8,2320.8 1581.0,2313.3 1581.3,2318.0 1581.6,2319.4 1581.8,2318.1 1582.1,2318.4 1582.4,2316.3 1582.6,2321.3 1582.9,2324.6 1583.1,2315.5 1583.4,2313.9 1583.7,2314.4 1583.9,2320.5 1584.2,2314.8 1584.5,2314.7 1584.7,2305.0 1585.0,2334.8 1585.3,2307.5 1585.5,2332.7 1585.8,2325.2 1586.1,2327.2 1586.3,2320.6 1586.6,2322.7 1586.9,2321.0 1587.1,2323.7 1587.4,2325.9 1587.6,2331.9 1587.9,2310.1 1588.2,2323.0 1588.4,2332.9 1588.7,2331.0 1589.0,2310.0 1589.2,2321.7 1589.5,2321.5 1589.8,2321.3 1590.0,2299.5 1590.3,2326.8 1590.6,2305.3 1590.8,2338.4 1591.1,2325.1 1591.4,2318.6 1591.6,2325.1 1591.9,2320.8 1592.1,2315.0 1592.4,2318.9 1592.7,2322.8 1592.9,2312.7 1593.2,2326.1 1593.5,2329.7 1593.7,2329.4 1594.0,2330.3 1594.3,2331.5 1594.5,2326.3 1594.8,2331.7 1595.1,2320.8 1595.3,2323.9 1595.6,2332.8 1595.8,2337.4 1596.1,2317.3 1596.4,2307.7 1596.6,2339.4 1596.9,2330.8 1597.2,2336.7 1597.4,2328.7 1597.7,2322.9 1598.0,2315.2 1598.2,2312.4 1598.5,2333.7 1598.8,2329.6 1599.0,2323.8 1599.3,2311.2 1599.6,2316.5 1599.8,2315.6 1600.1,2318.5 1600.3,2295.7 1600.6,2323.3 1600.9,2335.1 1601.1,2318.5 1601.4,2321.6 1601.7,2323.9 1601.9,2312.6 1602.2,2354.7 1602.5,2314.4 1602.7,2317.7 1603.0,2323.9 1603.3,2321.2 1603.5,2322.6 1603.8,2313.6 1604.1,2328.3 1604.3,2312.3 1604.6,2329.5 1604.8,2317.7 1605.1,2311.5 1605.4,2321.3 1605.6,2312.7 1605.9,2317.5 1606.2,2320.9 1606.4,2329.2 1606.7,2329.4 1607.0,2326.6 1607.2,2319.9 1607.5,2308.9 1607.8,2320.5 1608.0,2319.7 1608.3,2321.4 1608.6,2317.9 1608.8,2318.0 1609.1,2329.9 1609.3,2310.8 1609.6,2322.9 1609.9,2334.1 1610.1,2316.0 1610.4,2314.1 1610.7,2321.0 1610.9,2320.0 1611.2,2325.4 1611.5,2335.2 1611.7,2322.0 1612.0,2328.2 1612.3,2318.0 1612.5,2318.9 1612.8,2326.0 1613.0,2317.4 1613.3,2334.2 1613.6,2319.8 1613.8,2322.0 1614.1,2314.2 1614.4,2319.7 1614.6,2314.6 1614.9,2319.3 1615.2,2307.8 1615.4,2323.7 1615.7,2339.5 1616.0,2307.0 1616.2,2339.5 1616.5,2322.8 1616.8,2331.9 1617.0,2314.9 1617.3,2342.3 1617.5,2314.4 1617.8,2323.4 1618.1,2338.2 1618.3,2312.7 1618.6,2303.2 1618.9,2323.6 1619.1,2317.4 1619.4,2315.6 1619.7,2316.1 1619.9,2311.2 1620.2,2337.1 1620.5,2335.5 1620.7,2312.2 1621.0,2323.6 1621.3,2320.5 1621.5,2334.7 1621.8,2317.1 1622.0,2339.5 1622.3,2324.8 1622.6,2317.7 1622.8,2324.1 1623.1,2319.6 1623.4,2345.5 1623.6,2326.4 1623.9,2320.7 1624.2,2326.0 1624.4,2338.5 1624.7,2316.4 1625.0,2309.9 1625.2,2337.2 1625.5,2330.9 1625.8,2321.2 1626.0,2324.6 1626.3,2335.5 1626.5,2300.6 1626.8,2337.1 1627.1,2323.9 1627.3,2331.7 1627.6,2325.1 1627.9,2353.9 1628.1,2320.0 1628.4,2335.8 1628.7,2301.9 1628.9,2326.1 1629.2,2333.0 1629.5,2311.7 1629.7,2307.3 1630.0,2326.8 1630.2,2335.3 1630.5,2336.9 1630.8,2319.8 1631.0,2329.3 1631.3,2313.2 1631.6,2342.2 1631.8,2320.9 1632.1,2338.0 1632.4,2323.8 1632.6,2323.3 1632.9,2341.3 1633.2,2318.4 1633.4,2338.3 1633.7,2323.2 1634.0,2318.4 1634.2,2318.8 1634.5,2337.0 1634.7,2325.9 1635.0,2323.4 1635.3,2312.8 1635.5,2337.5 1635.8,2336.4 1636.1,2329.8 1636.3,2334.0 1636.6,2296.9 1636.9,2322.0 1637.1,2328.4 1637.4,2327.9 1637.7,2321.8 1637.9,2329.2 1638.2,2320.3 1638.5,2321.1 1638.7,2315.6 1639.0,2328.5 1639.2,2320.6 1639.5,2322.6 1639.8,2340.1 1640.0,2326.9 1640.3,2327.0 1640.6,2313.2 1640.8,2322.6 1641.1,2336.6 1641.4,2359.5 1641.6,2328.0 1641.9,2326.0 1642.2,2328.2 1642.4,2331.3 1642.7,2324.7 1643.0,2304.7 1643.2,2348.8 1643.5,2338.3 1643.7,2326.4 1644.0,2340.9 1644.3,2315.8 1644.5,2339.9 1644.8,2329.7 1645.1,2336.2 1645.3,2324.8 1645.6,2329.5 1645.9,2333.5 1646.1,2337.8 1646.4,2332.9 1646.7,2332.3 1646.9,2322.8 1647.2,2344.1 1647.4,2330.2 1647.7,2326.2 1648.0,2325.4 1648.2,2317.3 1648.5,2321.6 1648.8,2314.4 1649.0,2330.4 1649.3,2327.8 1649.6,2330.6 1649.8,2317.0 1650.1,2324.7 1650.4,2322.7 1650.6,2337.8 1650.9,2314.9 1651.2,2314.7 1651.4,2340.6 1651.7,2332.1 1651.9,2314.3 1652.2,2341.3 1652.5,2342.6 1652.7,2339.4 1653.0,2309.8 1653.3,2330.0 1653.5,2320.9 1653.8,2326.5 1654.1,2314.4 1654.3,2345.0 1654.6,2322.6 1654.9,2331.6 1655.1,2336.5 1655.4,2334.7 1655.7,2332.9 1655.9,2325.5 1656.2,2331.1 1656.4,2327.0 1656.7,2308.1 1657.0,2338.3 1657.2,2323.3 1657.5,2324.3 1657.8,2325.3 1658.0,2316.3 1658.3,2317.9 1658.6,2312.5 1658.8,2333.4 1659.1,2339.9 1659.4,2329.7 1659.6,2318.5 1659.9,2341.0 1660.2,2326.0 1660.4,2314.3 1660.7,2311.6 1660.9,2330.5 1661.2,2341.9 1661.5,2325.2 1661.7,2322.8 1662.0,2326.0 1662.3,2320.7 1662.5,2323.3 1662.8,2330.5 1663.1,2321.5 1663.3,2336.3 1663.6,2318.9 1663.9,2333.8 1664.1,2330.3 1664.4,2323.4 1664.6,2323.9 1664.9,2323.2 1665.2,2340.4 1665.4,2318.0 1665.7,2334.7 1666.0,2332.3 1666.2,2319.8 1666.5,2335.2 1666.8,2300.5 1667.0,2320.6 1667.3,2317.7 1667.6,2314.4 1667.8,2317.7 1668.1,2304.7 1668.4,2302.2 1668.6,2306.8 1668.9,2292.9 1669.1,2282.3 1669.4,2289.3 1669.7,2283.9 1669.9,2282.1 1670.2,2292.8 1670.5,2288.7 1670.7,2292.2 1671.0,2301.9 1671.3,2306.7 1671.5,2312.1 1671.8,2305.3 1672.1,2331.0 1672.3,2324.8 1672.6,2322.2 1672.9,2324.3 1673.1,2302.3 1673.4,2332.5 1673.6,2316.5 1673.9,2330.5 1674.2,2316.2 1674.4,2336.0 1674.7,2323.0 1675.0,2326.3 1675.2,2342.2 1675.5,2337.7 1675.8,2316.8 1676.0,2323.1 1676.3,2331.4 1676.6,2327.7 1676.8,2337.4 1677.1,2324.4 1677.4,2313.3 1677.6,2322.2 1677.9,2329.0 1678.1,2335.8 1678.4,2337.8 1678.7,2342.5 1678.9,2333.3 1679.2,2329.4 1679.5,2338.1 1679.7,2330.6 1680.0,2327.2 1680.3,2327.3 1680.5,2340.3 1680.8,2345.5 1681.1,2344.0 1681.3,2317.2 1681.6,2342.1 1681.8,2321.7 1682.1,2329.0 1682.4,2337.6 1682.6,2319.9 1682.9,2321.0 1683.2,2325.4 1683.4,2348.1 1683.7,2342.5 1684.0,2324.2 1684.2,2333.9 1684.5,2333.9 1684.8,2335.6 1685.0,2326.1 1685.3,2346.2 1685.6,2329.3 1685.8,2340.5 1686.1,2317.3 1686.3,2336.6 1686.6,2334.4 1686.9,2345.7 1687.1,2309.0 1687.4,2338.3 1687.7,2340.8 1687.9,2330.8 1688.2,2345.5 1688.5,2352.9 1688.7,2341.6 1689.0,2340.9 1689.3,2346.0 1689.5,2337.6 1689.8,2345.0 1690.1,2339.1 1690.3,2327.2 1690.6,2323.8 1690.8,2344.6 1691.1,2339.3 1691.4,2327.5 1691.6,2334.0 1691.9,2347.5 1692.2,2317.9 1692.4,2325.5 1692.7,2340.4 1693.0,2341.7 1693.2,2323.1 1693.5,2324.7 1693.8,2335.6 1694.0,2347.2 1694.3,2334.3 1694.6,2312.5 1694.8,2343.8 1695.1,2334.0 1695.3,2330.0 1695.6,2323.5 1695.9,2345.5 1696.1,2336.9 1696.4,2338.2 1696.7,2337.7 1696.9,2338.5 1697.2,2342.3 1697.5,2350.6 1697.7,2324.6 1698.0,2333.9 1698.3,2330.4 1698.5,2350.4 1698.8,2332.0 1699.0,2319.7 1699.3,2334.5 1699.6,2327.9 1699.8,2327.9 1700.1,2330.7 1700.4,2322.7 1700.6,2316.8 1700.9,2353.2 1701.2,2333.8 1701.4,2326.3 1701.7,2340.9 1702.0,2347.6 1702.2,2318.7 1702.5,2330.9 1702.8,2337.8 1703.0,2327.3 1703.3,2339.4 1703.5,2323.7 1703.8,2329.0 1704.1,2334.2 1704.3,2339.4 1704.6,2335.7 1704.9,2329.0 1705.1,2332.0 1705.4,2315.7 1705.7,2355.5 1705.9,2331.7 1706.2,2332.8 1706.5,2338.1 1706.7,2341.0 1707.0,2338.9 1707.3,2329.3 1707.5,2320.2 1707.8,2334.1 1708.0,2328.3 1708.3,2330.6 1708.6,2335.8 1708.8,2338.1 1709.1,2348.0 1709.4,2334.5 1709.6,2319.7 1709.9,2341.4 1710.2,2344.7 1710.4,2320.6 1710.7,2341.7 1711.0,2337.8 1711.2,2331.0 1711.5,2337.7 1711.8,2339.8 1712.0,2341.7 1712.3,2347.0 1712.5,2336.1 1712.8,2336.2 1713.1,2358.9 1713.3,2326.3 1713.6,2333.8 1713.9,2333.0 1714.1,2343.6 1714.4,2346.8 1714.7,2324.1 1714.9,2348.0 1715.2,2325.4 1715.5,2361.0 1715.7,2330.3 1716.0,2347.0 1716.2,2334.1 1716.5,2343.3 1716.8,2329.7 1717.0,2338.0 1717.3,2337.0 1717.6,2337.6 1717.8,2344.3 1718.1,2332.7 1718.4,2333.8 1718.6,2324.5 1718.9,2335.6 1719.2,2332.3 1719.4,2345.3 1719.7,2343.3 1720.0,2330.2 1720.2,2341.2 1720.5,2349.4 1720.7,2335.1 1721.0,2326.1 1721.3,2360.3 1721.5,2342.4 1721.8,2343.8 1722.1,2360.8 1722.3,2329.8 1722.6,2340.2 1722.9,2319.5 1723.1,2342.0 1723.4,2341.1 1723.7,2330.1 1723.9,2329.4 1724.2,2335.8 1724.5,2335.3 1724.7,2352.4 1725.0,2335.3 1725.2,2336.1 1725.5,2336.0 1725.8,2322.6 1726.0,2333.1 1726.3,2325.0 1726.6,2338.9 1726.8,2317.1 1727.1,2327.2 1727.4,2340.2 1727.6,2318.1 1727.9,2323.2 1728.2,2347.2 1728.4,2325.4 1728.7,2337.8 1729.0,2340.8 1729.2,2328.0 1729.5,2322.1 1729.7,2352.4 1730.0,2332.8 1730.3,2342.9 1730.5,2331.0 1730.8,2341.5 1731.1,2325.8 1731.3,2325.2 1731.6,2328.4 1731.9,2332.3 1732.1,2332.3 1732.4,2335.2 1732.7,2342.4 1732.9,2333.3 1733.2,2347.1 1733.4,2332.1 1733.7,2344.6 1734.0,2350.8 1734.2,2354.8 1734.5,2319.8 1734.8,2354.7 1735.0,2321.9 1735.3,2351.9 1735.6,2338.5 1735.8,2341.9 1736.1,2329.7 1736.4,2347.5 1736.6,2345.1 1736.9,2333.5 1737.2,2332.9 1737.4,2346.8 1737.7,2348.5 1737.9,2346.1 1738.2,2335.3 1738.5,2338.9 1738.7,2347.7 1739.0,2346.8 1739.3,2349.6 1739.5,2340.3 1739.8,2332.4" fill="none" stroke="#ff0000" stroke-width="1.8" stroke-linejoin="round" />
<rect x="152.1" y="1429.5" width="1587.7" height="1178.5" fill="none" stroke="#1e1e1e" stroke-width="3.6"/>
<line x1="152.10" y1="1473.50" x2="139.70" y2="1473.50" stroke="#1e1e1e" stroke-width="3.4" stroke-linecap="butt"/>
<line x1="152.10" y1="1563.45" x2="128.60" y2="1563.45" stroke="#1e1e1e" stroke-width="3.4" stroke-linecap="butt"/>
<line x1="152.10" y1="1653.40" x2="139.70" y2="1653.40" stroke="#1e1e1e" stroke-width="3.4" stroke-linecap="butt"/>
<line x1="152.10" y1="1743.35" x2="128.60" y2="1743.35" stroke="#1e1e1e" stroke-width="3.4" stroke-linecap="butt"/>
<line x1="152.10" y1="1833.30" x2="139.70" y2="1833.30" stroke="#1e1e1e" stroke-width="3.4" stroke-linecap="butt"/>
<line x1="152.10" y1="1923.25" x2="128.60" y2="1923.25" stroke="#1e1e1e" stroke-width="3.4" stroke-linecap="butt"/>
<line x1="152.10" y1="2013.20" x2="139.70" y2="2013.20" stroke="#1e1e1e" stroke-width="3.4" stroke-linecap="butt"/>
<line x1="152.10" y1="2103.15" x2="128.60" y2="2103.15" stroke="#1e1e1e" stroke-width="3.4" stroke-linecap="butt"/>
<line x1="152.10" y1="2193.10" x2="139.70" y2="2193.10" stroke="#1e1e1e" stroke-width="3.4" stroke-linecap="butt"/>
<line x1="152.10" y1="2283.05" x2="128.60" y2="2283.05" stroke="#1e1e1e" stroke-width="3.4" stroke-linecap="butt"/>
<line x1="152.10" y1="2373.00" x2="139.70" y2="2373.00" stroke="#1e1e1e" stroke-width="3.4" stroke-linecap="butt"/>
<line x1="152.10" y1="2462.95" x2="128.60" y2="2462.95" stroke="#1e1e1e" stroke-width="3.4" stroke-linecap="butt"/>
<line x1="152.10" y1="2552.90" x2="139.70" y2="2552.90" stroke="#1e1e1e" stroke-width="3.4" stroke-linecap="butt"/>
<line x1="152.10" y1="2608.00" x2="152.10" y2="2630.00" stroke="#1e1e1e" stroke-width="3.4" stroke-linecap="butt"/>
<line x1="218.25" y1="2608.00" x2="218.25" y2="2620.00" stroke="#1e1e1e" stroke-width="3.4" stroke-linecap="butt"/>
<line x1="284.41" y1="2608.00" x2="284.41" y2="2630.00" stroke="#1e1e1e" stroke-width="3.4" stroke-linecap="butt"/>
<line x1="350.56" y1="2608.00" x2="350.56" y2="2620.00" stroke="#1e1e1e" stroke-width="3.4" stroke-linecap="butt"/>
<line x1="416.72" y1="2608.00" x2="416.72" y2="2630.00" stroke="#1e1e1e" stroke-width="3.4" stroke-linecap="butt"/>
<line x1="482.87" y1="2608.00" x2="482.87" y2="2620.00" stroke="#1e1e1e" stroke-width="3.4" stroke-linecap="butt"/>
<line x1="549.02" y1="2608.00" x2="549.02" y2="2630.00" stroke="#1e1e1e" stroke-width="3.4" stroke-linecap="butt"/>
<line x1="615.18" y1="2608.00" x2="615.18" y2="2620.00" stroke="#1e1e1e" stroke-width="3.4" stroke-linecap="butt"/>
<line x1="681.33" y1="2608.00" x2="681.33" y2="2630.00" stroke="#1e1e1e" stroke-width="3.4" stroke-linecap="butt"/>
<line x1="747.49" y1="2608.00" x2="747.49" y2="2620.00" stroke="#1e1e1e" stroke-width="3.4" stroke-linecap="butt"/>
<line x1="813.64" y1="2608.00" x2="813.64" y2="2630.00" stroke="#1e1e1e" stroke-width="3.4" stroke-linecap="butt"/>
<line x1="879.80" y1="2608.00" x2="879.80" y2="2620.00" stroke="#1e1e1e" stroke-width="3.4" stroke-linecap="butt"/>
<line x1="945.95" y1="2608.00" x2="945.95" y2="2630.00" stroke="#1e1e1e" stroke-width="3.4" stroke-linecap="butt"/>
<line x1="1012.10" y1="2608.00" x2="1012.10" y2="2620.00" stroke="#1e1e1e" stroke-width="3.4" stroke-linecap="butt"/>
<line x1="1078.26" y1="2608.00" x2="1078.26" y2="2630.00" stroke="#1e1e1e" stroke-width="3.4" stroke-linecap="butt"/>
<line x1="1144.41" y1="2608.00" x2="1144.41" y2="2620.00" stroke="#1e1e1e" stroke-width="3.4" stroke-linecap="butt"/>
<line x1="1210.57" y1="2608.00" x2="1210.57" y2="2630.00" stroke="#1e1e1e" stroke-width="3.4" stroke-linecap="butt"/>
<line x1="1276.72" y1="2608.00" x2="1276.72" y2="2620.00" stroke="#1e1e1e" stroke-width="3.4" stroke-linecap="butt"/>
<line x1="1342.88" y1="2608.00" x2="1342.88" y2="2630.00" stroke="#1e1e1e" stroke-width="3.4" stroke-linecap="butt"/>
<line x1="1409.03" y1="2608.00" x2="1409.03" y2="2620.00" stroke="#1e1e1e" stroke-width="3.4" stroke-linecap="butt"/>
<line x1="1475.18" y1="2608.00" x2="1475.18" y2="2630.00" stroke="#1e1e1e" stroke-width="3.4" stroke-linecap="butt"/>
<line x1="1541.34" y1="2608.00" x2="1541.34" y2="2620.00" stroke="#1e1e1e" stroke-width="3.4" stroke-linecap="butt"/>
<line x1="1607.49" y1="2608.00" x2="1607.49" y2="2630.00" stroke="#1e1e1e" stroke-width="3.4" stroke-linecap="butt"/>
<line x1="1673.65" y1="2608.00" x2="1673.65" y2="2620.00" stroke="#1e1e1e" stroke-width="3.4" stroke-linecap="butt"/>
<line x1="1739.80" y1="2608.00" x2="1739.80" y2="2630.00" stroke="#1e1e1e" stroke-width="3.4" stroke-linecap="butt"/>
<text x="197.75" y="1552.81" font-family='"Liberation Serif", "Times New Roman", serif' font-weight="normal" font-size="94.85" textLength="110.10" lengthAdjust="spacingAndGlyphs" fill="#000" >(b)</text>
<text transform="translate(85.80,2288.60) rotate(-90)" x="-3.17" y="0" font-family='"Liberation Serif", "Times New Roman", serif' font-weight="normal" font-size="87.36" textLength="513.32" lengthAdjust="spacingAndGlyphs" fill="#000" >Intensity (a.u.)</text>
<text x="255.64" y="2138.40" font-family='"Liberation Sans", Arial, sans-serif' font-weight="normal" font-size="57.70" textLength="111.97" lengthAdjust="spacingAndGlyphs" fill="#d8102c" >Film</text>
<text x="225.79" y="2288.20" font-family='"Liberation Serif", "Times New Roman", serif' font-weight="normal" font-size="58.45" textLength="223.29" lengthAdjust="spacingAndGlyphs" fill="#111" >Substrate</text>
<text x="791.27" y="2162.40" font-family='"Liberation Serif", "Times New Roman", serif' font-weight="normal" font-size="88.58" textLength="545.84" lengthAdjust="spacingAndGlyphs" fill="#111" >BNT-BT (CSD)</text>
<text x="119.52" y="2690.00" font-family='"Liberation Sans", Arial, sans-serif' font-weight="normal" font-size="58.00" textLength="64.52" lengthAdjust="spacingAndGlyphs" fill="#1a1a1a" >20</text>
<text x="251.91" y="2690.00" font-family='"Liberation Sans", Arial, sans-serif' font-weight="normal" font-size="58.00" textLength="64.52" lengthAdjust="spacingAndGlyphs" fill="#1a1a1a" >25</text>
<text x="384.49" y="2690.00" font-family='"Liberation Sans", Arial, sans-serif' font-weight="normal" font-size="58.00" textLength="64.52" lengthAdjust="spacingAndGlyphs" fill="#1a1a1a" >30</text>
<text x="516.88" y="2690.00" font-family='"Liberation Sans", Arial, sans-serif' font-weight="normal" font-size="58.00" textLength="64.52" lengthAdjust="spacingAndGlyphs" fill="#1a1a1a" >35</text>
<text x="649.54" y="2690.00" font-family='"Liberation Sans", Arial, sans-serif' font-weight="normal" font-size="58.00" textLength="64.52" lengthAdjust="spacingAndGlyphs" fill="#1a1a1a" >40</text>
<text x="781.46" y="2690.00" font-family='"Liberation Sans", Arial, sans-serif' font-weight="normal" font-size="58.00" textLength="65.48" lengthAdjust="spacingAndGlyphs" fill="#1a1a1a" >45</text>
<text x="913.66" y="2690.00" font-family='"Liberation Sans", Arial, sans-serif' font-weight="normal" font-size="58.00" textLength="64.52" lengthAdjust="spacingAndGlyphs" fill="#1a1a1a" >50</text>
<text x="1045.58" y="2690.00" font-family='"Liberation Sans", Arial, sans-serif' font-weight="normal" font-size="58.00" textLength="65.48" lengthAdjust="spacingAndGlyphs" fill="#1a1a1a" >55</text>
<text x="1177.97" y="2690.00" font-family='"Liberation Sans", Arial, sans-serif' font-weight="normal" font-size="58.00" textLength="64.52" lengthAdjust="spacingAndGlyphs" fill="#1a1a1a" >60</text>
<text x="1310.36" y="2690.00" font-family='"Liberation Sans", Arial, sans-serif' font-weight="normal" font-size="58.00" textLength="64.52" lengthAdjust="spacingAndGlyphs" fill="#1a1a1a" >65</text>
<text x="1442.57" y="2690.00" font-family='"Liberation Sans", Arial, sans-serif' font-weight="normal" font-size="58.00" textLength="64.52" lengthAdjust="spacingAndGlyphs" fill="#1a1a1a" >70</text>
<text x="1574.48" y="2690.00" font-family='"Liberation Sans", Arial, sans-serif' font-weight="normal" font-size="58.00" textLength="65.48" lengthAdjust="spacingAndGlyphs" fill="#1a1a1a" >75</text>
<text x="1707.41" y="2690.00" font-family='"Liberation Sans", Arial, sans-serif' font-weight="normal" font-size="58.00" textLength="64.52" lengthAdjust="spacingAndGlyphs" fill="#1a1a1a" >80</text>
<text x="874.22" y="2817.00" font-family='"Liberation Serif", "Times New Roman", serif' font-weight="normal" font-size="84.58" textLength="140.29" lengthAdjust="spacingAndGlyphs" fill="#111" >2 θ°</text>
<rect x="759.8" y="1451.6" width="667.2" height="495.2" fill="#fff" stroke="#808080" stroke-width="3"/>
<line x1="759.80" y1="1450.60" x2="759.80" y2="1955.80" stroke="#4a4a4a" stroke-width="2.4" stroke-linecap="butt"/>
<line x1="867.8" y1="1455.6" x2="867.8" y2="1946.8" stroke="#333" stroke-width="1.6" stroke-dasharray="7 3 1.5 3"/>
<line x1="1238.3" y1="1453.6" x2="1238.3" y2="1946.8" stroke="#333" stroke-width="1.6" stroke-dasharray="7 3 1.5 3"/>
<line x1="759.80" y1="1464.40" x2="753.80" y2="1464.40" stroke="#4a4a4a" stroke-width="2.0" stroke-linecap="butt"/>
<line x1="759.80" y1="1506.82" x2="749.30" y2="1506.82" stroke="#4a4a4a" stroke-width="2.0" stroke-linecap="butt"/>
<line x1="759.80" y1="1549.24" x2="753.80" y2="1549.24" stroke="#4a4a4a" stroke-width="2.0" stroke-linecap="butt"/>
<line x1="759.80" y1="1591.66" x2="749.30" y2="1591.66" stroke="#4a4a4a" stroke-width="2.0" stroke-linecap="butt"/>
<line x1="759.80" y1="1634.08" x2="753.80" y2="1634.08" stroke="#4a4a4a" stroke-width="2.0" stroke-linecap="butt"/>
<line x1="759.80" y1="1676.50" x2="749.30" y2="1676.50" stroke="#4a4a4a" stroke-width="2.0" stroke-linecap="butt"/>
<line x1="759.80" y1="1718.92" x2="753.80" y2="1718.92" stroke="#4a4a4a" stroke-width="2.0" stroke-linecap="butt"/>
<line x1="759.80" y1="1761.34" x2="749.30" y2="1761.34" stroke="#4a4a4a" stroke-width="2.0" stroke-linecap="butt"/>
<line x1="759.80" y1="1803.76" x2="753.80" y2="1803.76" stroke="#4a4a4a" stroke-width="2.0" stroke-linecap="butt"/>
<line x1="759.80" y1="1846.18" x2="749.30" y2="1846.18" stroke="#4a4a4a" stroke-width="2.0" stroke-linecap="butt"/>
<line x1="759.80" y1="1888.60" x2="753.80" y2="1888.60" stroke="#4a4a4a" stroke-width="2.0" stroke-linecap="butt"/>
<line x1="759.80" y1="1931.02" x2="749.30" y2="1931.02" stroke="#4a4a4a" stroke-width="2.0" stroke-linecap="butt"/>
<line x1="759.40" y1="1946.80" x2="759.40" y2="1954.80" stroke="#808080" stroke-width="2.0" stroke-linecap="butt"/>
<line x1="814.15" y1="1946.80" x2="814.15" y2="1951.80" stroke="#808080" stroke-width="2.0" stroke-linecap="butt"/>
<line x1="868.90" y1="1946.80" x2="868.90" y2="1954.80" stroke="#808080" stroke-width="2.0" stroke-linecap="butt"/>
<line x1="923.65" y1="1946.80" x2="923.65" y2="1951.80" stroke="#808080" stroke-width="2.0" stroke-linecap="butt"/>
<line x1="978.40" y1="1946.80" x2="978.40" y2="1954.80" stroke="#808080" stroke-width="2.0" stroke-linecap="butt"/>
<line x1="1033.15" y1="1946.80" x2="1033.15" y2="1951.80" stroke="#808080" stroke-width="2.0" stroke-linecap="butt"/>
<line x1="1099.50" y1="1946.80" x2="1099.50" y2="1954.80" stroke="#808080" stroke-width="2.0" stroke-linecap="butt"/>
<line x1="1165.30" y1="1946.80" x2="1165.30" y2="1951.80" stroke="#808080" stroke-width="2.0" stroke-linecap="butt"/>
<line x1="1231.10" y1="1946.80" x2="1231.10" y2="1954.80" stroke="#808080" stroke-width="2.0" stroke-linecap="butt"/>
<line x1="1296.90" y1="1946.80" x2="1296.90" y2="1951.80" stroke="#808080" stroke-width="2.0" stroke-linecap="butt"/>
<line x1="1362.70" y1="1946.80" x2="1362.70" y2="1954.80" stroke="#808080" stroke-width="2.0" stroke-linecap="butt"/>
<rect x="1088" y="1937.8" width="10" height="18" fill="#fff"/>
<line x1="1084" y1="1954.8" x2="1093" y2="1938.8" stroke="#444" stroke-width="2"/>
<line x1="1092" y1="1954.8" x2="1101" y2="1938.8" stroke="#444" stroke-width="2"/>
<polyline points="760.4,1838.7 761.1,1833.6 761.8,1836.1 762.5,1840.1 763.2,1839.4 763.9,1837.4 764.6,1838.3 765.3,1838.5 766.0,1842.9 766.7,1837.4 767.4,1837.9 768.1,1839.4 768.8,1840.2 769.5,1838.9 770.2,1841.0 770.9,1839.8 771.6,1838.9 772.3,1838.9 773.0,1839.6 773.7,1839.8 774.4,1840.5 775.1,1841.8 775.8,1839.6 776.5,1841.2 777.2,1841.2 777.9,1839.2 778.6,1836.8 779.3,1840.1 780.0,1840.3 780.7,1841.8 781.4,1836.8 782.1,1840.6 782.8,1839.4 783.5,1840.1 784.2,1841.1 784.9,1839.8 785.6,1840.0 786.3,1839.5 787.0,1837.2 787.7,1839.1 788.4,1837.9 789.1,1838.8 789.8,1835.6 790.5,1838.9 791.2,1838.0 791.9,1837.3 792.6,1836.7 793.3,1838.4 794.0,1837.3 794.7,1837.6 795.4,1837.0 796.1,1835.4 796.8,1836.3 797.5,1836.7 798.2,1834.7 798.9,1835.6 799.6,1834.8 800.3,1835.9 801.0,1833.8 801.7,1833.2 802.4,1832.0 803.1,1831.7 803.8,1832.5 804.5,1832.9 805.2,1828.7 805.9,1829.7 806.6,1830.1 807.3,1829.8 808.0,1827.6 808.7,1826.7 809.4,1827.0 810.1,1827.3 810.8,1826.6 811.5,1824.7 812.2,1825.1 812.9,1823.5 813.6,1822.9 814.3,1823.6 815.0,1821.8 815.7,1821.9 816.4,1821.0 817.1,1819.0 817.8,1818.0 818.5,1818.1 819.2,1816.9 819.9,1817.8 820.6,1815.5 821.3,1814.3 822.0,1811.9 822.7,1811.7 823.4,1811.6 824.1,1808.5 824.8,1807.4 825.5,1808.1 826.2,1806.7 826.9,1804.6 827.6,1803.7 828.3,1802.1 829.0,1801.0 829.7,1800.4 830.4,1798.8 831.1,1798.4 831.8,1796.2 832.5,1793.8 833.2,1791.5 833.9,1790.3 834.6,1787.8 835.3,1785.6 836.0,1783.5 836.7,1780.8 837.4,1778.2 838.1,1776.2 838.8,1773.4 839.5,1770.8 840.2,1768.7 840.9,1765.7 841.6,1763.1 842.3,1761.6 843.0,1758.9 843.7,1756.1 844.4,1753.7 845.1,1751.1 845.8,1748.2 846.5,1745.6 847.2,1742.8 847.9,1740.6 848.6,1738.2 849.3,1735.5 850.0,1732.4 850.7,1730.1 851.4,1727.0 852.1,1724.6 852.8,1721.8 853.5,1718.1 854.2,1715.2 854.9,1712.1 855.6,1709.2 856.3,1707.0 857.0,1705.4 857.7,1703.8 858.4,1701.7 859.1,1700.4 859.8,1699.8 860.5,1698.3 861.2,1698.2 861.9,1699.0 862.6,1698.8 863.3,1699.6 864.0,1700.0 864.7,1700.5 865.4,1702.4 866.1,1703.4 866.8,1705.3 867.5,1708.6 868.2,1711.8 868.9,1715.5 869.6,1720.0 870.3,1724.0 871.0,1727.2 871.7,1729.3 872.4,1731.5 873.1,1734.2 873.8,1735.7 874.5,1737.8 875.2,1738.7 875.9,1740.5 876.6,1740.9 877.3,1742.6 878.0,1743.5 878.7,1744.7 879.4,1744.6 880.1,1745.5 880.8,1746.2 881.5,1746.9 882.2,1747.3 882.9,1747.1 883.6,1746.2 884.3,1746.2 885.0,1746.5 885.7,1746.0 886.4,1745.0 887.1,1745.1 887.8,1744.7 888.5,1744.3 889.2,1743.6 889.9,1743.2 890.6,1742.9 891.3,1742.3 892.0,1741.9 892.7,1741.2 893.4,1740.4 894.1,1739.3 894.8,1738.8 895.5,1738.2 896.2,1737.1 896.9,1736.5 897.6,1736.6 898.3,1736.6 899.0,1736.4 899.7,1737.0 900.4,1737.9 901.1,1737.2 901.8,1738.5 902.5,1739.1 903.2,1739.9 903.9,1740.8 904.6,1742.2 905.3,1743.4 906.0,1744.7 906.7,1746.7 907.4,1748.6 908.1,1749.8 908.8,1752.2 909.5,1754.8 910.2,1756.8 910.9,1759.8 911.6,1762.7 912.3,1765.8 913.0,1769.2 913.7,1771.7 914.4,1775.2 915.1,1778.1 915.8,1779.7 916.5,1782.2 917.2,1784.3 917.9,1785.7 918.6,1787.3 919.3,1789.7 920.0,1791.2 920.7,1793.3 921.4,1794.7 922.1,1796.4 922.8,1797.9 923.5,1799.7 924.2,1801.4 924.9,1802.5 925.6,1803.9 926.3,1804.7 927.0,1806.7 927.7,1807.6 928.4,1808.8 929.1,1809.3 929.8,1810.0 930.5,1811.3 931.2,1811.7 931.9,1813.0 932.6,1813.8 933.3,1814.6 934.0,1814.8 934.7,1816.8 935.4,1816.3 936.1,1817.9 936.8,1818.5 937.5,1818.0 938.2,1820.5 938.9,1820.7 939.6,1822.7 940.3,1823.4 941.0,1821.9 941.7,1821.3 942.4,1823.7 943.1,1825.1 943.8,1824.6 944.5,1827.1 945.2,1825.9 945.9,1825.4 946.6,1826.3 947.3,1827.2 948.0,1828.7 948.7,1827.1 949.4,1828.3 950.1,1829.5 950.8,1828.5 951.5,1829.4 952.2,1830.9 952.9,1830.7 953.6,1831.5 954.3,1829.8 955.0,1828.8 955.7,1829.9 956.4,1830.9 957.1,1832.7 957.8,1831.5 958.5,1831.1 959.2,1831.9 959.9,1833.5 960.6,1832.5 961.3,1835.4 962.0,1834.8 962.7,1834.5 963.4,1833.1 964.1,1837.5 964.8,1835.3 965.5,1836.6 966.2,1836.0 966.9,1834.5 967.6,1834.8 968.3,1835.0 969.0,1837.3 969.7,1836.9 970.4,1833.2 971.1,1837.4 971.8,1833.6 972.5,1835.6 973.2,1839.1 973.9,1837.0 974.6,1836.6 975.3,1832.3 976.0,1838.5 976.7,1836.9 977.4,1837.4 978.1,1835.3 978.8,1836.0 979.5,1837.8 980.2,1834.5 980.9,1839.5 981.6,1839.5 982.3,1836.4 983.0,1836.8 983.7,1838.8 984.4,1838.7 985.1,1837.3 985.8,1838.7 986.5,1837.0 987.2,1836.2 987.9,1840.6 988.6,1840.1 989.3,1837.0 990.0,1839.5 990.7,1839.9 991.4,1842.6 992.1,1842.2 992.8,1842.6 993.5,1839.4 994.2,1842.1 994.9,1838.9 995.6,1838.5 996.3,1844.5 997.0,1838.8 997.7,1843.1 998.4,1839.8 999.1,1839.7 999.8,1844.4 1000.5,1837.4 1001.2,1841.2 1001.9,1842.2 1002.6,1839.9 1003.3,1839.5 1004.0,1839.8 1004.7,1845.8 1005.4,1838.4 1006.1,1839.8 1006.8,1841.4 1007.5,1839.7 1008.2,1843.8 1008.9,1840.8 1009.6,1841.7 1010.3,1842.6 1011.0,1841.3 1011.7,1843.7 1012.4,1840.4 1013.1,1843.0 1013.8,1844.9 1014.5,1845.4 1015.2,1841.1 1015.9,1840.8 1016.6,1847.7 1017.3,1845.7 1018.0,1840.3 1018.7,1846.0 1019.4,1844.8 1020.1,1845.3 1020.8,1847.4 1021.5,1844.3 1022.2,1845.8 1022.9,1843.8 1023.6,1847.7 1024.3,1846.0 1025.0,1847.3 1025.7,1845.8 1026.4,1842.4 1027.1,1844.8 1027.8,1844.8 1028.5,1845.5 1029.2,1843.3 1029.9,1843.8 1030.6,1843.7 1031.3,1842.6 1032.0,1845.4 1032.7,1843.5 1033.4,1847.5 1034.1,1843.8 1034.8,1841.4 1035.5,1845.1 1036.2,1847.1 1036.9,1847.1 1037.6,1843.4 1038.3,1844.0 1039.0,1844.2 1039.7,1845.7 1040.4,1843.9 1041.1,1839.6 1041.8,1846.8 1042.5,1846.0 1043.2,1842.6 1043.9,1844.5 1044.6,1843.9 1045.3,1842.9 1046.0,1845.2 1046.7,1842.6 1047.4,1844.5 1048.1,1846.1 1048.8,1846.5 1049.5,1848.5 1050.2,1845.1 1050.9,1845.9 1051.6,1846.0 1052.3,1843.7 1053.0,1841.1 1053.7,1842.9 1054.4,1841.3 1055.1,1845.0 1055.8,1847.8 1056.5,1846.2 1057.2,1849.3 1057.9,1845.6 1058.6,1849.9 1059.3,1848.6 1060.0,1846.4 1060.7,1848.5 1061.4,1844.0 1062.1,1842.6 1062.8,1845.9 1063.5,1848.1 1064.2,1846.4 1064.9,1846.5 1065.6,1845.1 1066.3,1843.8 1067.0,1846.3 1067.7,1846.5 1068.4,1844.1 1069.1,1847.6 1069.8,1848.5 1070.5,1841.0 1071.2,1845.8 1071.9,1842.3 1072.6,1844.2 1073.3,1845.2 1074.0,1846.4 1074.7,1846.1 1075.4,1846.4 1076.1,1845.5 1076.8,1843.5 1077.5,1845.7 1078.2,1844.3 1078.9,1846.2 1079.6,1844.8 1080.3,1845.2 1081.0,1841.6 1081.7,1845.7 1082.4,1844.0 1083.1,1845.4 1083.8,1844.2 1084.5,1848.7 1085.2,1847.6 1085.9,1849.2 1086.6,1843.9 1087.3,1846.0 1088.0,1844.7" fill="none" stroke="#ee3b57" stroke-width="2.0" stroke-linejoin="round" />
<polyline points="760.4,1894.8 761.1,1897.2 761.8,1895.4 762.5,1900.4 763.2,1896.8 763.9,1898.3 764.6,1896.7 765.3,1897.3 766.0,1897.0 766.7,1900.0 767.4,1899.7 768.1,1898.8 768.8,1897.3 769.5,1898.4 770.2,1899.3 770.9,1897.0 771.6,1899.0 772.3,1895.7 773.0,1897.5 773.7,1897.6 774.4,1897.9 775.1,1901.0 775.8,1896.0 776.5,1898.3 777.2,1897.2 777.9,1896.2 778.6,1896.5 779.3,1895.2 780.0,1897.5 780.7,1897.4 781.4,1894.8 782.1,1896.7 782.8,1896.0 783.5,1891.8 784.2,1895.2 784.9,1894.1 785.6,1893.4 786.3,1892.8 787.0,1891.1 787.7,1892.3 788.4,1890.3 789.1,1894.2 789.8,1891.6 790.5,1893.8 791.2,1891.9 791.9,1892.4 792.6,1890.9 793.3,1890.9 794.0,1891.3 794.7,1890.3 795.4,1891.2 796.1,1888.4 796.8,1888.6 797.5,1887.4 798.2,1891.0 798.9,1890.6 799.6,1888.1 800.3,1888.1 801.0,1886.6 801.7,1886.4 802.4,1888.8 803.1,1886.1 803.8,1885.1 804.5,1884.1 805.2,1884.5 805.9,1884.1 806.6,1881.9 807.3,1881.6 808.0,1882.0 808.7,1880.5 809.4,1879.0 810.1,1879.1 810.8,1878.0 811.5,1876.8 812.2,1875.5 812.9,1875.6 813.6,1873.6 814.3,1871.8 815.0,1871.3 815.7,1871.2 816.4,1869.4 817.1,1867.8 817.8,1869.5 818.5,1865.5 819.2,1865.2 819.9,1866.4 820.6,1863.3 821.3,1862.5 822.0,1860.2 822.7,1860.7 823.4,1857.6 824.1,1859.1 824.8,1856.5 825.5,1856.3 826.2,1854.0 826.9,1852.0 827.6,1851.2 828.3,1851.6 829.0,1849.3 829.7,1847.6 830.4,1847.2 831.1,1843.8 831.8,1843.3 832.5,1842.8 833.2,1840.2 833.9,1839.6 834.6,1837.8 835.3,1837.3 836.0,1835.5 836.7,1833.9 837.4,1832.3 838.1,1830.9 838.8,1829.2 839.5,1828.0 840.2,1826.3 840.9,1825.4 841.6,1824.1 842.3,1823.1 843.0,1821.1 843.7,1819.9 844.4,1817.6 845.1,1816.2 845.8,1815.1 846.5,1813.2 847.2,1812.3 847.9,1810.8 848.6,1809.1 849.3,1807.5 850.0,1806.2 850.7,1804.7 851.4,1804.2 852.1,1802.4 852.8,1801.8 853.5,1799.8 854.2,1799.7 854.9,1797.8 855.6,1796.8 856.3,1795.9 857.0,1795.0 857.7,1794.1 858.4,1792.6 859.1,1791.3 859.8,1791.4 860.5,1790.0 861.2,1789.1 861.9,1788.6 862.6,1788.5 863.3,1787.5 864.0,1787.9 864.7,1787.5 865.4,1788.0 866.1,1787.6 866.8,1787.0 867.5,1786.1 868.2,1786.5 868.9,1786.8 869.6,1787.4 870.3,1786.6 871.0,1787.4 871.7,1787.2 872.4,1788.7 873.1,1788.3 873.8,1788.5 874.5,1789.4 875.2,1789.6 875.9,1790.6 876.6,1791.8 877.3,1792.5 878.0,1793.7 878.7,1795.8 879.4,1796.3 880.1,1797.1 880.8,1799.3 881.5,1800.1 882.2,1801.9 882.9,1802.5 883.6,1804.1 884.3,1805.9 885.0,1807.6 885.7,1808.7 886.4,1811.4 887.1,1811.6 887.8,1814.0 888.5,1815.3 889.2,1816.9 889.9,1818.6 890.6,1821.4 891.3,1821.6 892.0,1822.6 892.7,1825.5 893.4,1826.6 894.1,1828.2 894.8,1829.8 895.5,1831.8 896.2,1832.0 896.9,1833.8 897.6,1835.8 898.3,1836.8 899.0,1838.6 899.7,1839.3 900.4,1841.2 901.1,1843.4 901.8,1842.8 902.5,1846.1 903.2,1846.2 903.9,1850.1 904.6,1850.9 905.3,1852.5 906.0,1854.0 906.7,1854.0 907.4,1855.8 908.1,1856.6 908.8,1858.7 909.5,1859.5 910.2,1861.1 910.9,1861.7 911.6,1863.1 912.3,1863.7 913.0,1864.9 913.7,1865.8 914.4,1867.2 915.1,1868.6 915.8,1870.0 916.5,1869.9 917.2,1871.9 917.9,1872.0 918.6,1874.3 919.3,1874.4 920.0,1874.9 920.7,1876.3 921.4,1877.8 922.1,1878.2 922.8,1879.4 923.5,1880.0 924.2,1882.1 924.9,1882.3 925.6,1882.6 926.3,1883.5 927.0,1885.4 927.7,1885.0 928.4,1885.6 929.1,1885.5 929.8,1887.4 930.5,1887.0 931.2,1887.8 931.9,1890.1 932.6,1888.3 933.3,1890.3 934.0,1889.5 934.7,1889.0 935.4,1890.2 936.1,1890.6 936.8,1891.5 937.5,1891.6 938.2,1891.9 938.9,1892.5 939.6,1894.4 940.3,1894.4 941.0,1892.8 941.7,1894.2 942.4,1893.9 943.1,1896.4 943.8,1893.0 944.5,1896.3 945.2,1896.8 945.9,1895.4 946.6,1895.5 947.3,1897.2 948.0,1894.2 948.7,1895.9 949.4,1894.8 950.1,1898.5 950.8,1896.0 951.5,1897.5 952.2,1894.2 952.9,1897.4 953.6,1901.1 954.3,1900.0 955.0,1902.3 955.7,1893.4 956.4,1893.6 957.1,1904.2 957.8,1901.4 958.5,1897.4 959.2,1903.0 959.9,1902.4 960.6,1902.5 961.3,1903.0 962.0,1904.2 962.7,1903.9 963.4,1903.3 964.1,1904.1 964.8,1903.8 965.5,1903.6 966.2,1903.7 966.9,1903.2 967.6,1904.6 968.3,1906.2 969.0,1904.4 969.7,1904.6 970.4,1909.5 971.1,1910.0 971.8,1905.9 972.5,1904.0 973.2,1909.7 973.9,1902.3 974.6,1910.4 975.3,1909.9 976.0,1905.5 976.7,1906.6 977.4,1904.4 978.1,1907.7 978.8,1904.5 979.5,1903.8 980.2,1908.0 980.9,1905.9 981.6,1907.3 982.3,1906.9 983.0,1905.8 983.7,1908.3 984.4,1905.4 985.1,1909.1 985.8,1906.5 986.5,1911.1 987.2,1906.8 987.9,1909.8 988.6,1910.5 989.3,1907.9 990.0,1905.0 990.7,1910.2 991.4,1904.9 992.1,1909.4 992.8,1904.4 993.5,1907.3 994.2,1908.1 994.9,1907.0 995.6,1909.1 996.3,1910.1 997.0,1909.0 997.7,1909.2 998.4,1912.3 999.1,1910.7 999.8,1909.8 1000.5,1907.4 1001.2,1905.8 1001.9,1907.2 1002.6,1911.3 1003.3,1909.2 1004.0,1910.9 1004.7,1905.4 1005.4,1904.1 1006.1,1909.4 1006.8,1902.3 1007.5,1908.3 1008.2,1904.7 1008.9,1909.4 1009.6,1910.3 1010.3,1905.7 1011.0,1912.2 1011.7,1910.1 1012.4,1908.8 1013.1,1906.6 1013.8,1906.8 1014.5,1908.5 1015.2,1911.7 1015.9,1909.1 1016.6,1904.8 1017.3,1904.7 1018.0,1910.1 1018.7,1908.7 1019.4,1911.8 1020.1,1910.9 1020.8,1911.9 1021.5,1912.8 1022.2,1912.0 1022.9,1910.5 1023.6,1904.2 1024.3,1911.6 1025.0,1912.1 1025.7,1911.2 1026.4,1906.4 1027.1,1911.1 1027.8,1912.7 1028.5,1911.1 1029.2,1908.9 1029.9,1904.2 1030.6,1907.5 1031.3,1915.0 1032.0,1910.1 1032.7,1912.7 1033.4,1909.5 1034.1,1906.8 1034.8,1913.7 1035.5,1911.5 1036.2,1913.5 1036.9,1910.4 1037.6,1906.9 1038.3,1914.2 1039.0,1909.3 1039.7,1911.1 1040.4,1911.1 1041.1,1912.7 1041.8,1911.6 1042.5,1914.1 1043.2,1909.9 1043.9,1913.3 1044.6,1914.8 1045.3,1909.6 1046.0,1907.2 1046.7,1910.1 1047.4,1914.0 1048.1,1911.3 1048.8,1913.3 1049.5,1910.4 1050.2,1905.1 1050.9,1907.9 1051.6,1906.5 1052.3,1905.0 1053.0,1909.7 1053.7,1913.6 1054.4,1912.1 1055.1,1911.7 1055.8,1911.9 1056.5,1909.6 1057.2,1915.2 1057.9,1912.9 1058.6,1912.4 1059.3,1904.4 1060.0,1913.5 1060.7,1914.0 1061.4,1910.5 1062.1,1905.8 1062.8,1913.4 1063.5,1909.4 1064.2,1909.8 1064.9,1909.6 1065.6,1910.0 1066.3,1907.7 1067.0,1911.8 1067.7,1914.4 1068.4,1910.6 1069.1,1907.4 1069.8,1909.7 1070.5,1910.2 1071.2,1910.0 1071.9,1911.7 1072.6,1910.4 1073.3,1910.7 1074.0,1910.9 1074.7,1907.2 1075.4,1912.0 1076.1,1913.6 1076.8,1911.7 1077.5,1911.3 1078.2,1919.1 1078.9,1912.0 1079.6,1917.1 1080.3,1908.6 1081.0,1908.3 1081.7,1906.5 1082.4,1907.7 1083.1,1908.0 1083.8,1910.6 1084.5,1911.5 1085.2,1909.8 1085.9,1910.9 1086.6,1908.7 1087.3,1908.1 1088.0,1907.7" fill="none" stroke="#1c1c1c" stroke-width="2.0" stroke-linejoin="round" />
<polyline points="1101.4,1790.5 1102.1,1792.1 1102.8,1788.3 1103.5,1791.2 1104.2,1791.1 1104.9,1789.8 1105.6,1790.6 1106.3,1791.3 1107.0,1789.0 1107.7,1789.8 1108.4,1788.9 1109.1,1788.9 1109.8,1788.9 1110.5,1788.7 1111.2,1788.0 1111.9,1787.9 1112.6,1789.3 1113.3,1789.5 1114.0,1788.1 1114.7,1788.4 1115.4,1787.0 1116.1,1786.7 1116.8,1787.1 1117.5,1787.8 1118.2,1786.7 1118.9,1784.9 1119.6,1786.9 1120.3,1787.8 1121.0,1785.8 1121.7,1783.6 1122.4,1785.2 1123.1,1786.6 1123.8,1784.2 1124.5,1784.6 1125.2,1783.7 1125.9,1784.1 1126.6,1781.4 1127.3,1782.4 1128.0,1782.5 1128.7,1783.0 1129.4,1782.4 1130.1,1781.2 1130.8,1781.4 1131.5,1780.3 1132.2,1780.3 1132.9,1780.3 1133.6,1780.8 1134.3,1781.8 1135.0,1779.6 1135.7,1779.1 1136.4,1779.4 1137.1,1776.9 1137.8,1779.3 1138.5,1779.3 1139.2,1777.3 1139.9,1777.3 1140.6,1779.1 1141.3,1777.2 1142.0,1776.4 1142.7,1775.9 1143.4,1777.7 1144.1,1775.7 1144.8,1774.8 1145.5,1775.5 1146.2,1776.4 1146.9,1773.6 1147.6,1772.5 1148.3,1775.2 1149.0,1773.4 1149.7,1774.0 1150.4,1773.4 1151.1,1771.2 1151.8,1770.5 1152.5,1772.6 1153.2,1770.6 1153.9,1771.0 1154.6,1769.3 1155.3,1770.5 1156.0,1768.7 1156.7,1768.1 1157.4,1769.5 1158.1,1768.7 1158.8,1767.5 1159.5,1768.1 1160.2,1765.6 1160.9,1767.1 1161.6,1767.0 1162.3,1765.9 1163.0,1764.6 1163.7,1763.5 1164.4,1763.9 1165.1,1762.3 1165.8,1762.9 1166.5,1761.9 1167.2,1761.5 1167.9,1761.3 1168.6,1759.7 1169.3,1760.0 1170.0,1759.5 1170.7,1757.5 1171.4,1759.5 1172.1,1757.4 1172.8,1756.9 1173.5,1757.2 1174.2,1756.4 1174.9,1753.6 1175.6,1756.0 1176.3,1755.1 1177.0,1752.7 1177.7,1752.8 1178.4,1752.0 1179.1,1749.9 1179.8,1750.0 1180.5,1749.2 1181.2,1749.1 1181.9,1745.4 1182.6,1745.6 1183.3,1744.1 1184.0,1744.2 1184.7,1741.7 1185.4,1740.2 1186.1,1738.5 1186.8,1736.7 1187.5,1734.3 1188.2,1731.6 1188.9,1728.6 1189.6,1725.6 1190.3,1722.4 1191.0,1719.3 1191.7,1716.2 1192.4,1713.0 1193.1,1710.4 1193.8,1706.7 1194.5,1703.2 1195.2,1699.6 1195.9,1695.9 1196.6,1692.4 1197.3,1688.5 1198.0,1683.9 1198.7,1679.8 1199.4,1675.9 1200.1,1670.6 1200.8,1666.0 1201.5,1661.0 1202.2,1655.5 1202.9,1650.4 1203.6,1644.4 1204.3,1639.3 1205.0,1633.9 1205.7,1627.7 1206.4,1622.5 1207.1,1617.2 1207.8,1611.4 1208.5,1606.2 1209.2,1600.8 1209.9,1595.1 1210.6,1589.9 1211.3,1584.7 1212.0,1578.8 1212.7,1573.6 1213.4,1567.3 1214.1,1562.5 1214.8,1556.8 1215.5,1551.9 1216.2,1547.1 1216.9,1542.5 1217.6,1537.5 1218.3,1533.4 1219.0,1528.6 1219.7,1524.0 1220.4,1519.2 1221.1,1514.8 1221.8,1510.5 1222.5,1506.3 1223.2,1502.5 1223.9,1498.5 1224.6,1494.5 1225.3,1490.8 1226.0,1487.6 1226.7,1484.8 1227.4,1481.6 1228.1,1479.7 1228.8,1477.8 1229.5,1475.3 1230.2,1473.8 1230.9,1471.6 1231.6,1469.6 1232.3,1467.8 1233.0,1465.9 1233.7,1464.5 1234.4,1462.9 1235.1,1461.7 1235.8,1460.7 1236.5,1460.2 1237.2,1459.1 1237.9,1459.2 1238.6,1459.2 1239.3,1459.3 1240.0,1460.0 1240.7,1461.1 1241.4,1462.1 1242.1,1463.4 1242.8,1465.7 1243.5,1466.9 1244.2,1468.9 1244.9,1470.8 1245.6,1472.8 1246.3,1475.0 1247.0,1476.9 1247.7,1479.5 1248.4,1482.3 1249.1,1485.1 1249.8,1488.6 1250.5,1492.2 1251.2,1495.7 1251.9,1499.9 1252.6,1503.7 1253.3,1508.0 1254.0,1511.8 1254.7,1517.2 1255.4,1523.3 1256.1,1529.1 1256.8,1536.1 1257.5,1543.4 1258.2,1550.8 1258.9,1558.0 1259.6,1565.4 1260.3,1572.9 1261.0,1579.6 1261.7,1587.2 1262.4,1594.3 1263.1,1601.9 1263.8,1609.2 1264.5,1616.7 1265.2,1624.7 1265.9,1632.3 1266.6,1639.8 1267.3,1646.7 1268.0,1653.8 1268.7,1660.8 1269.4,1668.3 1270.1,1675.6 1270.8,1682.6 1271.5,1689.5 1272.2,1696.2 1272.9,1701.9 1273.6,1707.2 1274.3,1712.1 1275.0,1716.2 1275.7,1720.8 1276.4,1725.3 1277.1,1729.7 1277.8,1732.6 1278.5,1735.9 1279.2,1738.1 1279.9,1740.0 1280.6,1741.0 1281.3,1741.8 1282.0,1742.5 1282.7,1743.3 1283.4,1743.7 1284.1,1744.4 1284.8,1745.3 1285.5,1745.2 1286.2,1746.5 1286.9,1746.4 1287.6,1747.1 1288.3,1747.7 1289.0,1747.2 1289.7,1747.8 1290.4,1748.2 1291.1,1748.7 1291.8,1749.4 1292.5,1750.0 1293.2,1749.4 1293.9,1750.4 1294.6,1749.9 1295.3,1750.0 1296.0,1750.9 1296.7,1750.0 1297.4,1749.9 1298.1,1751.7 1298.8,1751.3 1299.5,1751.3 1300.2,1751.7 1300.9,1750.1 1301.6,1752.4 1302.3,1753.7 1303.0,1752.4 1303.7,1753.2 1304.4,1753.2 1305.1,1754.4 1305.8,1754.3 1306.5,1752.4 1307.2,1755.4 1307.9,1756.1 1308.6,1754.5 1309.3,1756.7 1310.0,1758.5 1310.7,1759.9 1311.4,1759.2 1312.1,1762.8 1312.8,1762.2 1313.5,1762.9 1314.2,1764.2 1314.9,1765.3 1315.6,1766.6 1316.3,1766.3 1317.0,1768.9 1317.7,1770.0 1318.4,1773.4 1319.1,1772.7 1319.8,1773.4 1320.5,1774.3 1321.2,1776.1 1321.9,1776.7 1322.6,1776.6 1323.3,1777.4 1324.0,1778.8 1324.7,1779.3 1325.4,1781.4 1326.1,1781.5 1326.8,1781.3 1327.5,1782.6 1328.2,1782.0 1328.9,1781.8 1329.6,1781.8 1330.3,1783.7 1331.0,1784.4 1331.7,1785.3 1332.4,1782.7 1333.1,1784.5 1333.8,1785.6 1334.5,1785.7 1335.2,1784.6 1335.9,1786.5 1336.6,1786.6 1337.3,1787.9 1338.0,1786.6 1338.7,1789.0 1339.4,1787.2 1340.1,1789.7 1340.8,1788.6 1341.5,1789.6 1342.2,1788.9 1342.9,1788.4 1343.6,1790.6 1344.3,1789.5 1345.0,1790.9 1345.7,1789.5 1346.4,1789.7 1347.1,1790.6 1347.8,1791.9 1348.5,1790.7 1349.2,1793.1 1349.9,1791.5 1350.6,1792.9 1351.3,1790.6 1352.0,1791.7 1352.7,1792.9 1353.4,1793.3 1354.1,1792.2 1354.8,1794.4 1355.5,1792.0 1356.2,1793.2 1356.9,1794.3 1357.6,1794.0 1358.3,1793.7 1359.0,1794.5 1359.7,1793.2 1360.4,1794.6 1361.1,1792.9 1361.8,1793.5 1362.5,1795.3 1363.2,1795.3 1363.9,1794.6 1364.6,1794.1 1365.3,1795.0 1366.0,1794.8 1366.7,1796.8 1367.4,1797.6 1368.1,1795.2 1368.8,1796.4 1369.5,1796.7 1370.2,1797.0 1370.9,1797.0 1371.6,1797.7 1372.3,1795.4 1373.0,1796.9 1373.7,1797.0 1374.4,1797.5 1375.1,1796.9 1375.8,1797.7 1376.5,1798.0 1377.2,1799.0 1377.9,1799.1 1378.6,1798.1 1379.3,1798.2 1380.0,1798.1 1380.7,1799.1 1381.4,1799.3 1382.1,1799.6 1382.8,1800.8 1383.5,1800.6 1384.2,1801.3 1384.9,1801.0 1385.6,1801.3 1386.3,1802.0 1387.0,1802.2 1387.7,1803.6 1388.4,1801.7 1389.1,1801.5 1389.8,1800.7 1390.5,1803.1 1391.2,1803.8 1391.9,1802.7 1392.6,1802.5 1393.3,1802.2 1394.0,1803.1 1394.7,1801.3 1395.4,1804.1 1396.1,1803.0 1396.8,1804.2 1397.5,1805.4 1398.2,1802.7 1398.9,1804.0 1399.6,1803.7 1400.3,1803.8 1401.0,1805.5 1401.7,1805.7 1402.4,1805.6 1403.1,1805.7 1403.8,1805.1 1404.5,1805.8 1405.2,1806.4 1405.9,1806.6 1406.6,1805.8 1407.3,1806.6 1408.0,1805.9 1408.7,1805.4 1409.4,1808.2 1410.1,1806.9 1410.8,1807.0 1411.5,1806.5 1412.2,1807.4 1412.9,1807.0 1413.6,1808.2 1414.3,1808.9 1415.0,1807.4 1415.7,1807.3 1416.4,1808.1 1417.1,1808.4 1417.8,1808.1 1418.5,1807.4 1419.2,1809.0 1419.9,1808.9 1420.6,1808.9 1421.3,1808.6 1422.0,1809.2 1422.7,1809.2 1423.4,1808.8 1424.1,1809.7 1424.8,1809.6 1425.5,1810.2 1426.2,1809.8" fill="none" stroke="#ee3b57" stroke-width="2.0" stroke-linejoin="round" />
<polyline points="1101.4,1835.5 1102.1,1833.3 1102.8,1834.6 1103.5,1832.8 1104.2,1835.7 1104.9,1833.9 1105.6,1834.2 1106.3,1833.2 1107.0,1833.5 1107.7,1833.3 1108.4,1832.5 1109.1,1831.1 1109.8,1831.6 1110.5,1832.5 1111.2,1832.6 1111.9,1831.4 1112.6,1830.8 1113.3,1831.2 1114.0,1830.5 1114.7,1831.3 1115.4,1828.7 1116.1,1829.3 1116.8,1831.1 1117.5,1830.1 1118.2,1832.0 1118.9,1828.6 1119.6,1830.5 1120.3,1829.3 1121.0,1830.5 1121.7,1830.1 1122.4,1827.5 1123.1,1827.6 1123.8,1827.5 1124.5,1830.1 1125.2,1828.2 1125.9,1826.3 1126.6,1825.5 1127.3,1827.3 1128.0,1826.9 1128.7,1826.0 1129.4,1826.5 1130.1,1824.4 1130.8,1825.9 1131.5,1825.9 1132.2,1825.7 1132.9,1824.5 1133.6,1825.1 1134.3,1824.3 1135.0,1822.4 1135.7,1822.1 1136.4,1824.8 1137.1,1822.9 1137.8,1824.3 1138.5,1822.7 1139.2,1823.7 1139.9,1824.3 1140.6,1824.9 1141.3,1822.4 1142.0,1824.0 1142.7,1822.6 1143.4,1819.2 1144.1,1819.6 1144.8,1822.2 1145.5,1822.6 1146.2,1821.0 1146.9,1820.9 1147.6,1820.2 1148.3,1819.9 1149.0,1821.4 1149.7,1820.0 1150.4,1819.4 1151.1,1820.2 1151.8,1818.9 1152.5,1819.5 1153.2,1818.6 1153.9,1819.1 1154.6,1818.3 1155.3,1816.8 1156.0,1818.9 1156.7,1818.4 1157.4,1817.5 1158.1,1816.8 1158.8,1818.0 1159.5,1815.9 1160.2,1816.7 1160.9,1816.5 1161.6,1816.3 1162.3,1815.3 1163.0,1814.8 1163.7,1816.4 1164.4,1813.8 1165.1,1812.7 1165.8,1812.6 1166.5,1813.6 1167.2,1812.5 1167.9,1813.5 1168.6,1813.4 1169.3,1810.6 1170.0,1810.3 1170.7,1811.1 1171.4,1811.1 1172.1,1809.5 1172.8,1809.7 1173.5,1808.1 1174.2,1809.7 1174.9,1809.7 1175.6,1808.3 1176.3,1807.9 1177.0,1807.4 1177.7,1807.3 1178.4,1806.5 1179.1,1805.5 1179.8,1805.0 1180.5,1802.4 1181.2,1802.8 1181.9,1800.8 1182.6,1800.3 1183.3,1798.6 1184.0,1797.0 1184.7,1795.5 1185.4,1793.5 1186.1,1791.3 1186.8,1790.2 1187.5,1787.4 1188.2,1785.3 1188.9,1782.9 1189.6,1780.6 1190.3,1778.0 1191.0,1775.3 1191.7,1772.1 1192.4,1768.9 1193.1,1765.1 1193.8,1761.8 1194.5,1758.0 1195.2,1753.6 1195.9,1750.2 1196.6,1746.8 1197.3,1743.6 1198.0,1740.4 1198.7,1737.2 1199.4,1733.8 1200.1,1731.0 1200.8,1727.2 1201.5,1724.2 1202.2,1720.9 1202.9,1717.9 1203.6,1714.6 1204.3,1711.3 1205.0,1708.0 1205.7,1704.5 1206.4,1701.2 1207.1,1697.3 1207.8,1693.6 1208.5,1690.0 1209.2,1686.0 1209.9,1682.2 1210.6,1678.2 1211.3,1674.0 1212.0,1670.5 1212.7,1666.6 1213.4,1663.2 1214.1,1659.6 1214.8,1656.0 1215.5,1652.5 1216.2,1649.3 1216.9,1645.7 1217.6,1642.0 1218.3,1639.2 1219.0,1636.1 1219.7,1632.7 1220.4,1629.5 1221.1,1626.2 1221.8,1623.4 1222.5,1620.7 1223.2,1618.0 1223.9,1615.0 1224.6,1612.3 1225.3,1609.7 1226.0,1606.5 1226.7,1604.0 1227.4,1601.5 1228.1,1599.3 1228.8,1597.6 1229.5,1595.7 1230.2,1594.5 1230.9,1593.7 1231.6,1592.8 1232.3,1592.0 1233.0,1591.5 1233.7,1590.8 1234.4,1589.9 1235.1,1589.2 1235.8,1588.9 1236.5,1589.0 1237.2,1589.0 1237.9,1588.9 1238.6,1589.4 1239.3,1590.0 1240.0,1590.3 1240.7,1591.1 1241.4,1591.3 1242.1,1592.6 1242.8,1593.3 1243.5,1594.3 1244.2,1595.0 1244.9,1596.4 1245.6,1597.9 1246.3,1599.6 1247.0,1601.9 1247.7,1604.2 1248.4,1606.7 1249.1,1609.6 1249.8,1612.3 1250.5,1615.2 1251.2,1618.3 1251.9,1621.4 1252.6,1625.3 1253.3,1629.4 1254.0,1633.8 1254.7,1638.7 1255.4,1643.8 1256.1,1648.5 1256.8,1653.6 1257.5,1658.4 1258.2,1663.2 1258.9,1668.1 1259.6,1673.2 1260.3,1678.4 1261.0,1683.8 1261.7,1688.9 1262.4,1694.6 1263.1,1700.5 1263.8,1706.3 1264.5,1713.4 1265.2,1721.4 1265.9,1729.1 1266.6,1736.5 1267.3,1743.8 1268.0,1749.9 1268.7,1755.7 1269.4,1762.1 1270.1,1768.1 1270.8,1773.6 1271.5,1778.7 1272.2,1781.7 1272.9,1784.2 1273.6,1785.3 1274.3,1786.7 1275.0,1788.0 1275.7,1789.4 1276.4,1790.2 1277.1,1790.8 1277.8,1791.5 1278.5,1793.1 1279.2,1793.6 1279.9,1794.5 1280.6,1794.8 1281.3,1795.2 1282.0,1795.7 1282.7,1796.4 1283.4,1796.4 1284.1,1796.9 1284.8,1797.2 1285.5,1796.8 1286.2,1797.6 1286.9,1797.5 1287.6,1797.6 1288.3,1797.7 1289.0,1797.9 1289.7,1797.8 1290.4,1798.1 1291.1,1798.0 1291.8,1798.2 1292.5,1797.9 1293.2,1798.6 1293.9,1798.5 1294.6,1797.9 1295.3,1798.3 1296.0,1798.2 1296.7,1798.6 1297.4,1799.0 1298.1,1797.3 1298.8,1798.9 1299.5,1799.5 1300.2,1799.2 1300.9,1798.8 1301.6,1799.6 1302.3,1798.4 1303.0,1798.9 1303.7,1799.0 1304.4,1798.9 1305.1,1800.5 1305.8,1801.1 1306.5,1801.9 1307.2,1803.2 1307.9,1803.0 1308.6,1804.3 1309.3,1804.2 1310.0,1805.2 1310.7,1805.7 1311.4,1808.5 1312.1,1808.9 1312.8,1808.8 1313.5,1810.2 1314.2,1810.7 1314.9,1810.9 1315.6,1814.2 1316.3,1814.5 1317.0,1816.3 1317.7,1815.7 1318.4,1816.3 1319.1,1816.5 1319.8,1817.0 1320.5,1817.7 1321.2,1818.0 1321.9,1818.9 1322.6,1819.9 1323.3,1819.8 1324.0,1822.2 1324.7,1821.0 1325.4,1822.7 1326.1,1823.6 1326.8,1822.4 1327.5,1824.2 1328.2,1824.1 1328.9,1823.3 1329.6,1824.2 1330.3,1822.6 1331.0,1824.8 1331.7,1826.0 1332.4,1825.6 1333.1,1826.4 1333.8,1826.6 1334.5,1826.9 1335.2,1827.5 1335.9,1827.6 1336.6,1828.0 1337.3,1829.1 1338.0,1830.6 1338.7,1828.7 1339.4,1829.5 1340.1,1829.5 1340.8,1829.6 1341.5,1830.6 1342.2,1830.7 1342.9,1832.0 1343.6,1832.0 1344.3,1831.0 1345.0,1830.5 1345.7,1832.1 1346.4,1832.8 1347.1,1832.8 1347.8,1832.6 1348.5,1832.7 1349.2,1832.9 1349.9,1833.0 1350.6,1833.5 1351.3,1834.0 1352.0,1833.5 1352.7,1832.9 1353.4,1834.4 1354.1,1833.8 1354.8,1834.7 1355.5,1834.4 1356.2,1833.5 1356.9,1834.9 1357.6,1835.2 1358.3,1836.0 1359.0,1836.0 1359.7,1836.0 1360.4,1836.1 1361.1,1837.0 1361.8,1835.5 1362.5,1837.7 1363.2,1837.8 1363.9,1836.9 1364.6,1836.3 1365.3,1838.2 1366.0,1837.0 1366.7,1837.6 1367.4,1837.6 1368.1,1838.0 1368.8,1837.6 1369.5,1838.5 1370.2,1838.5 1370.9,1838.2 1371.6,1839.2 1372.3,1839.2 1373.0,1838.6 1373.7,1838.8 1374.4,1839.7 1375.1,1838.3 1375.8,1839.7 1376.5,1839.8 1377.2,1838.8 1377.9,1839.7 1378.6,1841.3 1379.3,1840.9 1380.0,1839.7 1380.7,1840.4 1381.4,1840.5 1382.1,1840.4 1382.8,1840.5 1383.5,1841.1 1384.2,1841.0 1384.9,1842.7 1385.6,1843.1 1386.3,1842.0 1387.0,1841.8 1387.7,1841.0 1388.4,1841.7 1389.1,1841.9 1389.8,1842.7 1390.5,1844.0 1391.2,1842.5 1391.9,1844.1 1392.6,1843.3 1393.3,1843.5 1394.0,1843.3 1394.7,1841.5 1395.4,1843.0 1396.1,1843.6 1396.8,1844.3 1397.5,1843.4 1398.2,1843.9 1398.9,1843.5 1399.6,1844.3 1400.3,1844.0 1401.0,1845.4 1401.7,1844.2 1402.4,1844.3 1403.1,1845.1 1403.8,1846.2 1404.5,1845.5 1405.2,1845.5 1405.9,1846.2 1406.6,1845.9 1407.3,1846.6 1408.0,1846.7 1408.7,1846.3 1409.4,1845.1 1410.1,1846.8 1410.8,1847.2 1411.5,1847.7 1412.2,1846.4 1412.9,1846.4 1413.6,1847.4 1414.3,1847.3 1415.0,1847.6 1415.7,1847.2 1416.4,1847.7 1417.1,1847.8 1417.8,1846.1 1418.5,1848.9 1419.2,1847.9 1419.9,1847.0 1420.6,1847.2 1421.3,1848.5 1422.0,1847.4 1422.7,1848.5 1423.4,1848.1 1424.1,1848.8 1424.8,1848.8 1425.5,1850.7 1426.2,1849.7" fill="none" stroke="#1c1c1c" stroke-width="2.0" stroke-linejoin="round" />
<line x1="952.60" y1="1634.00" x2="872.86" y2="1688.37" stroke="#333" stroke-width="1.4" stroke-linecap="butt"/>
<polygon points="864.6,1694.0 870.9,1685.5 874.8,1691.3" fill="#333"/>
<line x1="952.60" y1="1634.00" x2="907.11" y2="1719.18" stroke="#333" stroke-width="1.4" stroke-linecap="butt"/>
<polygon points="902.4,1728.0 904.0,1717.5 910.2,1720.8" fill="#333"/>
<text x="951.57" y="1517.40" font-family='"Liberation Serif", "Times New Roman", serif' font-weight="normal" font-size="36.35" textLength="231.20" lengthAdjust="spacingAndGlyphs" fill="#262626" stroke="#262626" stroke-width="0.5">BNT-BT (CSD)</text>
<text x="914.77" y="1622.10" font-family='"Liberation Serif", "Times New Roman", serif' font-weight="normal" font-size="33.75" textLength="176.54" lengthAdjust="spacingAndGlyphs" fill="#262626" stroke="#262626" stroke-width="0.5">Peak splitting</text>
<text transform="translate(722.66,1832.00) rotate(-90)" x="-1.29" y="0" font-family='"Liberation Serif", "Times New Roman", serif' font-weight="normal" font-size="31.22" textLength="209.87" lengthAdjust="spacingAndGlyphs" fill="#262626" stroke="#262626" stroke-width="0.5">Intensity (a.u.)</text>
<text x="961.47" y="1811.60" font-family='"Liberation Sans", Arial, sans-serif' font-weight="bold" font-size="21.80" textLength="46.94" lengthAdjust="spacingAndGlyphs" fill="#ee3b57" >Film</text>
<text x="985.45" y="1888.00" font-family='"Liberation Sans", Arial, sans-serif' font-weight="bold" font-size="24.92" textLength="103.31" lengthAdjust="spacingAndGlyphs" fill="#3a3a3a" >Substrate</text>
<text x="1296.33" y="1736.40" font-family='"Liberation Sans", Arial, sans-serif' font-weight="bold" font-size="24.13" textLength="48.22" lengthAdjust="spacingAndGlyphs" fill="#ee3b57" >Film</text>
<text x="1273.35" y="1862.60" font-family='"Liberation Sans", Arial, sans-serif' font-weight="bold" font-size="23.77" textLength="103.82" lengthAdjust="spacingAndGlyphs" fill="#3a3a3a" >Substrate</text>
<text x="745.97" y="1980.00" font-family='"Liberation Sans", Arial, sans-serif' font-weight="normal" font-size="24.35" textLength="27.08" lengthAdjust="spacingAndGlyphs" fill="#505050" stroke="#505050" stroke-width="0.6">39</text>
<text x="855.26" y="1980.00" font-family='"Liberation Sans", Arial, sans-serif' font-weight="normal" font-size="24.71" textLength="27.08" lengthAdjust="spacingAndGlyphs" fill="#505050" stroke="#505050" stroke-width="0.6">40</text>
<text x="964.98" y="1980.00" font-family='"Liberation Sans", Arial, sans-serif' font-weight="normal" font-size="24.71" textLength="27.48" lengthAdjust="spacingAndGlyphs" fill="#505050" stroke="#505050" stroke-width="0.6">41</text>
<text x="1076.42" y="1980.00" font-family='"Liberation Sans", Arial, sans-serif' font-weight="normal" font-size="24.35" textLength="47.39" lengthAdjust="spacingAndGlyphs" fill="#505050" stroke="#505050" stroke-width="0.6">68.8</text>
<text x="1207.30" y="1980.00" font-family='"Liberation Sans", Arial, sans-serif' font-weight="normal" font-size="24.35" textLength="47.39" lengthAdjust="spacingAndGlyphs" fill="#505050" stroke="#505050" stroke-width="0.6">69.2</text>
<text x="1339.22" y="1980.00" font-family='"Liberation Sans", Arial, sans-serif' font-weight="normal" font-size="24.35" textLength="47.39" lengthAdjust="spacingAndGlyphs" fill="#505050" stroke="#505050" stroke-width="0.6">69.6</text>
<text x="1068.24" y="2027.40" font-family='"Liberation Serif", "Times New Roman", serif' font-weight="normal" font-size="32.93" textLength="50.58" lengthAdjust="spacingAndGlyphs" fill="#444" >2 θ°</text>
<ellipse cx="684.2" cy="2113.5" rx="57.2" ry="186" fill="none" stroke="#0000ff" stroke-width="9"/>
<path d="M619,1885 L688,1885 L688,1877 L746.5,1894 L688,1909 L688,1903 L619,1903 Z" fill="none" stroke="#0000ff" stroke-width="7.5" stroke-linejoin="round"/>
</svg></body></html>
